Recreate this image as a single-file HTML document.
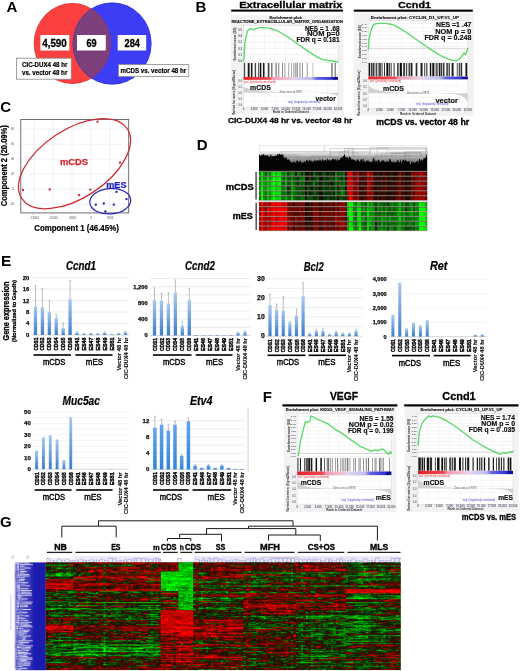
<!DOCTYPE html>
<html lang="en"><head><meta charset="utf-8"><title>Figure</title>
<style>html,body{margin:0;padding:0;background:#fff}svg{display:block}text{font-family:'Liberation Sans', sans-serif}</style></head>
<body>
<svg width="520" height="671" viewBox="0 0 520 671">
<rect width="520" height="671" fill="#fff"/>
<defs><linearGradient id="g11" x1="0" x2="1" y1="0" y2="0"><stop offset="0" stop-color="#e61e28"/><stop offset="0.27" stop-color="#f04a50"/><stop offset="0.31" stop-color="#f59ab4"/><stop offset="0.48" stop-color="#f3c0d6"/><stop offset="0.53" stop-color="#e4d6f0"/><stop offset="0.72" stop-color="#c0bcf0"/><stop offset="0.77" stop-color="#6868e6"/><stop offset="0.93" stop-color="#3232d6"/><stop offset="0.955" stop-color="#10109a"/><stop offset="1" stop-color="#10109a"/></linearGradient>
<linearGradient id="g12" x1="0" x2="1" y1="0" y2="0"><stop offset="0" stop-color="#e61e28"/><stop offset="0.27" stop-color="#f04a50"/><stop offset="0.31" stop-color="#f59ab4"/><stop offset="0.48" stop-color="#f3c0d6"/><stop offset="0.53" stop-color="#e4d6f0"/><stop offset="0.72" stop-color="#c0bcf0"/><stop offset="0.77" stop-color="#6868e6"/><stop offset="0.93" stop-color="#3232d6"/><stop offset="0.955" stop-color="#10109a"/><stop offset="1" stop-color="#10109a"/></linearGradient>
<linearGradient id="bar" x1="0" x2="0" y1="0" y2="1"><stop offset="0" stop-color="#a9c9ee"/><stop offset="1" stop-color="#3c7dcc"/></linearGradient>
<linearGradient id="bar2" x1="0" x2="0" y1="0" y2="1"><stop offset="0" stop-color="#62a5ea"/><stop offset="1" stop-color="#2f83dc"/></linearGradient>
<linearGradient id="dg" x1="0" x2="0" y1="0" y2="1"><stop offset="0" stop-color="#f4f4f4"/><stop offset="0.3" stop-color="#cfcfcf"/><stop offset="1" stop-color="#6a6a6a"/></linearGradient>
<linearGradient id="g21" x1="0" x2="1" y1="0" y2="0"><stop offset="0" stop-color="#e61e28"/><stop offset="0.27" stop-color="#f04a50"/><stop offset="0.31" stop-color="#f59ab4"/><stop offset="0.48" stop-color="#f3c0d6"/><stop offset="0.53" stop-color="#e4d6f0"/><stop offset="0.72" stop-color="#c0bcf0"/><stop offset="0.77" stop-color="#6868e6"/><stop offset="0.93" stop-color="#3232d6"/><stop offset="0.955" stop-color="#10109a"/><stop offset="1" stop-color="#10109a"/></linearGradient>
<linearGradient id="g22" x1="0" x2="1" y1="0" y2="0"><stop offset="0" stop-color="#e61e28"/><stop offset="0.27" stop-color="#f04a50"/><stop offset="0.31" stop-color="#f59ab4"/><stop offset="0.48" stop-color="#f3c0d6"/><stop offset="0.53" stop-color="#e4d6f0"/><stop offset="0.72" stop-color="#c0bcf0"/><stop offset="0.77" stop-color="#6868e6"/><stop offset="0.93" stop-color="#3232d6"/><stop offset="0.955" stop-color="#10109a"/><stop offset="1" stop-color="#10109a"/></linearGradient>
<linearGradient id="rb" x1="0" x2="1" y1="0" y2="0"><stop offset="0" stop-color="#2222b4" stop-opacity="0.55"/><stop offset="0.4" stop-color="#2020b2" stop-opacity="0.85"/><stop offset="0.62" stop-color="#1c1cb0"/><stop offset="1" stop-color="#1a1aae"/></linearGradient></defs>
<text x="6.5" y="12.3" font-size="15.01" font-weight="bold">A</text>
<ellipse cx="72.3" cy="43.5" rx="38.5" ry="40.4" fill="#fb4040"/>
<ellipse cx="112.1" cy="43.5" rx="39.4" ry="41.1" fill="#3d3df5"/>
<clipPath id="cA"><ellipse cx="72.3" cy="43.5" rx="38.5" ry="40.4"/></clipPath>
<ellipse cx="112.1" cy="43.5" rx="39.4" ry="41.1" fill="#7d407c" clip-path="url(#cA)"/>
<ellipse cx="72.3" cy="43.5" rx="38.2" ry="40.1" fill="none" stroke="#b03030" stroke-width="0.6" opacity="0.55"/>
<ellipse cx="112.1" cy="43.5" rx="39.1" ry="40.8" fill="none" stroke="#2a2ab0" stroke-width="0.6" opacity="0.55"/>
<rect x="40.4" y="35" width="28.9" height="15.5" fill="#fff"/>
<rect x="77" y="35" width="28.8" height="15.5" fill="#fff"/>
<rect x="117.7" y="35" width="28.5" height="15.5" fill="#fff"/>
<text x="54.5" y="46.9" font-size="10.35" font-weight="bold" text-anchor="middle" textLength="24.6" lengthAdjust="spacingAndGlyphs" stroke="#000" stroke-width="0.3">4,590</text>
<text x="91.5" y="46.9" font-size="10.35" font-weight="bold" text-anchor="middle" textLength="10.2" lengthAdjust="spacingAndGlyphs" stroke="#000" stroke-width="0.3">69</text>
<text x="132.3" y="46.9" font-size="10.35" font-weight="bold" text-anchor="middle" textLength="15.4" lengthAdjust="spacingAndGlyphs" stroke="#000" stroke-width="0.3">284</text>
<rect x="16.5" y="58.2" width="54.7" height="21" fill="#fff" stroke="#8a8a8a" stroke-width="0.8"/>
<text x="67.3" y="66.9" font-size="6.73" font-weight="bold" text-anchor="end" textLength="45.3" lengthAdjust="spacingAndGlyphs" stroke="#000" stroke-width="0.2">CIC-DUX4 48 hr</text>
<text x="67.3" y="75.4" font-size="6.73" font-weight="bold" text-anchor="end" textLength="45.3" lengthAdjust="spacingAndGlyphs" stroke="#000" stroke-width="0.2">vs. vector 48 hr</text>
<rect x="118.5" y="64.6" width="70.3" height="12" fill="#fff" stroke="#8a8a8a" stroke-width="0.8"/>
<text x="120.5" y="73" font-size="6.73" font-weight="bold" textLength="65.7" lengthAdjust="spacingAndGlyphs" stroke="#000" stroke-width="0.2">mCDS vs. vector 48 hr</text>
<text x="195.4" y="12.4" font-size="15.01" font-weight="bold">B</text>
<text x="239.2" y="8" font-size="9.94" font-weight="bold" textLength="103.2" lengthAdjust="spacingAndGlyphs" stroke="#000" stroke-width="0.3">Extracellular matrix</text>
<rect x="231.2" y="9.6" width="111.8" height="2" fill="#000"/>
<text x="398" y="8" font-size="9.94" font-weight="bold" textLength="33" lengthAdjust="spacingAndGlyphs" stroke="#000" stroke-width="0.3">Ccnd1</text>
<rect x="353.8" y="9.6" width="119" height="2.1" fill="#000"/>
<rect x="231" y="15.4" width="112.5" height="98.4" fill="#f2f2f2"/>
<rect x="243.5" y="25.4" width="94.5" height="37.1" fill="#fff" stroke="#cfcfcf" stroke-width="0.4"/>
<line x1="243.5" y1="30.04" x2="338" y2="30.04" stroke="#e6e6e6" stroke-width="0.4"/>
<text x="242.1" y="31.04" font-size="2.79" font-weight="bold" text-anchor="end" fill="#5a6070">0.5</text>
<line x1="243.5" y1="36.22" x2="338" y2="36.22" stroke="#e6e6e6" stroke-width="0.4"/>
<text x="242.1" y="37.22" font-size="2.79" font-weight="bold" text-anchor="end" fill="#5a6070">0.4</text>
<line x1="243.5" y1="42.4" x2="338" y2="42.4" stroke="#e6e6e6" stroke-width="0.4"/>
<text x="242.1" y="43.4" font-size="2.79" font-weight="bold" text-anchor="end" fill="#5a6070">0.3</text>
<line x1="243.5" y1="48.59" x2="338" y2="48.59" stroke="#e6e6e6" stroke-width="0.4"/>
<text x="242.1" y="49.59" font-size="2.79" font-weight="bold" text-anchor="end" fill="#5a6070">0.2</text>
<line x1="243.5" y1="54.77" x2="338" y2="54.77" stroke="#e6e6e6" stroke-width="0.4"/>
<text x="242.1" y="55.77" font-size="2.79" font-weight="bold" text-anchor="end" fill="#5a6070">0.1</text>
<line x1="243.5" y1="60.95" x2="338" y2="60.95" stroke="#e6e6e6" stroke-width="0.4"/>
<text x="242.1" y="61.95" font-size="2.79" font-weight="bold" text-anchor="end" fill="#5a6070">0.0</text>
<line x1="254" y1="25.4" x2="254" y2="62.5" stroke="#ececec" stroke-width="0.4"/>
<line x1="264.5" y1="25.4" x2="264.5" y2="62.5" stroke="#ececec" stroke-width="0.4"/>
<line x1="275" y1="25.4" x2="275" y2="62.5" stroke="#ececec" stroke-width="0.4"/>
<line x1="285.5" y1="25.4" x2="285.5" y2="62.5" stroke="#ececec" stroke-width="0.4"/>
<line x1="296" y1="25.4" x2="296" y2="62.5" stroke="#ececec" stroke-width="0.4"/>
<line x1="306.5" y1="25.4" x2="306.5" y2="62.5" stroke="#ececec" stroke-width="0.4"/>
<line x1="317" y1="25.4" x2="317" y2="62.5" stroke="#ececec" stroke-width="0.4"/>
<line x1="327.5" y1="25.4" x2="327.5" y2="62.5" stroke="#ececec" stroke-width="0.4"/>
<rect x="243.5" y="62.5" width="94.5" height="14.5" fill="#fff"/>
<path d="M243.8 63h1.41V77h-1.41zM254.67 63h1.44V77h-1.44zM267.72 63h1.72V77h-1.72z" stroke="none" stroke-width="0" fill="#484848"/>
<path d="M247.7 63h1.92V77h-1.92zM262.89 63h1.63V77h-1.63zM334.78 63h0.71V77h-0.71z" stroke="none" stroke-width="0" fill="#1a1a1a"/>
<path d="M250.88 63h1.62V77h-1.62zM331.54 63h0.85V77h-0.85z" stroke="none" stroke-width="0" fill="#1c1c1c"/>
<path d="M258.24 63h0.85V77h-0.85z" stroke="none" stroke-width="0" fill="#303030"/>
<path d="M259.79 63h1.54V77h-1.54z" stroke="none" stroke-width="0" fill="#101010"/>
<path d="M271.04 63h0.76V77h-0.76zM282.03 63h0.7V77h-0.7zM284.65 63h0.59V77h-0.59zM291.27 63h0.46V77h-0.46zM295.06 63h0.46V77h-0.46zM296.64 63h0.91V77h-0.91zM306.84 63h0.58V77h-0.58z" stroke="none" stroke-width="0" fill="#555"/>
<path d="M272.53 63h0.55V77h-0.55zM278.35 63h0.87V77h-0.87zM288.5 63h0.61V77h-0.61zM302.24 63h0.73V77h-0.73z" stroke="none" stroke-width="0" fill="#707070"/>
<path d="M275.65 63h0.84V77h-0.84z" stroke="none" stroke-width="0" fill="#3a3a3a"/>
<path d="M293.44 63h0.87V77h-0.87zM299.53 63h0.94V77h-0.94zM312.7 63h0.46V77h-0.46z" stroke="none" stroke-width="0" fill="#808080"/>
<rect x="243.5" y="77" width="94.5" height="3" fill="url(#g11)"/>
<rect x="243.5" y="80" width="94.5" height="27" fill="#fff" stroke="#cfcfcf" stroke-width="0.4"/>
<line x1="243.5" y1="85.4" x2="338" y2="85.4" stroke="#e9e9e9" stroke-width="0.4"/>
<line x1="243.5" y1="90.8" x2="338" y2="90.8" stroke="#e9e9e9" stroke-width="0.4"/>
<line x1="243.5" y1="96.2" x2="338" y2="96.2" stroke="#e9e9e9" stroke-width="0.4"/>
<line x1="243.5" y1="101.6" x2="338" y2="101.6" stroke="#e9e9e9" stroke-width="0.4"/>
<line x1="254" y1="80" x2="254" y2="107" stroke="#efefef" stroke-width="0.4"/>
<line x1="264.5" y1="80" x2="264.5" y2="107" stroke="#efefef" stroke-width="0.4"/>
<line x1="275" y1="80" x2="275" y2="107" stroke="#efefef" stroke-width="0.4"/>
<line x1="285.5" y1="80" x2="285.5" y2="107" stroke="#efefef" stroke-width="0.4"/>
<line x1="296" y1="80" x2="296" y2="107" stroke="#efefef" stroke-width="0.4"/>
<line x1="306.5" y1="80" x2="306.5" y2="107" stroke="#efefef" stroke-width="0.4"/>
<line x1="317" y1="80" x2="317" y2="107" stroke="#efefef" stroke-width="0.4"/>
<line x1="327.5" y1="80" x2="327.5" y2="107" stroke="#efefef" stroke-width="0.4"/>
<path d="M243.5 92.69 L243.5 86.84 L245.47 87.56 L247.44 88.19 L249.41 88.74 L251.38 89.22 L253.34 89.64 L255.31 90.01 L257.28 90.34 L259.25 90.62 L261.22 90.88 L263.19 91.1 L265.16 91.29 L267.12 91.46 L269.09 91.62 L271.06 91.75 L273.03 91.87 L275 91.98 L276.97 92.08 L278.94 92.16 L280.91 92.24 L282.88 92.31 L284.84 92.38 L286.81 92.44 L288.78 92.49 L290.75 92.54 L292.72 92.58 L294.69 92.62 L296.66 92.66 L298.62 92.7 L300.59 92.74 L302.56 92.77 L304.53 92.81 L306.5 92.84 L308.47 92.87 L310.44 92.9 L312.41 92.93 L314.38 92.97 L316.34 93 L318.31 93.04 L320.28 93.08 L322.25 93.13 L324.22 93.2 L326.19 93.29 L328.16 93.43 L330.12 93.62 L332.09 93.93 L334.06 94.39 L336.03 95.11 L338 96.23 L338 92.69Z" stroke="none" stroke-width="0" fill="#d2d2d2"/>
<text x="290.75" y="93.09" font-size="2.69" text-anchor="middle" fill="#555">Zero cross at 9876</text>
<text x="303.98" y="103.4" font-size="2.69" text-anchor="middle" fill="#4a4acc">'neg' (negatively correlated)</text>
<text x="259.56" y="82.6" font-size="2.69" text-anchor="middle" fill="#e03030">'pos' (positively correlated)</text>
<path d="M243.5 61.39 L243.97 58.79 L244.92 42.47 L247.28 31.34 L250.3 28.55 L252.95 29.48 L255.31 28.92 L259.56 27.63 L264.29 27.63 L269.01 28.18 L273.74 29.48 L279.03 31.71 L288.86 37.49 L298.31 44.51 L308.33 51.37 L318.15 57.68 L322.88 59.72 L325.72 59.9 L328.55 60.83 L331.38 60.64 L335.16 61.76 L338 61.94" stroke="#5ad868" stroke-width="1.35" fill="none" stroke-linejoin="round" stroke-linecap="round"/>
<text x="235.9" y="43.95" font-size="3.1" font-weight="bold" text-anchor="middle" fill="#2a2a2a" transform="rotate(-90 235.9 43.95)">Enrichment score (ES)</text>
<text x="235.3" y="92.5" font-size="2.85" font-weight="bold" text-anchor="middle" fill="#2a2a2a" transform="rotate(-90 235.3 92.5)">Ranked list metric (Signal2Noise)</text>
<text x="242.1" y="82.22" font-size="2.79" font-weight="bold" text-anchor="end" fill="#7a8090">0.4</text>
<text x="242.1" y="88.17" font-size="2.79" font-weight="bold" text-anchor="end" fill="#7a8090">0.2</text>
<text x="242.1" y="94.12" font-size="2.79" font-weight="bold" text-anchor="end" fill="#7a8090">0.0</text>
<text x="242.1" y="100.08" font-size="2.79" font-weight="bold" text-anchor="end" fill="#7a8090">0.2</text>
<text x="242.1" y="106.03" font-size="2.79" font-weight="bold" text-anchor="end" fill="#7a8090">0.4</text>
<text x="243.5" y="109.9" font-size="2.79" font-weight="bold" text-anchor="middle" fill="#5a6070">0</text>
<text x="254" y="109.9" font-size="2.79" font-weight="bold" text-anchor="middle" fill="#5a6070">2,500</text>
<text x="264.5" y="109.9" font-size="2.79" font-weight="bold" text-anchor="middle" fill="#5a6070">5,000</text>
<text x="275" y="109.9" font-size="2.79" font-weight="bold" text-anchor="middle" fill="#5a6070">7,500</text>
<text x="285.5" y="109.9" font-size="2.79" font-weight="bold" text-anchor="middle" fill="#5a6070">10,000</text>
<text x="296" y="109.9" font-size="2.79" font-weight="bold" text-anchor="middle" fill="#5a6070">12,500</text>
<text x="306.5" y="109.9" font-size="2.79" font-weight="bold" text-anchor="middle" fill="#5a6070">15,000</text>
<text x="317" y="109.9" font-size="2.79" font-weight="bold" text-anchor="middle" fill="#5a6070">17,500</text>
<text x="327.5" y="109.9" font-size="2.79" font-weight="bold" text-anchor="middle" fill="#5a6070">20,000</text>
<text x="338" y="109.9" font-size="2.79" font-weight="bold" text-anchor="middle" fill="#5a6070">22,500</text>
<text x="290.75" y="113" font-size="3.1" font-weight="bold" text-anchor="middle" fill="#333">Rank in Ordered Dataset</text>
<text x="286" y="19" font-size="3.83" font-weight="bold" text-anchor="middle" fill="#111" textLength="33" lengthAdjust="spacingAndGlyphs" stroke="#111" stroke-width="0.12">Enrichment plot:</text>
<text x="287.2" y="23.3" font-size="3.83" font-weight="bold" text-anchor="middle" fill="#111" textLength="111.5" lengthAdjust="spacingAndGlyphs" stroke="#111" stroke-width="0.12">REACTOME_EXTRACELLULAR_MATRIX_ORGANIZATION</text>
<text x="339.6" y="30.5" font-size="7.35" font-weight="bold" text-anchor="end" fill="#0a0a0a" textLength="34.7" lengthAdjust="spacingAndGlyphs" stroke="#0a0a0a" stroke-width="0.15">NES = 1 .68</text>
<text x="339.6" y="36" font-size="7.35" font-weight="bold" text-anchor="end" fill="#0a0a0a" textLength="32.7" lengthAdjust="spacingAndGlyphs" stroke="#0a0a0a" stroke-width="0.15">NOM p=0</text>
<text x="339.6" y="41.5" font-size="7.35" font-weight="bold" text-anchor="end" fill="#0a0a0a" textLength="43.1" lengthAdjust="spacingAndGlyphs" stroke="#0a0a0a" stroke-width="0.15">FDR q = 0.181</text>
<text x="250" y="90" font-size="7.24" font-weight="bold" fill="#0a0a0a" textLength="20.8" lengthAdjust="spacingAndGlyphs" stroke="#0a0a0a" stroke-width="0.15">mCDS</text>
<text x="315.4" y="100.8" font-size="7.24" font-weight="bold" fill="#0a0a0a" textLength="20.4" lengthAdjust="spacingAndGlyphs" stroke="#0a0a0a" stroke-width="0.15">vector</text>
<rect x="353.8" y="12.5" width="120" height="103" fill="#f2f2f2"/>
<rect x="368.3" y="20.8" width="99.6" height="41.7" fill="#fff" stroke="#cfcfcf" stroke-width="0.4"/>
<line x1="368.3" y1="23.64" x2="467.9" y2="23.64" stroke="#e6e6e6" stroke-width="0.4"/>
<text x="366.9" y="24.64" font-size="2.48" font-weight="bold" text-anchor="end" fill="#5a6070">0.40</text>
<line x1="368.3" y1="27.43" x2="467.9" y2="27.43" stroke="#e6e6e6" stroke-width="0.4"/>
<text x="366.9" y="28.43" font-size="2.48" font-weight="bold" text-anchor="end" fill="#5a6070">0.35</text>
<line x1="368.3" y1="31.23" x2="467.9" y2="31.23" stroke="#e6e6e6" stroke-width="0.4"/>
<text x="366.9" y="32.23" font-size="2.48" font-weight="bold" text-anchor="end" fill="#5a6070">0.30</text>
<line x1="368.3" y1="35.02" x2="467.9" y2="35.02" stroke="#e6e6e6" stroke-width="0.4"/>
<text x="366.9" y="36.02" font-size="2.48" font-weight="bold" text-anchor="end" fill="#5a6070">0.25</text>
<line x1="368.3" y1="38.81" x2="467.9" y2="38.81" stroke="#e6e6e6" stroke-width="0.4"/>
<text x="366.9" y="39.81" font-size="2.48" font-weight="bold" text-anchor="end" fill="#5a6070">0.20</text>
<line x1="368.3" y1="42.6" x2="467.9" y2="42.6" stroke="#e6e6e6" stroke-width="0.4"/>
<text x="366.9" y="43.6" font-size="2.48" font-weight="bold" text-anchor="end" fill="#5a6070">0.15</text>
<line x1="368.3" y1="46.39" x2="467.9" y2="46.39" stroke="#e6e6e6" stroke-width="0.4"/>
<text x="366.9" y="47.39" font-size="2.48" font-weight="bold" text-anchor="end" fill="#5a6070">0.10</text>
<line x1="368.3" y1="50.18" x2="467.9" y2="50.18" stroke="#e6e6e6" stroke-width="0.4"/>
<text x="366.9" y="51.18" font-size="2.48" font-weight="bold" text-anchor="end" fill="#5a6070">0.05</text>
<line x1="368.3" y1="53.97" x2="467.9" y2="53.97" stroke="#e6e6e6" stroke-width="0.4"/>
<text x="366.9" y="54.97" font-size="2.48" font-weight="bold" text-anchor="end" fill="#5a6070">0.00</text>
<line x1="368.3" y1="57.76" x2="467.9" y2="57.76" stroke="#e6e6e6" stroke-width="0.4"/>
<text x="366.9" y="58.76" font-size="2.48" font-weight="bold" text-anchor="end" fill="#5a6070">0.05</text>
<line x1="368.3" y1="61.55" x2="467.9" y2="61.55" stroke="#e6e6e6" stroke-width="0.4"/>
<text x="366.9" y="62.55" font-size="2.48" font-weight="bold" text-anchor="end" fill="#5a6070">0.10</text>
<line x1="379.37" y1="20.8" x2="379.37" y2="62.5" stroke="#ececec" stroke-width="0.4"/>
<line x1="390.43" y1="20.8" x2="390.43" y2="62.5" stroke="#ececec" stroke-width="0.4"/>
<line x1="401.5" y1="20.8" x2="401.5" y2="62.5" stroke="#ececec" stroke-width="0.4"/>
<line x1="412.57" y1="20.8" x2="412.57" y2="62.5" stroke="#ececec" stroke-width="0.4"/>
<line x1="423.63" y1="20.8" x2="423.63" y2="62.5" stroke="#ececec" stroke-width="0.4"/>
<line x1="434.7" y1="20.8" x2="434.7" y2="62.5" stroke="#ececec" stroke-width="0.4"/>
<line x1="445.77" y1="20.8" x2="445.77" y2="62.5" stroke="#ececec" stroke-width="0.4"/>
<line x1="456.83" y1="20.8" x2="456.83" y2="62.5" stroke="#ececec" stroke-width="0.4"/>
<line x1="368.3" y1="48.4" x2="467.9" y2="48.4" stroke="#b4b4b4" stroke-width="0.5"/>
<rect x="368.3" y="62.5" width="99.6" height="14.1" fill="#fff"/>
<path d="M368.6 63h1.61V76.6h-1.61zM384.08 63h0.84V76.6h-0.84zM388.95 63h0.82V76.6h-0.82zM443.17 63h1.22V76.6h-1.22zM458.78 63h0.99V76.6h-0.99z" stroke="none" stroke-width="0" fill="#101010"/>
<path d="M371.16 63h1.37V76.6h-1.37zM390.69 63h0.88V76.6h-0.88zM393.66 63h0.92V76.6h-0.92zM420.56 63h2.01V76.6h-2.01zM435.68 63h1.04V76.6h-1.04zM441.15 63h1.11V76.6h-1.11zM448.62 63h1.13V76.6h-1.13z" stroke="none" stroke-width="0" fill="#1a1a1a"/>
<path d="M373.09 63h1.42V76.6h-1.42zM415.66 63h1.7V76.6h-1.7zM446.34 63h1.48V76.6h-1.48zM460.58 63h1.62V76.6h-1.62z" stroke="none" stroke-width="0" fill="#303030"/>
<path d="M375.6 63h1.59V76.6h-1.59zM377.87 63h0.7V76.6h-0.7zM381.53 63h1.1V76.6h-1.1zM397 63h1.74V76.6h-1.74zM405.89 63h1.33V76.6h-1.33zM408.46 63h1.62V76.6h-1.62zM426.2 63h1.26V76.6h-1.26zM437.31 63h1.01V76.6h-1.01zM456.78 63h0.95V76.6h-0.95z" stroke="none" stroke-width="0" fill="#484848"/>
<path d="M379.21 63h1.55V76.6h-1.55zM410.66 63h1.8V76.6h-1.8zM424.33 63h0.87V76.6h-0.87zM438.98 63h1.53V76.6h-1.53zM451.59 63h1.99V76.6h-1.99zM465.4 63h1.91V76.6h-1.91z" stroke="none" stroke-width="0" fill="#1c1c1c"/>
<path d="M386.38 63h2.01V76.6h-2.01zM399.72 63h2.17V76.6h-2.17zM403.32 63h1.46V76.6h-1.46zM429.81 63h1.45V76.6h-1.45zM432.33 63h2V76.6h-2z" stroke="none" stroke-width="0" fill="#0c0c0c"/>
<rect x="368.3" y="76.6" width="99.6" height="3.1" fill="url(#g12)"/>
<rect x="368.3" y="79.7" width="99.6" height="28.8" fill="#fff" stroke="#cfcfcf" stroke-width="0.4"/>
<line x1="368.3" y1="85.46" x2="467.9" y2="85.46" stroke="#e9e9e9" stroke-width="0.4"/>
<line x1="368.3" y1="91.22" x2="467.9" y2="91.22" stroke="#e9e9e9" stroke-width="0.4"/>
<line x1="368.3" y1="96.98" x2="467.9" y2="96.98" stroke="#e9e9e9" stroke-width="0.4"/>
<line x1="368.3" y1="102.74" x2="467.9" y2="102.74" stroke="#e9e9e9" stroke-width="0.4"/>
<line x1="379.37" y1="79.7" x2="379.37" y2="108.5" stroke="#efefef" stroke-width="0.4"/>
<line x1="390.43" y1="79.7" x2="390.43" y2="108.5" stroke="#efefef" stroke-width="0.4"/>
<line x1="401.5" y1="79.7" x2="401.5" y2="108.5" stroke="#efefef" stroke-width="0.4"/>
<line x1="412.57" y1="79.7" x2="412.57" y2="108.5" stroke="#efefef" stroke-width="0.4"/>
<line x1="423.63" y1="79.7" x2="423.63" y2="108.5" stroke="#efefef" stroke-width="0.4"/>
<line x1="434.7" y1="79.7" x2="434.7" y2="108.5" stroke="#efefef" stroke-width="0.4"/>
<line x1="445.77" y1="79.7" x2="445.77" y2="108.5" stroke="#efefef" stroke-width="0.4"/>
<line x1="456.83" y1="79.7" x2="456.83" y2="108.5" stroke="#efefef" stroke-width="0.4"/>
<path d="M368.3 93.24 L368.3 85.45 L370.38 86.91 L372.45 88.07 L374.53 88.99 L376.6 89.73 L378.68 90.33 L380.75 90.81 L382.82 91.2 L384.9 91.52 L386.98 91.78 L389.05 91.99 L391.12 92.18 L393.2 92.33 L395.28 92.46 L397.35 92.57 L399.43 92.67 L401.5 92.75 L403.57 92.83 L405.65 92.89 L407.73 92.96 L409.8 93.01 L411.88 93.06 L413.95 93.11 L416.03 93.15 L418.1 93.2 L420.18 93.23 L422.25 93.28 L424.32 93.32 L426.4 93.35 L428.48 93.39 L430.55 93.43 L432.62 93.46 L434.7 93.5 L436.77 93.53 L438.85 93.57 L440.93 93.61 L443 93.65 L445.08 93.7 L447.15 93.76 L449.23 93.84 L451.3 93.94 L453.38 94.09 L455.45 94.31 L457.52 94.63 L459.6 95.13 L461.68 95.9 L463.75 97.1 L465.82 98.99 L467.9 101.95 L467.9 93.24Z" stroke="none" stroke-width="0" fill="#d2d2d2"/>
<text x="418.1" y="93.64" font-size="2.69" text-anchor="middle" fill="#555">Zero cross at 9876</text>
<text x="432.04" y="104.9" font-size="2.69" text-anchor="middle" fill="#4a4acc">'neg' (negatively correlated)</text>
<text x="385.23" y="82.3" font-size="2.69" text-anchor="middle" fill="#e03030">'pos' (positively correlated)</text>
<path d="M368.3 49.57 L368.7 43.73 L369.1 38.73 L370.89 30.81 L373.08 25.39 L375.27 23.93 L378.26 23.3 L385.53 23.39 L390.21 24.14 L394.79 25.39 L403.96 30.81 L414.81 38.48 L424.08 44.78 L430.25 49.16 L441.11 55.99 L447.98 58.96 L452.96 60.33 L456.35 60.62 L459.43 59.16 L461.92 55.99 L463.42 54.16 L464.21 52.99 L465.41 54.58 L466.41 52.49 L467.9 48.49" stroke="#5ad868" stroke-width="1.35" fill="none" stroke-linejoin="round" stroke-linecap="round"/>
<text x="360.7" y="41.65" font-size="3.1" font-weight="bold" text-anchor="middle" fill="#2a2a2a" transform="rotate(-90 360.7 41.65)">Enrichment score (ES)</text>
<text x="360.1" y="93.1" font-size="2.85" font-weight="bold" text-anchor="middle" fill="#2a2a2a" transform="rotate(-90 360.1 93.1)">Ranked list metric (Signal2Noise)</text>
<text x="366.9" y="82" font-size="2.79" font-weight="bold" text-anchor="end" fill="#7a8090">0.4</text>
<text x="366.9" y="88.35" font-size="2.79" font-weight="bold" text-anchor="end" fill="#7a8090">0.2</text>
<text x="366.9" y="94.7" font-size="2.79" font-weight="bold" text-anchor="end" fill="#7a8090">0.0</text>
<text x="366.9" y="101.05" font-size="2.79" font-weight="bold" text-anchor="end" fill="#7a8090">0.2</text>
<text x="366.9" y="107.4" font-size="2.79" font-weight="bold" text-anchor="end" fill="#7a8090">0.4</text>
<text x="368.3" y="111.4" font-size="2.79" font-weight="bold" text-anchor="middle" fill="#5a6070">0</text>
<text x="379.37" y="111.4" font-size="2.79" font-weight="bold" text-anchor="middle" fill="#5a6070">2,500</text>
<text x="390.43" y="111.4" font-size="2.79" font-weight="bold" text-anchor="middle" fill="#5a6070">5,000</text>
<text x="401.5" y="111.4" font-size="2.79" font-weight="bold" text-anchor="middle" fill="#5a6070">7,500</text>
<text x="412.57" y="111.4" font-size="2.79" font-weight="bold" text-anchor="middle" fill="#5a6070">10,000</text>
<text x="423.63" y="111.4" font-size="2.79" font-weight="bold" text-anchor="middle" fill="#5a6070">12,500</text>
<text x="434.7" y="111.4" font-size="2.79" font-weight="bold" text-anchor="middle" fill="#5a6070">15,000</text>
<text x="445.77" y="111.4" font-size="2.79" font-weight="bold" text-anchor="middle" fill="#5a6070">17,500</text>
<text x="456.83" y="111.4" font-size="2.79" font-weight="bold" text-anchor="middle" fill="#5a6070">20,000</text>
<text x="467.9" y="111.4" font-size="2.79" font-weight="bold" text-anchor="middle" fill="#5a6070">22,500</text>
<text x="418.1" y="114.5" font-size="3.1" font-weight="bold" text-anchor="middle" fill="#333">Rank in Ordered Dataset</text>
<text x="415" y="19.2" font-size="4.24" font-weight="bold" text-anchor="middle" fill="#111" textLength="88.4" lengthAdjust="spacingAndGlyphs" stroke="#111" stroke-width="0.12">Enrichment plot: CYCLIN_D1_UP.V1_UP</text>
<text x="471.4" y="26.9" font-size="7.35" font-weight="bold" text-anchor="end" fill="#0a0a0a" textLength="35.4" lengthAdjust="spacingAndGlyphs" stroke="#0a0a0a" stroke-width="0.15">NES =1 .47</text>
<text x="471.4" y="33.6" font-size="7.35" font-weight="bold" text-anchor="end" fill="#0a0a0a" textLength="36.1" lengthAdjust="spacingAndGlyphs" stroke="#0a0a0a" stroke-width="0.15">NOM p = 0</text>
<text x="471.4" y="40.3" font-size="7.35" font-weight="bold" text-anchor="end" fill="#0a0a0a" textLength="46.9" lengthAdjust="spacingAndGlyphs" stroke="#0a0a0a" stroke-width="0.15">FDR q = 0.248</text>
<text x="383" y="90.8" font-size="7.24" font-weight="bold" fill="#0a0a0a" textLength="20.8" lengthAdjust="spacingAndGlyphs" stroke="#0a0a0a" stroke-width="0.15">mCDS</text>
<text x="435.4" y="103" font-size="7.24" font-weight="bold" fill="#0a0a0a" textLength="22.6" lengthAdjust="spacingAndGlyphs" stroke="#0a0a0a" stroke-width="0.15">vector</text>
<text x="228" y="123" font-size="7.97" font-weight="bold" textLength="124.3" lengthAdjust="spacingAndGlyphs" stroke="#000" stroke-width="0.3">CIC-DUX4 48 hr vs. vector 48 hr</text>
<text x="376.2" y="125" font-size="8.18" font-weight="bold" textLength="93" lengthAdjust="spacingAndGlyphs" stroke="#000" stroke-width="0.3">mCDS vs. vector 48 hr</text>
<text x="0.3" y="112.2" font-size="15.01" font-weight="bold">C</text>
<rect x="20.8" y="119.5" width="107.9" height="93.4" fill="#fff" stroke="#606060" stroke-width="0.9"/>
<line x1="34.2" y1="120" x2="34.2" y2="212.5" stroke="#e4e4f0" stroke-width="0.5"/>
<line x1="33.2" y1="213" x2="33.2" y2="214.6" stroke="#888" stroke-width="0.4"/>
<line x1="53.1" y1="120" x2="53.1" y2="212.5" stroke="#e4e4f0" stroke-width="0.5"/>
<line x1="52.1" y1="213" x2="52.1" y2="214.6" stroke="#888" stroke-width="0.4"/>
<line x1="72" y1="120" x2="72" y2="212.5" stroke="#e4e4f0" stroke-width="0.5"/>
<line x1="71" y1="213" x2="71" y2="214.6" stroke="#888" stroke-width="0.4"/>
<line x1="90.9" y1="120" x2="90.9" y2="212.5" stroke="#e4e4f0" stroke-width="0.5"/>
<line x1="89.9" y1="213" x2="89.9" y2="214.6" stroke="#888" stroke-width="0.4"/>
<line x1="109.8" y1="120" x2="109.8" y2="212.5" stroke="#e4e4f0" stroke-width="0.5"/>
<line x1="108.8" y1="213" x2="108.8" y2="214.6" stroke="#888" stroke-width="0.4"/>
<line x1="21.3" y1="129.2" x2="128.2" y2="129.2" stroke="#e4e4f0" stroke-width="0.5"/>
<line x1="19.3" y1="129.2" x2="20.8" y2="129.2" stroke="#888" stroke-width="0.4"/>
<line x1="21.3" y1="144.2" x2="128.2" y2="144.2" stroke="#e4e4f0" stroke-width="0.5"/>
<line x1="19.3" y1="144.2" x2="20.8" y2="144.2" stroke="#888" stroke-width="0.4"/>
<line x1="21.3" y1="159.2" x2="128.2" y2="159.2" stroke="#e4e4f0" stroke-width="0.5"/>
<line x1="19.3" y1="159.2" x2="20.8" y2="159.2" stroke="#888" stroke-width="0.4"/>
<line x1="21.3" y1="174.2" x2="128.2" y2="174.2" stroke="#e4e4f0" stroke-width="0.5"/>
<line x1="19.3" y1="174.2" x2="20.8" y2="174.2" stroke="#888" stroke-width="0.4"/>
<line x1="21.3" y1="189.2" x2="128.2" y2="189.2" stroke="#e4e4f0" stroke-width="0.5"/>
<line x1="19.3" y1="189.2" x2="20.8" y2="189.2" stroke="#888" stroke-width="0.4"/>
<line x1="21.3" y1="204.2" x2="128.2" y2="204.2" stroke="#e4e4f0" stroke-width="0.5"/>
<line x1="19.3" y1="204.2" x2="20.8" y2="204.2" stroke="#888" stroke-width="0.4"/>
<ellipse cx="74.5" cy="163.7" rx="63.2" ry="34.1" fill="none" stroke="#cf2a32" stroke-width="1.25" transform="rotate(-33.55 74.5 163.7)"/>
<ellipse cx="110.25" cy="201.2" rx="20.5" ry="12.7" fill="none" stroke="#2626b8" stroke-width="1.2" transform="rotate(-4 110.25 201.2)"/>
<circle cx="97.5" cy="121.7" r="1.15" fill="#c8242c"/>
<circle cx="120" cy="162.7" r="1.15" fill="#c8242c"/>
<circle cx="23" cy="190" r="1.15" fill="#c8242c"/>
<circle cx="49.7" cy="189.5" r="1.15" fill="#c8242c"/>
<circle cx="79" cy="195.2" r="1.15" fill="#c8242c"/>
<circle cx="90.3" cy="189.6" r="1.15" fill="#c8242c"/>
<circle cx="116.5" cy="191.9" r="1.15" fill="#1c1c9c"/>
<circle cx="126.5" cy="199.2" r="1.15" fill="#1c1c9c"/>
<circle cx="95.8" cy="204.7" r="1.15" fill="#1c1c9c"/>
<circle cx="103.8" cy="203.5" r="1.15" fill="#1c1c9c"/>
<circle cx="113.8" cy="204.7" r="1.15" fill="#1c1c9c"/>
<circle cx="105.4" cy="211.5" r="1.15" fill="#1c1c9c"/>
<text x="60" y="164.9" font-size="9.73" font-weight="bold" fill="#cf2228" textLength="27.9" lengthAdjust="spacingAndGlyphs" stroke="#cf2228" stroke-width="0.25">mCDS</text>
<text x="106.2" y="187.5" font-size="9.73" font-weight="bold" fill="#2222c4" textLength="20.4" lengthAdjust="spacingAndGlyphs" stroke="#2222c4" stroke-width="0.25">mES</text>
<text x="34.2" y="231" font-size="8.49" font-weight="bold" textLength="84.6" lengthAdjust="spacingAndGlyphs" stroke="#000" stroke-width="0.2">Component 1 (46.45%)</text>
<text x="7.1" y="206.2" font-size="8.28" font-weight="bold" textLength="81" lengthAdjust="spacingAndGlyphs" transform="rotate(-90 7.1 206.2)" stroke="#000" stroke-width="0.2">Component 2 (20.09%)</text>
<text x="34.6" y="218.6" font-size="2.9" font-weight="bold" text-anchor="middle" fill="#889">-15000</text>
<text x="53.5" y="218.6" font-size="2.9" font-weight="bold" text-anchor="middle" fill="#889">-10000</text>
<text x="72.4" y="218.6" font-size="2.9" font-weight="bold" text-anchor="middle" fill="#889">-5000</text>
<text x="91.3" y="218.6" font-size="2.9" font-weight="bold" text-anchor="middle" fill="#889">0</text>
<text x="110.2" y="218.6" font-size="2.9" font-weight="bold" text-anchor="middle" fill="#889">5000</text>
<text x="14.2" y="130.2" font-size="2.9" font-weight="bold" text-anchor="end" fill="#889">80</text>
<text x="14.2" y="145.2" font-size="2.9" font-weight="bold" text-anchor="end" fill="#889">60</text>
<text x="14.2" y="160.2" font-size="2.9" font-weight="bold" text-anchor="end" fill="#889">40</text>
<text x="14.2" y="175.2" font-size="2.9" font-weight="bold" text-anchor="end" fill="#889">20</text>
<text x="14.2" y="190.2" font-size="2.9" font-weight="bold" text-anchor="end" fill="#889">0</text>
<text x="14.2" y="205.2" font-size="2.9" font-weight="bold" text-anchor="end" fill="#889">-20</text>
<text x="196.7" y="150" font-size="15.01" font-weight="bold">D</text>
<rect x="259.3" y="145.4" width="167.6" height="6" fill="#fff" stroke="#d4d4d4" stroke-width="0.5"/>
<rect x="259.5" y="151" width="167.2" height="12" fill="url(#dg)"/>
<path d="M351.31 164.08V156.37H411.24V163.07M395.69 161.16V153.44H405.72V159.69M392.51 157.71V153.48H408.44V159.19M344.06 155.17V150.77H352.98V158.35M372.48 160.08V156.39H391.65V162.47M277.78 161.04V156.99H285.9V161.07M404.59 159.42V151.62H426.2V157.31M359.45 163.99V157.54H381.79V165.37M391.45 156.22V152.39H420.37V156.12M268.65 157.74V154.72H297.75V161.11M309.08 161.96V156.56H338.77V161.14M330.32 156.36V148.48H387.64V151.6M370.12 154.6V147.66H426.2V152.49M344.74 152.19V148.29H353.37V156.06M288.12 165.16V157.45H349.03V162.17M311.58 159.75V156.21H356.31V162.95M377.15 155.82V148.09H426.2V151.54M309.5 162.06V157.36H360.26V164.98M339.79 155.81V151.92H369.66V155.31M281.06 161.78V157.97H337.3V161.22M405.23 157.04V152.85H426.2V158.82M381.46 156.29V153.01H421.35V160.59M263.85 160.38V156.72H306.4V163.38M399.76 159.84V156.31H426.2V161.48M281.12 156.94V151.68H348.25V159.67M385.3 158.77V153.32H426.2V159.97M329.99 156.56V152.83H358.37V157.72M405.48 160.43V154.93H426.2V159.63M272.21 163.6V156.26H299.27V161.07M375.49 161.84V155.52H426.2V162.32" stroke="#8a8a8a" stroke-width="0.35" fill="none"/>
<path d="M325 152V146.8H324V152" stroke="#c4c4c4" stroke-width="0.5" fill="none"/>
<path d="M348 153V149.3H426.2V152" stroke="#aaa" stroke-width="0.5" fill="none"/>
<path d="M259 171.2 L259 154.84 L259.8 154.55 L260.6 156.22 L261.4 154.6 L262.2 155.81 L263 153.64 L263.8 154.45 L264.6 155.17 L265.4 155.8 L266.2 154.78 L267 156.11 L267.8 154.79 L268.6 156.56 L269.4 156.92 L270.2 155.36 L271 154.16 L271.8 156.79 L272.6 155.95 L273.4 156.08 L274.2 156.25 L275 155.86 L275.8 155.72 L276.6 155.77 L277.4 153.69 L278.2 155.1 L279 154.34 L279.8 153.54 L280.6 155.2 L281.4 154.14 L282.2 155.57 L283 153.48 L283.8 157.14 L284.6 158.18 L285.4 157.44 L286.2 157.17 L287 158.65 L287.8 160.29 L288.6 158.97 L289.4 159.78 L290.2 161.75 L291 161.87 L291.8 162.67 L292.6 162.64 L293.4 161.12 L294.2 161.88 L295 163.09 L295.8 161.89 L296.6 160.64 L297.4 160.15 L298.2 161.86 L299 161.88 L299.8 161 L300.6 160.46 L301.4 162.97 L302.2 162.91 L303 161.63 L303.8 162.91 L304.6 160.96 L305.4 162.86 L306.2 160.45 L307 159.86 L307.8 160.91 L308.6 162.03 L309.4 159.38 L310.2 160.22 L311 161.91 L311.8 160.12 L312.6 162.53 L313.4 161.2 L314.2 161.28 L315 159.37 L315.8 161.59 L316.6 160.77 L317.4 159.93 L318.2 160.45 L319 161.36 L319.8 158.91 L320.6 160.3 L321.4 161.72 L322.2 158.71 L323 160.08 L323.8 160.99 L324.6 160.18 L325.4 159.81 L326.2 161.36 L327 159.43 L327.8 158.61 L328.6 160.71 L329.4 159.29 L330.2 161.38 L331 159.87 L331.8 159.91 L332.6 158.71 L333.4 158.72 L334.2 158.91 L335 160.79 L335.8 158.16 L336.6 161.38 L337.4 158.22 L338.2 160.8 L339 159.81 L339.8 159.72 L340.6 157.98 L341.4 157.18 L342.2 157.77 L343 155.96 L343.8 156.11 L344.6 153.48 L345.4 157.08 L346.2 157.96 L347 156.74 L347.8 157.62 L348.6 159.07 L349.4 156.37 L350.2 157 L351 158.52 L351.8 159.79 L352.6 159.11 L353.4 159.4 L354.2 160.53 L355 159.59 L355.8 161.31 L356.6 161.25 L357.4 159.14 L358.2 159.18 L359 160.92 L359.8 161.9 L360.6 160.05 L361.4 159.08 L362.2 159.19 L363 162.28 L363.8 157.63 L364.6 162.42 L365.4 161.93 L366.2 161.3 L367 160.02 L367.8 161.34 L368.6 160.6 L369.4 162.16 L370.2 162.11 L371 162.31 L371.8 161.47 L372.6 162.01 L373.4 157.67 L374.2 158.07 L375 162.65 L375.8 160.05 L376.6 161.31 L377.4 161.86 L378.2 159.18 L379 160.36 L379.8 161.15 L380.6 162.91 L381.4 160.83 L382.2 160.55 L383 160.84 L383.8 160.19 L384.6 161.38 L385.4 162.5 L386.2 161.8 L387 160.64 L387.8 161.26 L388.6 162.79 L389.4 158.82 L390.2 158.96 L391 161.77 L391.8 161.67 L392.6 162.05 L393.4 162.98 L394.2 161.07 L395 162.82 L395.8 162.76 L396.6 161.7 L397.4 160.81 L398.2 159.81 L399 162.5 L399.8 162.41 L400.6 158.78 L401.4 163.73 L402.2 161.66 L403 159.32 L403.8 159.85 L404.6 161.57 L405.4 159.54 L406.2 160.83 L407 161.31 L407.8 162.06 L408.6 160.98 L409.4 161.05 L410.2 163.8 L411 163.57 L411.8 160.71 L412.6 162.29 L413.4 161.9 L414.2 163.07 L415 161.63 L415.8 163.37 L416.6 160.93 L417.4 160.81 L418.2 163.27 L419 158.7 L419.8 159.06 L420.6 161.86 L421.4 159 L422.2 160.52 L423 160.38 L423.8 157.62 L424.6 158.51 L425.4 157.89 L426.2 156.41 L427 153.77 L427.2 149.5 L427.2 171.2Z" stroke="none" stroke-width="0" fill="#040404"/>
<rect x="259" y="171" width="168.2" height="59.8" fill="#160404"/>
<path d="M274 171.8v4.27M274 176.67v4.27M280 176.67v4.27M274 181.54v4.27M280 181.54v4.27M262 186.41v4.27M274 186.41v4.27M262 191.28v4.27M274 191.28v4.27M262 196.15v4.27M274 196.15v4.27M350 202.3v4.25M352 202.3v4.25M420 202.3v4.25M350 207.15v4.25M420 207.15v4.25M422 207.15v4.25M424 207.15v4.25M350 212v4.25M420 212v4.25M422 212v4.25M350 216.85v4.25M352 216.85v4.25M420 216.85v4.25M424 216.85v4.25M420 221.7v4.25M422 221.7v4.25M424 221.7v4.25M350 226.55v4.25M352 226.55v4.25M360 226.55v4.25M420 226.55v4.25M422 226.55v4.25" stroke="#00ff00" stroke-width="2.05" fill="none"/>
<path d="M262 171.8v4.27M278 171.8v4.27M280 171.8v4.27M262 176.67v4.27M268 176.67v4.27M278 176.67v4.27M262 181.54v4.27M272 181.54v4.27M278 181.54v4.27M268 186.41v4.27M272 186.41v4.27M278 186.41v4.27M280 186.41v4.27M278 191.28v4.27M280 191.28v4.27M280 196.15v4.27M348 202.3v4.25M422 202.3v4.25M424 202.3v4.25M352 207.15v4.25M358 207.15v4.25M360 207.15v4.25M348 212v4.25M352 212v4.25M358 212v4.25M360 212v4.25M368 212v4.25M424 212v4.25M426 212v4.25M358 216.85v4.25M360 216.85v4.25M400 216.85v4.25M422 216.85v4.25M350 221.7v4.25M360 221.7v4.25M368 221.7v4.25M368 226.55v4.25M424 226.55v4.25M426 226.55v4.25" stroke="#01e101" stroke-width="2.05" fill="none"/>
<path d="M272 171.8v4.27M272 176.67v4.27M276 176.67v4.27M268 181.54v4.27M276 181.54v4.27M286 181.54v4.27M276 186.41v4.27M268 191.28v4.27M272 191.28v4.27M276 191.28v4.27M268 196.15v4.27M272 196.15v4.27M276 196.15v4.27M278 196.15v4.27M292 196.15v4.27M358 202.3v4.25M360 202.3v4.25M368 202.3v4.25M400 202.3v4.25M348 207.15v4.25M368 207.15v4.25M400 207.15v4.25M426 207.15v4.25M368 216.85v4.25M426 216.85v4.25M352 221.7v4.25M358 221.7v4.25M426 221.7v4.25" stroke="#02c402" stroke-width="2.05" fill="none"/>
<path d="M268 171.8v4.27M276 171.8v4.27M286 171.8v4.27M286 176.67v4.27M264 181.54v4.27M270 181.54v4.27M292 181.54v4.27M270 186.41v4.27M286 186.41v4.27M292 186.41v4.27M292 191.28v4.27M286 196.15v4.27M354 202.3v4.25M372 202.3v4.25M426 202.3v4.25M364 207.15v4.25M370 207.15v4.25M372 207.15v4.25M412 207.15v4.25M354 212v4.25M398 212v4.25M400 212v4.25M404 212v4.25M412 212v4.25M364 216.85v4.25M370 216.85v4.25M372 216.85v4.25M382 216.85v4.25M390 216.85v4.25M404 216.85v4.25M348 221.7v4.25M370 221.7v4.25M382 221.7v4.25M400 221.7v4.25M416 221.7v4.25M348 226.55v4.25M358 226.55v4.25M372 226.55v4.25M398 226.55v4.25M400 226.55v4.25" stroke="#03a703" stroke-width="2.05" fill="none"/>
<path d="M260 171.8v4.27M264 171.8v4.27M282 171.8v4.27M292 171.8v4.27M336 171.8v4.27M260 176.67v4.27M264 176.67v4.27M266 176.67v4.27M270 176.67v4.27M282 176.67v4.27M292 176.67v4.27M304 176.67v4.27M336 176.67v4.27M260 181.54v4.27M266 181.54v4.27M314 181.54v4.27M260 186.41v4.27M264 186.41v4.27M266 186.41v4.27M294 186.41v4.27M260 191.28v4.27M264 191.28v4.27M270 191.28v4.27M286 191.28v4.27M336 191.28v4.27M342 191.28v4.27M264 196.15v4.27M270 196.15v4.27M364 202.3v4.25M370 202.3v4.25M378 202.3v4.25M392 202.3v4.25M398 202.3v4.25M404 202.3v4.25M410 202.3v4.25M412 202.3v4.25M416 202.3v4.25M418 202.3v4.25M356 207.15v4.25M374 207.15v4.25M378 207.15v4.25M382 207.15v4.25M386 207.15v4.25M392 207.15v4.25M398 207.15v4.25M404 207.15v4.25M416 207.15v4.25M364 212v4.25M370 212v4.25M372 212v4.25M374 212v4.25M382 212v4.25M386 212v4.25M410 212v4.25M416 212v4.25M348 216.85v4.25M362 216.85v4.25M374 216.85v4.25M378 216.85v4.25M384 216.85v4.25M386 216.85v4.25M398 216.85v4.25M412 216.85v4.25M416 216.85v4.25M418 216.85v4.25M354 221.7v4.25M372 221.7v4.25M374 221.7v4.25M386 221.7v4.25M398 221.7v4.25M404 221.7v4.25M410 221.7v4.25M418 221.7v4.25M354 226.55v4.25M362 226.55v4.25M374 226.55v4.25M380 226.55v4.25M382 226.55v4.25M386 226.55v4.25M390 226.55v4.25M392 226.55v4.25M416 226.55v4.25" stroke="#058a05" stroke-width="2.05" fill="none"/>
<path d="M270 171.8v4.27M284 171.8v4.27M290 171.8v4.27M294 171.8v4.27M298 171.8v4.27M300 171.8v4.27M304 171.8v4.27M314 171.8v4.27M344 171.8v4.27M300 176.67v4.27M302 176.67v4.27M318 176.67v4.27M344 176.67v4.27M282 181.54v4.27M294 181.54v4.27M300 181.54v4.27M304 181.54v4.27M336 181.54v4.27M340 181.54v4.27M344 181.54v4.27M282 186.41v4.27M284 186.41v4.27M336 186.41v4.27M342 186.41v4.27M266 191.28v4.27M282 191.28v4.27M284 191.28v4.27M294 191.28v4.27M296 191.28v4.27M300 191.28v4.27M344 191.28v4.27M260 196.15v4.27M266 196.15v4.27M282 196.15v4.27M284 196.15v4.27M288 196.15v4.27M294 196.15v4.27M302 196.15v4.27M304 196.15v4.27M356 202.3v4.25M362 202.3v4.25M374 202.3v4.25M380 202.3v4.25M382 202.3v4.25M386 202.3v4.25M390 202.3v4.25M394 202.3v4.25M396 202.3v4.25M402 202.3v4.25M354 207.15v4.25M362 207.15v4.25M366 207.15v4.25M380 207.15v4.25M388 207.15v4.25M396 207.15v4.25M402 207.15v4.25M408 207.15v4.25M410 207.15v4.25M418 207.15v4.25M362 212v4.25M366 212v4.25M378 212v4.25M384 212v4.25M390 212v4.25M394 212v4.25M396 212v4.25M402 212v4.25M406 212v4.25M408 212v4.25M414 212v4.25M418 212v4.25M354 216.85v4.25M356 216.85v4.25M380 216.85v4.25M388 216.85v4.25M392 216.85v4.25M394 216.85v4.25M396 216.85v4.25M402 216.85v4.25M408 216.85v4.25M410 216.85v4.25M414 216.85v4.25M356 221.7v4.25M362 221.7v4.25M364 221.7v4.25M378 221.7v4.25M390 221.7v4.25M392 221.7v4.25M394 221.7v4.25M396 221.7v4.25M402 221.7v4.25M408 221.7v4.25M412 221.7v4.25M356 226.55v4.25M364 226.55v4.25M370 226.55v4.25M378 226.55v4.25M384 226.55v4.25M402 226.55v4.25M404 226.55v4.25M412 226.55v4.25M418 226.55v4.25" stroke="#066d06" stroke-width="2.05" fill="none"/>
<path d="M266 171.8v4.27M324 171.8v4.27M340 171.8v4.27M342 171.8v4.27M284 176.67v4.27M288 176.67v4.27M290 176.67v4.27M294 176.67v4.27M296 176.67v4.27M310 176.67v4.27M316 176.67v4.27M324 176.67v4.27M330 176.67v4.27M332 176.67v4.27M338 176.67v4.27M340 176.67v4.27M284 181.54v4.27M288 181.54v4.27M290 181.54v4.27M296 181.54v4.27M302 181.54v4.27M318 181.54v4.27M324 181.54v4.27M342 181.54v4.27M296 186.41v4.27M298 186.41v4.27M300 186.41v4.27M302 186.41v4.27M304 186.41v4.27M308 186.41v4.27M314 186.41v4.27M324 186.41v4.27M330 186.41v4.27M340 186.41v4.27M344 186.41v4.27M290 191.28v4.27M298 191.28v4.27M302 191.28v4.27M304 191.28v4.27M308 191.28v4.27M314 191.28v4.27M316 191.28v4.27M324 191.28v4.27M332 191.28v4.27M340 191.28v4.27M290 196.15v4.27M296 196.15v4.27M298 196.15v4.27M300 196.15v4.27M308 196.15v4.27M310 196.15v4.27M312 196.15v4.27M318 196.15v4.27M328 196.15v4.27M336 196.15v4.27M340 196.15v4.27M342 196.15v4.27M366 202.3v4.25M384 202.3v4.25M406 202.3v4.25M408 202.3v4.25M414 202.3v4.25M384 207.15v4.25M390 207.15v4.25M394 207.15v4.25M414 207.15v4.25M356 212v4.25M376 212v4.25M380 212v4.25M388 212v4.25M392 212v4.25M366 216.85v4.25M376 216.85v4.25M406 216.85v4.25M366 221.7v4.25M380 221.7v4.25M384 221.7v4.25M388 221.7v4.25M406 221.7v4.25M414 221.7v4.25M366 226.55v4.25M394 226.55v4.25M396 226.55v4.25M408 226.55v4.25M410 226.55v4.25M414 226.55v4.25" stroke="#075007" stroke-width="2.05" fill="none"/>
<path d="M288 171.8v4.27M302 171.8v4.27M310 171.8v4.27M316 171.8v4.27M318 171.8v4.27M322 171.8v4.27M326 171.8v4.27M330 171.8v4.27M332 171.8v4.27M338 171.8v4.27M298 176.67v4.27M314 176.67v4.27M326 176.67v4.27M328 176.67v4.27M334 176.67v4.27M342 176.67v4.27M298 181.54v4.27M308 181.54v4.27M310 181.54v4.27M312 181.54v4.27M316 181.54v4.27M322 181.54v4.27M326 181.54v4.27M328 181.54v4.27M330 181.54v4.27M334 181.54v4.27M338 181.54v4.27M346 181.54v4.27M290 186.41v4.27M310 186.41v4.27M316 186.41v4.27M318 186.41v4.27M322 186.41v4.27M326 186.41v4.27M328 186.41v4.27M332 186.41v4.27M334 186.41v4.27M288 191.28v4.27M312 191.28v4.27M318 191.28v4.27M326 191.28v4.27M328 191.28v4.27M330 191.28v4.27M338 191.28v4.27M346 191.28v4.27M314 196.15v4.27M316 196.15v4.27M324 196.15v4.27M326 196.15v4.27M330 196.15v4.27M332 196.15v4.27M334 196.15v4.27M344 196.15v4.27M346 196.15v4.27M376 202.3v4.25M388 202.3v4.25M376 207.15v4.25M406 207.15v4.25M388 226.55v4.25M406 226.55v4.25" stroke="#083308" stroke-width="2.05" fill="none"/>
<path d="M296 171.8v4.27M306 171.8v4.27M308 171.8v4.27M312 171.8v4.27M320 171.8v4.27M328 171.8v4.27M334 171.8v4.27M346 171.8v4.27M376 171.8v4.27M380 171.8v4.27M382 171.8v4.27M388 171.8v4.27M394 171.8v4.27M396 171.8v4.27M406 171.8v4.27M408 171.8v4.27M306 176.67v4.27M308 176.67v4.27M312 176.67v4.27M320 176.67v4.27M322 176.67v4.27M346 176.67v4.27M376 176.67v4.27M384 176.67v4.27M388 176.67v4.27M394 176.67v4.27M406 176.67v4.27M410 176.67v4.27M306 181.54v4.27M320 181.54v4.27M332 181.54v4.27M360 181.54v4.27M366 181.54v4.27M376 181.54v4.27M380 181.54v4.27M384 181.54v4.27M388 181.54v4.27M390 181.54v4.27M402 181.54v4.27M406 181.54v4.27M410 181.54v4.27M288 186.41v4.27M306 186.41v4.27M312 186.41v4.27M320 186.41v4.27M338 186.41v4.27M346 186.41v4.27M360 186.41v4.27M376 186.41v4.27M380 186.41v4.27M388 186.41v4.27M406 186.41v4.27M306 191.28v4.27M310 191.28v4.27M320 191.28v4.27M322 191.28v4.27M334 191.28v4.27M376 191.28v4.27M388 191.28v4.27M390 191.28v4.27M406 191.28v4.27M306 196.15v4.27M320 196.15v4.27M322 196.15v4.27M338 196.15v4.27M376 196.15v4.27M380 196.15v4.27M388 196.15v4.27M394 196.15v4.27M406 196.15v4.27M408 196.15v4.27M306 202.3v4.25M308 202.3v4.25M306 207.15v4.25M306 212v4.25M306 216.85v4.25M310 216.85v4.25M306 221.7v4.25M376 221.7v4.25M294 226.55v4.25M312 226.55v4.25M376 226.55v4.25" stroke="#140c00" stroke-width="2.05" fill="none"/>
<path d="M360 171.8v4.27M374 171.8v4.27M386 171.8v4.27M390 171.8v4.27M392 171.8v4.27M398 171.8v4.27M402 171.8v4.27M410 171.8v4.27M360 176.67v4.27M362 176.67v4.27M364 176.67v4.27M378 176.67v4.27M380 176.67v4.27M390 176.67v4.27M392 176.67v4.27M396 176.67v4.27M398 176.67v4.27M402 176.67v4.27M404 176.67v4.27M408 176.67v4.27M378 181.54v4.27M392 181.54v4.27M394 181.54v4.27M396 181.54v4.27M408 181.54v4.27M362 186.41v4.27M364 186.41v4.27M374 186.41v4.27M384 186.41v4.27M390 186.41v4.27M392 186.41v4.27M394 186.41v4.27M396 186.41v4.27M408 186.41v4.27M410 186.41v4.27M360 191.28v4.27M362 191.28v4.27M364 191.28v4.27M366 191.28v4.27M378 191.28v4.27M380 191.28v4.27M382 191.28v4.27M384 191.28v4.27M386 191.28v4.27M392 191.28v4.27M394 191.28v4.27M396 191.28v4.27M402 191.28v4.27M404 191.28v4.27M408 191.28v4.27M410 191.28v4.27M414 191.28v4.27M360 196.15v4.27M362 196.15v4.27M374 196.15v4.27M384 196.15v4.27M386 196.15v4.27M390 196.15v4.27M392 196.15v4.27M402 196.15v4.27M410 196.15v4.27M294 202.3v4.25M312 202.3v4.25M320 202.3v4.25M322 202.3v4.25M334 202.3v4.25M308 207.15v4.25M312 207.15v4.25M320 207.15v4.25M322 207.15v4.25M334 207.15v4.25M338 207.15v4.25M308 212v4.25M312 212v4.25M320 212v4.25M308 216.85v4.25M312 216.85v4.25M294 221.7v4.25M308 221.7v4.25M310 221.7v4.25M312 221.7v4.25M320 221.7v4.25M334 221.7v4.25M306 226.55v4.25M308 226.55v4.25M320 226.55v4.25M322 226.55v4.25M334 226.55v4.25" stroke="#310a00" stroke-width="2.05" fill="none"/>
<path d="M354 171.8v4.27M362 171.8v4.27M364 171.8v4.27M366 171.8v4.27M378 171.8v4.27M384 171.8v4.27M404 171.8v4.27M426 171.8v4.27M354 176.67v4.27M366 176.67v4.27M374 176.67v4.27M382 176.67v4.27M414 176.67v4.27M362 181.54v4.27M364 181.54v4.27M374 181.54v4.27M382 181.54v4.27M386 181.54v4.27M398 181.54v4.27M404 181.54v4.27M414 181.54v4.27M366 186.41v4.27M378 186.41v4.27M382 186.41v4.27M398 186.41v4.27M402 186.41v4.27M404 186.41v4.27M356 191.28v4.27M374 191.28v4.27M398 191.28v4.27M364 196.15v4.27M366 196.15v4.27M378 196.15v4.27M382 196.15v4.27M396 196.15v4.27M310 202.3v4.25M318 202.3v4.25M326 202.3v4.25M328 202.3v4.25M338 202.3v4.25M302 207.15v4.25M310 207.15v4.25M316 207.15v4.25M326 207.15v4.25M330 207.15v4.25M294 212v4.25M296 212v4.25M298 212v4.25M310 212v4.25M334 212v4.25M338 212v4.25M346 212v4.25M292 216.85v4.25M294 216.85v4.25M300 216.85v4.25M320 216.85v4.25M322 216.85v4.25M328 216.85v4.25M332 216.85v4.25M334 216.85v4.25M346 216.85v4.25M298 221.7v4.25M300 221.7v4.25M302 221.7v4.25M322 221.7v4.25M328 221.7v4.25M332 221.7v4.25M288 226.55v4.25M300 226.55v4.25M310 226.55v4.25M328 226.55v4.25M338 226.55v4.25" stroke="#4e0900" stroke-width="2.05" fill="none"/>
<path d="M356 171.8v4.27M414 171.8v4.27M418 171.8v4.27M356 176.67v4.27M370 176.67v4.27M386 176.67v4.27M400 176.67v4.27M412 176.67v4.27M416 176.67v4.27M418 176.67v4.27M422 176.67v4.27M426 176.67v4.27M356 181.54v4.27M372 181.54v4.27M426 181.54v4.27M354 186.41v4.27M356 186.41v4.27M372 186.41v4.27M386 186.41v4.27M400 186.41v4.27M412 186.41v4.27M414 186.41v4.27M426 186.41v4.27M354 191.28v4.27M370 191.28v4.27M426 191.28v4.27M354 196.15v4.27M356 196.15v4.27M398 196.15v4.27M404 196.15v4.27M414 196.15v4.27M426 196.15v4.27M288 202.3v4.25M290 202.3v4.25M292 202.3v4.25M296 202.3v4.25M298 202.3v4.25M300 202.3v4.25M302 202.3v4.25M314 202.3v4.25M316 202.3v4.25M324 202.3v4.25M330 202.3v4.25M332 202.3v4.25M340 202.3v4.25M346 202.3v4.25M266 207.15v4.25M290 207.15v4.25M292 207.15v4.25M294 207.15v4.25M296 207.15v4.25M298 207.15v4.25M318 207.15v4.25M324 207.15v4.25M328 207.15v4.25M332 207.15v4.25M342 207.15v4.25M346 207.15v4.25M288 212v4.25M290 212v4.25M292 212v4.25M300 212v4.25M302 212v4.25M304 212v4.25M322 212v4.25M324 212v4.25M326 212v4.25M328 212v4.25M330 212v4.25M332 212v4.25M298 216.85v4.25M316 216.85v4.25M324 216.85v4.25M326 216.85v4.25M330 216.85v4.25M338 216.85v4.25M342 216.85v4.25M344 216.85v4.25M266 221.7v4.25M288 221.7v4.25M304 221.7v4.25M314 221.7v4.25M316 221.7v4.25M318 221.7v4.25M326 221.7v4.25M330 221.7v4.25M338 221.7v4.25M346 221.7v4.25M292 226.55v4.25M296 226.55v4.25M298 226.55v4.25M302 226.55v4.25M304 226.55v4.25M314 226.55v4.25M318 226.55v4.25M324 226.55v4.25M326 226.55v4.25M330 226.55v4.25M332 226.55v4.25M342 226.55v4.25M344 226.55v4.25M346 226.55v4.25" stroke="#6c0700" stroke-width="2.05" fill="none"/>
<path d="M370 171.8v4.27M372 171.8v4.27M400 171.8v4.27M412 171.8v4.27M416 171.8v4.27M424 171.8v4.27M424 176.67v4.27M354 181.54v4.27M358 181.54v4.27M400 181.54v4.27M412 181.54v4.27M416 181.54v4.27M422 181.54v4.27M424 181.54v4.27M370 186.41v4.27M416 186.41v4.27M418 186.41v4.27M422 186.41v4.27M424 186.41v4.27M400 191.28v4.27M412 191.28v4.27M418 191.28v4.27M422 191.28v4.27M348 196.15v4.27M368 196.15v4.27M370 196.15v4.27M372 196.15v4.27M400 196.15v4.27M412 196.15v4.27M418 196.15v4.27M264 202.3v4.25M270 202.3v4.25M304 202.3v4.25M342 202.3v4.25M344 202.3v4.25M260 207.15v4.25M288 207.15v4.25M300 207.15v4.25M304 207.15v4.25M314 207.15v4.25M336 207.15v4.25M344 207.15v4.25M260 212v4.25M266 212v4.25M314 212v4.25M316 212v4.25M318 212v4.25M340 212v4.25M342 212v4.25M344 212v4.25M266 216.85v4.25M270 216.85v4.25M288 216.85v4.25M290 216.85v4.25M302 216.85v4.25M304 216.85v4.25M314 216.85v4.25M318 216.85v4.25M340 216.85v4.25M270 221.7v4.25M290 221.7v4.25M292 221.7v4.25M296 221.7v4.25M324 221.7v4.25M340 221.7v4.25M260 226.55v4.25M266 226.55v4.25M290 226.55v4.25M316 226.55v4.25M336 226.55v4.25M340 226.55v4.25" stroke="#890600" stroke-width="2.05" fill="none"/>
<path d="M358 171.8v4.27M420 171.8v4.27M422 171.8v4.27M368 176.67v4.27M372 176.67v4.27M420 176.67v4.27M370 181.54v4.27M418 181.54v4.27M420 181.54v4.27M420 186.41v4.27M348 191.28v4.27M358 191.28v4.27M368 191.28v4.27M372 191.28v4.27M416 191.28v4.27M420 191.28v4.27M424 191.28v4.27M358 196.15v4.27M416 196.15v4.27M420 196.15v4.27M422 196.15v4.27M424 196.15v4.27M260 202.3v4.25M266 202.3v4.25M336 202.3v4.25M264 207.15v4.25M270 207.15v4.25M340 207.15v4.25M336 212v4.25M260 216.85v4.25M264 216.85v4.25M276 216.85v4.25M296 216.85v4.25M260 221.7v4.25M264 221.7v4.25M336 221.7v4.25M342 221.7v4.25M344 221.7v4.25M264 226.55v4.25M270 226.55v4.25" stroke="#a60400" stroke-width="2.05" fill="none"/>
<path d="M348 171.8v4.27M352 171.8v4.27M348 176.67v4.27M350 176.67v4.27M352 176.67v4.27M358 176.67v4.27M348 181.54v4.27M352 181.54v4.27M368 181.54v4.27M350 186.41v4.27M358 186.41v4.27M368 186.41v4.27M352 191.28v4.27M268 202.3v4.25M276 202.3v4.25M284 202.3v4.25M264 212v4.25M270 212v4.25M272 212v4.25M276 212v4.25M268 216.85v4.25M278 216.85v4.25M284 216.85v4.25M336 216.85v4.25M272 221.7v4.25M276 221.7v4.25M276 226.55v4.25M284 226.55v4.25" stroke="#c40300" stroke-width="2.05" fill="none"/>
<path d="M350 171.8v4.27M368 171.8v4.27M350 181.54v4.27M348 186.41v4.27M352 186.41v4.27M350 191.28v4.27M352 196.15v4.27M282 202.3v4.25M262 207.15v4.25M272 207.15v4.25M276 207.15v4.25M284 207.15v4.25M268 212v4.25M278 212v4.25M280 212v4.25M284 212v4.25M272 216.85v4.25M262 221.7v4.25M268 221.7v4.25M278 221.7v4.25M284 221.7v4.25M268 226.55v4.25M272 226.55v4.25M280 226.55v4.25M282 226.55v4.25" stroke="#e10100" stroke-width="2.05" fill="none"/>
<path d="M350 196.15v4.27M262 202.3v4.25M272 202.3v4.25M274 202.3v4.25M278 202.3v4.25M280 202.3v4.25M286 202.3v4.25M268 207.15v4.25M274 207.15v4.25M278 207.15v4.25M280 207.15v4.25M282 207.15v4.25M286 207.15v4.25M262 212v4.25M274 212v4.25M282 212v4.25M286 212v4.25M262 216.85v4.25M274 216.85v4.25M280 216.85v4.25M282 216.85v4.25M286 216.85v4.25M274 221.7v4.25M280 221.7v4.25M282 221.7v4.25M286 221.7v4.25M262 226.55v4.25M274 226.55v4.25M278 226.55v4.25M286 226.55v4.25" stroke="#ff0000" stroke-width="2.05" fill="none"/>
<line x1="259" y1="171.35" x2="427.2" y2="171.35" stroke="#e0d2cc" stroke-width="0.6"/>
<line x1="259" y1="176.22" x2="427.2" y2="176.22" stroke="#e0d2cc" stroke-width="0.6"/>
<line x1="259" y1="181.09" x2="427.2" y2="181.09" stroke="#e0d2cc" stroke-width="0.6"/>
<line x1="259" y1="185.96" x2="427.2" y2="185.96" stroke="#e0d2cc" stroke-width="0.6"/>
<line x1="259" y1="190.83" x2="427.2" y2="190.83" stroke="#e0d2cc" stroke-width="0.6"/>
<line x1="259" y1="195.7" x2="427.2" y2="195.7" stroke="#e0d2cc" stroke-width="0.6"/>
<line x1="259" y1="201.85" x2="427.2" y2="201.85" stroke="#e0d2cc" stroke-width="0.6"/>
<line x1="259" y1="206.7" x2="427.2" y2="206.7" stroke="#e0d2cc" stroke-width="0.6"/>
<line x1="259" y1="211.55" x2="427.2" y2="211.55" stroke="#e0d2cc" stroke-width="0.6"/>
<line x1="259" y1="216.4" x2="427.2" y2="216.4" stroke="#e0d2cc" stroke-width="0.6"/>
<line x1="259" y1="221.25" x2="427.2" y2="221.25" stroke="#e0d2cc" stroke-width="0.6"/>
<line x1="259" y1="226.1" x2="427.2" y2="226.1" stroke="#e0d2cc" stroke-width="0.6"/>
<rect x="259" y="200.4" width="168.2" height="1.4" fill="#fff"/>
<line x1="259" y1="230.9" x2="427.2" y2="230.9" stroke="#d8c8c0" stroke-width="0.6"/>
<rect x="255.5" y="172" width="1.1" height="27.6" fill="#111"/>
<rect x="255.6" y="202.7" width="1.1" height="27.3" fill="#111"/>
<text x="225.8" y="189.8" font-size="9.52" font-weight="bold" textLength="28" lengthAdjust="spacingAndGlyphs" stroke="#000" stroke-width="0.35">mCDS</text>
<text x="232.7" y="218.7" font-size="9.52" font-weight="bold" textLength="20" lengthAdjust="spacingAndGlyphs" stroke="#000" stroke-width="0.35">mES</text>
<text x="1" y="266" font-size="15.52" font-weight="bold">E</text>
<text x="8.7" y="311" font-size="8.18" font-weight="bold" text-anchor="middle" textLength="59" lengthAdjust="spacingAndGlyphs" transform="rotate(-90 8.7 311)" stroke="#000" stroke-width="0.3">Gene expression</text>
<text x="16.4" y="311" font-size="5.38" font-weight="bold" text-anchor="middle" textLength="62" lengthAdjust="spacingAndGlyphs" transform="rotate(-90 16.4 311)" stroke="#000" stroke-width="0.25">(Normalized to Gapdh)</text>
<text x="81" y="270.4" font-size="11.9" font-weight="bold" text-anchor="middle" textLength="30" lengthAdjust="spacingAndGlyphs" font-style="italic" stroke="#000" stroke-width="0.2">Ccnd1</text>
<line x1="32" y1="323.54" x2="129" y2="323.54" stroke="#d9d9d9" stroke-width="0.5"/>
<line x1="32" y1="312.08" x2="129" y2="312.08" stroke="#d9d9d9" stroke-width="0.5"/>
<line x1="32" y1="300.62" x2="129" y2="300.62" stroke="#d9d9d9" stroke-width="0.5"/>
<line x1="32" y1="289.16" x2="129" y2="289.16" stroke="#d9d9d9" stroke-width="0.5"/>
<line x1="32" y1="277.7" x2="129" y2="277.7" stroke="#d9d9d9" stroke-width="0.5"/>
<line x1="32" y1="335" x2="129" y2="335" stroke="#bdbdbd" stroke-width="0.6"/>
<text x="29.3" y="336.9" font-size="5.9" font-weight="bold" text-anchor="end" fill="#0a0a0a" stroke="#0a0a0a" stroke-width="0.25">0</text>
<text x="29.3" y="325.44" font-size="5.9" font-weight="bold" text-anchor="end" fill="#0a0a0a" stroke="#0a0a0a" stroke-width="0.25">4</text>
<text x="29.3" y="313.98" font-size="5.9" font-weight="bold" text-anchor="end" fill="#0a0a0a" stroke="#0a0a0a" stroke-width="0.25">8</text>
<text x="29.3" y="302.52" font-size="5.9" font-weight="bold" text-anchor="end" fill="#0a0a0a" stroke="#0a0a0a" stroke-width="0.25">12</text>
<text x="29.3" y="291.06" font-size="5.9" font-weight="bold" text-anchor="end" fill="#0a0a0a" stroke="#0a0a0a" stroke-width="0.25">16</text>
<text x="29.3" y="279.6" font-size="5.9" font-weight="bold" text-anchor="end" fill="#0a0a0a" stroke="#0a0a0a" stroke-width="0.25">20</text>
<line x1="35.5" y1="285.44" x2="35.5" y2="306.35" stroke="#8a8a8a" stroke-width="0.55"/>
<line x1="34.6" y1="285.44" x2="36.4" y2="285.44" stroke="#8a8a8a" stroke-width="0.5"/>
<rect x="33.85" y="306.35" width="3.3" height="28.65" fill="url(#bar)"/>
<line x1="42.42" y1="288.59" x2="42.42" y2="307.21" stroke="#8a8a8a" stroke-width="0.55"/>
<line x1="41.52" y1="288.59" x2="43.32" y2="288.59" stroke="#8a8a8a" stroke-width="0.5"/>
<rect x="40.77" y="307.21" width="3.3" height="27.79" fill="url(#bar)"/>
<line x1="49.34" y1="300.62" x2="49.34" y2="311.79" stroke="#8a8a8a" stroke-width="0.55"/>
<line x1="48.44" y1="300.62" x2="50.24" y2="300.62" stroke="#8a8a8a" stroke-width="0.5"/>
<rect x="47.69" y="311.79" width="3.3" height="23.21" fill="url(#bar)"/>
<line x1="56.26" y1="314.37" x2="56.26" y2="317.81" stroke="#8a8a8a" stroke-width="0.55"/>
<line x1="55.36" y1="314.37" x2="57.16" y2="314.37" stroke="#8a8a8a" stroke-width="0.5"/>
<rect x="54.61" y="317.81" width="3.3" height="17.19" fill="url(#bar)"/>
<line x1="63.18" y1="322.97" x2="63.18" y2="328.12" stroke="#8a8a8a" stroke-width="0.55"/>
<line x1="62.28" y1="322.97" x2="64.08" y2="322.97" stroke="#8a8a8a" stroke-width="0.5"/>
<rect x="61.53" y="328.12" width="3.3" height="6.88" fill="url(#bar)"/>
<line x1="70.1" y1="280.56" x2="70.1" y2="299.19" stroke="#8a8a8a" stroke-width="0.55"/>
<line x1="69.2" y1="280.56" x2="71" y2="280.56" stroke="#8a8a8a" stroke-width="0.5"/>
<rect x="68.45" y="299.19" width="3.3" height="35.81" fill="url(#bar)"/>
<line x1="77.02" y1="331.85" x2="77.02" y2="332.42" stroke="#8a8a8a" stroke-width="0.55"/>
<line x1="76.12" y1="331.85" x2="77.92" y2="331.85" stroke="#8a8a8a" stroke-width="0.5"/>
<rect x="75.37" y="332.42" width="3.3" height="2.58" fill="url(#bar)"/>
<line x1="83.94" y1="333.42" x2="83.94" y2="333.71" stroke="#8a8a8a" stroke-width="0.55"/>
<line x1="83.04" y1="333.42" x2="84.84" y2="333.42" stroke="#8a8a8a" stroke-width="0.5"/>
<rect x="82.29" y="333.71" width="3.3" height="1.29" fill="url(#bar)"/>
<line x1="90.86" y1="332.99" x2="90.86" y2="333.28" stroke="#8a8a8a" stroke-width="0.55"/>
<line x1="89.96" y1="332.99" x2="91.76" y2="332.99" stroke="#8a8a8a" stroke-width="0.5"/>
<rect x="89.21" y="333.28" width="3.3" height="1.72" fill="url(#bar)"/>
<line x1="97.78" y1="333.42" x2="97.78" y2="333.71" stroke="#8a8a8a" stroke-width="0.55"/>
<line x1="96.88" y1="333.42" x2="98.68" y2="333.42" stroke="#8a8a8a" stroke-width="0.5"/>
<rect x="96.13" y="333.71" width="3.3" height="1.29" fill="url(#bar)"/>
<line x1="104.7" y1="331.85" x2="104.7" y2="332.42" stroke="#8a8a8a" stroke-width="0.55"/>
<line x1="103.8" y1="331.85" x2="105.6" y2="331.85" stroke="#8a8a8a" stroke-width="0.5"/>
<rect x="103.05" y="332.42" width="3.3" height="2.58" fill="url(#bar)"/>
<rect x="109.97" y="334.14" width="3.3" height="0.86" fill="url(#bar)"/>
<line x1="118.54" y1="332.99" x2="118.54" y2="333.28" stroke="#8a8a8a" stroke-width="0.55"/>
<line x1="117.64" y1="332.99" x2="119.44" y2="332.99" stroke="#8a8a8a" stroke-width="0.5"/>
<rect x="116.89" y="333.28" width="3.3" height="1.72" fill="url(#bar)"/>
<line x1="125.46" y1="331.28" x2="125.46" y2="332.13" stroke="#8a8a8a" stroke-width="0.55"/>
<line x1="124.56" y1="331.28" x2="126.36" y2="331.28" stroke="#8a8a8a" stroke-width="0.5"/>
<rect x="123.81" y="332.13" width="3.3" height="2.87" fill="url(#bar)"/>
<text x="37.55" y="337.5" font-size="6.21" font-weight="bold" text-anchor="end" fill="#0a0a0a" textLength="12.9" lengthAdjust="spacingAndGlyphs" transform="rotate(-90 37.55 337.5)" stroke="#0a0a0a" stroke-width="0.45">CDS1</text>
<text x="44.47" y="337.5" font-size="6.21" font-weight="bold" text-anchor="end" fill="#0a0a0a" textLength="12.9" lengthAdjust="spacingAndGlyphs" transform="rotate(-90 44.47 337.5)" stroke="#0a0a0a" stroke-width="0.45">CDS2</text>
<text x="51.39" y="337.5" font-size="6.21" font-weight="bold" text-anchor="end" fill="#0a0a0a" textLength="12.9" lengthAdjust="spacingAndGlyphs" transform="rotate(-90 51.39 337.5)" stroke="#0a0a0a" stroke-width="0.45">CDS3</text>
<text x="58.31" y="337.5" font-size="6.21" font-weight="bold" text-anchor="end" fill="#0a0a0a" textLength="12.9" lengthAdjust="spacingAndGlyphs" transform="rotate(-90 58.31 337.5)" stroke="#0a0a0a" stroke-width="0.45">CDS4</text>
<text x="65.23" y="337.5" font-size="6.21" font-weight="bold" text-anchor="end" fill="#0a0a0a" textLength="12.9" lengthAdjust="spacingAndGlyphs" transform="rotate(-90 65.23 337.5)" stroke="#0a0a0a" stroke-width="0.45">CDS5</text>
<text x="72.15" y="337.5" font-size="6.21" font-weight="bold" text-anchor="end" fill="#0a0a0a" textLength="12.9" lengthAdjust="spacingAndGlyphs" transform="rotate(-90 72.15 337.5)" stroke="#0a0a0a" stroke-width="0.45">CDS6</text>
<text x="79.07" y="337.5" font-size="6.21" font-weight="bold" text-anchor="end" fill="#0a0a0a" textLength="12.9" lengthAdjust="spacingAndGlyphs" transform="rotate(-90 79.07 337.5)" stroke="#0a0a0a" stroke-width="0.45">ES41</text>
<text x="85.99" y="337.5" font-size="6.21" font-weight="bold" text-anchor="end" fill="#0a0a0a" textLength="12.9" lengthAdjust="spacingAndGlyphs" transform="rotate(-90 85.99 337.5)" stroke="#0a0a0a" stroke-width="0.45">ES46</text>
<text x="92.91" y="337.5" font-size="6.21" font-weight="bold" text-anchor="end" fill="#0a0a0a" textLength="12.9" lengthAdjust="spacingAndGlyphs" transform="rotate(-90 92.91 337.5)" stroke="#0a0a0a" stroke-width="0.45">ES47</text>
<text x="99.83" y="337.5" font-size="6.21" font-weight="bold" text-anchor="end" fill="#0a0a0a" textLength="12.9" lengthAdjust="spacingAndGlyphs" transform="rotate(-90 99.83 337.5)" stroke="#0a0a0a" stroke-width="0.45">ES48</text>
<text x="106.75" y="337.5" font-size="6.21" font-weight="bold" text-anchor="end" fill="#0a0a0a" textLength="12.9" lengthAdjust="spacingAndGlyphs" transform="rotate(-90 106.75 337.5)" stroke="#0a0a0a" stroke-width="0.45">ES49</text>
<text x="113.67" y="337.5" font-size="6.21" font-weight="bold" text-anchor="end" fill="#0a0a0a" textLength="12.9" lengthAdjust="spacingAndGlyphs" transform="rotate(-90 113.67 337.5)" stroke="#0a0a0a" stroke-width="0.45">ES51</text>
<text x="120.59" y="337.5" font-size="6.21" font-weight="bold" text-anchor="end" fill="#0a0a0a" textLength="33" lengthAdjust="spacingAndGlyphs" transform="rotate(-90 120.59 337.5)" stroke="#0a0a0a" stroke-width="0.12">Vector 48 hr</text>
<text x="127.51" y="337.5" font-size="6.21" font-weight="bold" text-anchor="end" fill="#0a0a0a" textLength="41.5" lengthAdjust="spacingAndGlyphs" transform="rotate(-90 127.51 337.5)" stroke="#0a0a0a" stroke-width="0.12">CIC-DUX4 48 hr</text>
<rect x="33.5" y="354.2" width="37.5" height="1.6" fill="#000"/>
<rect x="75.4" y="354.2" width="37.1" height="1.6" fill="#000"/>
<text x="54.2" y="364.7" font-size="8.59" text-anchor="middle" textLength="22.4" lengthAdjust="spacingAndGlyphs" stroke="#000" stroke-width="0.4">mCDS</text>
<text x="94.45" y="364.7" font-size="8.59" text-anchor="middle" textLength="17.2" lengthAdjust="spacingAndGlyphs" stroke="#000" stroke-width="0.4">mES</text>
<text x="200" y="270.4" font-size="11.9" font-weight="bold" text-anchor="middle" textLength="30" lengthAdjust="spacingAndGlyphs" font-style="italic" stroke="#000" stroke-width="0.2">Ccnd2</text>
<line x1="150" y1="327.36" x2="250" y2="327.36" stroke="#d9d9d9" stroke-width="0.5"/>
<line x1="150" y1="319.21" x2="250" y2="319.21" stroke="#d9d9d9" stroke-width="0.5"/>
<line x1="150" y1="311.07" x2="250" y2="311.07" stroke="#d9d9d9" stroke-width="0.5"/>
<line x1="150" y1="302.93" x2="250" y2="302.93" stroke="#d9d9d9" stroke-width="0.5"/>
<line x1="150" y1="294.79" x2="250" y2="294.79" stroke="#d9d9d9" stroke-width="0.5"/>
<line x1="150" y1="286.64" x2="250" y2="286.64" stroke="#d9d9d9" stroke-width="0.5"/>
<line x1="150" y1="278.5" x2="250" y2="278.5" stroke="#d9d9d9" stroke-width="0.5"/>
<line x1="150" y1="335.5" x2="250" y2="335.5" stroke="#bdbdbd" stroke-width="0.6"/>
<text x="147.6" y="337.4" font-size="5.69" font-weight="bold" text-anchor="end" fill="#0a0a0a" stroke="#0a0a0a" stroke-width="0.25">0</text>
<text x="147.6" y="321.11" font-size="5.69" font-weight="bold" text-anchor="end" fill="#0a0a0a" stroke="#0a0a0a" stroke-width="0.25">400</text>
<text x="147.6" y="304.83" font-size="5.69" font-weight="bold" text-anchor="end" fill="#0a0a0a" stroke="#0a0a0a" stroke-width="0.25">800</text>
<text x="147.6" y="288.54" font-size="5.69" font-weight="bold" text-anchor="end" fill="#0a0a0a" stroke="#0a0a0a" stroke-width="0.25">1,200</text>
<line x1="154.5" y1="287.86" x2="154.5" y2="300.08" stroke="#8a8a8a" stroke-width="0.55"/>
<line x1="153.6" y1="287.86" x2="155.4" y2="287.86" stroke="#8a8a8a" stroke-width="0.5"/>
<rect x="152.85" y="300.08" width="3.3" height="35.42" fill="url(#bar)"/>
<line x1="161.46" y1="293.56" x2="161.46" y2="300.49" stroke="#8a8a8a" stroke-width="0.55"/>
<line x1="160.56" y1="293.56" x2="162.36" y2="293.56" stroke="#8a8a8a" stroke-width="0.5"/>
<rect x="159.81" y="300.49" width="3.3" height="35.01" fill="url(#bar)"/>
<line x1="168.42" y1="292.75" x2="168.42" y2="303.74" stroke="#8a8a8a" stroke-width="0.55"/>
<line x1="167.52" y1="292.75" x2="169.32" y2="292.75" stroke="#8a8a8a" stroke-width="0.5"/>
<rect x="166.77" y="303.74" width="3.3" height="31.76" fill="url(#bar)"/>
<line x1="175.38" y1="279.93" x2="175.38" y2="292.55" stroke="#8a8a8a" stroke-width="0.55"/>
<line x1="174.48" y1="279.93" x2="176.28" y2="279.93" stroke="#8a8a8a" stroke-width="0.5"/>
<rect x="173.73" y="292.55" width="3.3" height="42.95" fill="url(#bar)"/>
<line x1="182.34" y1="321.25" x2="182.34" y2="325.73" stroke="#8a8a8a" stroke-width="0.55"/>
<line x1="181.44" y1="321.25" x2="183.24" y2="321.25" stroke="#8a8a8a" stroke-width="0.5"/>
<rect x="180.69" y="325.73" width="3.3" height="9.77" fill="url(#bar)"/>
<line x1="189.3" y1="288.27" x2="189.3" y2="300.08" stroke="#8a8a8a" stroke-width="0.55"/>
<line x1="188.4" y1="288.27" x2="190.2" y2="288.27" stroke="#8a8a8a" stroke-width="0.5"/>
<rect x="187.65" y="300.08" width="3.3" height="35.42" fill="url(#bar)"/>
<rect x="194.61" y="335.01" width="3.3" height="0.49" fill="url(#bar)"/>
<rect x="201.57" y="335.17" width="3.3" height="0.33" fill="url(#bar)"/>
<rect x="208.53" y="335.17" width="3.3" height="0.33" fill="url(#bar)"/>
<rect x="215.49" y="335.01" width="3.3" height="0.49" fill="url(#bar)"/>
<rect x="222.45" y="335.17" width="3.3" height="0.33" fill="url(#bar)"/>
<rect x="229.41" y="335.09" width="3.3" height="0.41" fill="url(#bar)"/>
<line x1="238.02" y1="332.04" x2="238.02" y2="332.65" stroke="#8a8a8a" stroke-width="0.55"/>
<line x1="237.12" y1="332.04" x2="238.92" y2="332.04" stroke="#8a8a8a" stroke-width="0.5"/>
<rect x="236.37" y="332.65" width="3.3" height="2.85" fill="url(#bar)"/>
<line x1="244.98" y1="330.82" x2="244.98" y2="331.63" stroke="#8a8a8a" stroke-width="0.55"/>
<line x1="244.08" y1="330.82" x2="245.88" y2="330.82" stroke="#8a8a8a" stroke-width="0.5"/>
<rect x="243.33" y="331.63" width="3.3" height="3.87" fill="url(#bar)"/>
<text x="156.55" y="338" font-size="6.21" font-weight="bold" text-anchor="end" fill="#0a0a0a" textLength="12.9" lengthAdjust="spacingAndGlyphs" transform="rotate(-90 156.55 338)" stroke="#0a0a0a" stroke-width="0.45">CDS1</text>
<text x="163.51" y="338" font-size="6.21" font-weight="bold" text-anchor="end" fill="#0a0a0a" textLength="12.9" lengthAdjust="spacingAndGlyphs" transform="rotate(-90 163.51 338)" stroke="#0a0a0a" stroke-width="0.45">CDS2</text>
<text x="170.47" y="338" font-size="6.21" font-weight="bold" text-anchor="end" fill="#0a0a0a" textLength="12.9" lengthAdjust="spacingAndGlyphs" transform="rotate(-90 170.47 338)" stroke="#0a0a0a" stroke-width="0.45">CDS3</text>
<text x="177.43" y="338" font-size="6.21" font-weight="bold" text-anchor="end" fill="#0a0a0a" textLength="12.9" lengthAdjust="spacingAndGlyphs" transform="rotate(-90 177.43 338)" stroke="#0a0a0a" stroke-width="0.45">CDS4</text>
<text x="184.39" y="338" font-size="6.21" font-weight="bold" text-anchor="end" fill="#0a0a0a" textLength="12.9" lengthAdjust="spacingAndGlyphs" transform="rotate(-90 184.39 338)" stroke="#0a0a0a" stroke-width="0.45">CDS5</text>
<text x="191.35" y="338" font-size="6.21" font-weight="bold" text-anchor="end" fill="#0a0a0a" textLength="12.9" lengthAdjust="spacingAndGlyphs" transform="rotate(-90 191.35 338)" stroke="#0a0a0a" stroke-width="0.45">CDS6</text>
<text x="198.31" y="338" font-size="6.21" font-weight="bold" text-anchor="end" fill="#0a0a0a" textLength="12.9" lengthAdjust="spacingAndGlyphs" transform="rotate(-90 198.31 338)" stroke="#0a0a0a" stroke-width="0.45">ES41</text>
<text x="205.27" y="338" font-size="6.21" font-weight="bold" text-anchor="end" fill="#0a0a0a" textLength="12.9" lengthAdjust="spacingAndGlyphs" transform="rotate(-90 205.27 338)" stroke="#0a0a0a" stroke-width="0.45">ES46</text>
<text x="212.23" y="338" font-size="6.21" font-weight="bold" text-anchor="end" fill="#0a0a0a" textLength="12.9" lengthAdjust="spacingAndGlyphs" transform="rotate(-90 212.23 338)" stroke="#0a0a0a" stroke-width="0.45">ES47</text>
<text x="219.19" y="338" font-size="6.21" font-weight="bold" text-anchor="end" fill="#0a0a0a" textLength="12.9" lengthAdjust="spacingAndGlyphs" transform="rotate(-90 219.19 338)" stroke="#0a0a0a" stroke-width="0.45">ES48</text>
<text x="226.15" y="338" font-size="6.21" font-weight="bold" text-anchor="end" fill="#0a0a0a" textLength="12.9" lengthAdjust="spacingAndGlyphs" transform="rotate(-90 226.15 338)" stroke="#0a0a0a" stroke-width="0.45">ES49</text>
<text x="233.11" y="338" font-size="6.21" font-weight="bold" text-anchor="end" fill="#0a0a0a" textLength="12.9" lengthAdjust="spacingAndGlyphs" transform="rotate(-90 233.11 338)" stroke="#0a0a0a" stroke-width="0.45">ES51</text>
<text x="240.07" y="338" font-size="6.21" font-weight="bold" text-anchor="end" fill="#0a0a0a" textLength="33" lengthAdjust="spacingAndGlyphs" transform="rotate(-90 240.07 338)" stroke="#0a0a0a" stroke-width="0.12">Vector 48 hr</text>
<text x="247.03" y="338" font-size="6.21" font-weight="bold" text-anchor="end" fill="#0a0a0a" textLength="41.5" lengthAdjust="spacingAndGlyphs" transform="rotate(-90 247.03 338)" stroke="#0a0a0a" stroke-width="0.12">CIC-DUX4 48 hr</text>
<rect x="153" y="354.2" width="38.5" height="1.6" fill="#000"/>
<rect x="195.7" y="354.2" width="36.8" height="1.6" fill="#000"/>
<text x="174.2" y="364.7" font-size="8.59" text-anchor="middle" textLength="22.4" lengthAdjust="spacingAndGlyphs" stroke="#000" stroke-width="0.4">mCDS</text>
<text x="214.6" y="364.7" font-size="8.59" text-anchor="middle" textLength="17.2" lengthAdjust="spacingAndGlyphs" stroke="#000" stroke-width="0.4">mES</text>
<text x="313.7" y="270.9" font-size="11.9" font-weight="bold" text-anchor="middle" textLength="20" lengthAdjust="spacingAndGlyphs" font-style="italic" stroke="#000" stroke-width="0.2">Bcl2</text>
<line x1="266" y1="326.63" x2="362.5" y2="326.63" stroke="#d9d9d9" stroke-width="0.5"/>
<line x1="266" y1="317.07" x2="362.5" y2="317.07" stroke="#d9d9d9" stroke-width="0.5"/>
<line x1="266" y1="307.5" x2="362.5" y2="307.5" stroke="#d9d9d9" stroke-width="0.5"/>
<line x1="266" y1="297.93" x2="362.5" y2="297.93" stroke="#d9d9d9" stroke-width="0.5"/>
<line x1="266" y1="288.37" x2="362.5" y2="288.37" stroke="#d9d9d9" stroke-width="0.5"/>
<line x1="266" y1="278.8" x2="362.5" y2="278.8" stroke="#d9d9d9" stroke-width="0.5"/>
<line x1="266" y1="336.2" x2="362.5" y2="336.2" stroke="#bdbdbd" stroke-width="0.6"/>
<text x="264.7" y="338.1" font-size="6.83" font-weight="bold" text-anchor="end" fill="#0a0a0a" stroke="#0a0a0a" stroke-width="0.25">0</text>
<text x="264.7" y="318.97" font-size="6.83" font-weight="bold" text-anchor="end" fill="#0a0a0a" stroke="#0a0a0a" stroke-width="0.25">10</text>
<text x="264.7" y="299.83" font-size="6.83" font-weight="bold" text-anchor="end" fill="#0a0a0a" stroke="#0a0a0a" stroke-width="0.25">20</text>
<text x="264.7" y="280.7" font-size="6.83" font-weight="bold" text-anchor="end" fill="#0a0a0a" stroke="#0a0a0a" stroke-width="0.25">30</text>
<line x1="270" y1="294.3" x2="270" y2="305.01" stroke="#8a8a8a" stroke-width="0.55"/>
<line x1="269.1" y1="294.3" x2="270.9" y2="294.3" stroke="#8a8a8a" stroke-width="0.5"/>
<rect x="268.4" y="305.01" width="3.2" height="31.19" fill="url(#bar)"/>
<line x1="276.62" y1="304.06" x2="276.62" y2="309.41" stroke="#8a8a8a" stroke-width="0.55"/>
<line x1="275.72" y1="304.06" x2="277.52" y2="304.06" stroke="#8a8a8a" stroke-width="0.5"/>
<rect x="275.02" y="309.41" width="3.2" height="26.79" fill="url(#bar)"/>
<line x1="283.24" y1="296.59" x2="283.24" y2="310.37" stroke="#8a8a8a" stroke-width="0.55"/>
<line x1="282.34" y1="296.59" x2="284.14" y2="296.59" stroke="#8a8a8a" stroke-width="0.5"/>
<rect x="281.64" y="310.37" width="3.2" height="25.83" fill="url(#bar)"/>
<line x1="289.86" y1="321.66" x2="289.86" y2="322.42" stroke="#8a8a8a" stroke-width="0.55"/>
<line x1="288.96" y1="321.66" x2="290.76" y2="321.66" stroke="#8a8a8a" stroke-width="0.5"/>
<rect x="288.26" y="322.42" width="3.2" height="13.78" fill="url(#bar)"/>
<line x1="296.48" y1="309.03" x2="296.48" y2="315.15" stroke="#8a8a8a" stroke-width="0.55"/>
<line x1="295.58" y1="309.03" x2="297.38" y2="309.03" stroke="#8a8a8a" stroke-width="0.5"/>
<rect x="294.88" y="315.15" width="3.2" height="21.05" fill="url(#bar)"/>
<line x1="303.1" y1="282.63" x2="303.1" y2="296.02" stroke="#8a8a8a" stroke-width="0.55"/>
<line x1="302.2" y1="282.63" x2="304" y2="282.63" stroke="#8a8a8a" stroke-width="0.5"/>
<rect x="301.5" y="296.02" width="3.2" height="40.18" fill="url(#bar)"/>
<line x1="309.72" y1="333.14" x2="309.72" y2="333.71" stroke="#8a8a8a" stroke-width="0.55"/>
<line x1="308.82" y1="333.14" x2="310.62" y2="333.14" stroke="#8a8a8a" stroke-width="0.5"/>
<rect x="308.12" y="333.71" width="3.2" height="2.49" fill="url(#bar)"/>
<line x1="316.34" y1="329.69" x2="316.34" y2="330.84" stroke="#8a8a8a" stroke-width="0.55"/>
<line x1="315.44" y1="329.69" x2="317.24" y2="329.69" stroke="#8a8a8a" stroke-width="0.5"/>
<rect x="314.74" y="330.84" width="3.2" height="5.36" fill="url(#bar)"/>
<line x1="322.96" y1="328.55" x2="322.96" y2="330.46" stroke="#8a8a8a" stroke-width="0.55"/>
<line x1="322.06" y1="328.55" x2="323.86" y2="328.55" stroke="#8a8a8a" stroke-width="0.5"/>
<rect x="321.36" y="330.46" width="3.2" height="5.74" fill="url(#bar)"/>
<line x1="329.58" y1="333.9" x2="329.58" y2="334.29" stroke="#8a8a8a" stroke-width="0.55"/>
<line x1="328.68" y1="333.9" x2="330.48" y2="333.9" stroke="#8a8a8a" stroke-width="0.5"/>
<rect x="327.98" y="334.29" width="3.2" height="1.91" fill="url(#bar)"/>
<line x1="336.2" y1="331.23" x2="336.2" y2="331.99" stroke="#8a8a8a" stroke-width="0.55"/>
<line x1="335.3" y1="331.23" x2="337.1" y2="331.23" stroke="#8a8a8a" stroke-width="0.5"/>
<rect x="334.6" y="331.99" width="3.2" height="4.21" fill="url(#bar)"/>
<line x1="342.82" y1="332.76" x2="342.82" y2="333.33" stroke="#8a8a8a" stroke-width="0.55"/>
<line x1="341.92" y1="332.76" x2="343.72" y2="332.76" stroke="#8a8a8a" stroke-width="0.5"/>
<rect x="341.22" y="333.33" width="3.2" height="2.87" fill="url(#bar)"/>
<line x1="349.44" y1="332.76" x2="349.44" y2="333.33" stroke="#8a8a8a" stroke-width="0.55"/>
<line x1="348.54" y1="332.76" x2="350.34" y2="332.76" stroke="#8a8a8a" stroke-width="0.5"/>
<rect x="347.84" y="333.33" width="3.2" height="2.87" fill="url(#bar)"/>
<line x1="356.06" y1="329.69" x2="356.06" y2="330.65" stroke="#8a8a8a" stroke-width="0.55"/>
<line x1="355.16" y1="329.69" x2="356.96" y2="329.69" stroke="#8a8a8a" stroke-width="0.5"/>
<rect x="354.46" y="330.65" width="3.2" height="5.55" fill="url(#bar)"/>
<text x="272.05" y="339.4" font-size="6.21" font-weight="bold" text-anchor="end" fill="#0a0a0a" textLength="12.9" lengthAdjust="spacingAndGlyphs" transform="rotate(-90 272.05 339.4)" stroke="#0a0a0a" stroke-width="0.45">CDS1</text>
<text x="278.67" y="339.4" font-size="6.21" font-weight="bold" text-anchor="end" fill="#0a0a0a" textLength="12.9" lengthAdjust="spacingAndGlyphs" transform="rotate(-90 278.67 339.4)" stroke="#0a0a0a" stroke-width="0.45">CDS2</text>
<text x="285.29" y="339.4" font-size="6.21" font-weight="bold" text-anchor="end" fill="#0a0a0a" textLength="12.9" lengthAdjust="spacingAndGlyphs" transform="rotate(-90 285.29 339.4)" stroke="#0a0a0a" stroke-width="0.45">CDS3</text>
<text x="291.91" y="339.4" font-size="6.21" font-weight="bold" text-anchor="end" fill="#0a0a0a" textLength="12.9" lengthAdjust="spacingAndGlyphs" transform="rotate(-90 291.91 339.4)" stroke="#0a0a0a" stroke-width="0.45">CDS4</text>
<text x="298.53" y="339.4" font-size="6.21" font-weight="bold" text-anchor="end" fill="#0a0a0a" textLength="12.9" lengthAdjust="spacingAndGlyphs" transform="rotate(-90 298.53 339.4)" stroke="#0a0a0a" stroke-width="0.45">CDS5</text>
<text x="305.15" y="339.4" font-size="6.21" font-weight="bold" text-anchor="end" fill="#0a0a0a" textLength="12.9" lengthAdjust="spacingAndGlyphs" transform="rotate(-90 305.15 339.4)" stroke="#0a0a0a" stroke-width="0.45">CDS6</text>
<text x="311.77" y="339.4" font-size="6.21" font-weight="bold" text-anchor="end" fill="#0a0a0a" textLength="12.9" lengthAdjust="spacingAndGlyphs" transform="rotate(-90 311.77 339.4)" stroke="#0a0a0a" stroke-width="0.45">ES41</text>
<text x="318.39" y="339.4" font-size="6.21" font-weight="bold" text-anchor="end" fill="#0a0a0a" textLength="12.9" lengthAdjust="spacingAndGlyphs" transform="rotate(-90 318.39 339.4)" stroke="#0a0a0a" stroke-width="0.45">ES46</text>
<text x="325.01" y="339.4" font-size="6.21" font-weight="bold" text-anchor="end" fill="#0a0a0a" textLength="12.9" lengthAdjust="spacingAndGlyphs" transform="rotate(-90 325.01 339.4)" stroke="#0a0a0a" stroke-width="0.45">ES47</text>
<text x="331.63" y="339.4" font-size="6.21" font-weight="bold" text-anchor="end" fill="#0a0a0a" textLength="12.9" lengthAdjust="spacingAndGlyphs" transform="rotate(-90 331.63 339.4)" stroke="#0a0a0a" stroke-width="0.45">ES48</text>
<text x="338.25" y="339.4" font-size="6.21" font-weight="bold" text-anchor="end" fill="#0a0a0a" textLength="12.9" lengthAdjust="spacingAndGlyphs" transform="rotate(-90 338.25 339.4)" stroke="#0a0a0a" stroke-width="0.45">ES49</text>
<text x="344.87" y="339.4" font-size="6.21" font-weight="bold" text-anchor="end" fill="#0a0a0a" textLength="12.9" lengthAdjust="spacingAndGlyphs" transform="rotate(-90 344.87 339.4)" stroke="#0a0a0a" stroke-width="0.45">ES51</text>
<text x="351.49" y="339.4" font-size="6.21" font-weight="bold" text-anchor="end" fill="#0a0a0a" textLength="33" lengthAdjust="spacingAndGlyphs" transform="rotate(-90 351.49 339.4)" stroke="#0a0a0a" stroke-width="0.12">Vector 48 hr</text>
<text x="358.11" y="339.4" font-size="6.21" font-weight="bold" text-anchor="end" fill="#0a0a0a" textLength="41.5" lengthAdjust="spacingAndGlyphs" transform="rotate(-90 358.11 339.4)" stroke="#0a0a0a" stroke-width="0.12">CIC-DUX4 48 hr</text>
<rect x="267.5" y="354.5" width="38" height="1.6" fill="#000"/>
<rect x="308.7" y="354.5" width="37.3" height="1.6" fill="#000"/>
<text x="288" y="365.3" font-size="8.59" text-anchor="middle" textLength="22.4" lengthAdjust="spacingAndGlyphs" stroke="#000" stroke-width="0.4">mCDS</text>
<text x="326.85" y="365.3" font-size="8.59" text-anchor="middle" textLength="17.2" lengthAdjust="spacingAndGlyphs" stroke="#000" stroke-width="0.4">mES</text>
<text x="438.7" y="270.4" font-size="11.9" font-weight="bold" text-anchor="middle" textLength="17.5" lengthAdjust="spacingAndGlyphs" font-style="italic" stroke="#000" stroke-width="0.2">Ret</text>
<line x1="389.2" y1="322.3" x2="487.5" y2="322.3" stroke="#ececec" stroke-width="0.5"/>
<line x1="389.2" y1="308" x2="487.5" y2="308" stroke="#ececec" stroke-width="0.5"/>
<line x1="389.2" y1="293.7" x2="487.5" y2="293.7" stroke="#ececec" stroke-width="0.5"/>
<line x1="389.2" y1="279.4" x2="487.5" y2="279.4" stroke="#ececec" stroke-width="0.5"/>
<line x1="389.2" y1="336.6" x2="487.5" y2="336.6" stroke="#bdbdbd" stroke-width="0.6"/>
<text x="386.7" y="338.5" font-size="5.59" font-weight="bold" text-anchor="end" fill="#0a0a0a" stroke="#0a0a0a" stroke-width="0.25">0</text>
<text x="386.7" y="324.2" font-size="5.59" font-weight="bold" text-anchor="end" fill="#0a0a0a" stroke="#0a0a0a" stroke-width="0.25">1,000</text>
<text x="386.7" y="309.9" font-size="5.59" font-weight="bold" text-anchor="end" fill="#0a0a0a" stroke="#0a0a0a" stroke-width="0.25">2,000</text>
<text x="386.7" y="295.6" font-size="5.59" font-weight="bold" text-anchor="end" fill="#0a0a0a" stroke="#0a0a0a" stroke-width="0.25">3,000</text>
<text x="386.7" y="281.3" font-size="5.59" font-weight="bold" text-anchor="end" fill="#0a0a0a" stroke="#0a0a0a" stroke-width="0.25">4,000</text>
<rect x="391.4" y="314.86" width="3" height="21.74" fill="url(#bar)"/>
<rect x="398.27" y="282.69" width="3" height="53.91" fill="url(#bar)"/>
<rect x="405.14" y="328.45" width="3" height="8.15" fill="url(#bar)"/>
<rect x="412.01" y="322.73" width="3" height="13.87" fill="url(#bar)"/>
<rect x="418.88" y="325.45" width="3" height="11.15" fill="url(#bar)"/>
<rect x="425.75" y="320.3" width="3" height="16.3" fill="url(#bar)"/>
<rect x="473.84" y="334.6" width="3" height="2" fill="url(#bar)"/>
<rect x="480.71" y="334.31" width="3" height="2.29" fill="url(#bar)"/>
<text x="394.95" y="339.2" font-size="6.21" font-weight="bold" text-anchor="end" fill="#0a0a0a" textLength="12.9" lengthAdjust="spacingAndGlyphs" transform="rotate(-90 394.95 339.2)" stroke="#0a0a0a" stroke-width="0.45">CDS1</text>
<text x="401.82" y="339.2" font-size="6.21" font-weight="bold" text-anchor="end" fill="#0a0a0a" textLength="12.9" lengthAdjust="spacingAndGlyphs" transform="rotate(-90 401.82 339.2)" stroke="#0a0a0a" stroke-width="0.45">CDS2</text>
<text x="408.69" y="339.2" font-size="6.21" font-weight="bold" text-anchor="end" fill="#0a0a0a" textLength="12.9" lengthAdjust="spacingAndGlyphs" transform="rotate(-90 408.69 339.2)" stroke="#0a0a0a" stroke-width="0.45">CDS3</text>
<text x="415.56" y="339.2" font-size="6.21" font-weight="bold" text-anchor="end" fill="#0a0a0a" textLength="12.9" lengthAdjust="spacingAndGlyphs" transform="rotate(-90 415.56 339.2)" stroke="#0a0a0a" stroke-width="0.45">CDS4</text>
<text x="422.43" y="339.2" font-size="6.21" font-weight="bold" text-anchor="end" fill="#0a0a0a" textLength="12.9" lengthAdjust="spacingAndGlyphs" transform="rotate(-90 422.43 339.2)" stroke="#0a0a0a" stroke-width="0.45">CDS5</text>
<text x="429.3" y="339.2" font-size="6.21" font-weight="bold" text-anchor="end" fill="#0a0a0a" textLength="12.9" lengthAdjust="spacingAndGlyphs" transform="rotate(-90 429.3 339.2)" stroke="#0a0a0a" stroke-width="0.45">CDS6</text>
<text x="436.17" y="339.2" font-size="6.21" font-weight="bold" text-anchor="end" fill="#0a0a0a" textLength="12.9" lengthAdjust="spacingAndGlyphs" transform="rotate(-90 436.17 339.2)" stroke="#0a0a0a" stroke-width="0.45">ES41</text>
<text x="443.04" y="339.2" font-size="6.21" font-weight="bold" text-anchor="end" fill="#0a0a0a" textLength="12.9" lengthAdjust="spacingAndGlyphs" transform="rotate(-90 443.04 339.2)" stroke="#0a0a0a" stroke-width="0.45">ES46</text>
<text x="449.91" y="339.2" font-size="6.21" font-weight="bold" text-anchor="end" fill="#0a0a0a" textLength="12.9" lengthAdjust="spacingAndGlyphs" transform="rotate(-90 449.91 339.2)" stroke="#0a0a0a" stroke-width="0.45">ES47</text>
<text x="456.78" y="339.2" font-size="6.21" font-weight="bold" text-anchor="end" fill="#0a0a0a" textLength="12.9" lengthAdjust="spacingAndGlyphs" transform="rotate(-90 456.78 339.2)" stroke="#0a0a0a" stroke-width="0.45">ES48</text>
<text x="463.65" y="339.2" font-size="6.21" font-weight="bold" text-anchor="end" fill="#0a0a0a" textLength="12.9" lengthAdjust="spacingAndGlyphs" transform="rotate(-90 463.65 339.2)" stroke="#0a0a0a" stroke-width="0.45">ES49</text>
<text x="470.52" y="339.2" font-size="6.21" font-weight="bold" text-anchor="end" fill="#0a0a0a" textLength="12.9" lengthAdjust="spacingAndGlyphs" transform="rotate(-90 470.52 339.2)" stroke="#0a0a0a" stroke-width="0.45">ES51</text>
<text x="477.39" y="339.2" font-size="6.21" font-weight="bold" text-anchor="end" fill="#0a0a0a" textLength="33" lengthAdjust="spacingAndGlyphs" transform="rotate(-90 477.39 339.2)" stroke="#0a0a0a" stroke-width="0.12">Vector 48 hr</text>
<text x="484.26" y="339.2" font-size="6.21" font-weight="bold" text-anchor="end" fill="#0a0a0a" textLength="41.5" lengthAdjust="spacingAndGlyphs" transform="rotate(-90 484.26 339.2)" stroke="#0a0a0a" stroke-width="0.12">CIC-DUX4 48 hr</text>
<rect x="392" y="354.8" width="38" height="1.6" fill="#000"/>
<rect x="433.7" y="354.8" width="36.8" height="1.6" fill="#000"/>
<text x="409.9" y="365.8" font-size="8.59" text-anchor="middle" textLength="22.4" lengthAdjust="spacingAndGlyphs" stroke="#000" stroke-width="0.4">mCDS</text>
<text x="451.6" y="365.8" font-size="8.59" text-anchor="middle" textLength="17.2" lengthAdjust="spacingAndGlyphs" stroke="#000" stroke-width="0.4">mES</text>
<text x="81.2" y="404.8" font-size="11.9" font-weight="bold" text-anchor="middle" textLength="37.5" lengthAdjust="spacingAndGlyphs" font-style="italic" stroke="#000" stroke-width="0.2">Muc5ac</text>
<line x1="32.3" y1="463.48" x2="129" y2="463.48" stroke="#ebebeb" stroke-width="0.5"/>
<line x1="32.3" y1="457.76" x2="129" y2="457.76" stroke="#ebebeb" stroke-width="0.5"/>
<line x1="32.3" y1="452.04" x2="129" y2="452.04" stroke="#ebebeb" stroke-width="0.5"/>
<line x1="32.3" y1="446.32" x2="129" y2="446.32" stroke="#ebebeb" stroke-width="0.5"/>
<line x1="32.3" y1="440.6" x2="129" y2="440.6" stroke="#ebebeb" stroke-width="0.5"/>
<line x1="32.3" y1="434.88" x2="129" y2="434.88" stroke="#ebebeb" stroke-width="0.5"/>
<line x1="32.3" y1="429.16" x2="129" y2="429.16" stroke="#ebebeb" stroke-width="0.5"/>
<line x1="32.3" y1="423.44" x2="129" y2="423.44" stroke="#ebebeb" stroke-width="0.5"/>
<line x1="32.3" y1="417.72" x2="129" y2="417.72" stroke="#ebebeb" stroke-width="0.5"/>
<line x1="32.3" y1="412" x2="129" y2="412" stroke="#ebebeb" stroke-width="0.5"/>
<line x1="32.3" y1="469.2" x2="129" y2="469.2" stroke="#bdbdbd" stroke-width="0.6"/>
<text x="30.8" y="471.1" font-size="6.11" font-weight="bold" text-anchor="end" fill="#0a0a0a" stroke="#0a0a0a" stroke-width="0.25">0</text>
<text x="30.8" y="459.66" font-size="6.11" font-weight="bold" text-anchor="end" fill="#0a0a0a" stroke="#0a0a0a" stroke-width="0.25">10</text>
<text x="30.8" y="448.22" font-size="6.11" font-weight="bold" text-anchor="end" fill="#0a0a0a" stroke="#0a0a0a" stroke-width="0.25">20</text>
<text x="30.8" y="436.78" font-size="6.11" font-weight="bold" text-anchor="end" fill="#0a0a0a" stroke="#0a0a0a" stroke-width="0.25">30</text>
<text x="30.8" y="425.34" font-size="6.11" font-weight="bold" text-anchor="end" fill="#0a0a0a" stroke="#0a0a0a" stroke-width="0.25">40</text>
<text x="30.8" y="413.9" font-size="6.11" font-weight="bold" text-anchor="end" fill="#0a0a0a" stroke="#0a0a0a" stroke-width="0.25">50</text>
<rect x="35.15" y="450.55" width="2.9" height="18.65" fill="url(#bar)"/>
<rect x="41.98" y="437.17" width="2.9" height="32.03" fill="url(#bar)"/>
<rect x="48.81" y="435.11" width="2.9" height="34.09" fill="url(#bar)"/>
<rect x="55.64" y="439.46" width="2.9" height="29.74" fill="url(#bar)"/>
<rect x="62.47" y="460.05" width="2.9" height="9.15" fill="url(#bar)"/>
<rect x="69.3" y="417.15" width="2.9" height="52.05" fill="url(#bar)"/>
<rect x="110.28" y="468.74" width="2.9" height="0.46" fill="url(#bar)"/>
<text x="38.65" y="472.4" font-size="6.21" font-weight="bold" text-anchor="end" fill="#0a0a0a" textLength="12.9" lengthAdjust="spacingAndGlyphs" transform="rotate(-90 38.65 472.4)" stroke="#0a0a0a" stroke-width="0.45">CDS1</text>
<text x="45.48" y="472.4" font-size="6.21" font-weight="bold" text-anchor="end" fill="#0a0a0a" textLength="12.9" lengthAdjust="spacingAndGlyphs" transform="rotate(-90 45.48 472.4)" stroke="#0a0a0a" stroke-width="0.45">CDS2</text>
<text x="52.31" y="472.4" font-size="6.21" font-weight="bold" text-anchor="end" fill="#0a0a0a" textLength="12.9" lengthAdjust="spacingAndGlyphs" transform="rotate(-90 52.31 472.4)" stroke="#0a0a0a" stroke-width="0.45">CDS3</text>
<text x="59.14" y="472.4" font-size="6.21" font-weight="bold" text-anchor="end" fill="#0a0a0a" textLength="12.9" lengthAdjust="spacingAndGlyphs" transform="rotate(-90 59.14 472.4)" stroke="#0a0a0a" stroke-width="0.45">CDS4</text>
<text x="65.97" y="472.4" font-size="6.21" font-weight="bold" text-anchor="end" fill="#0a0a0a" textLength="12.9" lengthAdjust="spacingAndGlyphs" transform="rotate(-90 65.97 472.4)" stroke="#0a0a0a" stroke-width="0.45">CDS5</text>
<text x="72.8" y="472.4" font-size="6.21" font-weight="bold" text-anchor="end" fill="#0a0a0a" textLength="12.9" lengthAdjust="spacingAndGlyphs" transform="rotate(-90 72.8 472.4)" stroke="#0a0a0a" stroke-width="0.45">CDS6</text>
<text x="79.63" y="472.4" font-size="6.21" font-weight="bold" text-anchor="end" fill="#0a0a0a" textLength="12.9" lengthAdjust="spacingAndGlyphs" transform="rotate(-90 79.63 472.4)" stroke="#0a0a0a" stroke-width="0.45">ES41</text>
<text x="86.46" y="472.4" font-size="6.21" font-weight="bold" text-anchor="end" fill="#0a0a0a" textLength="12.9" lengthAdjust="spacingAndGlyphs" transform="rotate(-90 86.46 472.4)" stroke="#0a0a0a" stroke-width="0.45">ES46</text>
<text x="93.29" y="472.4" font-size="6.21" font-weight="bold" text-anchor="end" fill="#0a0a0a" textLength="12.9" lengthAdjust="spacingAndGlyphs" transform="rotate(-90 93.29 472.4)" stroke="#0a0a0a" stroke-width="0.45">ES47</text>
<text x="100.12" y="472.4" font-size="6.21" font-weight="bold" text-anchor="end" fill="#0a0a0a" textLength="12.9" lengthAdjust="spacingAndGlyphs" transform="rotate(-90 100.12 472.4)" stroke="#0a0a0a" stroke-width="0.45">ES48</text>
<text x="106.95" y="472.4" font-size="6.21" font-weight="bold" text-anchor="end" fill="#0a0a0a" textLength="12.9" lengthAdjust="spacingAndGlyphs" transform="rotate(-90 106.95 472.4)" stroke="#0a0a0a" stroke-width="0.45">ES49</text>
<text x="113.78" y="472.4" font-size="6.21" font-weight="bold" text-anchor="end" fill="#0a0a0a" textLength="12.9" lengthAdjust="spacingAndGlyphs" transform="rotate(-90 113.78 472.4)" stroke="#0a0a0a" stroke-width="0.45">ES51</text>
<text x="121.51" y="472.4" font-size="6.21" font-weight="bold" text-anchor="end" fill="#0a0a0a" textLength="33" lengthAdjust="spacingAndGlyphs" transform="rotate(-90 121.51 472.4)" stroke="#0a0a0a" stroke-width="0.12">Vector 48 hr</text>
<text x="128.34" y="472.4" font-size="6.21" font-weight="bold" text-anchor="end" fill="#0a0a0a" textLength="41.5" lengthAdjust="spacingAndGlyphs" transform="rotate(-90 128.34 472.4)" stroke="#0a0a0a" stroke-width="0.12">CIC-DUX4 48 hr</text>
<rect x="34.6" y="489.2" width="36.9" height="1.6" fill="#000"/>
<rect x="76.2" y="489.2" width="36.3" height="1.6" fill="#000"/>
<text x="53.85" y="499.6" font-size="8.59" text-anchor="middle" textLength="22.4" lengthAdjust="spacingAndGlyphs" stroke="#000" stroke-width="0.4">mCDS</text>
<text x="92.95" y="499.6" font-size="8.59" text-anchor="middle" textLength="17.2" lengthAdjust="spacingAndGlyphs" stroke="#000" stroke-width="0.4">mES</text>
<text x="201.2" y="404.8" font-size="11.9" font-weight="bold" text-anchor="middle" textLength="22.5" lengthAdjust="spacingAndGlyphs" font-style="italic" stroke="#000" stroke-width="0.2">Etv4</text>
<line x1="151" y1="461.38" x2="245" y2="461.38" stroke="#d9d9d9" stroke-width="0.5"/>
<line x1="151" y1="453.27" x2="245" y2="453.27" stroke="#d9d9d9" stroke-width="0.5"/>
<line x1="151" y1="445.15" x2="245" y2="445.15" stroke="#d9d9d9" stroke-width="0.5"/>
<line x1="151" y1="437.03" x2="245" y2="437.03" stroke="#d9d9d9" stroke-width="0.5"/>
<line x1="151" y1="428.92" x2="245" y2="428.92" stroke="#d9d9d9" stroke-width="0.5"/>
<line x1="151" y1="420.8" x2="245" y2="420.8" stroke="#d9d9d9" stroke-width="0.5"/>
<line x1="151" y1="469.5" x2="245" y2="469.5" stroke="#bdbdbd" stroke-width="0.6"/>
<text x="149.3" y="471.4" font-size="6" font-weight="bold" text-anchor="end" fill="#0a0a0a" stroke="#0a0a0a" stroke-width="0.25">0</text>
<text x="149.3" y="455.17" font-size="6" font-weight="bold" text-anchor="end" fill="#0a0a0a" stroke="#0a0a0a" stroke-width="0.25">4</text>
<text x="149.3" y="438.93" font-size="6" font-weight="bold" text-anchor="end" fill="#0a0a0a" stroke="#0a0a0a" stroke-width="0.25">8</text>
<text x="149.3" y="422.7" font-size="6" font-weight="bold" text-anchor="end" fill="#0a0a0a" stroke="#0a0a0a" stroke-width="0.25">12</text>
<line x1="154.9" y1="416.34" x2="154.9" y2="427.7" stroke="#8a8a8a" stroke-width="0.55"/>
<line x1="154" y1="416.34" x2="155.8" y2="416.34" stroke="#8a8a8a" stroke-width="0.5"/>
<rect x="153.15" y="427.7" width="3.5" height="41.8" fill="url(#bar2)"/>
<line x1="161.6" y1="418.97" x2="161.6" y2="424.66" stroke="#8a8a8a" stroke-width="0.55"/>
<line x1="160.7" y1="418.97" x2="162.5" y2="418.97" stroke="#8a8a8a" stroke-width="0.5"/>
<rect x="159.85" y="424.66" width="3.5" height="44.84" fill="url(#bar2)"/>
<line x1="168.3" y1="424.05" x2="168.3" y2="430.54" stroke="#8a8a8a" stroke-width="0.55"/>
<line x1="167.4" y1="424.05" x2="169.2" y2="424.05" stroke="#8a8a8a" stroke-width="0.5"/>
<rect x="166.55" y="430.54" width="3.5" height="38.96" fill="url(#bar2)"/>
<line x1="175" y1="421" x2="175" y2="424.66" stroke="#8a8a8a" stroke-width="0.55"/>
<line x1="174.1" y1="421" x2="175.9" y2="421" stroke="#8a8a8a" stroke-width="0.5"/>
<rect x="173.25" y="424.66" width="3.5" height="44.84" fill="url(#bar2)"/>
<line x1="181.7" y1="454.89" x2="181.7" y2="455.7" stroke="#8a8a8a" stroke-width="0.55"/>
<line x1="180.8" y1="454.89" x2="182.6" y2="454.89" stroke="#8a8a8a" stroke-width="0.5"/>
<rect x="179.95" y="455.7" width="3.5" height="13.8" fill="url(#bar2)"/>
<line x1="188.4" y1="417.96" x2="188.4" y2="421.21" stroke="#8a8a8a" stroke-width="0.55"/>
<line x1="187.5" y1="417.96" x2="189.3" y2="417.96" stroke="#8a8a8a" stroke-width="0.5"/>
<rect x="186.65" y="421.21" width="3.5" height="48.29" fill="url(#bar2)"/>
<line x1="195.1" y1="464.63" x2="195.1" y2="465.44" stroke="#8a8a8a" stroke-width="0.55"/>
<line x1="194.2" y1="464.63" x2="196" y2="464.63" stroke="#8a8a8a" stroke-width="0.5"/>
<rect x="193.35" y="465.44" width="3.5" height="4.06" fill="url(#bar2)"/>
<rect x="200.05" y="467.88" width="3.5" height="1.62" fill="url(#bar2)"/>
<line x1="208.5" y1="464.63" x2="208.5" y2="465.44" stroke="#8a8a8a" stroke-width="0.55"/>
<line x1="207.6" y1="464.63" x2="209.4" y2="464.63" stroke="#8a8a8a" stroke-width="0.5"/>
<rect x="206.75" y="465.44" width="3.5" height="4.06" fill="url(#bar2)"/>
<rect x="213.45" y="467.88" width="3.5" height="1.62" fill="url(#bar2)"/>
<line x1="221.9" y1="464.63" x2="221.9" y2="465.44" stroke="#8a8a8a" stroke-width="0.55"/>
<line x1="221" y1="464.63" x2="222.8" y2="464.63" stroke="#8a8a8a" stroke-width="0.5"/>
<rect x="220.15" y="465.44" width="3.5" height="4.06" fill="url(#bar2)"/>
<rect x="226.85" y="467.88" width="3.5" height="1.62" fill="url(#bar2)"/>
<rect x="233.55" y="468.89" width="3.5" height="0.61" fill="url(#bar2)"/>
<rect x="240.25" y="468.89" width="3.5" height="0.61" fill="url(#bar2)"/>
<text x="156.95" y="472" font-size="6.21" font-weight="bold" text-anchor="end" fill="#0a0a0a" textLength="12.9" lengthAdjust="spacingAndGlyphs" transform="rotate(-90 156.95 472)" stroke="#0a0a0a" stroke-width="0.45">CDS1</text>
<text x="163.65" y="472" font-size="6.21" font-weight="bold" text-anchor="end" fill="#0a0a0a" textLength="12.9" lengthAdjust="spacingAndGlyphs" transform="rotate(-90 163.65 472)" stroke="#0a0a0a" stroke-width="0.45">CDS2</text>
<text x="170.35" y="472" font-size="6.21" font-weight="bold" text-anchor="end" fill="#0a0a0a" textLength="12.9" lengthAdjust="spacingAndGlyphs" transform="rotate(-90 170.35 472)" stroke="#0a0a0a" stroke-width="0.45">CDS3</text>
<text x="177.05" y="472" font-size="6.21" font-weight="bold" text-anchor="end" fill="#0a0a0a" textLength="12.9" lengthAdjust="spacingAndGlyphs" transform="rotate(-90 177.05 472)" stroke="#0a0a0a" stroke-width="0.45">CDS4</text>
<text x="183.75" y="472" font-size="6.21" font-weight="bold" text-anchor="end" fill="#0a0a0a" textLength="12.9" lengthAdjust="spacingAndGlyphs" transform="rotate(-90 183.75 472)" stroke="#0a0a0a" stroke-width="0.45">CDS5</text>
<text x="190.45" y="472" font-size="6.21" font-weight="bold" text-anchor="end" fill="#0a0a0a" textLength="12.9" lengthAdjust="spacingAndGlyphs" transform="rotate(-90 190.45 472)" stroke="#0a0a0a" stroke-width="0.45">CDS6</text>
<text x="197.15" y="472" font-size="6.21" font-weight="bold" text-anchor="end" fill="#0a0a0a" textLength="12.9" lengthAdjust="spacingAndGlyphs" transform="rotate(-90 197.15 472)" stroke="#0a0a0a" stroke-width="0.45">ES41</text>
<text x="203.85" y="472" font-size="6.21" font-weight="bold" text-anchor="end" fill="#0a0a0a" textLength="12.9" lengthAdjust="spacingAndGlyphs" transform="rotate(-90 203.85 472)" stroke="#0a0a0a" stroke-width="0.45">ES46</text>
<text x="210.55" y="472" font-size="6.21" font-weight="bold" text-anchor="end" fill="#0a0a0a" textLength="12.9" lengthAdjust="spacingAndGlyphs" transform="rotate(-90 210.55 472)" stroke="#0a0a0a" stroke-width="0.45">ES47</text>
<text x="217.25" y="472" font-size="6.21" font-weight="bold" text-anchor="end" fill="#0a0a0a" textLength="12.9" lengthAdjust="spacingAndGlyphs" transform="rotate(-90 217.25 472)" stroke="#0a0a0a" stroke-width="0.45">ES48</text>
<text x="223.95" y="472" font-size="6.21" font-weight="bold" text-anchor="end" fill="#0a0a0a" textLength="12.9" lengthAdjust="spacingAndGlyphs" transform="rotate(-90 223.95 472)" stroke="#0a0a0a" stroke-width="0.45">ES49</text>
<text x="230.65" y="472" font-size="6.21" font-weight="bold" text-anchor="end" fill="#0a0a0a" textLength="12.9" lengthAdjust="spacingAndGlyphs" transform="rotate(-90 230.65 472)" stroke="#0a0a0a" stroke-width="0.45">ES51</text>
<text x="237.35" y="472" font-size="6.21" font-weight="bold" text-anchor="end" fill="#0a0a0a" textLength="33" lengthAdjust="spacingAndGlyphs" transform="rotate(-90 237.35 472)" stroke="#0a0a0a" stroke-width="0.12">Vector 48 hr</text>
<text x="244.05" y="472" font-size="6.21" font-weight="bold" text-anchor="end" fill="#0a0a0a" textLength="41.5" lengthAdjust="spacingAndGlyphs" transform="rotate(-90 244.05 472)" stroke="#0a0a0a" stroke-width="0.12">CIC-DUX4 48 hr</text>
<rect x="153" y="489.2" width="35.7" height="1.6" fill="#000"/>
<rect x="192.5" y="489.2" width="38.7" height="1.6" fill="#000"/>
<text x="170.9" y="499.6" font-size="8.59" text-anchor="middle" textLength="22.4" lengthAdjust="spacingAndGlyphs" stroke="#000" stroke-width="0.4">mCDS</text>
<text x="216.15" y="499.6" font-size="8.59" text-anchor="middle" textLength="17.2" lengthAdjust="spacingAndGlyphs" stroke="#000" stroke-width="0.4">mES</text>
<rect x="247.4" y="407.7" width="1.4" height="64" fill="#dedede"/>
<text x="262.8" y="402.4" font-size="15.01" font-weight="bold">F</text>
<text x="329.9" y="400" font-size="10.56" font-weight="bold" textLength="28.1" lengthAdjust="spacingAndGlyphs" stroke="#000" stroke-width="0.3">VEGF</text>
<rect x="282.4" y="404.3" width="115" height="2.2" fill="#000"/>
<text x="442.3" y="400" font-size="10.56" font-weight="bold" textLength="33.4" lengthAdjust="spacingAndGlyphs" stroke="#000" stroke-width="0.3">Ccnd1</text>
<rect x="404.2" y="404.3" width="114.3" height="2.2" fill="#000"/>
<rect x="284" y="407" width="112.3" height="105.2" fill="#f2f2f2"/>
<rect x="297.2" y="413.5" width="94.2" height="43.9" fill="#fff" stroke="#cfcfcf" stroke-width="0.4"/>
<line x1="297.2" y1="416.24" x2="391.4" y2="416.24" stroke="#e6e6e6" stroke-width="0.4"/>
<text x="295.8" y="417.24" font-size="2.48" font-weight="bold" text-anchor="end" fill="#5a6070">0.45</text>
<line x1="297.2" y1="419.9" x2="391.4" y2="419.9" stroke="#e6e6e6" stroke-width="0.4"/>
<text x="295.8" y="420.9" font-size="2.48" font-weight="bold" text-anchor="end" fill="#5a6070">0.40</text>
<line x1="297.2" y1="423.56" x2="391.4" y2="423.56" stroke="#e6e6e6" stroke-width="0.4"/>
<text x="295.8" y="424.56" font-size="2.48" font-weight="bold" text-anchor="end" fill="#5a6070">0.35</text>
<line x1="297.2" y1="427.22" x2="391.4" y2="427.22" stroke="#e6e6e6" stroke-width="0.4"/>
<text x="295.8" y="428.22" font-size="2.48" font-weight="bold" text-anchor="end" fill="#5a6070">0.30</text>
<line x1="297.2" y1="430.88" x2="391.4" y2="430.88" stroke="#e6e6e6" stroke-width="0.4"/>
<text x="295.8" y="431.88" font-size="2.48" font-weight="bold" text-anchor="end" fill="#5a6070">0.25</text>
<line x1="297.2" y1="434.54" x2="391.4" y2="434.54" stroke="#e6e6e6" stroke-width="0.4"/>
<text x="295.8" y="435.54" font-size="2.48" font-weight="bold" text-anchor="end" fill="#5a6070">0.20</text>
<line x1="297.2" y1="438.19" x2="391.4" y2="438.19" stroke="#e6e6e6" stroke-width="0.4"/>
<text x="295.8" y="439.19" font-size="2.48" font-weight="bold" text-anchor="end" fill="#5a6070">0.15</text>
<line x1="297.2" y1="441.85" x2="391.4" y2="441.85" stroke="#e6e6e6" stroke-width="0.4"/>
<text x="295.8" y="442.85" font-size="2.48" font-weight="bold" text-anchor="end" fill="#5a6070">0.10</text>
<line x1="297.2" y1="445.51" x2="391.4" y2="445.51" stroke="#e6e6e6" stroke-width="0.4"/>
<text x="295.8" y="446.51" font-size="2.48" font-weight="bold" text-anchor="end" fill="#5a6070">0.05</text>
<line x1="297.2" y1="449.17" x2="391.4" y2="449.17" stroke="#e6e6e6" stroke-width="0.4"/>
<text x="295.8" y="450.17" font-size="2.48" font-weight="bold" text-anchor="end" fill="#5a6070">0.00</text>
<line x1="297.2" y1="452.83" x2="391.4" y2="452.83" stroke="#e6e6e6" stroke-width="0.4"/>
<text x="295.8" y="453.83" font-size="2.48" font-weight="bold" text-anchor="end" fill="#5a6070">0.05</text>
<line x1="297.2" y1="456.49" x2="391.4" y2="456.49" stroke="#e6e6e6" stroke-width="0.4"/>
<text x="295.8" y="457.49" font-size="2.48" font-weight="bold" text-anchor="end" fill="#5a6070">0.10</text>
<line x1="307.67" y1="413.5" x2="307.67" y2="457.4" stroke="#ececec" stroke-width="0.4"/>
<line x1="318.13" y1="413.5" x2="318.13" y2="457.4" stroke="#ececec" stroke-width="0.4"/>
<line x1="328.6" y1="413.5" x2="328.6" y2="457.4" stroke="#ececec" stroke-width="0.4"/>
<line x1="339.07" y1="413.5" x2="339.07" y2="457.4" stroke="#ececec" stroke-width="0.4"/>
<line x1="349.53" y1="413.5" x2="349.53" y2="457.4" stroke="#ececec" stroke-width="0.4"/>
<line x1="360" y1="413.5" x2="360" y2="457.4" stroke="#ececec" stroke-width="0.4"/>
<line x1="370.47" y1="413.5" x2="370.47" y2="457.4" stroke="#ececec" stroke-width="0.4"/>
<line x1="380.93" y1="413.5" x2="380.93" y2="457.4" stroke="#ececec" stroke-width="0.4"/>
<line x1="297.2" y1="453.5" x2="391.4" y2="453.5" stroke="#b4b4b4" stroke-width="0.5"/>
<rect x="297.2" y="457.4" width="94.2" height="14.1" fill="#fff"/>
<path d="M297.5 457.9h0.9V471.5h-0.9z" stroke="none" stroke-width="0" fill="#101010"/>
<path d="M299.9 457.9h1.04V471.5h-1.04zM310.71 457.9h1.65V471.5h-1.65z" stroke="none" stroke-width="0" fill="#1c1c1c"/>
<path d="M304.14 457.9h1.27V471.5h-1.27z" stroke="none" stroke-width="0" fill="#484848"/>
<path d="M306.31 457.9h1.33V471.5h-1.33z" stroke="none" stroke-width="0" fill="#0c0c0c"/>
<path d="M308.22 457.9h1.82V471.5h-1.82zM315.56 457.9h1.53V471.5h-1.53zM320.29 457.9h1.58V471.5h-1.58z" stroke="none" stroke-width="0" fill="#1a1a1a"/>
<path d="M324.11 457.9h0.74V471.5h-0.74z" stroke="none" stroke-width="0" fill="#303030"/>
<path d="M326.77 457.9h0.8V471.5h-0.8zM347.35 457.9h0.69V471.5h-0.69zM355.42 457.9h0.54V471.5h-0.54zM358.71 457.9h0.62V471.5h-0.62zM379.25 457.9h0.69V471.5h-0.69zM380.61 457.9h0.58V471.5h-0.58z" stroke="none" stroke-width="0" fill="#3a3a3a"/>
<path d="M328.19 457.9h0.82V471.5h-0.82zM335.38 457.9h0.54V471.5h-0.54zM337.29 457.9h0.86V471.5h-0.86zM340.57 457.9h0.55V471.5h-0.55zM353.58 457.9h0.61V471.5h-0.61zM363.2 457.9h0.64V471.5h-0.64zM367.92 457.9h0.94V471.5h-0.94z" stroke="none" stroke-width="0" fill="#555"/>
<path d="M329.77 457.9h0.91V471.5h-0.91zM331.85 457.9h0.81V471.5h-0.81zM341.88 457.9h0.69V471.5h-0.69zM343.44 457.9h0.91V471.5h-0.91zM345.36 457.9h0.93V471.5h-0.93zM348.67 457.9h0.5V471.5h-0.5zM372.04 457.9h0.7V471.5h-0.7zM376.38 457.9h0.48V471.5h-0.48zM381.83 457.9h0.57V471.5h-0.57zM389.23 457.9h0.82V471.5h-0.82z" stroke="none" stroke-width="0" fill="#808080"/>
<path d="M349.78 457.9h0.49V471.5h-0.49zM360.27 457.9h0.53V471.5h-0.53zM365.79 457.9h0.9V471.5h-0.9zM374.65 457.9h0.92V471.5h-0.92zM383.09 457.9h0.62V471.5h-0.62z" stroke="none" stroke-width="0" fill="#707070"/>
<rect x="297.2" y="471.5" width="94.2" height="3.7" fill="url(#g21)"/>
<rect x="297.2" y="475.2" width="94.2" height="29.4" fill="#fff" stroke="#cfcfcf" stroke-width="0.4"/>
<line x1="297.2" y1="481.08" x2="391.4" y2="481.08" stroke="#e9e9e9" stroke-width="0.4"/>
<line x1="297.2" y1="486.96" x2="391.4" y2="486.96" stroke="#e9e9e9" stroke-width="0.4"/>
<line x1="297.2" y1="492.84" x2="391.4" y2="492.84" stroke="#e9e9e9" stroke-width="0.4"/>
<line x1="297.2" y1="498.72" x2="391.4" y2="498.72" stroke="#e9e9e9" stroke-width="0.4"/>
<line x1="307.67" y1="475.2" x2="307.67" y2="504.6" stroke="#efefef" stroke-width="0.4"/>
<line x1="318.13" y1="475.2" x2="318.13" y2="504.6" stroke="#efefef" stroke-width="0.4"/>
<line x1="328.6" y1="475.2" x2="328.6" y2="504.6" stroke="#efefef" stroke-width="0.4"/>
<line x1="339.07" y1="475.2" x2="339.07" y2="504.6" stroke="#efefef" stroke-width="0.4"/>
<line x1="349.53" y1="475.2" x2="349.53" y2="504.6" stroke="#efefef" stroke-width="0.4"/>
<line x1="360" y1="475.2" x2="360" y2="504.6" stroke="#efefef" stroke-width="0.4"/>
<line x1="370.47" y1="475.2" x2="370.47" y2="504.6" stroke="#efefef" stroke-width="0.4"/>
<line x1="380.93" y1="475.2" x2="380.93" y2="504.6" stroke="#efefef" stroke-width="0.4"/>
<path d="M297.2 489.02 L297.2 479.07 L299.16 482.03 L301.12 483.96 L303.09 485.23 L305.05 486.09 L307.01 486.69 L308.97 487.1 L310.94 487.41 L312.9 487.64 L314.86 487.82 L316.82 487.97 L318.79 488.09 L320.75 488.2 L322.71 488.29 L324.68 488.38 L326.64 488.46 L328.6 488.53 L330.56 488.6 L332.52 488.66 L334.49 488.72 L336.45 488.78 L338.41 488.83 L340.38 488.89 L342.34 488.94 L344.3 488.98 L346.26 489.03 L348.22 489.08 L350.19 489.13 L352.15 489.17 L354.11 489.22 L356.07 489.26 L358.04 489.31 L360 489.35 L361.96 489.4 L363.93 489.44 L365.89 489.49 L367.85 489.53 L369.81 489.59 L371.77 489.65 L373.74 489.72 L375.7 489.82 L377.66 489.95 L379.62 490.13 L381.59 490.39 L383.55 490.79 L385.51 491.39 L387.48 492.33 L389.44 493.79 L391.4 496.08 L391.4 489.02Z" stroke="none" stroke-width="0" fill="#d2d2d2"/>
<text x="344.3" y="489.42" font-size="2.69" text-anchor="middle" fill="#555">Zero cross at 9876</text>
<text x="357.49" y="501" font-size="2.69" text-anchor="middle" fill="#4a4acc">'neg' (negatively correlated)</text>
<text x="313.21" y="477.8" font-size="2.69" text-anchor="middle" fill="#e03030">'pos' (positively correlated)</text>
<path d="M298.33 455.64 L299.08 451.25 L300.03 443.35 L302.85 431.06 L305.4 421.58 L306.62 422.28 L307.75 422.19 L309.63 421.58 L311.14 416 L313.69 417.23 L316.98 418.99 L321.69 421.18 L325.46 422.72 L329.23 424.69 L335.45 429.57 L340.91 432.64 L346.18 436.33 L349.95 439.4 L353.72 441.6 L358.43 444.93 L360.97 446.91 L363.14 447.3 L365.02 448.62 L368.51 449.94 L371.62 451.43 L374.73 449.94 L377.84 450.73 L380.94 449.41 L383.3 449.1 L385.75 451.69 L388.57 454.5 L390.55 451.43 L391.4 453.41" stroke="#5ad868" stroke-width="1.35" fill="none" stroke-linejoin="round" stroke-linecap="round"/>
<text x="289.6" y="435.45" font-size="3.1" font-weight="bold" text-anchor="middle" fill="#2a2a2a" transform="rotate(-90 289.6 435.45)">Enrichment score (ES)</text>
<text x="289" y="488.9" font-size="2.85" font-weight="bold" text-anchor="middle" fill="#2a2a2a" transform="rotate(-90 289 488.9)">Ranked list metric (Signal2Noise)</text>
<text x="295.8" y="477.52" font-size="2.79" font-weight="bold" text-anchor="end" fill="#7a8090">0.4</text>
<text x="295.8" y="484.01" font-size="2.79" font-weight="bold" text-anchor="end" fill="#7a8090">0.2</text>
<text x="295.8" y="490.49" font-size="2.79" font-weight="bold" text-anchor="end" fill="#7a8090">0.0</text>
<text x="295.8" y="496.97" font-size="2.79" font-weight="bold" text-anchor="end" fill="#7a8090">0.2</text>
<text x="295.8" y="503.45" font-size="2.79" font-weight="bold" text-anchor="end" fill="#7a8090">0.4</text>
<text x="297.2" y="507.5" font-size="2.79" font-weight="bold" text-anchor="middle" fill="#5a6070">0</text>
<text x="307.67" y="507.5" font-size="2.79" font-weight="bold" text-anchor="middle" fill="#5a6070">2,500</text>
<text x="318.13" y="507.5" font-size="2.79" font-weight="bold" text-anchor="middle" fill="#5a6070">5,000</text>
<text x="328.6" y="507.5" font-size="2.79" font-weight="bold" text-anchor="middle" fill="#5a6070">7,500</text>
<text x="339.07" y="507.5" font-size="2.79" font-weight="bold" text-anchor="middle" fill="#5a6070">10,000</text>
<text x="349.53" y="507.5" font-size="2.79" font-weight="bold" text-anchor="middle" fill="#5a6070">12,500</text>
<text x="360" y="507.5" font-size="2.79" font-weight="bold" text-anchor="middle" fill="#5a6070">15,000</text>
<text x="370.47" y="507.5" font-size="2.79" font-weight="bold" text-anchor="middle" fill="#5a6070">17,500</text>
<text x="380.93" y="507.5" font-size="2.79" font-weight="bold" text-anchor="middle" fill="#5a6070">20,000</text>
<text x="391.4" y="507.5" font-size="2.79" font-weight="bold" text-anchor="middle" fill="#5a6070">22,500</text>
<text x="344.3" y="510.6" font-size="3.1" font-weight="bold" text-anchor="middle" fill="#333">Rank in Ordered Dataset</text>
<text x="340" y="411.2" font-size="4.24" font-weight="bold" text-anchor="middle" fill="#111" textLength="108.4" lengthAdjust="spacingAndGlyphs" stroke="#111" stroke-width="0.12">Enrichment plot: KEGG_VEGF_SIGNALING_PATHWAY</text>
<text x="393.5" y="421.2" font-size="7.35" font-weight="bold" text-anchor="end" fill="#0a0a0a" textLength="33.9" lengthAdjust="spacingAndGlyphs" stroke="#0a0a0a" stroke-width="0.15">NES = 1.55</text>
<text x="393.5" y="427.25" font-size="7.35" font-weight="bold" text-anchor="end" fill="#0a0a0a" textLength="44.7" lengthAdjust="spacingAndGlyphs" stroke="#0a0a0a" stroke-width="0.15">NOM p = 0.02</text>
<text x="393.5" y="433.3" font-size="7.35" font-weight="bold" text-anchor="end" fill="#0a0a0a" textLength="45.5" lengthAdjust="spacingAndGlyphs" stroke="#0a0a0a" stroke-width="0.15">FDR q = 0. 199</text>
<text x="300.8" y="485" font-size="7.35" font-weight="bold" fill="#0a0a0a" textLength="20.4" lengthAdjust="spacingAndGlyphs" stroke="#0a0a0a" stroke-width="0.15">mCDS</text>
<text x="375.8" y="499.7" font-size="7.35" font-weight="bold" fill="#0a0a0a" textLength="15" lengthAdjust="spacingAndGlyphs" stroke="#0a0a0a" stroke-width="0.15">mES</text>
<rect x="404.8" y="407" width="113.7" height="104.8" fill="#f2f2f2"/>
<rect x="418" y="413.5" width="95" height="43.5" fill="#fff" stroke="#cfcfcf" stroke-width="0.4"/>
<line x1="418" y1="416.22" x2="513" y2="416.22" stroke="#e6e6e6" stroke-width="0.4"/>
<text x="416.6" y="417.22" font-size="2.48" font-weight="bold" text-anchor="end" fill="#5a6070">0.45</text>
<line x1="418" y1="419.84" x2="513" y2="419.84" stroke="#e6e6e6" stroke-width="0.4"/>
<text x="416.6" y="420.84" font-size="2.48" font-weight="bold" text-anchor="end" fill="#5a6070">0.40</text>
<line x1="418" y1="423.47" x2="513" y2="423.47" stroke="#e6e6e6" stroke-width="0.4"/>
<text x="416.6" y="424.47" font-size="2.48" font-weight="bold" text-anchor="end" fill="#5a6070">0.35</text>
<line x1="418" y1="427.09" x2="513" y2="427.09" stroke="#e6e6e6" stroke-width="0.4"/>
<text x="416.6" y="428.09" font-size="2.48" font-weight="bold" text-anchor="end" fill="#5a6070">0.30</text>
<line x1="418" y1="430.72" x2="513" y2="430.72" stroke="#e6e6e6" stroke-width="0.4"/>
<text x="416.6" y="431.72" font-size="2.48" font-weight="bold" text-anchor="end" fill="#5a6070">0.25</text>
<line x1="418" y1="434.34" x2="513" y2="434.34" stroke="#e6e6e6" stroke-width="0.4"/>
<text x="416.6" y="435.34" font-size="2.48" font-weight="bold" text-anchor="end" fill="#5a6070">0.20</text>
<line x1="418" y1="437.97" x2="513" y2="437.97" stroke="#e6e6e6" stroke-width="0.4"/>
<text x="416.6" y="438.97" font-size="2.48" font-weight="bold" text-anchor="end" fill="#5a6070">0.15</text>
<line x1="418" y1="441.59" x2="513" y2="441.59" stroke="#e6e6e6" stroke-width="0.4"/>
<text x="416.6" y="442.59" font-size="2.48" font-weight="bold" text-anchor="end" fill="#5a6070">0.10</text>
<line x1="418" y1="445.22" x2="513" y2="445.22" stroke="#e6e6e6" stroke-width="0.4"/>
<text x="416.6" y="446.22" font-size="2.48" font-weight="bold" text-anchor="end" fill="#5a6070">0.05</text>
<line x1="418" y1="448.84" x2="513" y2="448.84" stroke="#e6e6e6" stroke-width="0.4"/>
<text x="416.6" y="449.84" font-size="2.48" font-weight="bold" text-anchor="end" fill="#5a6070">0.00</text>
<line x1="418" y1="452.47" x2="513" y2="452.47" stroke="#e6e6e6" stroke-width="0.4"/>
<text x="416.6" y="453.47" font-size="2.48" font-weight="bold" text-anchor="end" fill="#5a6070">0.05</text>
<line x1="418" y1="456.09" x2="513" y2="456.09" stroke="#e6e6e6" stroke-width="0.4"/>
<text x="416.6" y="457.09" font-size="2.48" font-weight="bold" text-anchor="end" fill="#5a6070">0.10</text>
<line x1="428.56" y1="413.5" x2="428.56" y2="457" stroke="#ececec" stroke-width="0.4"/>
<line x1="439.11" y1="413.5" x2="439.11" y2="457" stroke="#ececec" stroke-width="0.4"/>
<line x1="449.67" y1="413.5" x2="449.67" y2="457" stroke="#ececec" stroke-width="0.4"/>
<line x1="460.22" y1="413.5" x2="460.22" y2="457" stroke="#ececec" stroke-width="0.4"/>
<line x1="470.78" y1="413.5" x2="470.78" y2="457" stroke="#ececec" stroke-width="0.4"/>
<line x1="481.33" y1="413.5" x2="481.33" y2="457" stroke="#ececec" stroke-width="0.4"/>
<line x1="491.89" y1="413.5" x2="491.89" y2="457" stroke="#ececec" stroke-width="0.4"/>
<line x1="502.44" y1="413.5" x2="502.44" y2="457" stroke="#ececec" stroke-width="0.4"/>
<line x1="418" y1="452" x2="513" y2="452" stroke="#b4b4b4" stroke-width="0.5"/>
<rect x="418" y="457" width="95" height="13.8" fill="#fff"/>
<path d="M418.3 457.5h2.49V470.8h-2.49zM444.18 457.5h1.28V470.8h-1.28zM476.76 457.5h1.3V470.8h-1.3zM496.2 457.5h0.79V470.8h-0.79z" stroke="none" stroke-width="0" fill="#1c1c1c"/>
<path d="M421.51 457.5h1.85V470.8h-1.85zM467.17 457.5h2.06V470.8h-2.06zM492.76 457.5h1.24V470.8h-1.24zM507.63 457.5h1.65V470.8h-1.65z" stroke="none" stroke-width="0" fill="#1a1a1a"/>
<path d="M424.02 457.5h0.93V470.8h-0.93zM437.1 457.5h2.43V470.8h-2.43zM458.97 457.5h2.01V470.8h-2.01zM483.82 457.5h1.35V470.8h-1.35zM509.87 457.5h1.51V470.8h-1.51z" stroke="none" stroke-width="0" fill="#101010"/>
<path d="M426.73 457.5h2.18V470.8h-2.18zM441.33 457.5h1.78V470.8h-1.78zM465.18 457.5h0.98V470.8h-0.98zM488.22 457.5h1.34V470.8h-1.34zM498.32 457.5h1.3V470.8h-1.3zM500.84 457.5h0.99V470.8h-0.99z" stroke="none" stroke-width="0" fill="#0c0c0c"/>
<path d="M429.62 457.5h2.5V470.8h-2.5zM451.7 457.5h1.19V470.8h-1.19zM453.76 457.5h2.14V470.8h-2.14zM462.32 457.5h1.12V470.8h-1.12zM503.24 457.5h1.23V470.8h-1.23z" stroke="none" stroke-width="0" fill="#303030"/>
<path d="M434.84 457.5h1.04V470.8h-1.04zM446.13 457.5h0.91V470.8h-0.91zM449.21 457.5h1.87V470.8h-1.87zM472.43 457.5h1.46V470.8h-1.46zM479.01 457.5h1.26V470.8h-1.26zM480.85 457.5h1.57V470.8h-1.57z" stroke="none" stroke-width="0" fill="#484848"/>
<rect x="418" y="470.8" width="95" height="3.5" fill="url(#g22)"/>
<rect x="418" y="474.3" width="95" height="30" fill="#fff" stroke="#cfcfcf" stroke-width="0.4"/>
<line x1="418" y1="480.3" x2="513" y2="480.3" stroke="#e9e9e9" stroke-width="0.4"/>
<line x1="418" y1="486.3" x2="513" y2="486.3" stroke="#e9e9e9" stroke-width="0.4"/>
<line x1="418" y1="492.3" x2="513" y2="492.3" stroke="#e9e9e9" stroke-width="0.4"/>
<line x1="418" y1="498.3" x2="513" y2="498.3" stroke="#e9e9e9" stroke-width="0.4"/>
<line x1="428.56" y1="474.3" x2="428.56" y2="504.3" stroke="#efefef" stroke-width="0.4"/>
<line x1="439.11" y1="474.3" x2="439.11" y2="504.3" stroke="#efefef" stroke-width="0.4"/>
<line x1="449.67" y1="474.3" x2="449.67" y2="504.3" stroke="#efefef" stroke-width="0.4"/>
<line x1="460.22" y1="474.3" x2="460.22" y2="504.3" stroke="#efefef" stroke-width="0.4"/>
<line x1="470.78" y1="474.3" x2="470.78" y2="504.3" stroke="#efefef" stroke-width="0.4"/>
<line x1="481.33" y1="474.3" x2="481.33" y2="504.3" stroke="#efefef" stroke-width="0.4"/>
<line x1="491.89" y1="474.3" x2="491.89" y2="504.3" stroke="#efefef" stroke-width="0.4"/>
<line x1="502.44" y1="474.3" x2="502.44" y2="504.3" stroke="#efefef" stroke-width="0.4"/>
<path d="M418 488.4 L418 479.69 L419.98 481 L421.96 482.09 L423.94 483.02 L425.92 483.8 L427.9 484.46 L429.88 485.02 L431.85 485.5 L433.83 485.9 L435.81 486.25 L437.79 486.55 L439.77 486.8 L441.75 487.02 L443.73 487.21 L445.71 487.38 L447.69 487.53 L449.67 487.65 L451.65 487.77 L453.62 487.87 L455.6 487.96 L457.58 488.04 L459.56 488.11 L461.54 488.18 L463.52 488.24 L465.5 488.3 L467.48 488.35 L469.46 488.4 L471.44 488.45 L473.42 488.5 L475.4 488.55 L477.38 488.59 L479.35 488.63 L481.33 488.67 L483.31 488.72 L485.29 488.76 L487.27 488.8 L489.25 488.84 L491.23 488.89 L493.21 488.95 L495.19 489.01 L497.17 489.1 L499.15 489.21 L501.12 489.37 L503.1 489.6 L505.08 489.95 L507.06 490.48 L509.04 491.3 L511.02 492.58 L513 494.58 L513 488.4Z" stroke="none" stroke-width="0" fill="#d2d2d2"/>
<text x="465.5" y="488.8" font-size="2.69" text-anchor="middle" fill="#555">Zero cross at 9876</text>
<text x="478.8" y="500.7" font-size="2.69" text-anchor="middle" fill="#4a4acc">'neg' (negatively correlated)</text>
<text x="434.15" y="476.9" font-size="2.69" text-anchor="middle" fill="#e03030">'pos' (positively correlated)</text>
<path d="M418.29 444.99 L418.76 438.73 L419.62 430.9 L422.37 422.63 L425.79 418.81 L428.83 415.81 L430.73 416.81 L432.73 415.81 L436.05 416.33 L439.56 417.28 L447.26 421.2 L456.48 427.29 L465.79 434.21 L473 439.99 L481.46 444.99 L486.02 447.69 L493.81 451.52 L499.99 454.22 L502.07 453.52 L503.78 452.61 L505.97 453.52 L509.2 452.22 L513 451.52" stroke="#5ad868" stroke-width="1.35" fill="none" stroke-linejoin="round" stroke-linecap="round"/>
<text x="410.4" y="435.25" font-size="3.1" font-weight="bold" text-anchor="middle" fill="#2a2a2a" transform="rotate(-90 410.4 435.25)">Enrichment score (ES)</text>
<text x="409.8" y="488.3" font-size="2.85" font-weight="bold" text-anchor="middle" fill="#2a2a2a" transform="rotate(-90 409.8 488.3)">Ranked list metric (Signal2Noise)</text>
<text x="416.6" y="476.65" font-size="2.79" font-weight="bold" text-anchor="end" fill="#7a8090">0.4</text>
<text x="416.6" y="483.26" font-size="2.79" font-weight="bold" text-anchor="end" fill="#7a8090">0.2</text>
<text x="416.6" y="489.88" font-size="2.79" font-weight="bold" text-anchor="end" fill="#7a8090">0.0</text>
<text x="416.6" y="496.5" font-size="2.79" font-weight="bold" text-anchor="end" fill="#7a8090">0.2</text>
<text x="416.6" y="503.11" font-size="2.79" font-weight="bold" text-anchor="end" fill="#7a8090">0.4</text>
<text x="418" y="507.2" font-size="2.79" font-weight="bold" text-anchor="middle" fill="#5a6070">0</text>
<text x="428.56" y="507.2" font-size="2.79" font-weight="bold" text-anchor="middle" fill="#5a6070">2,500</text>
<text x="439.11" y="507.2" font-size="2.79" font-weight="bold" text-anchor="middle" fill="#5a6070">5,000</text>
<text x="449.67" y="507.2" font-size="2.79" font-weight="bold" text-anchor="middle" fill="#5a6070">7,500</text>
<text x="460.22" y="507.2" font-size="2.79" font-weight="bold" text-anchor="middle" fill="#5a6070">10,000</text>
<text x="470.78" y="507.2" font-size="2.79" font-weight="bold" text-anchor="middle" fill="#5a6070">12,500</text>
<text x="481.33" y="507.2" font-size="2.79" font-weight="bold" text-anchor="middle" fill="#5a6070">15,000</text>
<text x="491.89" y="507.2" font-size="2.79" font-weight="bold" text-anchor="middle" fill="#5a6070">17,500</text>
<text x="502.44" y="507.2" font-size="2.79" font-weight="bold" text-anchor="middle" fill="#5a6070">20,000</text>
<text x="513" y="507.2" font-size="2.79" font-weight="bold" text-anchor="middle" fill="#5a6070">22,500</text>
<text x="465.5" y="510.3" font-size="3.1" font-weight="bold" text-anchor="middle" fill="#333">Rank in Ordered Dataset</text>
<text x="461.4" y="410.9" font-size="4.24" font-weight="bold" text-anchor="middle" fill="#111" textLength="82" lengthAdjust="spacingAndGlyphs" stroke="#111" stroke-width="0.12">Enrichment plot: CYCLIN_D1_UP.V1_UP</text>
<text x="515" y="419.6" font-size="7.35" font-weight="bold" text-anchor="end" fill="#0a0a0a" textLength="34.3" lengthAdjust="spacingAndGlyphs" stroke="#0a0a0a" stroke-width="0.15">NES = 1.74</text>
<text x="515" y="425.8" font-size="7.35" font-weight="bold" text-anchor="end" fill="#0a0a0a" textLength="33.8" lengthAdjust="spacingAndGlyphs" stroke="#0a0a0a" stroke-width="0.15">NOM p = 0</text>
<text x="515" y="432" font-size="7.35" font-weight="bold" text-anchor="end" fill="#0a0a0a" textLength="46.2" lengthAdjust="spacingAndGlyphs" stroke="#0a0a0a" stroke-width="0.15">FDR q = 0 .035</text>
<text x="423.5" y="484.6" font-size="7.35" font-weight="bold" fill="#0a0a0a" textLength="20.7" lengthAdjust="spacingAndGlyphs" stroke="#0a0a0a" stroke-width="0.15">mCDS</text>
<text x="498.2" y="500" font-size="7.35" font-weight="bold" fill="#0a0a0a" textLength="14.8" lengthAdjust="spacingAndGlyphs" stroke="#0a0a0a" stroke-width="0.15">mES</text>
<text x="461.8" y="519.7" font-size="8.49" font-weight="bold" textLength="54.4" lengthAdjust="spacingAndGlyphs" stroke="#000" stroke-width="0.3">mCDS vs. mES</text>
<text x="0.1" y="527" font-size="15.01" font-weight="bold">G</text>
<path d="M61.8 537.4V526.2H116.2V537.4M98.5 526.2V520.8H293V526.2M248.5 528.6V526.2H377.4V540.5M206.5 534.3V528.6H295.8V535M179.7 538.5V534.3H221.5V541.2M167.4 541.2V538.5H190.8V541.2M268.5 540.5V535H320.3V541" stroke="#1a1a1a" stroke-width="1" fill="none"/>
<text x="54.2" y="550" font-size="8.59" font-weight="bold" textLength="12.7" lengthAdjust="spacingAndGlyphs" stroke="#000" stroke-width="0.35">NB</text>
<text x="111.2" y="550" font-size="8.59" font-weight="bold" textLength="9.3" lengthAdjust="spacingAndGlyphs" stroke="#000" stroke-width="0.35">ES</text>
<text x="160.8" y="550" font-size="8.59" font-weight="bold" textLength="15.8" lengthAdjust="spacingAndGlyphs" stroke="#000" stroke-width="0.35">CDS</text>
<text x="185" y="550" font-size="8.59" font-weight="bold" textLength="16.2" lengthAdjust="spacingAndGlyphs" stroke="#000" stroke-width="0.35">CDS</text>
<text x="215.8" y="550" font-size="8.59" font-weight="bold" textLength="9.6" lengthAdjust="spacingAndGlyphs" stroke="#000" stroke-width="0.35">SS</text>
<text x="260" y="550" font-size="8.59" font-weight="bold" textLength="20" lengthAdjust="spacingAndGlyphs" stroke="#000" stroke-width="0.35">MFH</text>
<text x="307.7" y="550" font-size="8.59" font-weight="bold" textLength="27.3" lengthAdjust="spacingAndGlyphs" stroke="#000" stroke-width="0.35">CS+OS</text>
<text x="370" y="550" font-size="8.59" font-weight="bold" textLength="18.2" lengthAdjust="spacingAndGlyphs" stroke="#000" stroke-width="0.35">MLS</text>
<text x="153" y="550" font-size="7.04" font-weight="bold" textLength="6.7" lengthAdjust="spacingAndGlyphs" stroke="#000" stroke-width="0.3">m</text>
<text x="179.7" y="550" font-size="7.66" font-weight="bold" textLength="4.1" lengthAdjust="spacingAndGlyphs" stroke="#000" stroke-width="0.3">h</text>
<line x1="46.9" y1="552.4" x2="72.3" y2="552.4" stroke="#222" stroke-width="1.3"/>
<line x1="75.4" y1="552.4" x2="160.8" y2="552.4" stroke="#222" stroke-width="1.3"/>
<line x1="163" y1="552.4" x2="177.7" y2="552.4" stroke="#222" stroke-width="1.3"/>
<line x1="180.3" y1="552.4" x2="192.3" y2="552.4" stroke="#222" stroke-width="1.3"/>
<line x1="194.6" y1="552.4" x2="241.5" y2="552.4" stroke="#222" stroke-width="1.3"/>
<line x1="244.6" y1="552.4" x2="294.6" y2="552.4" stroke="#222" stroke-width="1.3"/>
<line x1="297.7" y1="552.4" x2="344.3" y2="552.4" stroke="#222" stroke-width="1.3"/>
<line x1="347.4" y1="552.4" x2="400.5" y2="552.4" stroke="#222" stroke-width="1.3"/>
<rect x="74.8" y="556.2" width="86" height="6.2" fill="#e9e9f8"/>
<rect x="194" y="556.2" width="206.6" height="6.2" fill="#e6e6f8"/>
<rect x="45.8" y="557.5" width="29" height="4.9" fill="#efeff8"/>
<path d="M46.8 562.4V558.52H49.12V562.4M50.02 562.4V559.97H53.43V562.4M54.33 562.4V560.3H56.97V562.4M57.87 562.4V559.15H60.82V562.4M61.72 562.4V560.22H64.71V562.4M65.61 562.4V559.3H69.08V562.4M69.98 562.4V560.53H73.68V562.4M74.58 562.4V560.15H77.97V562.4M78.87 562.4V559.28H82.31V562.4M83.21 562.4V560.12H85.52V562.4M86.42 562.4V560.37H89.73V562.4M90.63 562.4V559.21H92.68V562.4M93.58 562.4V560.1H95.36V562.4M96.26 562.4V560.08H99.09V562.4M99.99 562.4V559.46H103.14V562.4M104.04 562.4V560.4H107.49V562.4M108.39 562.4V558.05H111.62V562.4M112.52 562.4V558.67H115.99V562.4M116.89 562.4V560.35H119.5V562.4M120.4 562.4V560.39H123.72V562.4M124.62 562.4V559.2H126.46V562.4M127.36 562.4V559.44H130.67V562.4M131.57 562.4V559.16H133.43V562.4M134.33 562.4V558.16H136.06V562.4M136.96 562.4V558.41H140.7V562.4M141.6 562.4V558.65H145.28V562.4M146.18 562.4V559.22H148.26V562.4M149.16 562.4V559.37H152.39V562.4M153.29 562.4V558.6H155.73V562.4M156.63 562.4V558.14H158.31V562.4M159.21 562.4V559.31H160.9V562.4M177.66 562.4V558.41H181.27V562.4M195.38 562.4V559.36H198.92V562.4M199.82 562.4V560.25H202V562.4M202.9 562.4V558.59H204.69V562.4M205.59 562.4V560.17H207.24V562.4M208.14 562.4V558.11H210.26V562.4M211.16 562.4V559.3H213.59V562.4M214.49 562.4V558.05H217.66V562.4M218.56 562.4V559.04H221.23V562.4M222.13 562.4V559.9H225.58V562.4M226.48 562.4V560.33H229.45V562.4M230.35 562.4V559.83H232.55V562.4M233.45 562.4V559.42H235.47V562.4M236.37 562.4V559.06H238.13V562.4M239.03 562.4V560.55H240.94V562.4M241.84 562.4V560.37H245.37V562.4M246.27 562.4V559.27H249.36V562.4M250.26 562.4V558.57H252.23V562.4M253.13 562.4V558.13H255.57V562.4M256.47 562.4V559.4H259.15V562.4M260.05 562.4V558.79H263.34V562.4M264.24 562.4V560.1H267.66V562.4M268.56 562.4V559.49H270.71V562.4M271.61 562.4V558.35H275.13V562.4M276.03 562.4V558.37H278.34V562.4M279.24 562.4V558.22H282.55V562.4M283.45 562.4V558.08H286.71V562.4M287.61 562.4V558H290.26V562.4M291.16 562.4V558.65H294.48V562.4M295.38 562.4V559.24H298.09V562.4M298.99 562.4V559.56H302.5V562.4M303.4 562.4V559.62H306.64V562.4M307.54 562.4V559.14H310.7V562.4M311.6 562.4V559.8H313.37V562.4M314.27 562.4V558.84H316.19V562.4M317.09 562.4V559.67H320.41V562.4M321.31 562.4V560.47H324.91V562.4M325.81 562.4V559.07H328.65V562.4M329.55 562.4V558.84H331.27V562.4M332.17 562.4V560.54H335.36V562.4M336.26 562.4V559.08H339.27V562.4M340.17 562.4V558.46H342.36V562.4M343.26 562.4V560.18H346.99V562.4M347.89 562.4V560.44H350.63V562.4M351.53 562.4V558.98H355.23V562.4M356.13 562.4V560.37H359.27V562.4M360.17 562.4V560.4H362.77V562.4M363.67 562.4V558.99H367.14V562.4M368.04 562.4V560.48H371.29V562.4M372.19 562.4V560.21H374.68V562.4M375.58 562.4V558.05H379.05V562.4M379.95 562.4V560.4H381.56V562.4M382.46 562.4V560.52H385.78V562.4M386.68 562.4V560.5H390V562.4M390.9 562.4V558.5H394.3V562.4M395.2 562.4V558.16H398.19V562.4M399.09 562.4V558.46H400.6V562.4" stroke="#7070c8" stroke-width="0.45" fill="none"/>
<path d="M46.8 562.4V558.8M49.5 562.4V558.8M52.2 562.4V558.8M54.9 562.4V558.8M57.6 562.4V558.8M60.3 562.4V558.8M63 562.4V558.8M65.7 562.4V558.8M68.4 562.4V558.8M71.1 562.4V558.8M73.8 562.4V558.8M76.5 562.4V558.8M79.2 562.4V558.8M81.9 562.4V558.8M84.6 562.4V558.8M87.3 562.4V558.8M90 562.4V558.8M92.7 562.4V558.8M95.4 562.4V558.8M98.1 562.4V558.8M100.8 562.4V558.8M103.5 562.4V558.8M106.2 562.4V558.8M108.9 562.4V558.8M111.6 562.4V558.8M114.3 562.4V558.8M117 562.4V558.8M119.7 562.4V558.8M122.4 562.4V558.8M125.1 562.4V558.8M127.8 562.4V558.8M130.5 562.4V558.8M133.2 562.4V558.8M135.9 562.4V558.8M138.6 562.4V558.8M141.3 562.4V558.8M144 562.4V558.8M146.7 562.4V558.8M149.4 562.4V558.8M152.1 562.4V558.8M154.8 562.4V558.8M157.5 562.4V558.8M195.3 562.4V558.8M198 562.4V558.8M200.7 562.4V558.8M203.4 562.4V558.8M206.1 562.4V558.8M208.8 562.4V558.8M211.5 562.4V558.8M214.2 562.4V558.8M216.9 562.4V558.8M219.6 562.4V558.8M222.3 562.4V558.8M225 562.4V558.8M227.7 562.4V558.8M230.4 562.4V558.8M233.1 562.4V558.8M235.8 562.4V558.8M238.5 562.4V558.8M241.2 562.4V558.8M243.9 562.4V558.8M246.6 562.4V558.8M249.3 562.4V558.8M252 562.4V558.8M254.7 562.4V558.8M257.4 562.4V558.8M260.1 562.4V558.8M262.8 562.4V558.8M265.5 562.4V558.8M268.2 562.4V558.8M270.9 562.4V558.8M273.6 562.4V558.8M276.3 562.4V558.8M279 562.4V558.8M281.7 562.4V558.8M284.4 562.4V558.8M287.1 562.4V558.8M289.8 562.4V558.8M292.5 562.4V558.8M295.2 562.4V558.8M297.9 562.4V558.8M300.6 562.4V558.8M303.3 562.4V558.8M306 562.4V558.8M308.7 562.4V558.8M311.4 562.4V558.8M314.1 562.4V558.8M316.8 562.4V558.8M319.5 562.4V558.8M322.2 562.4V558.8M324.9 562.4V558.8M327.6 562.4V558.8M330.3 562.4V558.8M333 562.4V558.8M335.7 562.4V558.8M338.4 562.4V558.8M341.1 562.4V558.8M343.8 562.4V558.8M346.5 562.4V558.8M349.2 562.4V558.8M351.9 562.4V558.8M354.6 562.4V558.8M357.3 562.4V558.8M360 562.4V558.8M362.7 562.4V558.8M365.4 562.4V558.8M368.1 562.4V558.8M370.8 562.4V558.8M373.5 562.4V558.8M376.2 562.4V558.8M378.9 562.4V558.8M381.6 562.4V558.8M384.3 562.4V558.8M387 562.4V558.8M389.7 562.4V558.8M392.4 562.4V558.8M395.1 562.4V558.8M397.8 562.4V558.8M400.5 562.4V558.8" stroke="#fff" stroke-width="0.9" fill="none" opacity="0.75"/>
<line x1="262" y1="557.3" x2="300" y2="557.3" stroke="#d9a0a0" stroke-width="0.5"/>
<rect x="15.6" y="562.4" width="30.2" height="107.8" fill="url(#rb)"/>
<path d="M16.37 563H29.83M17.17 564.64H32.91M17.4 566.39H24.4M17.01 568.01H30.82M17.64 569.59H24.54M17.85 571.5H26.88M17.94 573.14H24.62M18.69 574.54H29.28M17.05 576H29.83M17.45 577.7H24.56M17.09 579.5H24.84M17.88 580.91H24.13M17.32 582.74H28.39M18.56 584.21H25.16M16.9 585.79H29.96M16.94 587.16H21.77M17.74 588.71H28.33M18.2 590.44H31.85M17.55 592.17H31.17M18.43 593.75H32.21M17.27 595.27H31.76M17.69 597.05H22.09M18.38 598.96H27.45M16.39 600.69H22.01M17.84 602.17H32.74M17.08 603.84H31.69M18.47 605.19H27.53M16.94 606.56H28.03M18.47 608.06H23.21M16.63 609.48H31.01M17.67 611.03H22.09M16.7 612.64H27.37M18.53 614.34H22.3M17.26 615.92H29.25M18.01 617.19H22.2M17.54 618.78H25.63M17.5 620.64H28.21M16.28 622.3H31.82M17.99 624.01H28.9M18.18 625.38H31.4M16.33 626.82H32.52M16.67 628.45H23.12M17.4 630.15H30.2M17.32 631.57H28.58M17.36 633.09H27.14M17.44 634.6H23.64M18.59 636.05H31.05M17.39 637.82H26.23M18.2 639.59H25.04M17.59 640.87H32.7M18.32 642.66H29.15M16.71 644.21H23.19M16.77 645.98H32.85M16.96 647.57H30.93M16.49 648.98H30.77M17.44 650.47H29.09M17.22 652.38H27.93M16.32 653.76H31.28M18.21 655.02H26.64M16.43 656.45H27.76M18.35 657.9H32.44M17.37 659.22H32.59M18.6 660.56H26.66M18.54 661.94H30.75M18.51 663.83H30.69M18.61 665.16H30.1M16.93 666.78H21.91M18.01 668.33H27.17M17.85 669.71H21.71" stroke="#fff" stroke-width="0.8" fill="none" opacity="0.9"/>
<path d="M24.59 563.4H19.59V568.78H24.59M24.53 567.13H19.53V574.1H24.53M20.68 571.81H15.68V579.37H20.68M23.11 576.85H18.11V583.77H23.11M25.32 581.5H20.32V586.21H25.32M26.02 584.82H21.02V587.73H26.02M25.51 587.07H20.51V594.75H25.51M21.81 592.18H16.81V600.61H21.81M25.93 597.74H20.93V603.9H25.93M24.59 601.93H19.59V607.74H24.59M24.51 605.92H19.51V608.65H24.51M23.58 608.05H18.58V610.24H23.58M22.35 609.86H17.35V612.06H22.35M22.15 611.68H17.15V614.45H22.15M24.59 613.84H19.59V616.74H24.59M25.14 616.08H20.14V621.77H25.14M24.76 619.99H19.76V627.67H24.76M23.63 625.1H18.63V631.32H23.63M23.09 629.33H18.09V636.73H23.09M22.88 634.27H17.88V638.93H22.88M21.75 637.57H16.75V639.74H21.75M22.86 639.37H17.86V645.73H22.86M21.07 643.69H16.07V648.67H21.07M25.75 647.18H20.75V650.25H25.75M22.65 649.52H17.65V657.12H22.65M23.93 654.58H18.93V662.99H23.93M21.42 660.13H16.42V667.37H21.42M23.22 664.97H18.22V669.2H23.22" stroke="#3636b8" stroke-width="0.5" fill="none"/>
<line x1="15.2" y1="563.4" x2="15.2" y2="669.2" stroke="#5a5ac8" stroke-width="0.6"/>
<line x1="10.8" y1="595" x2="10.8" y2="630" stroke="#a8a8e0" stroke-width="0.6"/>
<rect x="11.5" y="555.4" width="2.3" height="3.6" fill="#dcdcdc"/>
<rect x="26.3" y="555.4" width="2.6" height="3.6" fill="#dcdcdc"/>
<rect x="45.8" y="562.4" width="354.8" height="107.8" fill="#161200"/>
<g transform="translate(45.8 562.4) scale(1 0.99815)" fill="none">
<path d="M135 1.5H137.5M140 1.5H142.5M12.5 2.5H15M25 2.5H27.5M312.5 3.5H317.5M137.5 4.5H140M142.5 4.5H147.5M142.5 5.5H147.5M12.5 6.5H15M20 6.5H22.5M142.5 6.5H147.5M317.5 6.5H322.5M137.5 7.5H140M135 8.5H145M130 9.5H132.5M202.5 9.5H205M80 10.5H82.5M115 10.5H132.5M235 10.5H240M272.5 10.5H275M282.5 10.5H287.5M312.5 10.5H315M317.5 10.5H332.5M337.5 10.5H340M345 10.5H354.8M10 11.5H15M137.5 11.5H147.5M242.5 11.5H245M12.5 12.5H15M22.5 12.5H25M115 12.5H120M122.5 12.5H137.5M332.5 12.5H335M10 13.5H17.5M115 13.5H122.5M130 13.5H142.5M245 13.5H247.5M302.5 13.5H305M312.5 13.5H315M317.5 13.5H322.5M352.5 13.5H354.8M115 14.5H117.5M127.5 14.5H130M115 15.5H132.5M135 15.5H137.5M140 15.5H145M102.5 16.5H107.5M117.5 16.5H147.5M335 16.5H340M125 17.5H130M132.5 17.5H145M147.5 17.5H150M260 17.5H262.5M327.5 17.5H330M115 18.5H122.5M127.5 19.5H132.5M155 19.5H157.5M167.5 19.5H170M180 19.5H182.5M127.5 20.5H132.5M135 20.5H145M205 20.5H210M115 21.5H142.5M115 22.5H117.5M120 22.5H130M135 22.5H140M122.5 23.5H135M145 23.5H150M155 23.5H157.5M175 23.5H177.5M202.5 23.5H222.5M240 23.5H242.5M265 23.5H270M285 23.5H292.5M297.5 23.5H302.5M315 23.5H317.5M325 23.5H327.5M122.5 24.5H125M142.5 24.5H147.5M115 25.5H120M122.5 25.5H125M120 26.5H125M130 26.5H132.5M120 27.5H125M130 27.5H132.5M120 28.5H125M127.5 28.5H132.5M22.5 29.5H25M57.5 29.5H60M140 29.5H142.5M145 29.5H147.5M155 29.5H160M265 29.5H267.5M135 30.5H137.5M187.5 30.5H190M195 30.5H197.5M227.5 30.5H230M245 30.5H247.5M50 31.5H52.5M105 31.5H107.5M132.5 32.5H135M137.5 33.5H142.5M317.5 33.5H320M310 34.5H312.5M350 34.5H352.5M155 35.5H157.5M180 35.5H182.5M307.5 35.5H310M312.5 35.5H317.5M110 36.5H112.5M152.5 36.5H157.5M160 36.5H162.5M180 36.5H182.5M195 36.5H197.5M300 36.5H302.5M307.5 36.5H322.5M325 36.5H330M352.5 36.5H354.8M132.5 37.5H135M142.5 37.5H145M155 38.5H157.5M5 39.5H7.5M27.5 40.5H30M50 40.5H52.5M55 40.5H75M77.5 40.5H80M82.5 40.5H110M117.5 40.5H120M127.5 40.5H130M305 40.5H307.5M312.5 40.5H315M327.5 40.5H332.5M135 42.5H137.5M142.5 42.5H150M12.5 43.5H17.5M30 43.5H42.5M100 43.5H107.5M110 43.5H115M132.5 43.5H137.5M102.5 45.5H105M140 45.5H142.5M160 45.5H162.5M175 45.5H177.5M320 45.5H322.5M5 46.5H17.5M20 46.5H27.5M32.5 46.5H40M132.5 46.5H140M172.5 46.5H175M195 46.5H197.5M5 47.5H7.5M27.5 47.5H32.5M57.5 47.5H60M70 47.5H72.5M92.5 47.5H95M102.5 47.5H107.5M110 47.5H115M142.5 47.5H147.5M177.5 47.5H180M332.5 50.5H335M102.5 52.5H110M30 53.5H32.5M37.5 53.5H40M57.5 53.5H60M287.5 53.5H290M310 53.5H312.5M350 53.5H352.5M110 54.5H112.5M197.5 54.5H200M212.5 54.5H220M265 54.5H275M277.5 54.5H280M320 54.5H322.5M250 55.5H252.5M302.5 55.5H315M272.5 56.5H275M312.5 56.5H315M317.5 56.5H320M7.5 59.5H10M310 59.5H320M285 61.5H287.5M302.5 61.5H305M320 61.5H322.5M105 62.5H107.5M295 62.5H297.5M312.5 63.5H315M320 63.5H325M212.5 66.5H220M272.5 66.5H275M312.5 66.5H317.5M350 67.5H352.5M255 68.5H257.5M262.5 68.5H265M297.5 68.5H300M322.5 68.5H325M342.5 68.5H347.5M352.5 68.5H354.8M197.5 70.5H200M272.5 72.5H275M315 73.5H317.5M337.5 73.5H340M350 73.5H354.8M312.5 74.5H315M105 75.5H107.5M305 76.5H307.5M310 76.5H312.5M12.5 78.5H17.5M22.5 78.5H25M27.5 78.5H30M70 78.5H72.5M82.5 78.5H85M90 78.5H92.5M307.5 79.5H310M320 79.5H322.5M30 81.5H32.5M315 81.5H317.5M27.5 82.5H30M32.5 82.5H40M55 82.5H57.5M67.5 82.5H72.5M77.5 82.5H80M87.5 82.5H90M102.5 82.5H105M20 83.5H22.5M42.5 83.5H45M47.5 83.5H50M297.5 83.5H300M32.5 85.5H45M50 85.5H72.5M75 85.5H77.5M82.5 85.5H85M92.5 85.5H115M187.5 85.5H190M57.5 86.5H60M67.5 86.5H70M87.5 86.5H97.5M192.5 86.5H195M42.5 87.5H45M57.5 87.5H60M67.5 87.5H70M265 87.5H267.5M57.5 88.5H60M62.5 88.5H65M90 88.5H92.5M27.5 89.5H32.5M35 89.5H72.5M77.5 89.5H115M272.5 89.5H277.5M20 90.5H27.5M10 91.5H12.5M42.5 91.5H45M7.5 92.5H10M32.5 92.5H37.5M40 92.5H52.5M57.5 92.5H60M110 92.5H115M35 93.5H37.5M50 93.5H52.5M62.5 93.5H65M75 93.5H82.5M265 94.5H270M272.5 94.5H275M265 96.5H267.5M5 100.5H7.5M10 100.5H17.5M255 100.5H267.5M300 100.5H305M57.5 102.5H60M187.5 105.5H190" stroke="#00ff00" stroke-width="1.04"/>
<path d="M137.5 0.5H147.5M315 0.5H317.5M132.5 1.5H135M137.5 1.5H140M142.5 1.5H147.5M5 2.5H12.5M15 2.5H17.5M20 2.5H25M132.5 2.5H137.5M140 2.5H142.5M77.5 3.5H80M82.5 3.5H85M132.5 3.5H135M132.5 4.5H137.5M140 4.5H142.5M315 4.5H317.5M10 5.5H15M132.5 5.5H137.5M140 5.5H142.5M22.5 6.5H25M132.5 6.5H135M137.5 6.5H142.5M132.5 7.5H137.5M140 7.5H147.5M145 8.5H147.5M317.5 8.5H320M335 8.5H337.5M115 9.5H130M132.5 9.5H140M142.5 9.5H147.5M57.5 10.5H60M132.5 10.5H140M245 10.5H247.5M257.5 10.5H260M275 10.5H280M342.5 10.5H345M20 11.5H22.5M115 11.5H120M122.5 11.5H137.5M245 11.5H247.5M315 11.5H317.5M10 12.5H12.5M120 12.5H122.5M140 12.5H142.5M145 12.5H147.5M267.5 12.5H270M275 12.5H277.5M327.5 12.5H330M5 13.5H7.5M17.5 13.5H20M22.5 13.5H27.5M122.5 13.5H130M207.5 13.5H210M297.5 13.5H302.5M305 13.5H307.5M322.5 13.5H325M330 13.5H335M117.5 14.5H127.5M130 14.5H135M137.5 14.5H140M142.5 14.5H147.5M132.5 15.5H135M137.5 15.5H140M145 15.5H147.5M0 16.5H2.5M27.5 16.5H32.5M35 16.5H37.5M115 16.5H117.5M300 16.5H302.5M312.5 16.5H317.5M115 17.5H125M130 17.5H132.5M145 17.5H147.5M192.5 17.5H197.5M215 17.5H217.5M240 17.5H242.5M245 17.5H247.5M312.5 17.5H315M322.5 17.5H327.5M330 17.5H335M122.5 18.5H140M145 18.5H147.5M115 19.5H122.5M125 19.5H127.5M132.5 19.5H140M142.5 19.5H147.5M152.5 19.5H155M215 19.5H217.5M255 19.5H257.5M115 20.5H117.5M120 20.5H122.5M125 20.5H127.5M132.5 20.5H135M145 20.5H147.5M180 20.5H185M142.5 21.5H147.5M117.5 22.5H120M130 22.5H135M140 22.5H147.5M115 23.5H122.5M137.5 23.5H140M142.5 23.5H145M180 23.5H182.5M187.5 23.5H190M272.5 23.5H280M282.5 23.5H285M292.5 23.5H297.5M317.5 23.5H320M322.5 23.5H325M115 24.5H122.5M125 24.5H137.5M140 24.5H142.5M197.5 24.5H200M317.5 24.5H320M120 25.5H122.5M125 25.5H130M142.5 25.5H147.5M177.5 25.5H180M115 26.5H120M125 26.5H130M132.5 26.5H137.5M142.5 26.5H147.5M125 27.5H130M132.5 27.5H147.5M117.5 28.5H120M125 28.5H127.5M142.5 28.5H147.5M55 29.5H57.5M62.5 29.5H65M132.5 29.5H140M142.5 29.5H145M152.5 29.5H155M205 29.5H207.5M22.5 30.5H25M132.5 30.5H135M137.5 30.5H150M190 30.5H195M197.5 30.5H200M225 30.5H227.5M10 31.5H12.5M137.5 31.5H147.5M155 31.5H157.5M135 32.5H137.5M140 32.5H142.5M145 32.5H147.5M132.5 33.5H137.5M142.5 33.5H147.5M315 33.5H317.5M345 33.5H350M352.5 33.5H354.8M42.5 34.5H45M47.5 34.5H50M132.5 34.5H137.5M140 34.5H147.5M307.5 34.5H310M312.5 34.5H315M352.5 34.5H354.8M2.5 35.5H5M115 35.5H122.5M127.5 35.5H130M140 35.5H142.5M167.5 35.5H170M177.5 35.5H180M310 35.5H312.5M317.5 35.5H325M132.5 36.5H135M140 36.5H147.5M157.5 36.5H160M162.5 36.5H165M192.5 36.5H195M272.5 36.5H275M302.5 36.5H305M335 36.5H337.5M350 36.5H352.5M135 37.5H142.5M145 37.5H147.5M105 38.5H107.5M132.5 38.5H135M137.5 38.5H147.5M157.5 38.5H160M162.5 38.5H165M182.5 38.5H185M0 39.5H2.5M142.5 39.5H147.5M40 40.5H45M52.5 40.5H55M110 40.5H112.5M125 40.5H127.5M135 40.5H140M157.5 40.5H162.5M165 40.5H172.5M175 40.5H177.5M302.5 40.5H305M307.5 40.5H312.5M315 40.5H317.5M135 41.5H137.5M132.5 42.5H135M137.5 42.5H142.5M5 43.5H7.5M47.5 43.5H50M95 43.5H100M137.5 43.5H145M137.5 44.5H140M142.5 44.5H147.5M135 45.5H140M142.5 45.5H147.5M162.5 45.5H165M180 45.5H182.5M187.5 45.5H190M312.5 45.5H315M2.5 46.5H5M17.5 46.5H20M27.5 46.5H32.5M40 46.5H42.5M140 46.5H145M152.5 46.5H157.5M175 46.5H177.5M335 46.5H337.5M0 47.5H2.5M22.5 47.5H25M47.5 47.5H52.5M60 47.5H62.5M82.5 47.5H85M87.5 47.5H92.5M95 47.5H102.5M107.5 47.5H110M137.5 47.5H142.5M300 47.5H302.5M310 47.5H312.5M85 49.5H87.5M105 49.5H107.5M112.5 49.5H115M290 49.5H295M7.5 50.5H10M47.5 50.5H50M110 50.5H112.5M260 50.5H262.5M35 52.5H37.5M57.5 52.5H60M7.5 53.5H10M20 53.5H22.5M27.5 53.5H30M40 53.5H45M260 53.5H262.5M272.5 53.5H277.5M282.5 53.5H287.5M307.5 53.5H310M312.5 53.5H315M322.5 53.5H325M57.5 54.5H60M105 54.5H107.5M207.5 54.5H210M245 54.5H247.5M260 54.5H262.5M275 54.5H277.5M280 54.5H285M297.5 54.5H300M307.5 54.5H312.5M317.5 54.5H320M350 54.5H352.5M217.5 55.5H220M237.5 55.5H240M300 55.5H302.5M315 55.5H317.5M320 55.5H322.5M335 55.5H340M45 56.5H47.5M217.5 56.5H220M225 56.5H227.5M265 56.5H270M310 56.5H312.5M315 56.5H317.5M320 56.5H325M350 56.5H354.8M335 57.5H342.5M345 57.5H347.5M352.5 57.5H354.8M307.5 59.5H310M295 60.5H300M307.5 60.5H310M210 61.5H212.5M300 61.5H302.5M305 61.5H307.5M317.5 61.5H320M327.5 61.5H330M57.5 62.5H60M207.5 62.5H210M227.5 62.5H230M255 62.5H257.5M307.5 63.5H312.5M317.5 63.5H320M325 63.5H330M230 64.5H232.5M310 64.5H312.5M315 64.5H320M210 66.5H212.5M265 66.5H270M282.5 66.5H285M297.5 66.5H300M305 66.5H307.5M285 67.5H287.5M337.5 67.5H340M352.5 67.5H354.8M260 68.5H262.5M290 68.5H297.5M300 68.5H302.5M337.5 68.5H340M350 68.5H352.5M207.5 70.5H210M235 70.5H237.5M265 70.5H267.5M320 70.5H322.5M335 70.5H337.5M272.5 71.5H275M295 71.5H297.5M7.5 72.5H10M35 72.5H37.5M110 72.5H112.5M265 72.5H270M275 72.5H277.5M290 72.5H292.5M102.5 73.5H105M292.5 73.5H295M312.5 73.5H315M325 73.5H332.5M342.5 73.5H345M347.5 73.5H350M310 74.5H312.5M315 74.5H317.5M15 75.5H17.5M22.5 75.5H25M60 75.5H62.5M100 75.5H105M307.5 76.5H310M312.5 76.5H315M272.5 77.5H275M295 77.5H297.5M7.5 78.5H12.5M30 78.5H32.5M75 78.5H77.5M100 78.5H105M95 79.5H97.5M252.5 79.5H255M315 79.5H320M332.5 79.5H335M152.5 80.5H155M27.5 81.5H30M55 81.5H60M300 81.5H302.5M17.5 82.5H20M30 82.5H32.5M65 82.5H67.5M72.5 82.5H75M82.5 82.5H87.5M100 82.5H102.5M110 82.5H115M12.5 83.5H15M17.5 83.5H20M45 83.5H47.5M57.5 83.5H60M70 83.5H72.5M87.5 83.5H90M92.5 83.5H95M107.5 83.5H110M255 83.5H257.5M295 83.5H297.5M37.5 84.5H40M57.5 84.5H60M102.5 84.5H105M27.5 85.5H32.5M45 85.5H50M72.5 85.5H75M77.5 85.5H80M87.5 85.5H92.5M175 85.5H177.5M180 85.5H182.5M205 85.5H207.5M27.5 86.5H30M62.5 86.5H65M70 86.5H72.5M80 86.5H87.5M150 86.5H152.5M160 86.5H162.5M250 86.5H252.5M312.5 86.5H315M27.5 87.5H30M87.5 87.5H90M100 87.5H102.5M105 87.5H107.5M60 88.5H62.5M72.5 88.5H75M92.5 88.5H95M7.5 89.5H10M32.5 89.5H35M212.5 89.5H215M265 89.5H272.5M12.5 90.5H20M27.5 90.5H32.5M0 91.5H2.5M7.5 91.5H10M40 91.5H42.5M90 91.5H95M110 91.5H112.5M217.5 91.5H220M255 91.5H257.5M5 92.5H7.5M10 92.5H12.5M22.5 92.5H32.5M52.5 92.5H57.5M82.5 92.5H85M87.5 92.5H90M295 92.5H300M10 93.5H15M37.5 93.5H40M57.5 93.5H60M72.5 93.5H75M82.5 93.5H85M95 93.5H97.5M100 93.5H102.5M270 93.5H275M277.5 93.5H280M197.5 94.5H200M255 94.5H257.5M275 94.5H282.5M297.5 94.5H300M105 96.5H107.5M207.5 96.5H210M252.5 96.5H257.5M272.5 96.5H277.5M280 96.5H282.5M82.5 98.5H85M7.5 99.5H10M207.5 99.5H210M255 99.5H257.5M57.5 100.5H60M95 100.5H97.5M252.5 100.5H255M195 103.5H200M265 103.5H267.5M335 103.5H337.5M302.5 104.5H305M320 104.5H322.5M327.5 104.5H332.5M245 105.5H247.5M155 107.5H157.5M162.5 107.5H165M190 107.5H192.5M277.5 107.5H280" stroke="#01d801" stroke-width="1.04"/>
<path d="M132.5 0.5H137.5M312.5 0.5H315M350 0.5H352.5M307.5 1.5H310M312.5 1.5H315M2.5 2.5H5M62.5 2.5H67.5M82.5 2.5H85M137.5 2.5H140M142.5 2.5H147.5M40 3.5H42.5M75 3.5H77.5M135 3.5H147.5M187.5 3.5H190M310 3.5H312.5M320 3.5H322.5M330 3.5H335M345 3.5H354.8M47.5 4.5H50M137.5 5.5H140M57.5 6.5H60M135 6.5H137.5M327.5 6.5H330M10 8.5H12.5M132.5 8.5H135M302.5 8.5H305M315 8.5H317.5M337.5 8.5H340M347.5 8.5H350M140 9.5H142.5M230 9.5H232.5M237.5 9.5H240M245 9.5H247.5M12.5 10.5H17.5M20 10.5H25M35 10.5H37.5M77.5 10.5H80M140 10.5H147.5M152.5 10.5H160M225 10.5H230M240 10.5H242.5M262.5 10.5H265M267.5 10.5H272.5M280 10.5H282.5M287.5 10.5H292.5M315 10.5H317.5M332.5 10.5H335M7.5 11.5H10M15 11.5H17.5M22.5 11.5H25M120 11.5H122.5M152.5 11.5H157.5M197.5 11.5H200M235 11.5H237.5M257.5 11.5H260M317.5 11.5H322.5M335 11.5H337.5M0 12.5H2.5M20 12.5H22.5M137.5 12.5H140M142.5 12.5H145M272.5 12.5H275M280 12.5H282.5M317.5 12.5H320M330 12.5H332.5M335 12.5H337.5M0 13.5H5M7.5 13.5H10M142.5 13.5H147.5M217.5 13.5H220M225 13.5H227.5M252.5 13.5H257.5M307.5 13.5H312.5M315 13.5H317.5M325 13.5H330M335 13.5H340M350 13.5H352.5M135 14.5H137.5M140 14.5H142.5M205 14.5H210M232.5 14.5H237.5M250 14.5H252.5M275 14.5H280M300 14.5H302.5M327.5 15.5H330M12.5 16.5H15M85 16.5H90M320 16.5H322.5M152.5 17.5H157.5M167.5 17.5H172.5M180 17.5H182.5M210 17.5H215M217.5 17.5H222.5M237.5 17.5H240M242.5 17.5H245M255 17.5H257.5M265 17.5H270M317.5 17.5H322.5M335 17.5H337.5M140 18.5H145M245 18.5H247.5M305 18.5H310M312.5 18.5H317.5M320 18.5H322.5M100 19.5H102.5M122.5 19.5H125M140 19.5H142.5M147.5 19.5H152.5M157.5 19.5H167.5M182.5 19.5H185M217.5 19.5H225M297.5 19.5H300M322.5 19.5H325M117.5 20.5H120M122.5 20.5H125M152.5 20.5H155M187.5 20.5H190M312.5 20.5H315M135 23.5H137.5M140 23.5H142.5M172.5 23.5H175M182.5 23.5H185M195 23.5H202.5M222.5 23.5H225M237.5 23.5H240M242.5 23.5H247.5M250 23.5H252.5M255 23.5H260M270 23.5H272.5M302.5 23.5H307.5M312.5 23.5H315M320 23.5H322.5M327.5 23.5H330M137.5 24.5H140M230 24.5H235M245 24.5H247.5M270 24.5H272.5M312.5 24.5H315M320 24.5H322.5M327.5 24.5H330M130 25.5H137.5M140 25.5H142.5M155 25.5H160M332.5 25.5H335M190 26.5H195M115 27.5H120M115 28.5H117.5M132.5 28.5H142.5M25 29.5H30M35 29.5H37.5M60 29.5H62.5M65 29.5H70M82.5 29.5H85M87.5 29.5H90M147.5 29.5H150M175 29.5H182.5M207.5 29.5H210M25 30.5H27.5M35 30.5H37.5M50 30.5H52.5M72.5 30.5H75M87.5 30.5H90M92.5 30.5H95M117.5 30.5H120M122.5 30.5H125M127.5 30.5H130M170 30.5H172.5M180 30.5H182.5M185 30.5H187.5M202.5 30.5H207.5M222.5 30.5H225M242.5 30.5H245M247.5 30.5H255M267.5 30.5H270M12.5 31.5H15M45 31.5H50M132.5 31.5H137.5M315 31.5H320M327.5 31.5H330M337.5 31.5H340M137.5 32.5H140M142.5 32.5H145M307.5 32.5H310M310 33.5H312.5M320 33.5H322.5M340 33.5H345M50 34.5H52.5M110 34.5H112.5M137.5 34.5H140M0 35.5H2.5M12.5 35.5H15M22.5 35.5H25M122.5 35.5H125M132.5 35.5H135M137.5 35.5H140M142.5 35.5H147.5M152.5 35.5H155M157.5 35.5H160M175 35.5H177.5M302.5 35.5H307.5M325 35.5H327.5M352.5 35.5H354.8M35 36.5H37.5M112.5 36.5H115M137.5 36.5H140M147.5 36.5H150M175 36.5H180M187.5 36.5H192.5M285 36.5H287.5M305 36.5H307.5M322.5 36.5H325M330 36.5H332.5M337.5 36.5H340M342.5 36.5H350M20 37.5H22.5M127.5 37.5H130M147.5 37.5H150M182.5 37.5H185M107.5 38.5H112.5M135 38.5H137.5M152.5 38.5H155M180 38.5H182.5M2.5 39.5H5M7.5 39.5H12.5M40 39.5H42.5M132.5 39.5H142.5M262.5 39.5H267.5M22.5 40.5H25M30 40.5H37.5M45 40.5H47.5M75 40.5H77.5M80 40.5H82.5M112.5 40.5H117.5M120 40.5H122.5M132.5 40.5H135M142.5 40.5H147.5M182.5 40.5H185M255 40.5H257.5M282.5 40.5H287.5M300 40.5H302.5M317.5 40.5H327.5M335 40.5H337.5M342.5 40.5H345M132.5 41.5H135M137.5 41.5H142.5M145 41.5H147.5M25 43.5H27.5M42.5 43.5H45M50 43.5H52.5M57.5 43.5H60M67.5 43.5H72.5M92.5 43.5H95M107.5 43.5H110M145 43.5H147.5M307.5 43.5H312.5M315 43.5H317.5M132.5 44.5H135M140 44.5H142.5M57.5 45.5H60M105 45.5H107.5M132.5 45.5H135M152.5 45.5H155M182.5 45.5H185M317.5 45.5H320M322.5 45.5H325M335 45.5H337.5M0 46.5H2.5M42.5 46.5H45M65 46.5H72.5M80 46.5H87.5M145 46.5H147.5M160 46.5H162.5M165 46.5H167.5M170 46.5H172.5M190 46.5H195M320 46.5H325M2.5 47.5H5M7.5 47.5H10M25 47.5H27.5M32.5 47.5H35M45 47.5H47.5M55 47.5H57.5M67.5 47.5H70M77.5 47.5H80M132.5 47.5H137.5M147.5 47.5H150M172.5 47.5H177.5M307.5 47.5H310M325 47.5H330M352.5 47.5H354.8M195 48.5H197.5M315 48.5H317.5M322.5 48.5H325M40 49.5H42.5M70 49.5H72.5M82.5 49.5H85M180 49.5H182.5M267.5 49.5H270M287.5 49.5H290M295 49.5H300M12.5 50.5H15M42.5 50.5H47.5M57.5 50.5H60M327.5 50.5H330M167.5 51.5H170M342.5 51.5H345M2.5 52.5H5M7.5 52.5H10M30 52.5H32.5M50 52.5H57.5M67.5 52.5H70M100 52.5H102.5M110 52.5H112.5M285 52.5H287.5M10 53.5H15M17.5 53.5H20M22.5 53.5H27.5M32.5 53.5H37.5M62.5 53.5H65M72.5 53.5H75M105 53.5H107.5M147.5 53.5H150M277.5 53.5H282.5M290 53.5H302.5M315 53.5H317.5M352.5 53.5H354.8M30 54.5H32.5M62.5 54.5H65M102.5 54.5H105M107.5 54.5H110M190 54.5H192.5M205 54.5H207.5M210 54.5H212.5M222.5 54.5H225M242.5 54.5H245M255 54.5H257.5M262.5 54.5H265M305 54.5H307.5M327.5 54.5H330M332.5 54.5H335M215 55.5H217.5M255 55.5H257.5M260 55.5H262.5M265 55.5H267.5M275 55.5H277.5M280 55.5H282.5M290 55.5H292.5M317.5 55.5H320M322.5 55.5H325M332.5 55.5H335M340 55.5H342.5M347.5 55.5H350M27.5 56.5H32.5M42.5 56.5H45M47.5 56.5H52.5M55 56.5H57.5M70 56.5H72.5M80 56.5H87.5M112.5 56.5H115M227.5 56.5H230M260 56.5H262.5M270 56.5H272.5M327.5 56.5H330M335 56.5H337.5M347.5 56.5H350M80 57.5H82.5M95 57.5H97.5M342.5 57.5H345M350 57.5H352.5M225 58.5H230M272.5 58.5H275M35 59.5H37.5M60 59.5H65M82.5 59.5H85M105 59.5H110M320 59.5H322.5M325 59.5H327.5M207.5 60.5H210M257.5 60.5H262.5M267.5 60.5H272.5M285 60.5H287.5M292.5 60.5H295M310 60.5H312.5M7.5 61.5H10M160 61.5H162.5M232.5 61.5H235M260 61.5H262.5M282.5 61.5H285M312.5 61.5H315M332.5 61.5H335M95 62.5H105M107.5 62.5H112.5M202.5 62.5H207.5M252.5 62.5H255M292.5 62.5H295M255 63.5H257.5M272.5 63.5H275M277.5 63.5H280M300 63.5H302.5M305 63.5H307.5M315 63.5H317.5M330 63.5H332.5M307.5 64.5H310M312.5 64.5H315M320 64.5H325M212.5 65.5H215M320 65.5H322.5M207.5 66.5H210M220 66.5H227.5M237.5 66.5H242.5M245 66.5H247.5M250 66.5H252.5M280 66.5H282.5M285 66.5H290M302.5 66.5H305M307.5 66.5H312.5M317.5 66.5H320M335 66.5H340M287.5 67.5H290M305 67.5H312.5M317.5 67.5H322.5M252.5 68.5H255M265 68.5H267.5M272.5 68.5H275M287.5 68.5H290M310 68.5H312.5M320 68.5H322.5M335 68.5H337.5M340 68.5H342.5M300 69.5H305M57.5 70.5H60M205 70.5H207.5M210 70.5H212.5M237.5 70.5H240M250 70.5H252.5M287.5 70.5H290M352.5 70.5H354.8M67.5 71.5H70M270 71.5H272.5M275 71.5H277.5M287.5 71.5H290M292.5 71.5H295M297.5 71.5H300M310 71.5H312.5M32.5 72.5H35M270 72.5H272.5M292.5 72.5H295M230 73.5H232.5M265 73.5H267.5M285 73.5H290M300 73.5H302.5M307.5 73.5H310M317.5 73.5H322.5M345 73.5H347.5M265 74.5H267.5M317.5 74.5H322.5M337.5 74.5H340M12.5 75.5H15M17.5 75.5H22.5M57.5 75.5H60M107.5 75.5H110M320 75.5H322.5M330 75.5H332.5M342.5 75.5H345M102.5 76.5H105M170 76.5H172.5M302.5 76.5H305M315 76.5H320M12.5 77.5H15M290 77.5H295M335 77.5H337.5M20 78.5H22.5M35 78.5H37.5M57.5 78.5H60M67.5 78.5H70M72.5 78.5H75M77.5 78.5H80M92.5 78.5H95M245 78.5H247.5M317.5 78.5H320M327.5 78.5H330M2.5 79.5H5M57.5 79.5H60M170 79.5H177.5M255 79.5H257.5M280 79.5H282.5M300 79.5H302.5M305 79.5H307.5M322.5 79.5H325M335 79.5H337.5M42.5 80.5H45M155 80.5H157.5M190 80.5H192.5M197.5 80.5H200M2.5 81.5H5M52.5 81.5H55M155 81.5H157.5M280 81.5H285M297.5 81.5H300M302.5 81.5H305M312.5 81.5H315M317.5 81.5H320M327.5 81.5H330M332.5 81.5H335M337.5 81.5H340M350 81.5H352.5M0 82.5H2.5M15 82.5H17.5M22.5 82.5H25M40 82.5H42.5M80 82.5H82.5M90 82.5H95M105 82.5H110M127.5 82.5H130M302.5 82.5H305M7.5 83.5H10M15 83.5H17.5M22.5 83.5H25M27.5 83.5H30M50 83.5H52.5M55 83.5H57.5M62.5 83.5H65M72.5 83.5H75M90 83.5H92.5M95 83.5H100M105 83.5H107.5M292.5 83.5H295M7.5 84.5H10M15 84.5H17.5M47.5 84.5H52.5M105 84.5H107.5M255 84.5H257.5M85 85.5H87.5M160 85.5H162.5M172.5 85.5H175M207.5 85.5H212.5M10 86.5H12.5M55 86.5H57.5M65 86.5H67.5M77.5 86.5H80M147.5 86.5H150M152.5 86.5H160M162.5 86.5H165M255 86.5H257.5M2.5 87.5H7.5M25 87.5H27.5M62.5 87.5H67.5M82.5 87.5H85M255 87.5H257.5M267.5 87.5H270M302.5 87.5H307.5M310 87.5H315M332.5 87.5H335M342.5 87.5H345M42.5 88.5H50M70 88.5H72.5M75 88.5H80M87.5 88.5H90M95 88.5H97.5M100 88.5H102.5M110 88.5H115M300 88.5H305M330 88.5H337.5M350 88.5H352.5M22.5 89.5H25M75 89.5H77.5M197.5 89.5H200M202.5 89.5H212.5M215 89.5H217.5M245 89.5H247.5M252.5 89.5H255M285 89.5H287.5M307.5 89.5H310M337.5 89.5H340M45 90.5H47.5M105 90.5H107.5M110 90.5H112.5M187.5 90.5H190M12.5 91.5H15M35 91.5H37.5M47.5 91.5H50M57.5 91.5H60M87.5 91.5H90M95 91.5H97.5M107.5 91.5H110M290 91.5H292.5M2.5 92.5H5M12.5 92.5H15M20 92.5H22.5M37.5 92.5H40M60 92.5H62.5M85 92.5H87.5M90 92.5H92.5M105 92.5H110M207.5 92.5H210M255 92.5H257.5M265 92.5H267.5M292.5 92.5H295M20 93.5H22.5M30 93.5H35M47.5 93.5H50M67.5 93.5H72.5M102.5 93.5H105M107.5 93.5H110M257.5 93.5H260M280 93.5H287.5M295 93.5H297.5M35 94.5H37.5M52.5 94.5H55M105 94.5H107.5M260 94.5H265M270 94.5H272.5M292.5 94.5H295M42.5 96.5H50M87.5 96.5H90M102.5 96.5H105M250 96.5H252.5M260 96.5H262.5M277.5 96.5H280M282.5 96.5H290M350 96.5H352.5M0 97.5H2.5M10 97.5H12.5M37.5 97.5H40M70 97.5H72.5M105 98.5H107.5M175 98.5H177.5M265 98.5H267.5M197.5 99.5H200M222.5 99.5H225M282.5 99.5H285M302.5 99.5H307.5M352.5 99.5H354.8M0 100.5H5M7.5 100.5H10M22.5 100.5H25M35 100.5H37.5M245 100.5H247.5M267.5 100.5H272.5M280 100.5H285M305 100.5H307.5M310 100.5H312.5M320 100.5H322.5M327.5 100.5H330M332.5 100.5H337.5M342.5 100.5H347.5M350 100.5H352.5M212.5 101.5H215M217.5 101.5H220M287.5 101.5H290M92.5 103.5H97.5M152.5 103.5H155M205 103.5H207.5M267.5 103.5H270M272.5 103.5H275M285 103.5H287.5M297.5 103.5H300M185 105.5H187.5M242.5 105.5H245M300 106.5H302.5M152.5 107.5H155" stroke="#03b103" stroke-width="1.04"/>
<path d="M12.5 0.5H15M37.5 1.5H40M77.5 1.5H80M102.5 1.5H107.5M295 1.5H297.5M305 1.5H307.5M0 2.5H2.5M17.5 2.5H20M57.5 2.5H60M205 2.5H207.5M332.5 2.5H335M0 3.5H2.5M7.5 3.5H10M12.5 3.5H20M37.5 3.5H40M57.5 3.5H60M70 3.5H72.5M80 3.5H82.5M85 3.5H90M185 3.5H187.5M190 3.5H192.5M240 3.5H242.5M245 3.5H247.5M300 3.5H302.5M307.5 3.5H310M317.5 3.5H320M327.5 3.5H330M335 3.5H342.5M50 4.5H52.5M100 4.5H102.5M225 4.5H227.5M317.5 4.5H320M5 5.5H7.5M15 5.5H17.5M255 5.5H257.5M287.5 5.5H290M300 5.5H302.5M10 6.5H12.5M25 6.5H27.5M147.5 6.5H150M312.5 6.5H317.5M322.5 6.5H325M350 6.5H352.5M2.5 8.5H5M7.5 8.5H10M30 8.5H32.5M307.5 8.5H310M312.5 8.5H315M340 8.5H347.5M352.5 8.5H354.8M197.5 9.5H202.5M205 9.5H207.5M210 9.5H212.5M27.5 10.5H30M37.5 10.5H45M67.5 10.5H70M75 10.5H77.5M90 10.5H92.5M100 10.5H107.5M110 10.5H115M222.5 10.5H225M232.5 10.5H235M255 10.5H257.5M260 10.5H262.5M265 10.5H267.5M292.5 10.5H295M302.5 10.5H305M310 10.5H312.5M335 10.5H337.5M5 11.5H7.5M17.5 11.5H20M25 11.5H30M157.5 11.5H160M205 11.5H210M215 11.5H217.5M222.5 11.5H225M230 11.5H235M240 11.5H242.5M247.5 11.5H250M255 11.5H257.5M312.5 11.5H315M322.5 11.5H325M337.5 11.5H340M5 12.5H10M15 12.5H20M25 12.5H27.5M32.5 12.5H37.5M57.5 12.5H60M87.5 12.5H90M265 12.5H267.5M270 12.5H272.5M277.5 12.5H280M312.5 12.5H317.5M342.5 12.5H345M352.5 12.5H354.8M20 13.5H22.5M32.5 13.5H35M197.5 13.5H200M205 13.5H207.5M220 13.5H222.5M227.5 13.5H230M242.5 13.5H245M247.5 13.5H252.5M272.5 13.5H275M287.5 13.5H290M340 13.5H345M12.5 14.5H15M212.5 14.5H215M230 14.5H232.5M252.5 14.5H255M295 14.5H300M197.5 15.5H200M205 15.5H207.5M210 15.5H212.5M342.5 15.5H345M37.5 16.5H40M57.5 16.5H60M90 16.5H92.5M100 16.5H102.5M107.5 16.5H110M240 16.5H242.5M245 16.5H250M310 16.5H312.5M317.5 16.5H320M322.5 16.5H325M327.5 16.5H330M340 16.5H345M350 16.5H352.5M150 17.5H152.5M185 17.5H187.5M190 17.5H192.5M197.5 17.5H200M207.5 17.5H210M230 17.5H232.5M257.5 17.5H260M262.5 17.5H265M275 17.5H277.5M307.5 17.5H312.5M337.5 17.5H340M342.5 17.5H345M105 18.5H115M207.5 18.5H210M255 18.5H257.5M277.5 18.5H280M300 18.5H302.5M322.5 18.5H325M350 18.5H352.5M102.5 19.5H107.5M170 19.5H172.5M185 19.5H190M207.5 19.5H210M225 19.5H227.5M230 19.5H232.5M252.5 19.5H255M257.5 19.5H260M265 19.5H270M277.5 19.5H282.5M290 19.5H292.5M315 19.5H317.5M77.5 20.5H80M147.5 20.5H150M155 20.5H157.5M160 20.5H165M197.5 20.5H200M245 20.5H247.5M315 20.5H317.5M105 21.5H107.5M187.5 21.5H190M285 21.5H290M315 21.5H317.5M152.5 23.5H155M157.5 23.5H160M167.5 23.5H170M177.5 23.5H180M185 23.5H187.5M190 23.5H195M225 23.5H227.5M232.5 23.5H237.5M262.5 23.5H265M280 23.5H282.5M307.5 23.5H312.5M332.5 23.5H335M337.5 23.5H340M180 24.5H182.5M202.5 24.5H205M207.5 24.5H212.5M215 24.5H220M267.5 24.5H270M272.5 24.5H275M315 24.5H317.5M330 24.5H332.5M335 24.5H337.5M57.5 25.5H60M137.5 25.5H140M160 25.5H165M167.5 25.5H170M175 25.5H177.5M335 25.5H340M137.5 26.5H142.5M185 26.5H187.5M225 26.5H227.5M252.5 26.5H260M267.5 26.5H270M322.5 26.5H325M25 28.5H27.5M162.5 28.5H165M187.5 28.5H190M10 29.5H12.5M15 29.5H17.5M20 29.5H22.5M40 29.5H42.5M52.5 29.5H55M70 29.5H72.5M85 29.5H87.5M90 29.5H95M105 29.5H107.5M110 29.5H112.5M160 29.5H165M167.5 29.5H175M195 29.5H200M202.5 29.5H205M212.5 29.5H215M2.5 30.5H7.5M27.5 30.5H30M40 30.5H47.5M67.5 30.5H72.5M90 30.5H92.5M115 30.5H117.5M120 30.5H122.5M155 30.5H157.5M160 30.5H162.5M172.5 30.5H175M207.5 30.5H210M215 30.5H217.5M230 30.5H232.5M255 30.5H257.5M260 30.5H262.5M265 30.5H267.5M280 30.5H290M22.5 31.5H25M42.5 31.5H45M147.5 31.5H150M167.5 31.5H170M180 31.5H182.5M310 31.5H312.5M322.5 31.5H325M330 31.5H335M350 31.5H352.5M0 32.5H2.5M7.5 32.5H10M320 32.5H325M7.5 33.5H10M15 33.5H20M27.5 33.5H30M85 33.5H87.5M117.5 33.5H120M307.5 33.5H310M312.5 33.5H315M335 33.5H340M350 33.5H352.5M27.5 34.5H30M315 34.5H317.5M320 34.5H325M345 34.5H347.5M135 35.5H137.5M147.5 35.5H152.5M170 35.5H172.5M190 35.5H200M212.5 35.5H215M217.5 35.5H220M245 35.5H247.5M260 35.5H262.5M272.5 35.5H277.5M300 35.5H302.5M337.5 35.5H342.5M347.5 35.5H352.5M12.5 36.5H15M37.5 36.5H42.5M105 36.5H110M117.5 36.5H120M127.5 36.5H130M135 36.5H137.5M172.5 36.5H175M182.5 36.5H185M265 36.5H267.5M287.5 36.5H290M332.5 36.5H335M22.5 37.5H25M42.5 37.5H45M125 37.5H127.5M150 37.5H157.5M177.5 37.5H180M160 38.5H162.5M167.5 38.5H170M185 38.5H187.5M12.5 39.5H20M22.5 39.5H25M245 39.5H247.5M0 40.5H5M12.5 40.5H15M25 40.5H27.5M37.5 40.5H40M47.5 40.5H50M122.5 40.5H125M130 40.5H132.5M140 40.5H142.5M155 40.5H157.5M172.5 40.5H175M177.5 40.5H182.5M190 40.5H192.5M250 40.5H252.5M257.5 40.5H260M265 40.5H267.5M332.5 40.5H335M337.5 40.5H340M352.5 40.5H354.8M22.5 41.5H25M142.5 41.5H145M152.5 41.5H155M237.5 41.5H240M22.5 42.5H25M42.5 42.5H45M130 42.5H132.5M312.5 42.5H317.5M320 42.5H322.5M330 42.5H332.5M342.5 42.5H345M7.5 43.5H12.5M22.5 43.5H25M27.5 43.5H30M45 43.5H47.5M65 43.5H67.5M75 43.5H77.5M82.5 43.5H85M87.5 43.5H90M177.5 43.5H180M302.5 43.5H305M312.5 43.5H315M127.5 44.5H130M135 44.5H137.5M167.5 44.5H170M12.5 45.5H15M27.5 45.5H32.5M62.5 45.5H65M87.5 45.5H90M100 45.5H102.5M107.5 45.5H112.5M155 45.5H157.5M165 45.5H167.5M177.5 45.5H180M190 45.5H195M345 45.5H350M77.5 46.5H80M87.5 46.5H92.5M102.5 46.5H105M110 46.5H112.5M117.5 46.5H120M147.5 46.5H150M157.5 46.5H160M162.5 46.5H165M167.5 46.5H170M177.5 46.5H180M315 46.5H320M332.5 46.5H335M337.5 46.5H340M342.5 46.5H350M42.5 47.5H45M52.5 47.5H55M62.5 47.5H67.5M72.5 47.5H77.5M85 47.5H87.5M170 47.5H172.5M312.5 47.5H317.5M337.5 47.5H340M62.5 48.5H65M147.5 48.5H150M152.5 48.5H155M192.5 48.5H195M197.5 48.5H200M255 48.5H257.5M285 48.5H287.5M15 49.5H17.5M72.5 49.5H75M80 49.5H82.5M87.5 49.5H90M107.5 49.5H110M170 49.5H172.5M185 49.5H187.5M207.5 49.5H210M217.5 49.5H220M265 49.5H267.5M280 49.5H282.5M285 49.5H287.5M300 49.5H302.5M352.5 49.5H354.8M5 50.5H7.5M15 50.5H17.5M65 50.5H67.5M70 50.5H72.5M92.5 50.5H95M152.5 50.5H155M205 50.5H207.5M315 50.5H317.5M320 50.5H322.5M335 50.5H337.5M12.5 51.5H15M170 51.5H172.5M332.5 51.5H335M5 52.5H7.5M27.5 52.5H30M32.5 52.5H35M37.5 52.5H40M47.5 52.5H50M65 52.5H67.5M70 52.5H72.5M77.5 52.5H80M5 53.5H7.5M15 53.5H17.5M50 53.5H52.5M60 53.5H62.5M65 53.5H70M82.5 53.5H85M107.5 53.5H110M205 53.5H210M265 53.5H270M302.5 53.5H305M317.5 53.5H322.5M7.5 54.5H12.5M15 54.5H17.5M35 54.5H37.5M67.5 54.5H70M82.5 54.5H87.5M92.5 54.5H95M112.5 54.5H115M175 54.5H177.5M185 54.5H190M192.5 54.5H195M225 54.5H227.5M235 54.5H237.5M247.5 54.5H250M252.5 54.5H255M285 54.5H287.5M295 54.5H297.5M300 54.5H305M315 54.5H317.5M322.5 54.5H327.5M330 54.5H332.5M342.5 54.5H345M82.5 55.5H85M110 55.5H112.5M252.5 55.5H255M262.5 55.5H265M267.5 55.5H275M277.5 55.5H280M282.5 55.5H285M292.5 55.5H295M297.5 55.5H300M32.5 56.5H35M57.5 56.5H60M77.5 56.5H80M95 56.5H97.5M102.5 56.5H107.5M155 56.5H157.5M187.5 56.5H190M205 56.5H207.5M230 56.5H232.5M257.5 56.5H260M262.5 56.5H265M275 56.5H277.5M300 56.5H305M307.5 56.5H310M325 56.5H327.5M330 56.5H332.5M342.5 56.5H345M5 57.5H7.5M12.5 57.5H15M35 57.5H37.5M72.5 57.5H75M82.5 57.5H85M87.5 57.5H90M92.5 57.5H95M97.5 57.5H102.5M105 57.5H107.5M237.5 57.5H240M285 57.5H287.5M312.5 57.5H315M332.5 57.5H335M240 58.5H242.5M270 58.5H272.5M275 58.5H280M295 58.5H300M22.5 59.5H25M37.5 59.5H45M57.5 59.5H60M80 59.5H82.5M245 59.5H247.5M302.5 59.5H307.5M322.5 59.5H325M352.5 59.5H354.8M50 60.5H52.5M87.5 60.5H90M205 60.5H207.5M212.5 60.5H215M255 60.5H257.5M262.5 60.5H267.5M272.5 60.5H275M282.5 60.5H285M287.5 60.5H292.5M300 60.5H302.5M312.5 60.5H317.5M350 60.5H352.5M2.5 61.5H5M27.5 61.5H30M105 61.5H107.5M202.5 61.5H205M217.5 61.5H220M255 61.5H257.5M277.5 61.5H280M290 61.5H292.5M297.5 61.5H300M315 61.5H317.5M322.5 61.5H325M352.5 61.5H354.8M20 62.5H25M60 62.5H62.5M90 62.5H95M112.5 62.5H115M215 62.5H217.5M237.5 62.5H240M277.5 62.5H280M297.5 62.5H300M305 62.5H307.5M317.5 62.5H320M147.5 63.5H150M217.5 63.5H220M225 63.5H227.5M252.5 63.5H255M302.5 63.5H305M197.5 64.5H200M207.5 64.5H215M220 64.5H225M227.5 64.5H230M240 64.5H242.5M245 64.5H247.5M252.5 64.5H260M262.5 64.5H265M277.5 64.5H282.5M297.5 64.5H300M325 64.5H330M210 65.5H212.5M310 65.5H315M317.5 65.5H320M202.5 66.5H207.5M242.5 66.5H245M252.5 66.5H257.5M260 66.5H262.5M275 66.5H280M300 66.5H302.5M332.5 66.5H335M342.5 66.5H345M352.5 66.5H354.8M255 67.5H257.5M282.5 67.5H285M292.5 67.5H300M312.5 67.5H317.5M322.5 67.5H327.5M330 67.5H337.5M57.5 68.5H60M202.5 68.5H205M210 68.5H212.5M230 68.5H235M242.5 68.5H245M257.5 68.5H260M267.5 68.5H270M277.5 68.5H280M305 68.5H307.5M312.5 68.5H315M105 69.5H107.5M245 69.5H247.5M287.5 69.5H290M297.5 69.5H300M307.5 69.5H310M312.5 69.5H315M335 69.5H342.5M27.5 70.5H32.5M87.5 70.5H95M105 70.5H107.5M202.5 70.5H205M230 70.5H235M245 70.5H247.5M270 70.5H272.5M295 70.5H310M332.5 70.5H335M350 70.5H352.5M15 71.5H20M22.5 71.5H25M57.5 71.5H60M70 71.5H72.5M77.5 71.5H82.5M222.5 71.5H225M312.5 71.5H315M30 72.5H32.5M187.5 72.5H190M197.5 72.5H200M255 72.5H257.5M277.5 72.5H280M282.5 72.5H285M287.5 72.5H290M295 72.5H300M92.5 73.5H95M105 73.5H107.5M207.5 73.5H210M217.5 73.5H220M255 73.5H257.5M260 73.5H265M267.5 73.5H270M295 73.5H297.5M310 73.5H312.5M322.5 73.5H325M332.5 73.5H335M340 73.5H342.5M225 74.5H227.5M257.5 74.5H265M272.5 74.5H277.5M302.5 74.5H305M10 75.5H12.5M25 75.5H30M97.5 75.5H100M110 75.5H112.5M272.5 75.5H275M297.5 75.5H300M302.5 75.5H307.5M312.5 75.5H315M327.5 75.5H330M57.5 76.5H60M167.5 76.5H170M252.5 76.5H255M265 76.5H267.5M272.5 76.5H275M292.5 76.5H295M297.5 76.5H302.5M320 76.5H322.5M2.5 77.5H10M110 77.5H112.5M255 77.5H260M275 77.5H277.5M282.5 77.5H285M287.5 77.5H290M297.5 77.5H300M302.5 77.5H305M327.5 77.5H330M5 78.5H7.5M17.5 78.5H20M40 78.5H45M80 78.5H82.5M87.5 78.5H90M105 78.5H107.5M152.5 78.5H157.5M225 78.5H227.5M237.5 78.5H242.5M285 78.5H287.5M300 78.5H305M310 78.5H312.5M315 78.5H317.5M320 78.5H325M335 78.5H342.5M5 79.5H7.5M65 79.5H70M72.5 79.5H75M102.5 79.5H107.5M177.5 79.5H180M250 79.5H252.5M285 79.5H287.5M297.5 79.5H300M302.5 79.5H305M310 79.5H315M327.5 79.5H332.5M40 80.5H42.5M95 80.5H100M102.5 80.5H105M112.5 80.5H115M147.5 80.5H150M192.5 80.5H195M237.5 80.5H240M287.5 80.5H290M295 80.5H300M337.5 80.5H340M5 81.5H7.5M15 81.5H25M35 81.5H37.5M40 81.5H45M135 81.5H137.5M152.5 81.5H155M157.5 81.5H162.5M175 81.5H177.5M272.5 81.5H275M277.5 81.5H280M307.5 81.5H312.5M320 81.5H322.5M325 81.5H327.5M330 81.5H332.5M342.5 81.5H347.5M352.5 81.5H354.8M2.5 82.5H7.5M12.5 82.5H15M20 82.5H22.5M25 82.5H27.5M42.5 82.5H45M50 82.5H52.5M57.5 82.5H60M62.5 82.5H65M95 82.5H100M135 82.5H137.5M205 82.5H207.5M0 83.5H2.5M25 83.5H27.5M40 83.5H42.5M52.5 83.5H55M60 83.5H62.5M65 83.5H70M75 83.5H80M82.5 83.5H87.5M110 83.5H112.5M232.5 83.5H235M257.5 83.5H260M265 83.5H267.5M285 83.5H287.5M17.5 84.5H20M22.5 84.5H25M32.5 84.5H37.5M40 84.5H47.5M60 84.5H62.5M100 84.5H102.5M0 85.5H2.5M5 85.5H10M80 85.5H82.5M147.5 85.5H150M152.5 85.5H155M177.5 85.5H180M182.5 85.5H187.5M195 85.5H200M202.5 85.5H205M212.5 85.5H215M217.5 85.5H220M245 85.5H247.5M285 85.5H287.5M352.5 85.5H354.8M7.5 86.5H10M12.5 86.5H17.5M30 86.5H37.5M52.5 86.5H55M75 86.5H77.5M97.5 86.5H105M107.5 86.5H112.5M247.5 86.5H250M257.5 86.5H262.5M0 87.5H2.5M7.5 87.5H10M12.5 87.5H15M17.5 87.5H22.5M50 87.5H52.5M70 87.5H80M85 87.5H87.5M90 87.5H92.5M260 87.5H265M275 87.5H280M285 87.5H287.5M295 87.5H297.5M315 87.5H322.5M40 88.5H42.5M50 88.5H52.5M55 88.5H57.5M67.5 88.5H70M102.5 88.5H105M197.5 88.5H200M285 88.5H287.5M305 88.5H307.5M317.5 88.5H320M337.5 88.5H342.5M25 89.5H27.5M72.5 89.5H75M160 89.5H162.5M200 89.5H202.5M255 89.5H257.5M262.5 89.5H265M287.5 89.5H290M295 89.5H297.5M305 89.5H307.5M335 89.5H337.5M0 90.5H5M32.5 90.5H35M37.5 90.5H42.5M97.5 90.5H100M102.5 90.5H105M182.5 90.5H187.5M320 90.5H322.5M37.5 91.5H40M50 91.5H52.5M55 91.5H57.5M230 91.5H232.5M252.5 91.5H255M270 91.5H272.5M285 91.5H290M0 92.5H2.5M72.5 92.5H75M92.5 92.5H102.5M205 92.5H207.5M210 92.5H212.5M257.5 92.5H262.5M275 92.5H277.5M280 92.5H285M302.5 92.5H305M7.5 93.5H10M15 93.5H20M22.5 93.5H25M40 93.5H42.5M45 93.5H47.5M52.5 93.5H55M65 93.5H67.5M87.5 93.5H95M97.5 93.5H100M245 93.5H247.5M250 93.5H252.5M260 93.5H262.5M265 93.5H270M275 93.5H277.5M297.5 93.5H300M77.5 94.5H80M82.5 94.5H85M102.5 94.5H105M225 94.5H227.5M245 94.5H247.5M252.5 94.5H255M257.5 94.5H260M295 94.5H297.5M312.5 94.5H315M317.5 94.5H320M5 95.5H7.5M57.5 96.5H60M82.5 96.5H85M107.5 96.5H112.5M177.5 96.5H180M197.5 96.5H200M202.5 96.5H207.5M210 96.5H212.5M237.5 96.5H240M242.5 96.5H245M257.5 96.5H260M267.5 96.5H270M297.5 96.5H300M310 96.5H312.5M12.5 97.5H15M35 97.5H37.5M72.5 97.5H75M207.5 97.5H210M235 97.5H240M265 97.5H267.5M42.5 98.5H45M85 98.5H90M147.5 98.5H150M157.5 98.5H160M170 98.5H172.5M257.5 98.5H265M42.5 99.5H45M90 99.5H92.5M110 99.5H112.5M175 99.5H177.5M202.5 99.5H205M212.5 99.5H215M237.5 99.5H242.5M275 99.5H280M310 99.5H312.5M17.5 100.5H20M37.5 100.5H40M47.5 100.5H50M62.5 100.5H65M67.5 100.5H72.5M207.5 100.5H210M217.5 100.5H220M225 100.5H227.5M272.5 100.5H275M297.5 100.5H300M307.5 100.5H310M312.5 100.5H315M322.5 100.5H325M330 100.5H332.5M340 100.5H342.5M165 101.5H167.5M197.5 101.5H200M207.5 101.5H210M215 101.5H217.5M265 101.5H267.5M45 102.5H47.5M60 102.5H62.5M210 102.5H212.5M317.5 102.5H320M350 102.5H352.5M90 103.5H92.5M97.5 103.5H102.5M142.5 103.5H145M147.5 103.5H150M207.5 103.5H210M250 103.5H252.5M270 103.5H272.5M275 103.5H282.5M292.5 103.5H295M317.5 103.5H320M330 103.5H332.5M12.5 104.5H15M225 104.5H227.5M235 104.5H237.5M245 104.5H247.5M297.5 104.5H302.5M305 104.5H307.5M315 104.5H320M332.5 104.5H340M127.5 105.5H130M177.5 105.5H180M190 105.5H192.5M215 105.5H217.5M240 105.5H242.5M285 105.5H287.5M312.5 105.5H315M342.5 105.5H345M272.5 106.5H275M337.5 106.5H340M157.5 107.5H160M165 107.5H170M180 107.5H182.5M267.5 107.5H270M275 107.5H277.5M282.5 107.5H285M312.5 107.5H315" stroke="#058a05" stroke-width="1.04"/>
<path d="M300 0.5H302.5M307.5 0.5H312.5M342.5 0.5H345M347.5 0.5H350M35 1.5H37.5M62.5 1.5H65M187.5 1.5H190M297.5 1.5H300M310 1.5H312.5M327.5 1.5H330M37.5 2.5H45M77.5 2.5H82.5M110 2.5H112.5M202.5 2.5H205M207.5 2.5H210M300 2.5H302.5M330 2.5H332.5M335 2.5H340M2.5 3.5H7.5M10 3.5H12.5M42.5 3.5H45M62.5 3.5H70M72.5 3.5H75M152.5 3.5H157.5M192.5 3.5H195M197.5 3.5H200M237.5 3.5H240M242.5 3.5H245M305 3.5H307.5M322.5 3.5H327.5M342.5 3.5H345M12.5 4.5H15M22.5 4.5H25M27.5 4.5H30M52.5 4.5H55M57.5 4.5H60M67.5 4.5H70M95 4.5H97.5M102.5 4.5H105M110 4.5H112.5M167.5 4.5H170M307.5 4.5H310M320 4.5H322.5M7.5 5.5H10M20 5.5H25M192.5 5.5H195M270 5.5H272.5M285 5.5H287.5M302.5 5.5H305M312.5 5.5H315M325 5.5H330M335 5.5H337.5M15 6.5H17.5M27.5 6.5H32.5M75 6.5H82.5M152.5 6.5H155M215 6.5H217.5M230 6.5H232.5M237.5 6.5H240M245 6.5H247.5M302.5 6.5H305M307.5 6.5H312.5M332.5 6.5H340M345 6.5H350M352.5 6.5H354.8M5 7.5H7.5M237.5 7.5H240M245 7.5H247.5M312.5 7.5H315M327.5 7.5H330M335 7.5H337.5M5 8.5H7.5M22.5 8.5H27.5M305 8.5H307.5M310 8.5H312.5M332.5 8.5H335M20 9.5H25M207.5 9.5H210M212.5 9.5H217.5M220 9.5H225M240 9.5H242.5M255 9.5H257.5M287.5 9.5H290M0 10.5H2.5M17.5 10.5H20M65 10.5H67.5M70 10.5H75M82.5 10.5H85M92.5 10.5H97.5M192.5 10.5H195M197.5 10.5H200M212.5 10.5H217.5M220 10.5H222.5M230 10.5H232.5M242.5 10.5H245M247.5 10.5H252.5M295 10.5H302.5M307.5 10.5H310M0 11.5H2.5M147.5 11.5H152.5M200 11.5H202.5M210 11.5H212.5M217.5 11.5H220M225 11.5H227.5M252.5 11.5H255M342.5 11.5H345M2.5 12.5H5M40 12.5H42.5M55 12.5H57.5M60 12.5H62.5M155 12.5H157.5M300 12.5H302.5M320 12.5H327.5M337.5 12.5H340M100 13.5H102.5M105 13.5H107.5M110 13.5H112.5M155 13.5H157.5M170 13.5H172.5M192.5 13.5H197.5M202.5 13.5H205M222.5 13.5H225M237.5 13.5H240M260 13.5H262.5M265 13.5H267.5M277.5 13.5H280M295 13.5H297.5M345 13.5H350M15 14.5H17.5M20 14.5H25M210 14.5H212.5M215 14.5H217.5M222.5 14.5H225M237.5 14.5H242.5M245 14.5H247.5M255 14.5H257.5M270 14.5H275M280 14.5H285M2.5 15.5H5M207.5 15.5H210M212.5 15.5H215M225 15.5H230M305 15.5H310M325 15.5H327.5M345 15.5H347.5M350 15.5H352.5M2.5 16.5H5M7.5 16.5H10M17.5 16.5H25M32.5 16.5H35M40 16.5H42.5M55 16.5H57.5M65 16.5H67.5M92.5 16.5H95M112.5 16.5H115M147.5 16.5H150M170 16.5H172.5M177.5 16.5H180M237.5 16.5H240M250 16.5H257.5M325 16.5H327.5M330 16.5H335M347.5 16.5H350M352.5 16.5H354.8M82.5 17.5H85M157.5 17.5H160M182.5 17.5H185M187.5 17.5H190M227.5 17.5H230M232.5 17.5H237.5M270 17.5H275M277.5 17.5H280M315 17.5H317.5M340 17.5H342.5M347.5 17.5H352.5M27.5 18.5H30M37.5 18.5H40M67.5 18.5H70M102.5 18.5H105M165 18.5H167.5M202.5 18.5H205M217.5 18.5H220M240 18.5H242.5M275 18.5H277.5M297.5 18.5H300M302.5 18.5H305M310 18.5H312.5M317.5 18.5H320M340 18.5H350M352.5 18.5H354.8M50 19.5H52.5M57.5 19.5H60M175 19.5H180M190 19.5H195M200 19.5H207.5M210 19.5H215M232.5 19.5H237.5M260 19.5H262.5M275 19.5H277.5M295 19.5H297.5M300 19.5H302.5M310 19.5H315M330 19.5H332.5M337.5 19.5H340M57.5 20.5H60M70 20.5H72.5M80 20.5H82.5M150 20.5H152.5M175 20.5H177.5M190 20.5H192.5M202.5 20.5H205M210 20.5H215M217.5 20.5H220M307.5 20.5H312.5M67.5 21.5H70M192.5 21.5H195M210 21.5H212.5M215 21.5H217.5M255 21.5H257.5M265 21.5H267.5M295 21.5H297.5M312.5 21.5H315M317.5 21.5H320M332.5 21.5H337.5M160 22.5H165M180 22.5H185M207.5 22.5H210M20 23.5H25M162.5 23.5H167.5M227.5 23.5H232.5M247.5 23.5H250M330 23.5H332.5M340 23.5H342.5M160 24.5H162.5M195 24.5H197.5M205 24.5H207.5M220 24.5H230M237.5 24.5H242.5M250 24.5H252.5M255 24.5H260M275 24.5H277.5M280 24.5H282.5M302.5 24.5H305M342.5 24.5H345M352.5 24.5H354.8M147.5 25.5H150M152.5 25.5H155M165 25.5H167.5M185 25.5H187.5M230 25.5H232.5M327.5 25.5H330M57.5 26.5H60M105 26.5H107.5M162.5 26.5H172.5M177.5 26.5H180M187.5 26.5H190M227.5 26.5H232.5M265 26.5H267.5M277.5 26.5H280M297.5 26.5H300M302.5 26.5H305M310 26.5H312.5M320 26.5H322.5M170 28.5H172.5M267.5 28.5H270M277.5 28.5H280M12.5 29.5H15M17.5 29.5H20M30 29.5H32.5M37.5 29.5H40M42.5 29.5H45M100 29.5H105M112.5 29.5H115M165 29.5H167.5M192.5 29.5H195M210 29.5H212.5M242.5 29.5H247.5M267.5 29.5H270M297.5 29.5H300M0 30.5H2.5M30 30.5H32.5M37.5 30.5H40M82.5 30.5H87.5M102.5 30.5H107.5M110 30.5H112.5M125 30.5H127.5M130 30.5H132.5M150 30.5H152.5M157.5 30.5H160M167.5 30.5H170M177.5 30.5H180M200 30.5H202.5M217.5 30.5H220M7.5 31.5H10M17.5 31.5H20M67.5 31.5H72.5M80 31.5H85M102.5 31.5H105M107.5 31.5H112.5M150 31.5H155M162.5 31.5H165M175 31.5H177.5M195 31.5H197.5M255 31.5H257.5M285 31.5H287.5M300 31.5H302.5M305 31.5H310M312.5 31.5H315M320 31.5H322.5M335 31.5H337.5M345 31.5H347.5M2.5 32.5H5M10 32.5H12.5M47.5 32.5H50M95 32.5H97.5M310 32.5H315M325 32.5H327.5M10 33.5H12.5M20 33.5H22.5M40 33.5H45M87.5 33.5H90M105 33.5H107.5M255 33.5H257.5M322.5 33.5H325M327.5 33.5H335M15 34.5H17.5M20 34.5H22.5M25 34.5H27.5M40 34.5H42.5M72.5 34.5H75M80 34.5H82.5M87.5 34.5H92.5M212.5 34.5H215M302.5 34.5H307.5M325 34.5H327.5M332.5 34.5H337.5M347.5 34.5H350M5 35.5H7.5M15 35.5H22.5M25 35.5H27.5M165 35.5H167.5M172.5 35.5H175M182.5 35.5H185M200 35.5H202.5M205 35.5H212.5M240 35.5H242.5M252.5 35.5H255M257.5 35.5H260M327.5 35.5H330M342.5 35.5H345M2.5 36.5H5M32.5 36.5H35M50 36.5H60M102.5 36.5H105M115 36.5H117.5M130 36.5H132.5M150 36.5H152.5M165 36.5H167.5M230 36.5H232.5M270 36.5H272.5M282.5 36.5H285M290 36.5H297.5M340 36.5H342.5M0 37.5H5M25 37.5H30M70 37.5H72.5M122.5 37.5H125M130 37.5H132.5M170 37.5H172.5M175 37.5H177.5M180 37.5H182.5M187.5 37.5H190M27.5 38.5H32.5M67.5 38.5H72.5M75 38.5H77.5M147.5 38.5H152.5M165 38.5H167.5M175 38.5H180M192.5 38.5H195M20 39.5H22.5M30 39.5H32.5M37.5 39.5H40M42.5 39.5H45M217.5 39.5H220M260 39.5H262.5M267.5 39.5H270M277.5 39.5H282.5M327.5 39.5H330M5 40.5H7.5M15 40.5H17.5M147.5 40.5H152.5M162.5 40.5H165M185 40.5H187.5M192.5 40.5H195M252.5 40.5H255M267.5 40.5H270M340 40.5H342.5M350 40.5H352.5M0 41.5H5M7.5 41.5H10M17.5 41.5H20M57.5 41.5H60M70 41.5H72.5M155 41.5H157.5M170 41.5H172.5M177.5 41.5H182.5M187.5 41.5H190M235 41.5H237.5M310 41.5H312.5M315 41.5H320M327.5 41.5H330M335 41.5H337.5M2.5 42.5H10M12.5 42.5H15M17.5 42.5H22.5M35 42.5H37.5M57.5 42.5H60M125 42.5H127.5M170 42.5H177.5M277.5 42.5H280M310 42.5H312.5M317.5 42.5H320M332.5 42.5H335M337.5 42.5H342.5M345 42.5H347.5M2.5 43.5H5M17.5 43.5H20M52.5 43.5H57.5M60 43.5H62.5M72.5 43.5H75M77.5 43.5H80M122.5 43.5H130M175 43.5H177.5M255 43.5H257.5M305 43.5H307.5M317.5 43.5H320M332.5 43.5H335M110 44.5H112.5M117.5 44.5H120M187.5 44.5H190M265 44.5H270M335 44.5H337.5M0 45.5H2.5M5 45.5H10M60 45.5H62.5M70 45.5H77.5M82.5 45.5H85M90 45.5H92.5M95 45.5H100M172.5 45.5H175M272.5 45.5H277.5M340 45.5H345M350 45.5H352.5M45 46.5H47.5M52.5 46.5H55M57.5 46.5H62.5M72.5 46.5H77.5M92.5 46.5H95M97.5 46.5H100M112.5 46.5H117.5M130 46.5H132.5M180 46.5H182.5M215 46.5H217.5M307.5 46.5H310M312.5 46.5H315M325 46.5H330M17.5 47.5H20M35 47.5H37.5M80 47.5H82.5M117.5 47.5H120M162.5 47.5H165M167.5 47.5H170M180 47.5H182.5M302.5 47.5H307.5M317.5 47.5H320M322.5 47.5H325M340 47.5H342.5M345 47.5H347.5M350 47.5H352.5M22.5 48.5H25M27.5 48.5H32.5M42.5 48.5H45M55 48.5H57.5M72.5 48.5H75M87.5 48.5H90M97.5 48.5H100M187.5 48.5H192.5M252.5 48.5H255M282.5 48.5H285M320 48.5H322.5M327.5 48.5H330M12.5 49.5H15M37.5 49.5H40M42.5 49.5H45M77.5 49.5H80M90 49.5H92.5M177.5 49.5H180M187.5 49.5H190M192.5 49.5H195M205 49.5H207.5M210 49.5H217.5M252.5 49.5H255M275 49.5H277.5M282.5 49.5H285M2.5 50.5H5M10 50.5H12.5M20 50.5H22.5M35 50.5H40M67.5 50.5H70M72.5 50.5H75M112.5 50.5H115M150 50.5H152.5M265 50.5H267.5M285 50.5H287.5M312.5 50.5H315M330 50.5H332.5M10 51.5H12.5M15 51.5H20M22.5 51.5H25M27.5 51.5H32.5M70 51.5H72.5M90 51.5H95M102.5 51.5H110M160 51.5H165M192.5 51.5H195M250 51.5H252.5M330 51.5H332.5M335 51.5H340M10 52.5H12.5M60 52.5H62.5M72.5 52.5H77.5M80 52.5H82.5M87.5 52.5H92.5M97.5 52.5H100M165 52.5H175M177.5 52.5H180M185 52.5H187.5M245 52.5H247.5M265 52.5H270M282.5 52.5H285M292.5 52.5H295M310 52.5H312.5M0 53.5H2.5M70 53.5H72.5M75 53.5H77.5M100 53.5H102.5M110 53.5H112.5M150 53.5H152.5M160 53.5H165M167.5 53.5H170M225 53.5H227.5M237.5 53.5H240M250 53.5H260M262.5 53.5H265M270 53.5H272.5M305 53.5H307.5M325 53.5H327.5M347.5 53.5H350M5 54.5H7.5M12.5 54.5H15M27.5 54.5H30M32.5 54.5H35M40 54.5H42.5M47.5 54.5H52.5M60 54.5H62.5M65 54.5H67.5M70 54.5H75M87.5 54.5H90M95 54.5H97.5M100 54.5H102.5M155 54.5H160M172.5 54.5H175M180 54.5H182.5M195 54.5H197.5M200 54.5H205M220 54.5H222.5M227.5 54.5H230M232.5 54.5H235M240 54.5H242.5M292.5 54.5H295M312.5 54.5H315M335 54.5H337.5M340 54.5H342.5M345 54.5H347.5M352.5 54.5H354.8M100 55.5H102.5M107.5 55.5H110M220 55.5H222.5M240 55.5H242.5M247.5 55.5H250M285 55.5H290M327.5 55.5H330M342.5 55.5H347.5M350 55.5H354.8M35 56.5H37.5M52.5 56.5H55M60 56.5H62.5M67.5 56.5H70M75 56.5H77.5M87.5 56.5H95M107.5 56.5H112.5M197.5 56.5H200M212.5 56.5H217.5M220 56.5H225M242.5 56.5H245M255 56.5H257.5M282.5 56.5H285M287.5 56.5H292.5M305 56.5H307.5M345 56.5H347.5M7.5 57.5H10M37.5 57.5H40M42.5 57.5H45M77.5 57.5H80M85 57.5H87.5M102.5 57.5H105M107.5 57.5H110M205 57.5H207.5M217.5 57.5H220M230 57.5H232.5M235 57.5H237.5M240 57.5H242.5M277.5 57.5H280M282.5 57.5H285M290 57.5H302.5M315 57.5H317.5M222.5 58.5H225M230 58.5H237.5M292.5 58.5H295M312.5 58.5H317.5M322.5 58.5H325M2.5 59.5H7.5M10 59.5H15M20 59.5H22.5M27.5 59.5H30M47.5 59.5H52.5M100 59.5H105M110 59.5H112.5M282.5 59.5H285M327.5 59.5H330M342.5 59.5H347.5M47.5 60.5H50M57.5 60.5H60M70 60.5H72.5M77.5 60.5H80M85 60.5H87.5M110 60.5H112.5M217.5 60.5H220M252.5 60.5H255M275 60.5H282.5M305 60.5H307.5M317.5 60.5H322.5M10 61.5H20M22.5 61.5H25M30 61.5H32.5M162.5 61.5H172.5M197.5 61.5H200M215 61.5H217.5M230 61.5H232.5M235 61.5H237.5M262.5 61.5H267.5M280 61.5H282.5M292.5 61.5H297.5M325 61.5H327.5M330 61.5H332.5M335 61.5H337.5M347.5 61.5H352.5M27.5 62.5H30M40 62.5H42.5M55 62.5H57.5M80 62.5H82.5M175 62.5H177.5M197.5 62.5H200M220 62.5H227.5M235 62.5H237.5M245 62.5H250M257.5 62.5H260M265 62.5H270M272.5 62.5H277.5M280 62.5H282.5M300 62.5H302.5M307.5 62.5H312.5M315 62.5H317.5M327.5 62.5H330M347.5 62.5H350M30 63.5H32.5M202.5 63.5H205M212.5 63.5H215M222.5 63.5H225M232.5 63.5H237.5M245 63.5H247.5M332.5 63.5H335M200 64.5H207.5M215 64.5H217.5M225 64.5H227.5M265 64.5H270M287.5 64.5H292.5M295 64.5H297.5M302.5 64.5H307.5M332.5 64.5H342.5M345 64.5H347.5M207.5 65.5H210M267.5 65.5H270M287.5 65.5H290M297.5 65.5H300M315 65.5H317.5M322.5 65.5H325M227.5 66.5H232.5M235 66.5H237.5M270 66.5H272.5M320 66.5H325M340 66.5H342.5M350 66.5H352.5M40 67.5H42.5M250 67.5H255M262.5 67.5H270M280 67.5H282.5M300 67.5H305M347.5 67.5H350M60 68.5H62.5M67.5 68.5H75M197.5 68.5H200M205 68.5H210M275 68.5H277.5M285 68.5H287.5M302.5 68.5H305M307.5 68.5H310M315 68.5H320M330 68.5H335M347.5 68.5H350M30 69.5H32.5M67.5 69.5H70M77.5 69.5H80M85 69.5H87.5M275 69.5H277.5M285 69.5H287.5M305 69.5H307.5M310 69.5H312.5M317.5 69.5H320M47.5 70.5H50M85 70.5H87.5M107.5 70.5H112.5M200 70.5H202.5M225 70.5H227.5M252.5 70.5H255M262.5 70.5H265M267.5 70.5H270M272.5 70.5H275M277.5 70.5H280M285 70.5H287.5M292.5 70.5H295M310 70.5H312.5M322.5 70.5H325M330 70.5H332.5M337.5 70.5H340M342.5 70.5H345M12.5 71.5H15M20 71.5H22.5M207.5 71.5H210M215 71.5H217.5M265 71.5H270M5 72.5H7.5M12.5 72.5H15M27.5 72.5H30M112.5 72.5H115M210 72.5H212.5M260 72.5H262.5M280 72.5H282.5M322.5 72.5H325M327.5 72.5H330M30 73.5H32.5M57.5 73.5H60M95 73.5H97.5M110 73.5H112.5M192.5 73.5H195M205 73.5H207.5M232.5 73.5H235M270 73.5H272.5M282.5 73.5H285M290 73.5H292.5M297.5 73.5H300M335 73.5H337.5M12.5 74.5H15M20 74.5H25M227.5 74.5H230M252.5 74.5H257.5M267.5 74.5H272.5M295 74.5H300M305 74.5H310M332.5 74.5H337.5M342.5 74.5H345M352.5 74.5H354.8M30 75.5H32.5M55 75.5H57.5M67.5 75.5H75M95 75.5H97.5M170 75.5H172.5M205 75.5H207.5M300 75.5H302.5M317.5 75.5H320M335 75.5H340M12.5 76.5H15M22.5 76.5H25M62.5 76.5H65M90 76.5H92.5M97.5 76.5H100M105 76.5H110M192.5 76.5H195M250 76.5H252.5M270 76.5H272.5M275 76.5H277.5M285 76.5H287.5M337.5 76.5H340M350 76.5H352.5M35 77.5H37.5M40 77.5H45M57.5 77.5H60M105 77.5H107.5M162.5 77.5H165M210 77.5H212.5M260 77.5H262.5M270 77.5H272.5M285 77.5H287.5M317.5 77.5H320M322.5 77.5H325M330 77.5H332.5M25 78.5H27.5M37.5 78.5H40M45 78.5H47.5M50 78.5H52.5M55 78.5H57.5M60 78.5H65M85 78.5H87.5M150 78.5H152.5M160 78.5H162.5M247.5 78.5H250M280 78.5H282.5M290 78.5H300M305 78.5H310M312.5 78.5H315M325 78.5H327.5M330 78.5H332.5M342.5 78.5H345M352.5 78.5H354.8M12.5 79.5H15M27.5 79.5H30M50 79.5H52.5M55 79.5H57.5M60 79.5H65M70 79.5H72.5M92.5 79.5H95M100 79.5H102.5M107.5 79.5H110M127.5 79.5H130M147.5 79.5H157.5M180 79.5H182.5M267.5 79.5H270M277.5 79.5H280M282.5 79.5H285M287.5 79.5H290M295 79.5H297.5M325 79.5H327.5M57.5 80.5H60M70 80.5H72.5M87.5 80.5H90M100 80.5H102.5M107.5 80.5H112.5M180 80.5H182.5M187.5 80.5H190M207.5 80.5H210M245 80.5H247.5M265 80.5H270M277.5 80.5H280M335 80.5H337.5M340 80.5H342.5M0 81.5H2.5M12.5 81.5H15M25 81.5H27.5M32.5 81.5H35M47.5 81.5H52.5M62.5 81.5H65M75 81.5H77.5M102.5 81.5H107.5M110 81.5H112.5M180 81.5H182.5M192.5 81.5H197.5M270 81.5H272.5M285 81.5H290M305 81.5H307.5M322.5 81.5H325M335 81.5H337.5M340 81.5H342.5M10 82.5H12.5M52.5 82.5H55M60 82.5H62.5M75 82.5H77.5M235 82.5H237.5M245 82.5H247.5M297.5 82.5H302.5M305 82.5H307.5M10 83.5H12.5M30 83.5H35M80 83.5H82.5M100 83.5H105M112.5 83.5H115M252.5 83.5H255M280 83.5H282.5M287.5 83.5H292.5M300 83.5H302.5M10 84.5H12.5M20 84.5H22.5M27.5 84.5H32.5M52.5 84.5H55M95 84.5H100M260 84.5H262.5M290 84.5H295M2.5 85.5H5M145 85.5H147.5M150 85.5H152.5M155 85.5H160M162.5 85.5H165M167.5 85.5H172.5M190 85.5H195M215 85.5H217.5M220 85.5H222.5M225 85.5H227.5M230 85.5H235M252.5 85.5H257.5M265 85.5H267.5M287.5 85.5H290M327.5 85.5H330M0 86.5H2.5M17.5 86.5H20M37.5 86.5H45M47.5 86.5H52.5M60 86.5H62.5M72.5 86.5H75M105 86.5H107.5M112.5 86.5H115M165 86.5H167.5M187.5 86.5H190M195 86.5H197.5M245 86.5H247.5M277.5 86.5H280M310 86.5H312.5M325 86.5H327.5M15 87.5H17.5M22.5 87.5H25M30 87.5H32.5M40 87.5H42.5M45 87.5H50M60 87.5H62.5M92.5 87.5H95M102.5 87.5H105M110 87.5H115M225 87.5H227.5M270 87.5H275M297.5 87.5H302.5M307.5 87.5H310M322.5 87.5H325M345 87.5H347.5M350 87.5H354.8M5 88.5H7.5M10 88.5H15M37.5 88.5H40M52.5 88.5H55M65 88.5H67.5M80 88.5H82.5M107.5 88.5H110M152.5 88.5H157.5M160 88.5H162.5M245 88.5H247.5M267.5 88.5H272.5M280 88.5H285M290 88.5H292.5M307.5 88.5H310M315 88.5H317.5M0 89.5H7.5M12.5 89.5H15M190 89.5H192.5M250 89.5H252.5M260 89.5H262.5M277.5 89.5H285M290 89.5H295M297.5 89.5H300M302.5 89.5H305M310 89.5H315M340 89.5H342.5M5 90.5H7.5M10 90.5H12.5M35 90.5H37.5M42.5 90.5H45M47.5 90.5H50M62.5 90.5H70M100 90.5H102.5M107.5 90.5H110M117.5 90.5H120M122.5 90.5H130M212.5 90.5H215M277.5 90.5H280M5 91.5H7.5M17.5 91.5H25M27.5 91.5H35M45 91.5H47.5M52.5 91.5H55M82.5 91.5H85M97.5 91.5H100M105 91.5H107.5M207.5 91.5H210M215 91.5H217.5M232.5 91.5H235M267.5 91.5H270M282.5 91.5H285M17.5 92.5H20M67.5 92.5H72.5M77.5 92.5H82.5M155 92.5H157.5M197.5 92.5H200M225 92.5H227.5M277.5 92.5H280M307.5 92.5H310M327.5 92.5H330M352.5 92.5H354.8M2.5 93.5H7.5M27.5 93.5H30M42.5 93.5H45M55 93.5H57.5M60 93.5H62.5M105 93.5H107.5M110 93.5H115M255 93.5H257.5M262.5 93.5H265M287.5 93.5H290M302.5 93.5H305M40 94.5H45M55 94.5H57.5M80 94.5H82.5M90 94.5H92.5M110 94.5H112.5M192.5 94.5H197.5M235 94.5H237.5M250 94.5H252.5M282.5 94.5H285M287.5 94.5H292.5M300 94.5H302.5M305 94.5H310M315 94.5H317.5M327.5 94.5H330M7.5 95.5H10M255 95.5H257.5M267.5 95.5H270M15 96.5H17.5M40 96.5H42.5M50 96.5H52.5M85 96.5H87.5M100 96.5H102.5M122.5 96.5H127.5M180 96.5H182.5M212.5 96.5H215M230 96.5H237.5M240 96.5H242.5M245 96.5H247.5M270 96.5H272.5M290 96.5H297.5M302.5 96.5H305M317.5 96.5H322.5M335 96.5H340M342.5 96.5H347.5M352.5 96.5H354.8M2.5 97.5H5M17.5 97.5H25M32.5 97.5H35M67.5 97.5H70M77.5 97.5H80M157.5 97.5H160M202.5 97.5H207.5M222.5 97.5H225M245 97.5H247.5M327.5 97.5H330M10 98.5H15M45 98.5H47.5M80 98.5H82.5M90 98.5H102.5M152.5 98.5H157.5M160 98.5H165M167.5 98.5H170M177.5 98.5H182.5M255 98.5H257.5M282.5 98.5H285M295 98.5H297.5M312.5 98.5H315M320 98.5H325M327.5 98.5H330M10 99.5H15M17.5 99.5H20M35 99.5H37.5M40 99.5H42.5M92.5 99.5H95M155 99.5H157.5M180 99.5H187.5M195 99.5H197.5M205 99.5H207.5M210 99.5H212.5M250 99.5H255M257.5 99.5H260M280 99.5H282.5M285 99.5H287.5M297.5 99.5H302.5M307.5 99.5H310M312.5 99.5H315M317.5 99.5H322.5M42.5 100.5H45M65 100.5H67.5M77.5 100.5H82.5M87.5 100.5H95M117.5 100.5H120M175 100.5H177.5M197.5 100.5H200M220 100.5H225M250 100.5H252.5M277.5 100.5H280M295 100.5H297.5M325 100.5H327.5M337.5 100.5H340M347.5 100.5H350M352.5 100.5H354.8M42.5 101.5H45M67.5 101.5H70M130 101.5H132.5M205 101.5H207.5M210 101.5H212.5M257.5 101.5H260M285 101.5H287.5M290 101.5H295M315 101.5H320M322.5 101.5H325M42.5 102.5H45M62.5 102.5H70M202.5 102.5H210M215 102.5H220M237.5 102.5H240M245 102.5H247.5M250 102.5H252.5M292.5 102.5H295M322.5 102.5H325M345 102.5H347.5M75 103.5H77.5M102.5 103.5H110M165 103.5H167.5M175 103.5H177.5M192.5 103.5H195M200 103.5H205M262.5 103.5H265M282.5 103.5H285M287.5 103.5H292.5M300 103.5H305M320 103.5H327.5M337.5 103.5H340M352.5 103.5H354.8M0 104.5H2.5M82.5 104.5H85M127.5 104.5H130M230 104.5H232.5M237.5 104.5H242.5M247.5 104.5H250M265 104.5H267.5M277.5 104.5H282.5M295 104.5H297.5M307.5 104.5H315M322.5 104.5H327.5M5 105.5H7.5M17.5 105.5H20M82.5 105.5H85M180 105.5H182.5M202.5 105.5H205M217.5 105.5H225M227.5 105.5H230M235 105.5H240M247.5 105.5H250M310 105.5H312.5M315 105.5H320M340 105.5H342.5M345 105.5H347.5M350 105.5H352.5M197.5 106.5H200M260 106.5H262.5M265 106.5H267.5M277.5 106.5H282.5M302.5 106.5H305M312.5 106.5H317.5M320 106.5H325M335 106.5H337.5M57.5 107.5H60M87.5 107.5H90M137.5 107.5H142.5M160 107.5H162.5M170 107.5H172.5M177.5 107.5H180M192.5 107.5H195M197.5 107.5H200M240 107.5H242.5M260 107.5H262.5M265 107.5H267.5M270 107.5H275M285 107.5H287.5M290 107.5H292.5M310 107.5H312.5M317.5 107.5H320" stroke="#066306" stroke-width="1.04"/>
<path d="M10 0.5H12.5M15 0.5H17.5M20 0.5H22.5M197.5 0.5H200M207.5 0.5H210M212.5 0.5H217.5M225 0.5H227.5M237.5 0.5H240M302.5 0.5H305M322.5 0.5H325M340 0.5H342.5M345 0.5H347.5M0 1.5H2.5M5 1.5H10M12.5 1.5H15M42.5 1.5H45M80 1.5H82.5M207.5 1.5H210M237.5 1.5H240M245 1.5H247.5M302.5 1.5H305M322.5 1.5H327.5M332.5 1.5H335M345 1.5H347.5M352.5 1.5H354.8M50 2.5H55M60 2.5H62.5M92.5 2.5H95M107.5 2.5H110M117.5 2.5H120M155 2.5H157.5M172.5 2.5H175M195 2.5H197.5M210 2.5H212.5M245 2.5H247.5M272.5 2.5H275M280 2.5H282.5M292.5 2.5H295M305 2.5H315M322.5 2.5H325M20 3.5H22.5M35 3.5H37.5M45 3.5H47.5M110 3.5H112.5M117.5 3.5H120M170 3.5H172.5M195 3.5H197.5M227.5 3.5H230M247.5 3.5H250M0 4.5H2.5M15 4.5H17.5M25 4.5H27.5M32.5 4.5H35M45 4.5H47.5M55 4.5H57.5M62.5 4.5H67.5M75 4.5H77.5M105 4.5H110M117.5 4.5H120M147.5 4.5H150M162.5 4.5H165M215 4.5H217.5M230 4.5H232.5M310 4.5H315M337.5 4.5H340M25 5.5H27.5M105 5.5H107.5M152.5 5.5H157.5M202.5 5.5H205M230 5.5H232.5M277.5 5.5H280M282.5 5.5H285M292.5 5.5H297.5M305 5.5H307.5M315 5.5H317.5M320 5.5H322.5M330 5.5H335M5 6.5H10M17.5 6.5H20M32.5 6.5H37.5M45 6.5H47.5M50 6.5H52.5M85 6.5H87.5M92.5 6.5H95M100 6.5H107.5M155 6.5H157.5M210 6.5H215M225 6.5H227.5M235 6.5H237.5M242.5 6.5H245M265 6.5H267.5M330 6.5H332.5M17.5 7.5H22.5M42.5 7.5H45M232.5 7.5H235M302.5 7.5H305M310 7.5H312.5M315 7.5H317.5M332.5 7.5H335M337.5 7.5H340M0 8.5H2.5M12.5 8.5H20M32.5 8.5H35M105 8.5H107.5M117.5 8.5H120M127.5 8.5H130M207.5 8.5H210M212.5 8.5H215M327.5 8.5H330M350 8.5H352.5M0 9.5H7.5M147.5 9.5H150M162.5 9.5H165M170 9.5H172.5M187.5 9.5H190M217.5 9.5H220M225 9.5H230M242.5 9.5H245M290 9.5H292.5M297.5 9.5H300M2.5 10.5H5M7.5 10.5H10M25 10.5H27.5M55 10.5H57.5M60 10.5H62.5M85 10.5H90M97.5 10.5H100M107.5 10.5H110M147.5 10.5H150M160 10.5H162.5M182.5 10.5H185M190 10.5H192.5M195 10.5H197.5M210 10.5H212.5M217.5 10.5H220M252.5 10.5H255M305 10.5H307.5M2.5 11.5H5M30 11.5H32.5M40 11.5H45M47.5 11.5H50M177.5 11.5H180M195 11.5H197.5M212.5 11.5H215M220 11.5H222.5M227.5 11.5H230M237.5 11.5H240M250 11.5H252.5M260 11.5H267.5M287.5 11.5H290M310 11.5H312.5M340 11.5H342.5M42.5 12.5H45M62.5 12.5H65M67.5 12.5H70M75 12.5H77.5M97.5 12.5H100M110 12.5H112.5M152.5 12.5H155M160 12.5H162.5M240 12.5H242.5M250 12.5H252.5M255 12.5H257.5M260 12.5H262.5M282.5 12.5H287.5M292.5 12.5H295M302.5 12.5H307.5M310 12.5H312.5M340 12.5H342.5M345 12.5H347.5M350 12.5H352.5M27.5 13.5H32.5M42.5 13.5H45M82.5 13.5H87.5M102.5 13.5H105M107.5 13.5H110M157.5 13.5H160M162.5 13.5H170M172.5 13.5H177.5M180 13.5H182.5M210 13.5H212.5M215 13.5H217.5M240 13.5H242.5M257.5 13.5H260M267.5 13.5H270M280 13.5H287.5M292.5 13.5H295M7.5 14.5H12.5M17.5 14.5H20M202.5 14.5H205M227.5 14.5H230M260 14.5H262.5M267.5 14.5H270M302.5 14.5H305M322.5 14.5H325M342.5 14.5H345M350 14.5H354.8M17.5 15.5H22.5M180 15.5H182.5M202.5 15.5H205M215 15.5H220M222.5 15.5H225M230 15.5H232.5M237.5 15.5H242.5M245 15.5H250M300 15.5H305M332.5 15.5H340M347.5 15.5H350M5 16.5H7.5M10 16.5H12.5M15 16.5H17.5M42.5 16.5H45M67.5 16.5H70M77.5 16.5H82.5M110 16.5H112.5M175 16.5H177.5M180 16.5H182.5M242.5 16.5H245M302.5 16.5H305M307.5 16.5H310M345 16.5H347.5M160 17.5H162.5M172.5 17.5H177.5M222.5 17.5H227.5M247.5 17.5H255M287.5 17.5H290M302.5 17.5H305M352.5 17.5H354.8M42.5 18.5H45M52.5 18.5H55M57.5 18.5H60M62.5 18.5H67.5M80 18.5H85M155 18.5H157.5M167.5 18.5H172.5M187.5 18.5H190M197.5 18.5H200M210 18.5H212.5M225 18.5H227.5M242.5 18.5H245M265 18.5H267.5M270 18.5H272.5M280 18.5H285M295 18.5H297.5M325 18.5H327.5M55 19.5H57.5M107.5 19.5H110M172.5 19.5H175M197.5 19.5H200M227.5 19.5H230M237.5 19.5H242.5M245 19.5H247.5M250 19.5H252.5M262.5 19.5H265M270 19.5H275M287.5 19.5H290M292.5 19.5H295M302.5 19.5H305M317.5 19.5H320M327.5 19.5H330M332.5 19.5H337.5M340 19.5H347.5M350 19.5H352.5M15 20.5H17.5M35 20.5H37.5M42.5 20.5H45M82.5 20.5H85M157.5 20.5H160M165 20.5H167.5M185 20.5H187.5M215 20.5H217.5M242.5 20.5H245M247.5 20.5H250M302.5 20.5H305M337.5 20.5H340M75 21.5H77.5M102.5 21.5H105M155 21.5H157.5M167.5 21.5H172.5M185 21.5H187.5M190 21.5H192.5M197.5 21.5H200M205 21.5H210M212.5 21.5H215M217.5 21.5H220M227.5 21.5H232.5M252.5 21.5H255M290 21.5H292.5M297.5 21.5H300M310 21.5H312.5M320 21.5H322.5M330 21.5H332.5M352.5 21.5H354.8M170 22.5H172.5M210 22.5H212.5M267.5 22.5H270M285 22.5H287.5M292.5 22.5H295M0 23.5H2.5M12.5 23.5H15M57.5 23.5H60M95 23.5H97.5M150 23.5H152.5M160 23.5H162.5M170 23.5H172.5M252.5 23.5H255M260 23.5H262.5M335 23.5H337.5M45 24.5H47.5M50 24.5H52.5M67.5 24.5H70M105 24.5H107.5M155 24.5H160M170 24.5H172.5M200 24.5H202.5M212.5 24.5H215M235 24.5H237.5M247.5 24.5H250M265 24.5H267.5M277.5 24.5H280M282.5 24.5H285M297.5 24.5H302.5M307.5 24.5H312.5M322.5 24.5H327.5M332.5 24.5H335M337.5 24.5H340M345 24.5H347.5M55 25.5H57.5M170 25.5H175M180 25.5H185M187.5 25.5H190M192.5 25.5H197.5M205 25.5H210M215 25.5H220M275 25.5H280M312.5 25.5H315M42.5 26.5H47.5M92.5 26.5H95M102.5 26.5H105M172.5 26.5H175M182.5 26.5H185M195 26.5H197.5M245 26.5H247.5M260 26.5H265M275 26.5H277.5M300 26.5H302.5M305 26.5H310M312.5 26.5H315M317.5 26.5H320M327.5 26.5H330M335 26.5H337.5M147.5 27.5H152.5M217.5 27.5H220M280 27.5H282.5M292.5 27.5H295M17.5 28.5H20M22.5 28.5H25M27.5 28.5H30M160 28.5H162.5M167.5 28.5H170M190 28.5H192.5M207.5 28.5H210M222.5 28.5H227.5M265 28.5H267.5M80 29.5H82.5M95 29.5H100M107.5 29.5H110M125 29.5H130M150 29.5H152.5M200 29.5H202.5M215 29.5H217.5M230 29.5H232.5M262.5 29.5H265M295 29.5H297.5M7.5 30.5H10M12.5 30.5H15M17.5 30.5H22.5M32.5 30.5H35M47.5 30.5H50M52.5 30.5H55M57.5 30.5H62.5M65 30.5H67.5M75 30.5H77.5M95 30.5H97.5M100 30.5H102.5M107.5 30.5H110M112.5 30.5H115M152.5 30.5H155M162.5 30.5H167.5M175 30.5H177.5M182.5 30.5H185M210 30.5H212.5M232.5 30.5H242.5M257.5 30.5H260M270 30.5H272.5M277.5 30.5H280M290 30.5H292.5M0 31.5H2.5M15 31.5H17.5M20 31.5H22.5M25 31.5H30M52.5 31.5H62.5M65 31.5H67.5M77.5 31.5H80M92.5 31.5H95M100 31.5H102.5M112.5 31.5H115M157.5 31.5H162.5M165 31.5H167.5M172.5 31.5H175M182.5 31.5H185M192.5 31.5H195M272.5 31.5H280M295 31.5H297.5M302.5 31.5H305M342.5 31.5H345M347.5 31.5H350M5 32.5H7.5M62.5 32.5H65M105 32.5H107.5M192.5 32.5H195M222.5 32.5H225M245 32.5H247.5M265 32.5H267.5M305 32.5H307.5M315 32.5H320M337.5 32.5H340M12.5 33.5H15M25 33.5H27.5M60 33.5H62.5M67.5 33.5H70M90 33.5H92.5M97.5 33.5H102.5M112.5 33.5H117.5M302.5 33.5H305M325 33.5H327.5M22.5 34.5H25M30 34.5H37.5M45 34.5H47.5M55 34.5H57.5M67.5 34.5H70M82.5 34.5H87.5M92.5 34.5H97.5M102.5 34.5H105M115 34.5H117.5M147.5 34.5H150M155 34.5H157.5M215 34.5H217.5M272.5 34.5H275M317.5 34.5H320M327.5 34.5H330M337.5 34.5H340M342.5 34.5H345M7.5 35.5H12.5M77.5 35.5H80M130 35.5H132.5M187.5 35.5H190M202.5 35.5H205M215 35.5H217.5M222.5 35.5H227.5M242.5 35.5H245M262.5 35.5H265M277.5 35.5H280M295 35.5H297.5M332.5 35.5H337.5M0 36.5H2.5M15 36.5H17.5M20 36.5H22.5M42.5 36.5H45M62.5 36.5H65M67.5 36.5H72.5M122.5 36.5H125M170 36.5H172.5M185 36.5H187.5M252.5 36.5H260M262.5 36.5H265M267.5 36.5H270M5 37.5H12.5M30 37.5H32.5M40 37.5H42.5M72.5 37.5H75M162.5 37.5H165M172.5 37.5H175M185 37.5H187.5M195 37.5H197.5M212.5 37.5H215M245 37.5H250M287.5 37.5H290M337.5 37.5H340M2.5 38.5H5M25 38.5H27.5M40 38.5H42.5M47.5 38.5H50M72.5 38.5H75M100 38.5H102.5M112.5 38.5H115M187.5 38.5H190M350 38.5H352.5M27.5 39.5H30M105 39.5H107.5M110 39.5H112.5M177.5 39.5H182.5M187.5 39.5H190M240 39.5H242.5M247.5 39.5H250M252.5 39.5H260M272.5 39.5H277.5M287.5 39.5H290M302.5 39.5H305M20 40.5H22.5M152.5 40.5H155M187.5 40.5H190M272.5 40.5H275M277.5 40.5H280M297.5 40.5H300M345 40.5H350M5 41.5H7.5M10 41.5H17.5M25 41.5H27.5M95 41.5H97.5M102.5 41.5H107.5M147.5 41.5H152.5M175 41.5H177.5M190 41.5H192.5M230 41.5H232.5M240 41.5H245M302.5 41.5H305M312.5 41.5H315M325 41.5H327.5M330 41.5H332.5M337.5 41.5H340M352.5 41.5H354.8M0 42.5H2.5M10 42.5H12.5M15 42.5H17.5M25 42.5H27.5M40 42.5H42.5M47.5 42.5H50M67.5 42.5H70M95 42.5H100M122.5 42.5H125M150 42.5H152.5M162.5 42.5H165M167.5 42.5H170M190 42.5H192.5M195 42.5H197.5M322.5 42.5H325M327.5 42.5H330M0 43.5H2.5M62.5 43.5H65M80 43.5H82.5M90 43.5H92.5M120 43.5H122.5M130 43.5H132.5M155 43.5H157.5M172.5 43.5H175M180 43.5H182.5M192.5 43.5H195M300 43.5H302.5M320 43.5H322.5M330 43.5H332.5M350 43.5H352.5M15 44.5H22.5M82.5 44.5H85M92.5 44.5H100M155 44.5H157.5M172.5 44.5H177.5M185 44.5H187.5M192.5 44.5H195M312.5 44.5H315M2.5 45.5H5M10 45.5H12.5M20 45.5H25M35 45.5H37.5M67.5 45.5H70M92.5 45.5H95M112.5 45.5H115M147.5 45.5H150M157.5 45.5H160M170 45.5H172.5M185 45.5H187.5M195 45.5H197.5M287.5 45.5H290M310 45.5H312.5M315 45.5H317.5M325 45.5H327.5M332.5 45.5H335M337.5 45.5H340M47.5 46.5H50M55 46.5H57.5M62.5 46.5H65M100 46.5H102.5M105 46.5H107.5M122.5 46.5H125M127.5 46.5H130M185 46.5H190M235 46.5H237.5M310 46.5H312.5M340 46.5H342.5M350 46.5H354.8M12.5 47.5H15M20 47.5H22.5M40 47.5H42.5M152.5 47.5H155M160 47.5H162.5M185 47.5H190M320 47.5H322.5M330 47.5H335M342.5 47.5H345M347.5 47.5H350M15 48.5H17.5M25 48.5H27.5M35 48.5H37.5M40 48.5H42.5M57.5 48.5H60M65 48.5H67.5M70 48.5H72.5M110 48.5H112.5M167.5 48.5H170M207.5 48.5H210M257.5 48.5H260M267.5 48.5H270M272.5 48.5H275M287.5 48.5H290M295 48.5H297.5M300 48.5H302.5M305 48.5H310M312.5 48.5H315M317.5 48.5H320M332.5 48.5H337.5M2.5 49.5H5M17.5 49.5H20M22.5 49.5H25M35 49.5H37.5M47.5 49.5H55M57.5 49.5H60M67.5 49.5H70M92.5 49.5H97.5M110 49.5H112.5M167.5 49.5H170M195 49.5H197.5M250 49.5H252.5M255 49.5H257.5M270 49.5H275M317.5 49.5H325M330 49.5H332.5M342.5 49.5H345M17.5 50.5H20M22.5 50.5H25M55 50.5H57.5M60 50.5H65M85 50.5H92.5M105 50.5H110M147.5 50.5H150M155 50.5H157.5M165 50.5H167.5M207.5 50.5H212.5M262.5 50.5H265M275 50.5H277.5M287.5 50.5H290M305 50.5H312.5M317.5 50.5H320M322.5 50.5H327.5M2.5 51.5H5M7.5 51.5H10M57.5 51.5H60M67.5 51.5H70M75 51.5H80M82.5 51.5H85M112.5 51.5H115M172.5 51.5H180M182.5 51.5H185M187.5 51.5H190M292.5 51.5H297.5M300 51.5H302.5M310 51.5H312.5M315 51.5H317.5M320 51.5H330M340 51.5H342.5M345 51.5H347.5M352.5 51.5H354.8M0 52.5H2.5M12.5 52.5H15M40 52.5H42.5M45 52.5H47.5M82.5 52.5H87.5M95 52.5H97.5M160 52.5H165M175 52.5H177.5M187.5 52.5H190M192.5 52.5H197.5M215 52.5H217.5M225 52.5H227.5M242.5 52.5H245M247.5 52.5H255M275 52.5H282.5M287.5 52.5H292.5M295 52.5H297.5M302.5 52.5H305M307.5 52.5H310M317.5 52.5H322.5M2.5 53.5H5M52.5 53.5H55M77.5 53.5H80M85 53.5H87.5M102.5 53.5H105M155 53.5H157.5M165 53.5H167.5M185 53.5H187.5M210 53.5H215M232.5 53.5H235M242.5 53.5H245M327.5 53.5H330M345 53.5H347.5M37.5 54.5H40M42.5 54.5H47.5M52.5 54.5H55M77.5 54.5H82.5M152.5 54.5H155M162.5 54.5H165M170 54.5H172.5M182.5 54.5H185M230 54.5H232.5M237.5 54.5H240M257.5 54.5H260M347.5 54.5H350M12.5 55.5H15M42.5 55.5H45M87.5 55.5H95M105 55.5H107.5M162.5 55.5H165M175 55.5H177.5M207.5 55.5H210M230 55.5H237.5M242.5 55.5H247.5M257.5 55.5H260M295 55.5H297.5M325 55.5H327.5M330 55.5H332.5M40 56.5H42.5M72.5 56.5H75M152.5 56.5H155M172.5 56.5H175M200 56.5H202.5M235 56.5H240M277.5 56.5H280M292.5 56.5H295M332.5 56.5H335M337.5 56.5H340M40 57.5H42.5M50 57.5H52.5M67.5 57.5H72.5M75 57.5H77.5M90 57.5H92.5M110 57.5H112.5M197.5 57.5H200M202.5 57.5H205M215 57.5H217.5M220 57.5H230M265 57.5H267.5M275 57.5H277.5M287.5 57.5H290M310 57.5H312.5M325 57.5H327.5M347.5 57.5H350M12.5 58.5H15M207.5 58.5H210M265 58.5H267.5M302.5 58.5H305M317.5 58.5H322.5M332.5 58.5H335M352.5 58.5H354.8M0 59.5H2.5M17.5 59.5H20M30 59.5H32.5M45 59.5H47.5M77.5 59.5H80M85 59.5H87.5M90 59.5H97.5M202.5 59.5H205M215 59.5H217.5M220 59.5H222.5M225 59.5H227.5M232.5 59.5H235M265 59.5H267.5M295 59.5H297.5M347.5 59.5H352.5M35 60.5H40M42.5 60.5H47.5M60 60.5H70M75 60.5H77.5M82.5 60.5H85M197.5 60.5H200M202.5 60.5H205M210 60.5H212.5M302.5 60.5H305M322.5 60.5H325M345 60.5H347.5M5 61.5H7.5M20 61.5H22.5M35 61.5H40M42.5 61.5H45M47.5 61.5H50M70 61.5H75M92.5 61.5H95M102.5 61.5H105M152.5 61.5H160M172.5 61.5H175M207.5 61.5H210M212.5 61.5H215M220 61.5H222.5M227.5 61.5H230M240 61.5H242.5M257.5 61.5H260M275 61.5H277.5M287.5 61.5H290M307.5 61.5H312.5M342.5 61.5H347.5M37.5 62.5H40M52.5 62.5H55M77.5 62.5H80M82.5 62.5H85M212.5 62.5H215M217.5 62.5H220M240 62.5H242.5M285 62.5H292.5M320 62.5H322.5M325 62.5H327.5M337.5 62.5H340M27.5 63.5H30M207.5 63.5H212.5M227.5 63.5H232.5M237.5 63.5H245M250 63.5H252.5M257.5 63.5H260M267.5 63.5H272.5M280 63.5H285M287.5 63.5H290M295 63.5H300M335 63.5H337.5M342.5 63.5H345M105 64.5H107.5M217.5 64.5H220M232.5 64.5H240M242.5 64.5H245M250 64.5H252.5M260 64.5H262.5M272.5 64.5H277.5M282.5 64.5H287.5M300 64.5H302.5M342.5 64.5H345M42.5 65.5H45M47.5 65.5H50M205 65.5H207.5M215 65.5H217.5M260 65.5H262.5M265 65.5H267.5M272.5 65.5H275M280 65.5H282.5M285 65.5H287.5M290 65.5H292.5M302.5 65.5H305M307.5 65.5H310M57.5 66.5H60M100 66.5H105M110 66.5H112.5M200 66.5H202.5M247.5 66.5H250M257.5 66.5H260M262.5 66.5H265M295 66.5H297.5M327.5 66.5H332.5M345 66.5H347.5M52.5 67.5H55M62.5 67.5H67.5M152.5 67.5H157.5M270 67.5H272.5M275 67.5H280M290 67.5H292.5M327.5 67.5H330M340 67.5H345M27.5 68.5H32.5M62.5 68.5H67.5M107.5 68.5H110M200 68.5H202.5M227.5 68.5H230M235 68.5H242.5M245 68.5H247.5M250 68.5H252.5M325 68.5H330M75 69.5H77.5M82.5 69.5H85M87.5 69.5H90M92.5 69.5H95M97.5 69.5H100M102.5 69.5H105M107.5 69.5H110M225 69.5H227.5M230 69.5H232.5M252.5 69.5H257.5M260 69.5H262.5M265 69.5H267.5M282.5 69.5H285M295 69.5H297.5M315 69.5H317.5M332.5 69.5H335M342.5 69.5H345M15 70.5H20M35 70.5H40M55 70.5H57.5M60 70.5H62.5M100 70.5H102.5M172.5 70.5H175M215 70.5H217.5M240 70.5H242.5M247.5 70.5H250M255 70.5H257.5M275 70.5H277.5M312.5 70.5H315M317.5 70.5H320M327.5 70.5H330M345 70.5H350M7.5 71.5H10M35 71.5H42.5M47.5 71.5H52.5M62.5 71.5H67.5M72.5 71.5H75M105 71.5H110M220 71.5H222.5M225 71.5H227.5M237.5 71.5H240M250 71.5H257.5M260 71.5H262.5M277.5 71.5H280M285 71.5H287.5M337.5 71.5H340M10 72.5H12.5M15 72.5H17.5M37.5 72.5H40M42.5 72.5H45M50 72.5H55M102.5 72.5H110M200 72.5H202.5M207.5 72.5H210M212.5 72.5H215M235 72.5H237.5M257.5 72.5H260M285 72.5H287.5M325 72.5H327.5M335 72.5H337.5M2.5 73.5H5M7.5 73.5H15M27.5 73.5H30M32.5 73.5H37.5M42.5 73.5H45M55 73.5H57.5M75 73.5H77.5M97.5 73.5H100M107.5 73.5H110M112.5 73.5H115M117.5 73.5H120M200 73.5H202.5M215 73.5H217.5M220 73.5H222.5M225 73.5H227.5M235 73.5H240M250 73.5H255M257.5 73.5H260M272.5 73.5H280M305 73.5H307.5M15 74.5H20M80 74.5H82.5M117.5 74.5H120M250 74.5H252.5M277.5 74.5H280M285 74.5H287.5M300 74.5H302.5M340 74.5H342.5M347.5 74.5H350M5 75.5H7.5M62.5 75.5H65M82.5 75.5H85M112.5 75.5H115M165 75.5H170M202.5 75.5H205M207.5 75.5H210M265 75.5H267.5M275 75.5H277.5M292.5 75.5H295M307.5 75.5H312.5M322.5 75.5H325M332.5 75.5H335M2.5 76.5H5M50 76.5H52.5M60 76.5H62.5M92.5 76.5H95M100 76.5H102.5M162.5 76.5H165M185 76.5H187.5M190 76.5H192.5M225 76.5H227.5M267.5 76.5H270M282.5 76.5H285M287.5 76.5H290M322.5 76.5H327.5M330 76.5H335M342.5 76.5H345M352.5 76.5H354.8M17.5 77.5H27.5M30 77.5H32.5M37.5 77.5H40M102.5 77.5H105M112.5 77.5H115M215 77.5H217.5M222.5 77.5H225M235 77.5H240M242.5 77.5H247.5M252.5 77.5H255M262.5 77.5H267.5M277.5 77.5H280M300 77.5H302.5M307.5 77.5H310M312.5 77.5H315M325 77.5H327.5M332.5 77.5H335M337.5 77.5H345M347.5 77.5H350M0 78.5H5M32.5 78.5H35M47.5 78.5H50M52.5 78.5H55M107.5 78.5H110M147.5 78.5H150M157.5 78.5H160M162.5 78.5H165M185 78.5H190M217.5 78.5H220M227.5 78.5H230M255 78.5H257.5M265 78.5H267.5M275 78.5H280M282.5 78.5H285M350 78.5H352.5M0 79.5H2.5M7.5 79.5H10M15 79.5H17.5M47.5 79.5H50M80 79.5H82.5M85 79.5H92.5M117.5 79.5H120M122.5 79.5H127.5M162.5 79.5H170M182.5 79.5H185M202.5 79.5H210M225 79.5H227.5M257.5 79.5H260M265 79.5H267.5M270 79.5H272.5M337.5 79.5H340M352.5 79.5H354.8M30 80.5H35M45 80.5H47.5M60 80.5H62.5M67.5 80.5H70M75 80.5H82.5M90 80.5H92.5M105 80.5H107.5M150 80.5H152.5M157.5 80.5H160M175 80.5H177.5M182.5 80.5H187.5M195 80.5H197.5M205 80.5H207.5M210 80.5H212.5M235 80.5H237.5M240 80.5H242.5M255 80.5H260M270 80.5H272.5M282.5 80.5H287.5M312.5 80.5H315M342.5 80.5H345M7.5 81.5H10M37.5 81.5H40M65 81.5H67.5M87.5 81.5H90M95 81.5H97.5M107.5 81.5H110M140 81.5H142.5M145 81.5H150M170 81.5H172.5M187.5 81.5H190M265 81.5H270M290 81.5H292.5M295 81.5H297.5M347.5 81.5H350M7.5 82.5H10M45 82.5H47.5M117.5 82.5H120M140 82.5H142.5M145 82.5H147.5M197.5 82.5H200M202.5 82.5H205M207.5 82.5H210M230 82.5H232.5M237.5 82.5H240M247.5 82.5H250M255 82.5H260M292.5 82.5H297.5M320 82.5H322.5M2.5 83.5H5M230 83.5H232.5M267.5 83.5H270M277.5 83.5H280M282.5 83.5H285M305 83.5H307.5M12.5 84.5H15M62.5 84.5H65M75 84.5H80M92.5 84.5H95M107.5 84.5H110M185 84.5H187.5M265 84.5H267.5M12.5 85.5H15M20 85.5H27.5M127.5 85.5H130M200 85.5H202.5M222.5 85.5H225M227.5 85.5H230M235 85.5H237.5M240 85.5H242.5M272.5 85.5H275M277.5 85.5H285M297.5 85.5H300M315 85.5H317.5M322.5 85.5H327.5M335 85.5H340M342.5 85.5H347.5M350 85.5H352.5M2.5 86.5H7.5M45 86.5H47.5M185 86.5H187.5M190 86.5H192.5M202.5 86.5H207.5M212.5 86.5H215M217.5 86.5H220M252.5 86.5H255M270 86.5H272.5M300 86.5H310M315 86.5H317.5M332.5 86.5H335M32.5 87.5H37.5M52.5 87.5H55M80 87.5H82.5M107.5 87.5H110M117.5 87.5H120M162.5 87.5H165M282.5 87.5H285M287.5 87.5H290M292.5 87.5H295M325 87.5H327.5M15 88.5H17.5M20 88.5H22.5M30 88.5H32.5M82.5 88.5H87.5M97.5 88.5H100M105 88.5H107.5M127.5 88.5H130M147.5 88.5H150M180 88.5H182.5M200 88.5H202.5M237.5 88.5H240M242.5 88.5H245M252.5 88.5H255M265 88.5H267.5M272.5 88.5H275M287.5 88.5H290M297.5 88.5H300M322.5 88.5H325M345 88.5H350M352.5 88.5H354.8M10 89.5H12.5M147.5 89.5H150M180 89.5H185M187.5 89.5H190M192.5 89.5H197.5M222.5 89.5H225M247.5 89.5H250M257.5 89.5H260M300 89.5H302.5M332.5 89.5H335M345 89.5H347.5M7.5 90.5H10M50 90.5H55M60 90.5H62.5M95 90.5H97.5M112.5 90.5H115M120 90.5H122.5M130 90.5H132.5M192.5 90.5H195M215 90.5H220M267.5 90.5H270M272.5 90.5H277.5M280 90.5H282.5M285 90.5H290M295 90.5H297.5M310 90.5H312.5M317.5 90.5H320M330 90.5H335M2.5 91.5H5M15 91.5H17.5M25 91.5H27.5M67.5 91.5H72.5M75 91.5H82.5M85 91.5H87.5M102.5 91.5H105M112.5 91.5H115M162.5 91.5H165M187.5 91.5H190M192.5 91.5H195M197.5 91.5H200M202.5 91.5H207.5M212.5 91.5H215M227.5 91.5H230M272.5 91.5H275M292.5 91.5H297.5M312.5 91.5H315M335 91.5H337.5M15 92.5H17.5M62.5 92.5H65M102.5 92.5H105M152.5 92.5H155M160 92.5H162.5M177.5 92.5H180M222.5 92.5H225M252.5 92.5H255M262.5 92.5H265M267.5 92.5H275M285 92.5H287.5M290 92.5H292.5M300 92.5H302.5M305 92.5H307.5M310 92.5H317.5M350 92.5H352.5M25 93.5H27.5M85 93.5H87.5M217.5 93.5H220M242.5 93.5H245M247.5 93.5H250M300 93.5H302.5M305 93.5H307.5M337.5 93.5H340M27.5 94.5H32.5M37.5 94.5H40M45 94.5H47.5M50 94.5H52.5M57.5 94.5H60M92.5 94.5H102.5M107.5 94.5H110M112.5 94.5H115M142.5 94.5H147.5M200 94.5H202.5M227.5 94.5H232.5M237.5 94.5H240M242.5 94.5H245M310 94.5H312.5M320 94.5H325M80 95.5H82.5M212.5 95.5H215M225 95.5H227.5M302.5 95.5H305M322.5 95.5H325M2.5 96.5H5M7.5 96.5H10M22.5 96.5H25M27.5 96.5H30M62.5 96.5H70M72.5 96.5H75M77.5 96.5H80M90 96.5H95M112.5 96.5H115M127.5 96.5H130M152.5 96.5H155M175 96.5H177.5M182.5 96.5H185M190 96.5H195M200 96.5H202.5M247.5 96.5H250M312.5 96.5H317.5M327.5 96.5H330M340 96.5H342.5M347.5 96.5H350M7.5 97.5H10M15 97.5H17.5M40 97.5H45M47.5 97.5H52.5M57.5 97.5H60M65 97.5H67.5M80 97.5H82.5M100 97.5H102.5M210 97.5H215M227.5 97.5H230M242.5 97.5H245M255 97.5H260M272.5 97.5H275M295 97.5H297.5M320 97.5H322.5M337.5 97.5H340M0 98.5H10M15 98.5H17.5M35 98.5H37.5M60 98.5H62.5M102.5 98.5H105M117.5 98.5H120M150 98.5H152.5M172.5 98.5H175M187.5 98.5H190M225 98.5H227.5M230 98.5H232.5M240 98.5H245M267.5 98.5H270M272.5 98.5H275M277.5 98.5H280M285 98.5H287.5M297.5 98.5H300M310 98.5H312.5M315 98.5H320M0 99.5H2.5M15 99.5H17.5M20 99.5H25M37.5 99.5H40M47.5 99.5H50M70 99.5H72.5M87.5 99.5H90M162.5 99.5H167.5M172.5 99.5H175M177.5 99.5H180M192.5 99.5H195M200 99.5H202.5M225 99.5H227.5M247.5 99.5H250M272.5 99.5H275M287.5 99.5H290M292.5 99.5H295M315 99.5H317.5M30 100.5H35M45 100.5H47.5M60 100.5H62.5M72.5 100.5H75M102.5 100.5H105M177.5 100.5H180M205 100.5H207.5M227.5 100.5H230M237.5 100.5H240M275 100.5H277.5M285 100.5H290M317.5 100.5H320M27.5 101.5H32.5M40 101.5H42.5M50 101.5H52.5M62.5 101.5H67.5M220 101.5H227.5M230 101.5H232.5M255 101.5H257.5M260 101.5H262.5M267.5 101.5H270M272.5 101.5H275M277.5 101.5H280M295 101.5H300M310 101.5H315M320 101.5H322.5M325 101.5H327.5M27.5 102.5H32.5M40 102.5H42.5M47.5 102.5H50M70 102.5H75M95 102.5H97.5M107.5 102.5H110M197.5 102.5H200M212.5 102.5H215M240 102.5H242.5M280 102.5H285M290 102.5H292.5M295 102.5H297.5M310 102.5H312.5M325 102.5H327.5M342.5 102.5H345M352.5 102.5H354.8M42.5 103.5H47.5M62.5 103.5H65M135 103.5H142.5M150 103.5H152.5M180 103.5H182.5M215 103.5H220M245 103.5H250M252.5 103.5H262.5M295 103.5H297.5M305 103.5H317.5M327.5 103.5H330M332.5 103.5H335M350 103.5H352.5M7.5 104.5H12.5M17.5 104.5H25M47.5 104.5H50M60 104.5H65M70 104.5H72.5M85 104.5H90M110 104.5H112.5M135 104.5H137.5M222.5 104.5H225M232.5 104.5H235M242.5 104.5H245M255 104.5H257.5M7.5 105.5H15M20 105.5H22.5M35 105.5H37.5M120 105.5H122.5M147.5 105.5H150M175 105.5H177.5M192.5 105.5H195M205 105.5H207.5M210 105.5H215M225 105.5H227.5M230 105.5H235M252.5 105.5H257.5M260 105.5H262.5M270 105.5H275M282.5 105.5H285M287.5 105.5H290M295 105.5H297.5M325 105.5H327.5M335 105.5H337.5M40 106.5H42.5M87.5 106.5H92.5M262.5 106.5H265M275 106.5H277.5M282.5 106.5H287.5M305 106.5H307.5M310 106.5H312.5M327.5 106.5H330M5 107.5H7.5M60 107.5H62.5M90 107.5H92.5M122.5 107.5H125M172.5 107.5H177.5M195 107.5H197.5M202.5 107.5H207.5M217.5 107.5H220M255 107.5H260M280 107.5H282.5M295 107.5H297.5M315 107.5H317.5M352.5 107.5H354.8" stroke="#083c08" stroke-width="1.04"/>
<path d="M7.5 0.5H10M25 0.5H27.5M42.5 0.5H50M175 0.5H177.5M180 0.5H182.5M202.5 0.5H207.5M210 0.5H212.5M217.5 0.5H222.5M230 0.5H235M240 0.5H242.5M250 0.5H255M260 0.5H267.5M272.5 0.5H275M325 0.5H330M337.5 0.5H340M10 1.5H12.5M27.5 1.5H30M60 1.5H62.5M65 1.5H70M72.5 1.5H77.5M202.5 1.5H207.5M217.5 1.5H220M240 1.5H242.5M257.5 1.5H265M292.5 1.5H295M300 1.5H302.5M330 1.5H332.5M337.5 1.5H342.5M347.5 1.5H350M45 2.5H50M67.5 2.5H70M87.5 2.5H92.5M95 2.5H102.5M152.5 2.5H155M160 2.5H162.5M165 2.5H167.5M175 2.5H180M187.5 2.5H190M197.5 2.5H200M212.5 2.5H215M220 2.5H222.5M225 2.5H230M252.5 2.5H257.5M267.5 2.5H270M277.5 2.5H280M282.5 2.5H287.5M317.5 2.5H322.5M340 2.5H342.5M350 2.5H352.5M27.5 3.5H30M92.5 3.5H97.5M112.5 3.5H115M122.5 3.5H125M147.5 3.5H150M157.5 3.5H160M172.5 3.5H177.5M205 3.5H207.5M210 3.5H212.5M270 3.5H272.5M20 4.5H22.5M37.5 4.5H40M70 4.5H72.5M77.5 4.5H87.5M127.5 4.5H130M150 4.5H155M160 4.5H162.5M165 4.5H167.5M170 4.5H172.5M180 4.5H182.5M210 4.5H215M222.5 4.5H225M237.5 4.5H240M252.5 4.5H255M292.5 4.5H295M300 4.5H302.5M325 4.5H332.5M0 5.5H2.5M27.5 5.5H30M32.5 5.5H35M62.5 5.5H65M95 5.5H97.5M100 5.5H102.5M122.5 5.5H125M185 5.5H190M195 5.5H197.5M200 5.5H202.5M227.5 5.5H230M232.5 5.5H242.5M245 5.5H252.5M257.5 5.5H260M280 5.5H282.5M340 5.5H342.5M345 5.5H347.5M0 6.5H5M52.5 6.5H57.5M62.5 6.5H65M97.5 6.5H100M122.5 6.5H125M127.5 6.5H130M157.5 6.5H160M187.5 6.5H195M207.5 6.5H210M217.5 6.5H220M227.5 6.5H230M252.5 6.5H255M287.5 6.5H290M300 6.5H302.5M0 7.5H2.5M12.5 7.5H15M22.5 7.5H27.5M35 7.5H37.5M67.5 7.5H72.5M87.5 7.5H90M100 7.5H102.5M107.5 7.5H110M122.5 7.5H125M147.5 7.5H152.5M210 7.5H212.5M227.5 7.5H230M240 7.5H242.5M282.5 7.5H285M307.5 7.5H310M330 7.5H332.5M340 7.5H342.5M35 8.5H42.5M125 8.5H127.5M152.5 8.5H155M160 8.5H162.5M170 8.5H175M182.5 8.5H185M195 8.5H197.5M210 8.5H212.5M215 8.5H225M230 8.5H232.5M245 8.5H252.5M285 8.5H287.5M330 8.5H332.5M7.5 9.5H12.5M17.5 9.5H20M30 9.5H37.5M50 9.5H52.5M85 9.5H87.5M155 9.5H160M165 9.5H167.5M192.5 9.5H195M235 9.5H237.5M247.5 9.5H250M257.5 9.5H265M272.5 9.5H275M282.5 9.5H285M295 9.5H297.5M302.5 9.5H305M310 9.5H315M332.5 9.5H335M337.5 9.5H342.5M5 10.5H7.5M150 10.5H152.5M185 10.5H190M205 10.5H207.5M65 11.5H70M72.5 11.5H75M77.5 11.5H80M162.5 11.5H165M175 11.5H177.5M180 11.5H182.5M192.5 11.5H195M267.5 11.5H272.5M277.5 11.5H280M295 11.5H297.5M300 11.5H302.5M345 11.5H347.5M350 11.5H352.5M30 12.5H32.5M45 12.5H55M77.5 12.5H80M92.5 12.5H95M162.5 12.5H165M180 12.5H182.5M235 12.5H240M242.5 12.5H247.5M252.5 12.5H255M35 13.5H37.5M70 13.5H72.5M182.5 13.5H185M187.5 13.5H190M235 13.5H237.5M270 13.5H272.5M25 14.5H27.5M62.5 14.5H65M102.5 14.5H105M170 14.5H172.5M220 14.5H222.5M292.5 14.5H295M305 14.5H307.5M310 14.5H315M330 14.5H337.5M345 14.5H347.5M7.5 15.5H15M22.5 15.5H25M57.5 15.5H60M147.5 15.5H150M152.5 15.5H155M175 15.5H177.5M187.5 15.5H190M200 15.5H202.5M232.5 15.5H235M270 15.5H272.5M317.5 15.5H320M45 16.5H47.5M50 16.5H52.5M62.5 16.5H65M75 16.5H77.5M82.5 16.5H85M97.5 16.5H100M150 16.5H152.5M165 16.5H167.5M182.5 16.5H185M192.5 16.5H195M197.5 16.5H200M207.5 16.5H210M225 16.5H227.5M272.5 16.5H275M50 17.5H52.5M57.5 17.5H60M85 17.5H87.5M95 17.5H97.5M200 17.5H202.5M205 17.5H207.5M292.5 17.5H295M345 17.5H347.5M12.5 18.5H17.5M32.5 18.5H35M40 18.5H42.5M47.5 18.5H52.5M55 18.5H57.5M60 18.5H62.5M70 18.5H77.5M175 18.5H177.5M182.5 18.5H185M192.5 18.5H197.5M205 18.5H207.5M212.5 18.5H215M220 18.5H222.5M227.5 18.5H230M232.5 18.5H235M252.5 18.5H255M260 18.5H262.5M267.5 18.5H270M287.5 18.5H290M292.5 18.5H295M327.5 18.5H330M332.5 18.5H337.5M7.5 19.5H10M45 19.5H47.5M62.5 19.5H67.5M80 19.5H82.5M110 19.5H112.5M305 19.5H307.5M320 19.5H322.5M347.5 19.5H350M12.5 20.5H15M17.5 20.5H20M40 20.5H42.5M45 20.5H47.5M60 20.5H62.5M65 20.5H67.5M75 20.5H77.5M95 20.5H97.5M110 20.5H112.5M167.5 20.5H175M267.5 20.5H272.5M282.5 20.5H292.5M317.5 20.5H322.5M327.5 20.5H335M340 20.5H345M30 21.5H32.5M35 21.5H37.5M70 21.5H75M82.5 21.5H87.5M100 21.5H102.5M157.5 21.5H162.5M222.5 21.5H225M232.5 21.5H235M240 21.5H242.5M250 21.5H252.5M262.5 21.5H265M267.5 21.5H270M272.5 21.5H275M280 21.5H282.5M302.5 21.5H305M337.5 21.5H340M345 21.5H347.5M95 22.5H97.5M152.5 22.5H155M172.5 22.5H175M177.5 22.5H180M185 22.5H190M192.5 22.5H195M212.5 22.5H217.5M225 22.5H227.5M240 22.5H242.5M260 22.5H262.5M265 22.5H267.5M272.5 22.5H275M282.5 22.5H285M295 22.5H300M302.5 22.5H305M312.5 22.5H315M2.5 23.5H5M7.5 23.5H10M15 23.5H17.5M25 23.5H27.5M30 23.5H32.5M55 23.5H57.5M62.5 23.5H65M70 23.5H72.5M75 23.5H77.5M87.5 23.5H90M92.5 23.5H95M97.5 23.5H102.5M110 23.5H112.5M347.5 23.5H350M37.5 24.5H42.5M55 24.5H60M65 24.5H67.5M77.5 24.5H80M85 24.5H90M92.5 24.5H95M102.5 24.5H105M110 24.5H112.5M165 24.5H167.5M177.5 24.5H180M185 24.5H190M285 24.5H290M295 24.5H297.5M340 24.5H342.5M347.5 24.5H352.5M30 25.5H32.5M87.5 25.5H90M110 25.5H112.5M210 25.5H212.5M220 25.5H222.5M232.5 25.5H235M237.5 25.5H245M280 25.5H282.5M287.5 25.5H290M302.5 25.5H305M317.5 25.5H320M322.5 25.5H325M340 25.5H347.5M350 25.5H354.8M27.5 26.5H30M40 26.5H42.5M47.5 26.5H50M87.5 26.5H90M107.5 26.5H110M147.5 26.5H152.5M155 26.5H157.5M175 26.5H177.5M180 26.5H182.5M200 26.5H205M212.5 26.5H215M222.5 26.5H225M232.5 26.5H235M237.5 26.5H240M242.5 26.5H245M247.5 26.5H250M270 26.5H272.5M282.5 26.5H285M292.5 26.5H297.5M325 26.5H327.5M330 26.5H332.5M342.5 26.5H345M7.5 27.5H10M40 27.5H42.5M155 27.5H157.5M170 27.5H172.5M187.5 27.5H190M225 27.5H227.5M0 28.5H5M35 28.5H37.5M92.5 28.5H95M147.5 28.5H150M152.5 28.5H155M175 28.5H180M185 28.5H187.5M215 28.5H222.5M235 28.5H237.5M240 28.5H242.5M250 28.5H257.5M260 28.5H262.5M272.5 28.5H275M290 28.5H292.5M7.5 29.5H10M47.5 29.5H50M182.5 29.5H185M187.5 29.5H192.5M255 29.5H257.5M280 29.5H282.5M62.5 30.5H65M220 30.5H222.5M272.5 30.5H277.5M32.5 31.5H42.5M75 31.5H77.5M87.5 31.5H90M252.5 31.5H255M260 31.5H262.5M265 31.5H270M290 31.5H292.5M22.5 32.5H25M27.5 32.5H30M42.5 32.5H47.5M50 32.5H52.5M57.5 32.5H60M65 32.5H67.5M75 32.5H77.5M82.5 32.5H85M92.5 32.5H95M112.5 32.5H115M150 32.5H152.5M160 32.5H165M177.5 32.5H180M217.5 32.5H220M237.5 32.5H240M260 32.5H262.5M267.5 32.5H270M300 32.5H302.5M330 32.5H332.5M335 32.5H337.5M342.5 32.5H345M347.5 32.5H350M352.5 32.5H354.8M0 33.5H5M37.5 33.5H40M50 33.5H55M70 33.5H75M95 33.5H97.5M120 33.5H125M130 33.5H132.5M160 33.5H162.5M197.5 33.5H200M215 33.5H217.5M7.5 34.5H10M57.5 34.5H60M65 34.5H67.5M117.5 34.5H120M125 34.5H132.5M150 34.5H155M167.5 34.5H172.5M177.5 34.5H180M182.5 34.5H185M190 34.5H195M205 34.5H210M230 34.5H235M292.5 34.5H295M300 34.5H302.5M67.5 35.5H72.5M85 35.5H90M102.5 35.5H105M250 35.5H252.5M282.5 35.5H285M287.5 35.5H290M292.5 35.5H295M297.5 35.5H300M25 36.5H27.5M72.5 36.5H75M77.5 36.5H82.5M90 36.5H95M120 36.5H122.5M207.5 36.5H210M212.5 36.5H215M220 36.5H225M227.5 36.5H230M277.5 36.5H280M297.5 36.5H300M35 37.5H37.5M45 37.5H47.5M85 37.5H90M190 37.5H192.5M197.5 37.5H200M207.5 37.5H210M215 37.5H217.5M235 37.5H237.5M255 37.5H257.5M272.5 37.5H275M290 37.5H295M310 37.5H312.5M320 37.5H327.5M332.5 37.5H335M0 38.5H2.5M35 38.5H40M45 38.5H47.5M55 38.5H60M82.5 38.5H87.5M90 38.5H92.5M95 38.5H100M172.5 38.5H175M237.5 38.5H240M285 38.5H287.5M302.5 38.5H305M312.5 38.5H315M317.5 38.5H325M32.5 39.5H35M45 39.5H50M55 39.5H57.5M62.5 39.5H65M72.5 39.5H75M80 39.5H85M90 39.5H92.5M147.5 39.5H150M175 39.5H177.5M185 39.5H187.5M190 39.5H197.5M205 39.5H207.5M220 39.5H225M237.5 39.5H240M270 39.5H272.5M285 39.5H287.5M290 39.5H292.5M312.5 39.5H315M322.5 39.5H325M342.5 39.5H345M10 40.5H12.5M202.5 40.5H205M212.5 40.5H215M242.5 40.5H247.5M262.5 40.5H265M270 40.5H272.5M290 40.5H297.5M30 41.5H32.5M42.5 41.5H47.5M60 41.5H62.5M65 41.5H70M72.5 41.5H77.5M82.5 41.5H85M92.5 41.5H95M107.5 41.5H110M115 41.5H117.5M160 41.5H162.5M165 41.5H170M172.5 41.5H175M192.5 41.5H195M210 41.5H212.5M247.5 41.5H250M340 41.5H342.5M50 42.5H55M60 42.5H62.5M80 42.5H82.5M92.5 42.5H95M102.5 42.5H105M107.5 42.5H110M120 42.5H122.5M152.5 42.5H157.5M177.5 42.5H180M187.5 42.5H190M192.5 42.5H195M270 42.5H272.5M325 42.5H327.5M335 42.5H337.5M350 42.5H352.5M115 43.5H117.5M152.5 43.5H155M157.5 43.5H160M195 43.5H197.5M277.5 43.5H280M322.5 43.5H325M327.5 43.5H330M335 43.5H337.5M345 43.5H350M0 44.5H5M27.5 44.5H30M55 44.5H57.5M80 44.5H82.5M85 44.5H90M100 44.5H102.5M105 44.5H107.5M112.5 44.5H115M147.5 44.5H150M152.5 44.5H155M180 44.5H182.5M190 44.5H192.5M255 44.5H257.5M272.5 44.5H275M307.5 44.5H310M315 44.5H322.5M15 45.5H20M32.5 45.5H35M45 45.5H50M65 45.5H67.5M207.5 45.5H210M262.5 45.5H265M277.5 45.5H285M290 45.5H292.5M295 45.5H297.5M302.5 45.5H305M307.5 45.5H310M330 45.5H332.5M50 46.5H52.5M207.5 46.5H215M237.5 46.5H240M245 46.5H247.5M255 46.5H257.5M272.5 46.5H275M302.5 46.5H307.5M37.5 47.5H40M120 47.5H122.5M157.5 47.5H160M210 47.5H212.5M222.5 47.5H225M230 47.5H232.5M242.5 47.5H245M247.5 47.5H250M257.5 47.5H260M267.5 47.5H270M280 47.5H282.5M5 48.5H7.5M47.5 48.5H50M77.5 48.5H80M82.5 48.5H87.5M92.5 48.5H95M105 48.5H110M162.5 48.5H165M170 48.5H172.5M205 48.5H207.5M210 48.5H212.5M250 48.5H252.5M262.5 48.5H265M310 48.5H312.5M340 48.5H342.5M350 48.5H352.5M0 49.5H2.5M7.5 49.5H10M20 49.5H22.5M60 49.5H62.5M100 49.5H102.5M147.5 49.5H150M155 49.5H162.5M172.5 49.5H175M200 49.5H202.5M222.5 49.5H225M262.5 49.5H265M305 49.5H307.5M335 49.5H337.5M340 49.5H342.5M345 49.5H350M25 50.5H27.5M32.5 50.5H35M52.5 50.5H55M75 50.5H77.5M80 50.5H85M97.5 50.5H102.5M160 50.5H162.5M167.5 50.5H175M177.5 50.5H182.5M185 50.5H190M195 50.5H197.5M202.5 50.5H205M225 50.5H227.5M237.5 50.5H240M255 50.5H257.5M267.5 50.5H272.5M280 50.5H285M290 50.5H292.5M300 50.5H302.5M0 51.5H2.5M35 51.5H37.5M40 51.5H42.5M47.5 51.5H50M55 51.5H57.5M62.5 51.5H65M85 51.5H87.5M95 51.5H97.5M152.5 51.5H155M185 51.5H187.5M190 51.5H192.5M195 51.5H197.5M210 51.5H215M267.5 51.5H270M280 51.5H290M297.5 51.5H300M302.5 51.5H310M347.5 51.5H352.5M15 52.5H17.5M25 52.5H27.5M92.5 52.5H95M190 52.5H192.5M217.5 52.5H220M222.5 52.5H225M227.5 52.5H230M235 52.5H240M255 52.5H257.5M260 52.5H262.5M270 52.5H275M315 52.5H317.5M322.5 52.5H325M342.5 52.5H345M347.5 52.5H350M45 53.5H47.5M97.5 53.5H100M175 53.5H177.5M180 53.5H185M195 53.5H197.5M200 53.5H202.5M227.5 53.5H232.5M245 53.5H247.5M332.5 53.5H342.5M2.5 54.5H5M17.5 54.5H20M25 54.5H27.5M167.5 54.5H170M0 55.5H2.5M10 55.5H12.5M40 55.5H42.5M50 55.5H57.5M102.5 55.5H105M147.5 55.5H152.5M187.5 55.5H190M205 55.5H207.5M227.5 55.5H230M97.5 56.5H102.5M147.5 56.5H150M162.5 56.5H165M180 56.5H182.5M185 56.5H187.5M190 56.5H195M10 57.5H12.5M30 57.5H35M45 57.5H50M175 57.5H177.5M200 57.5H202.5M212.5 57.5H215M242.5 57.5H245M255 57.5H257.5M260 57.5H262.5M302.5 57.5H305M317.5 57.5H322.5M327.5 57.5H330M0 58.5H2.5M7.5 58.5H10M30 58.5H32.5M42.5 58.5H47.5M50 58.5H55M102.5 58.5H105M152.5 58.5H157.5M262.5 58.5H265M280 58.5H282.5M287.5 58.5H290M300 58.5H302.5M307.5 58.5H310M327.5 58.5H330M337.5 58.5H342.5M65 59.5H67.5M70 59.5H72.5M75 59.5H77.5M87.5 59.5H90M97.5 59.5H100M112.5 59.5H115M147.5 59.5H150M152.5 59.5H155M162.5 59.5H165M167.5 59.5H170M177.5 59.5H182.5M187.5 59.5H190M195 59.5H202.5M222.5 59.5H225M237.5 59.5H240M255 59.5H257.5M260 59.5H262.5M267.5 59.5H270M275 59.5H280M297.5 59.5H300M330 59.5H332.5M337.5 59.5H342.5M7.5 60.5H10M30 60.5H32.5M52.5 60.5H57.5M80 60.5H82.5M92.5 60.5H95M107.5 60.5H110M112.5 60.5H115M225 60.5H227.5M232.5 60.5H235M352.5 60.5H354.8M65 61.5H70M75 61.5H85M87.5 61.5H90M95 61.5H97.5M175 61.5H177.5M242.5 61.5H245M267.5 61.5H275M337.5 61.5H340M0 62.5H2.5M30 62.5H35M42.5 62.5H45M47.5 62.5H50M62.5 62.5H67.5M75 62.5H77.5M155 62.5H157.5M160 62.5H162.5M232.5 62.5H235M260 62.5H262.5M270 62.5H272.5M352.5 62.5H354.8M12.5 63.5H15M50 63.5H52.5M57.5 63.5H60M62.5 63.5H65M72.5 63.5H77.5M87.5 63.5H90M152.5 63.5H155M167.5 63.5H170M197.5 63.5H202.5M220 63.5H222.5M260 63.5H262.5M285 63.5H287.5M290 63.5H292.5M337.5 63.5H342.5M352.5 63.5H354.8M40 64.5H42.5M50 64.5H52.5M62.5 64.5H65M92.5 64.5H95M102.5 64.5H105M177.5 64.5H182.5M292.5 64.5H295M350 64.5H354.8M5 65.5H7.5M45 65.5H47.5M50 65.5H52.5M55 65.5H57.5M220 65.5H225M257.5 65.5H260M270 65.5H272.5M300 65.5H302.5M330 65.5H340M352.5 65.5H354.8M32.5 66.5H35M37.5 66.5H47.5M55 66.5H57.5M60 66.5H62.5M70 66.5H72.5M75 66.5H77.5M80 66.5H82.5M197.5 66.5H200M232.5 66.5H235M290 66.5H292.5M325 66.5H327.5M17.5 67.5H22.5M32.5 67.5H35M70 67.5H72.5M87.5 67.5H92.5M150 67.5H152.5M187.5 67.5H190M192.5 67.5H195M197.5 67.5H200M235 67.5H237.5M242.5 67.5H247.5M272.5 67.5H275M345 67.5H347.5M7.5 68.5H10M35 68.5H37.5M112.5 68.5H115M157.5 68.5H160M167.5 68.5H170M212.5 68.5H217.5M247.5 68.5H250M32.5 69.5H35M37.5 69.5H40M42.5 69.5H45M47.5 69.5H50M55 69.5H60M95 69.5H97.5M147.5 69.5H152.5M177.5 69.5H190M200 69.5H210M232.5 69.5H235M262.5 69.5H265M267.5 69.5H275M290 69.5H292.5M330 69.5H332.5M352.5 69.5H354.8M0 70.5H2.5M10 70.5H12.5M22.5 70.5H25M52.5 70.5H55M62.5 70.5H65M70 70.5H72.5M170 70.5H172.5M175 70.5H177.5M180 70.5H182.5M212.5 70.5H215M227.5 70.5H230M280 70.5H282.5M75 71.5H77.5M110 71.5H115M217.5 71.5H220M240 71.5H245M247.5 71.5H250M262.5 71.5H265M317.5 71.5H320M325 71.5H332.5M347.5 71.5H354.8M0 72.5H2.5M25 72.5H27.5M47.5 72.5H50M57.5 72.5H62.5M70 72.5H75M90 72.5H95M97.5 72.5H102.5M182.5 72.5H187.5M195 72.5H197.5M215 72.5H220M225 72.5H227.5M232.5 72.5H235M237.5 72.5H242.5M245 72.5H247.5M262.5 72.5H265M302.5 72.5H305M317.5 72.5H320M330 72.5H332.5M340 72.5H342.5M345 72.5H347.5M350 72.5H352.5M15 73.5H22.5M37.5 73.5H40M45 73.5H47.5M50 73.5H52.5M60 73.5H62.5M70 73.5H72.5M77.5 73.5H80M82.5 73.5H85M122.5 73.5H125M147.5 73.5H150M155 73.5H157.5M182.5 73.5H185M210 73.5H212.5M242.5 73.5H247.5M30 74.5H35M60 74.5H65M87.5 74.5H90M120 74.5H122.5M130 74.5H132.5M205 74.5H207.5M220 74.5H222.5M235 74.5H240M245 74.5H247.5M280 74.5H285M287.5 74.5H290M2.5 75.5H5M32.5 75.5H35M65 75.5H67.5M85 75.5H92.5M132.5 75.5H135M145 75.5H150M152.5 75.5H157.5M162.5 75.5H165M190 75.5H195M197.5 75.5H200M212.5 75.5H215M225 75.5H227.5M250 75.5H252.5M267.5 75.5H272.5M280 75.5H287.5M290 75.5H292.5M350 75.5H354.8M7.5 76.5H10M15 76.5H20M27.5 76.5H30M42.5 76.5H45M47.5 76.5H50M70 76.5H72.5M77.5 76.5H80M82.5 76.5H87.5M110 76.5H112.5M145 76.5H147.5M152.5 76.5H155M165 76.5H167.5M172.5 76.5H175M187.5 76.5H190M200 76.5H205M217.5 76.5H220M222.5 76.5H225M227.5 76.5H230M235 76.5H237.5M245 76.5H247.5M262.5 76.5H265M277.5 76.5H280M295 76.5H297.5M335 76.5H337.5M345 76.5H350M32.5 77.5H35M45 77.5H47.5M60 77.5H65M115 77.5H117.5M147.5 77.5H150M152.5 77.5H155M170 77.5H177.5M192.5 77.5H195M205 77.5H207.5M220 77.5H222.5M230 77.5H235M345 77.5H347.5M125 78.5H127.5M132.5 78.5H135M137.5 78.5H140M175 78.5H182.5M210 78.5H215M232.5 78.5H235M332.5 78.5H335M345 78.5H350M20 79.5H25M30 79.5H37.5M40 79.5H45M77.5 79.5H80M120 79.5H122.5M130 79.5H132.5M157.5 79.5H162.5M185 79.5H187.5M195 79.5H197.5M217.5 79.5H220M235 79.5H237.5M247.5 79.5H250M260 79.5H265M290 79.5H295M340 79.5H342.5M347.5 79.5H352.5M15 80.5H17.5M27.5 80.5H30M37.5 80.5H40M50 80.5H52.5M72.5 80.5H75M162.5 80.5H167.5M172.5 80.5H175M200 80.5H205M215 80.5H220M222.5 80.5H235M247.5 80.5H250M252.5 80.5H255M272.5 80.5H277.5M292.5 80.5H295M310 80.5H312.5M325 80.5H330M350 80.5H352.5M67.5 81.5H75M85 81.5H87.5M92.5 81.5H95M112.5 81.5H115M127.5 81.5H130M137.5 81.5H140M142.5 81.5H145M205 81.5H207.5M260 81.5H262.5M115 82.5H117.5M120 82.5H122.5M130 82.5H132.5M142.5 82.5H145M212.5 82.5H215M222.5 82.5H227.5M232.5 82.5H235M240 82.5H245M250 82.5H252.5M267.5 82.5H275M277.5 82.5H280M282.5 82.5H285M307.5 82.5H310M312.5 82.5H315M322.5 82.5H325M335 82.5H337.5M342.5 82.5H345M35 83.5H37.5M207.5 83.5H210M215 83.5H217.5M225 83.5H230M235 83.5H237.5M272.5 83.5H277.5M302.5 83.5H305M310 83.5H312.5M327.5 83.5H330M0 84.5H2.5M67.5 84.5H75M87.5 84.5H92.5M150 84.5H152.5M162.5 84.5H175M182.5 84.5H185M187.5 84.5H190M207.5 84.5H210M215 84.5H220M245 84.5H247.5M250 84.5H255M297.5 84.5H300M327.5 84.5H335M337.5 84.5H342.5M345 84.5H352.5M10 85.5H12.5M120 85.5H122.5M125 85.5H127.5M165 85.5H167.5M237.5 85.5H240M262.5 85.5H265M290 85.5H292.5M340 85.5H342.5M170 86.5H175M197.5 86.5H200M235 86.5H240M262.5 86.5H265M267.5 86.5H270M275 86.5H277.5M280 86.5H282.5M287.5 86.5H290M295 86.5H300M320 86.5H325M335 86.5H337.5M347.5 86.5H350M115 87.5H117.5M127.5 87.5H132.5M157.5 87.5H162.5M165 87.5H167.5M190 87.5H192.5M195 87.5H197.5M202.5 87.5H205M217.5 87.5H220M222.5 87.5H225M242.5 87.5H247.5M252.5 87.5H255M257.5 87.5H260M327.5 87.5H330M347.5 87.5H350M0 88.5H2.5M157.5 88.5H160M162.5 88.5H165M192.5 88.5H195M202.5 88.5H212.5M215 88.5H220M227.5 88.5H235M247.5 88.5H250M257.5 88.5H262.5M277.5 88.5H280M292.5 88.5H295M310 88.5H315M135 89.5H140M142.5 89.5H145M150 89.5H160M175 89.5H177.5M232.5 89.5H235M237.5 89.5H240M317.5 89.5H320M325 89.5H327.5M330 89.5H332.5M55 90.5H57.5M80 90.5H85M87.5 90.5H90M92.5 90.5H95M137.5 90.5H140M157.5 90.5H160M162.5 90.5H167.5M170 90.5H172.5M175 90.5H177.5M190 90.5H192.5M195 90.5H200M210 90.5H212.5M250 90.5H252.5M297.5 90.5H300M312.5 90.5H315M322.5 90.5H325M335 90.5H337.5M340 90.5H345M350 90.5H352.5M60 91.5H62.5M152.5 91.5H155M167.5 91.5H170M172.5 91.5H175M177.5 91.5H180M222.5 91.5H227.5M245 91.5H250M280 91.5H282.5M310 91.5H312.5M315 91.5H320M75 92.5H77.5M175 92.5H177.5M187.5 92.5H190M192.5 92.5H197.5M200 92.5H202.5M217.5 92.5H220M227.5 92.5H230M232.5 92.5H235M237.5 92.5H240M245 92.5H247.5M320 92.5H322.5M337.5 92.5H340M342.5 92.5H350M0 93.5H2.5M115 93.5H117.5M127.5 93.5H130M135 93.5H137.5M172.5 93.5H175M177.5 93.5H182.5M200 93.5H202.5M205 93.5H207.5M212.5 93.5H215M220 93.5H222.5M290 93.5H292.5M2.5 94.5H5M72.5 94.5H75M87.5 94.5H90M127.5 94.5H130M147.5 94.5H150M222.5 94.5H225M232.5 94.5H235M337.5 94.5H340M347.5 94.5H350M352.5 94.5H354.8M0 95.5H2.5M52.5 95.5H55M57.5 95.5H62.5M82.5 95.5H85M110 95.5H112.5M197.5 95.5H200M210 95.5H212.5M215 95.5H220M227.5 95.5H230M235 95.5H240M250 95.5H255M260 95.5H262.5M307.5 95.5H310M315 95.5H317.5M320 95.5H322.5M5 96.5H7.5M20 96.5H22.5M52.5 96.5H55M60 96.5H62.5M80 96.5H82.5M95 96.5H97.5M115 96.5H120M150 96.5H152.5M167.5 96.5H175M195 96.5H197.5M220 96.5H222.5M325 96.5H327.5M330 96.5H335M25 97.5H27.5M52.5 97.5H55M60 97.5H65M82.5 97.5H85M97.5 97.5H100M105 97.5H107.5M135 97.5H137.5M160 97.5H165M175 97.5H180M225 97.5H227.5M232.5 97.5H235M240 97.5H242.5M247.5 97.5H250M270 97.5H272.5M317.5 97.5H320M330 97.5H332.5M345 97.5H347.5M25 98.5H27.5M30 98.5H32.5M37.5 98.5H40M50 98.5H52.5M110 98.5H115M137.5 98.5H140M185 98.5H187.5M207.5 98.5H210M232.5 98.5H235M245 98.5H247.5M250 98.5H255M270 98.5H272.5M290 98.5H295M302.5 98.5H305M307.5 98.5H310M325 98.5H327.5M340 98.5H342.5M27.5 99.5H30M50 99.5H52.5M55 99.5H57.5M60 99.5H62.5M67.5 99.5H70M75 99.5H80M82.5 99.5H87.5M105 99.5H107.5M112.5 99.5H115M160 99.5H162.5M170 99.5H172.5M187.5 99.5H190M215 99.5H222.5M227.5 99.5H230M245 99.5H247.5M290 99.5H292.5M322.5 99.5H325M340 99.5H342.5M350 99.5H352.5M25 100.5H27.5M52.5 100.5H55M75 100.5H77.5M97.5 100.5H100M105 100.5H107.5M110 100.5H112.5M122.5 100.5H125M160 100.5H162.5M187.5 100.5H190M195 100.5H197.5M210 100.5H212.5M240 100.5H242.5M290 100.5H292.5M2.5 101.5H5M10 101.5H12.5M25 101.5H27.5M37.5 101.5H40M70 101.5H72.5M77.5 101.5H85M92.5 101.5H95M102.5 101.5H105M110 101.5H112.5M117.5 101.5H125M140 101.5H142.5M147.5 101.5H150M152.5 101.5H155M167.5 101.5H170M187.5 101.5H192.5M262.5 101.5H265M275 101.5H277.5M280 101.5H282.5M302.5 101.5H305M327.5 101.5H332.5M337.5 101.5H340M342.5 101.5H345M352.5 101.5H354.8M12.5 102.5H15M20 102.5H22.5M32.5 102.5H35M37.5 102.5H40M52.5 102.5H55M77.5 102.5H82.5M92.5 102.5H95M102.5 102.5H107.5M110 102.5H112.5M162.5 102.5H165M172.5 102.5H180M242.5 102.5H245M267.5 102.5H270M305 102.5H307.5M315 102.5H317.5M332.5 102.5H337.5M340 102.5H342.5M7.5 103.5H10M32.5 103.5H35M47.5 103.5H50M67.5 103.5H70M72.5 103.5H75M77.5 103.5H82.5M157.5 103.5H160M162.5 103.5H165M170 103.5H172.5M182.5 103.5H185M212.5 103.5H215M222.5 103.5H225M235 103.5H237.5M25 104.5H27.5M40 104.5H45M50 104.5H52.5M55 104.5H60M65 104.5H67.5M72.5 104.5H75M80 104.5H82.5M100 104.5H102.5M105 104.5H110M122.5 104.5H125M205 104.5H210M220 104.5H222.5M227.5 104.5H230M260 104.5H262.5M282.5 104.5H285M342.5 104.5H345M2.5 105.5H5M22.5 105.5H25M30 105.5H35M42.5 105.5H45M62.5 105.5H65M77.5 105.5H80M85 105.5H87.5M110 105.5H115M117.5 105.5H120M142.5 105.5H145M152.5 105.5H155M157.5 105.5H160M172.5 105.5H175M200 105.5H202.5M257.5 105.5H260M265 105.5H270M280 105.5H282.5M292.5 105.5H295M307.5 105.5H310M327.5 105.5H330M0 106.5H2.5M42.5 106.5H45M85 106.5H87.5M92.5 106.5H95M100 106.5H102.5M105 106.5H107.5M175 106.5H180M205 106.5H207.5M210 106.5H217.5M247.5 106.5H252.5M255 106.5H257.5M325 106.5H327.5M342.5 106.5H345M350 106.5H352.5M30 107.5H35M37.5 107.5H40M50 107.5H52.5M95 107.5H97.5M117.5 107.5H120M127.5 107.5H135M142.5 107.5H145M150 107.5H152.5M220 107.5H225M230 107.5H235M237.5 107.5H240M247.5 107.5H252.5M262.5 107.5H265M302.5 107.5H305M307.5 107.5H310M320 107.5H322.5M325 107.5H327.5M330 107.5H335" stroke="#3b0a00" stroke-width="1.04"/>
<path d="M2.5 0.5H5M117.5 0.5H120M147.5 0.5H150M152.5 0.5H155M165 0.5H167.5M170 0.5H172.5M182.5 0.5H190M200 0.5H202.5M242.5 0.5H245M257.5 0.5H260M270 0.5H272.5M275 0.5H280M282.5 0.5H287.5M290 0.5H295M297.5 0.5H300M332.5 0.5H335M15 1.5H17.5M32.5 1.5H35M50 1.5H55M97.5 1.5H100M117.5 1.5H120M130 1.5H132.5M147.5 1.5H150M165 1.5H167.5M180 1.5H182.5M197.5 1.5H202.5M210 1.5H212.5M215 1.5H217.5M220 1.5H222.5M225 1.5H227.5M252.5 1.5H255M272.5 1.5H277.5M287.5 1.5H290M342.5 1.5H345M32.5 2.5H37.5M55 2.5H57.5M102.5 2.5H105M120 2.5H125M127.5 2.5H130M147.5 2.5H152.5M157.5 2.5H160M180 2.5H182.5M190 2.5H192.5M215 2.5H217.5M235 2.5H240M242.5 2.5H245M265 2.5H267.5M315 2.5H317.5M325 2.5H327.5M345 2.5H347.5M352.5 2.5H354.8M52.5 3.5H55M97.5 3.5H100M105 3.5H107.5M120 3.5H122.5M125 3.5H130M150 3.5H152.5M162.5 3.5H170M207.5 3.5H210M217.5 3.5H222.5M232.5 3.5H237.5M252.5 3.5H255M267.5 3.5H270M272.5 3.5H277.5M10 4.5H12.5M17.5 4.5H20M60 4.5H62.5M72.5 4.5H75M115 4.5H117.5M125 4.5H127.5M130 4.5H132.5M175 4.5H180M187.5 4.5H190M217.5 4.5H222.5M240 4.5H242.5M247.5 4.5H250M277.5 4.5H285M290 4.5H292.5M335 4.5H337.5M350 4.5H352.5M30 5.5H32.5M35 5.5H37.5M57.5 5.5H60M65 5.5H70M110 5.5H112.5M125 5.5H127.5M150 5.5H152.5M157.5 5.5H160M167.5 5.5H170M182.5 5.5H185M190 5.5H192.5M197.5 5.5H200M207.5 5.5H212.5M217.5 5.5H220M222.5 5.5H225M242.5 5.5H245M260 5.5H262.5M265 5.5H267.5M350 5.5H352.5M37.5 6.5H40M87.5 6.5H90M110 6.5H117.5M120 6.5H122.5M130 6.5H132.5M172.5 6.5H175M177.5 6.5H185M197.5 6.5H200M202.5 6.5H205M240 6.5H242.5M247.5 6.5H250M267.5 6.5H270M272.5 6.5H275M285 6.5H287.5M7.5 7.5H12.5M30 7.5H32.5M45 7.5H52.5M82.5 7.5H87.5M90 7.5H92.5M95 7.5H97.5M152.5 7.5H157.5M160 7.5H165M205 7.5H207.5M212.5 7.5H227.5M247.5 7.5H250M275 7.5H277.5M285 7.5H287.5M305 7.5H307.5M325 7.5H327.5M57.5 8.5H60M62.5 8.5H65M70 8.5H72.5M75 8.5H77.5M92.5 8.5H95M107.5 8.5H110M120 8.5H122.5M147.5 8.5H152.5M157.5 8.5H160M162.5 8.5H165M167.5 8.5H170M175 8.5H180M187.5 8.5H190M197.5 8.5H202.5M205 8.5H207.5M225 8.5H230M232.5 8.5H235M252.5 8.5H257.5M277.5 8.5H282.5M290 8.5H295M322.5 8.5H325M15 9.5H17.5M25 9.5H27.5M40 9.5H42.5M47.5 9.5H50M72.5 9.5H85M95 9.5H97.5M177.5 9.5H180M182.5 9.5H185M195 9.5H197.5M267.5 9.5H272.5M275 9.5H277.5M300 9.5H302.5M335 9.5H337.5M350 9.5H354.8M52.5 10.5H55M165 10.5H167.5M170 10.5H172.5M175 10.5H180M37.5 11.5H40M52.5 11.5H55M57.5 11.5H65M75 11.5H77.5M82.5 11.5H90M110 11.5H112.5M165 11.5H167.5M190 11.5H192.5M275 11.5H277.5M280 11.5H282.5M352.5 11.5H354.8M37.5 12.5H40M85 12.5H87.5M90 12.5H92.5M102.5 12.5H110M112.5 12.5H115M147.5 12.5H152.5M210 12.5H215M247.5 12.5H250M257.5 12.5H260M290 12.5H292.5M295 12.5H297.5M45 13.5H47.5M50 13.5H55M62.5 13.5H65M67.5 13.5H70M72.5 13.5H75M87.5 13.5H90M95 13.5H100M190 13.5H192.5M212.5 13.5H215M232.5 13.5H235M27.5 14.5H30M35 14.5H37.5M70 14.5H75M87.5 14.5H90M110 14.5H112.5M152.5 14.5H155M165 14.5H170M290 14.5H292.5M55 15.5H57.5M77.5 15.5H82.5M155 15.5H157.5M182.5 15.5H185M190 15.5H195M235 15.5H237.5M250 15.5H252.5M267.5 15.5H270M272.5 15.5H275M282.5 15.5H292.5M310 15.5H312.5M352.5 15.5H354.8M60 16.5H62.5M72.5 16.5H75M155 16.5H157.5M167.5 16.5H170M190 16.5H192.5M202.5 16.5H207.5M215 16.5H220M222.5 16.5H225M227.5 16.5H230M232.5 16.5H235M265 16.5H267.5M270 16.5H272.5M277.5 16.5H280M282.5 16.5H285M297.5 16.5H300M30 17.5H32.5M55 17.5H57.5M60 17.5H65M80 17.5H82.5M90 17.5H95M0 18.5H2.5M5 18.5H7.5M10 18.5H12.5M20 18.5H22.5M85 18.5H87.5M152.5 18.5H155M180 18.5H182.5M230 18.5H232.5M257.5 18.5H260M337.5 18.5H340M5 19.5H7.5M12.5 19.5H15M32.5 19.5H35M40 19.5H45M75 19.5H77.5M90 19.5H97.5M352.5 19.5H354.8M0 20.5H2.5M22.5 20.5H30M37.5 20.5H40M47.5 20.5H50M52.5 20.5H55M92.5 20.5H95M97.5 20.5H107.5M112.5 20.5H115M200 20.5H202.5M222.5 20.5H225M240 20.5H242.5M260 20.5H265M275 20.5H277.5M280 20.5H282.5M292.5 20.5H295M335 20.5H337.5M345 20.5H347.5M352.5 20.5H354.8M32.5 21.5H35M37.5 21.5H40M80 21.5H82.5M90 21.5H92.5M112.5 21.5H115M162.5 21.5H167.5M175 21.5H177.5M182.5 21.5H185M195 21.5H197.5M200 21.5H202.5M245 21.5H247.5M260 21.5H262.5M277.5 21.5H280M305 21.5H310M30 22.5H32.5M50 22.5H52.5M67.5 22.5H70M92.5 22.5H95M157.5 22.5H160M175 22.5H177.5M190 22.5H192.5M195 22.5H197.5M205 22.5H207.5M232.5 22.5H237.5M242.5 22.5H255M270 22.5H272.5M275 22.5H277.5M287.5 22.5H290M300 22.5H302.5M305 22.5H307.5M310 22.5H312.5M317.5 22.5H320M322.5 22.5H325M342.5 22.5H345M347.5 22.5H350M5 23.5H7.5M27.5 23.5H30M32.5 23.5H35M40 23.5H42.5M45 23.5H47.5M50 23.5H52.5M60 23.5H62.5M65 23.5H67.5M80 23.5H85M102.5 23.5H105M32.5 24.5H35M42.5 24.5H45M70 24.5H72.5M95 24.5H102.5M112.5 24.5H115M147.5 24.5H150M152.5 24.5H155M172.5 24.5H175M262.5 24.5H265M12.5 25.5H15M32.5 25.5H35M42.5 25.5H47.5M52.5 25.5H55M67.5 25.5H70M75 25.5H77.5M92.5 25.5H95M100 25.5H102.5M222.5 25.5H225M227.5 25.5H230M245 25.5H247.5M290 25.5H302.5M310 25.5H312.5M320 25.5H322.5M347.5 25.5H350M35 26.5H37.5M50 26.5H55M65 26.5H67.5M75 26.5H80M82.5 26.5H87.5M97.5 26.5H102.5M152.5 26.5H155M157.5 26.5H160M205 26.5H207.5M217.5 26.5H220M240 26.5H242.5M340 26.5H342.5M345 26.5H347.5M350 26.5H354.8M0 27.5H2.5M5 27.5H7.5M10 27.5H17.5M57.5 27.5H60M82.5 27.5H90M162.5 27.5H165M175 27.5H177.5M180 27.5H185M190 27.5H192.5M207.5 27.5H210M237.5 27.5H240M252.5 27.5H255M265 27.5H280M290 27.5H292.5M295 27.5H297.5M5 28.5H7.5M155 28.5H160M200 28.5H202.5M212.5 28.5H215M232.5 28.5H235M245 28.5H250M262.5 28.5H265M282.5 28.5H285M295 28.5H300M2.5 29.5H7.5M32.5 29.5H35M45 29.5H47.5M120 29.5H125M130 29.5H132.5M185 29.5H187.5M220 29.5H222.5M225 29.5H227.5M232.5 29.5H235M237.5 29.5H240M252.5 29.5H255M257.5 29.5H262.5M270 29.5H272.5M275 29.5H277.5M292.5 29.5H295M30 31.5H32.5M187.5 31.5H190M212.5 31.5H215M222.5 31.5H227.5M230 31.5H232.5M250 31.5H252.5M262.5 31.5H265M12.5 32.5H15M20 32.5H22.5M35 32.5H37.5M40 32.5H42.5M60 32.5H62.5M70 32.5H72.5M87.5 32.5H90M100 32.5H102.5M107.5 32.5H112.5M117.5 32.5H120M122.5 32.5H127.5M130 32.5H132.5M155 32.5H157.5M175 32.5H177.5M187.5 32.5H192.5M197.5 32.5H200M207.5 32.5H217.5M240 32.5H242.5M247.5 32.5H250M282.5 32.5H287.5M297.5 32.5H300M345 32.5H347.5M47.5 33.5H50M77.5 33.5H82.5M110 33.5H112.5M125 33.5H130M167.5 33.5H170M212.5 33.5H215M217.5 33.5H220M232.5 33.5H235M5 34.5H7.5M12.5 34.5H15M60 34.5H65M97.5 34.5H102.5M122.5 34.5H125M157.5 34.5H162.5M245 34.5H252.5M265 34.5H267.5M275 34.5H277.5M290 34.5H292.5M295 34.5H297.5M27.5 35.5H30M42.5 35.5H45M65 35.5H67.5M75 35.5H77.5M95 35.5H102.5M110 35.5H115M237.5 35.5H240M270 35.5H272.5M65 36.5H67.5M75 36.5H77.5M87.5 36.5H90M200 36.5H202.5M217.5 36.5H220M225 36.5H227.5M15 37.5H17.5M47.5 37.5H52.5M57.5 37.5H60M65 37.5H70M90 37.5H92.5M120 37.5H122.5M200 37.5H205M220 37.5H222.5M225 37.5H227.5M232.5 37.5H235M237.5 37.5H240M242.5 37.5H245M252.5 37.5H255M275 37.5H282.5M302.5 37.5H305M307.5 37.5H310M317.5 37.5H320M340 37.5H342.5M352.5 37.5H354.8M5 38.5H7.5M15 38.5H17.5M60 38.5H62.5M77.5 38.5H82.5M92.5 38.5H95M115 38.5H117.5M170 38.5H172.5M205 38.5H210M242.5 38.5H247.5M282.5 38.5H285M300 38.5H302.5M310 38.5H312.5M325 38.5H330M335 38.5H337.5M352.5 38.5H354.8M52.5 39.5H55M60 39.5H62.5M65 39.5H67.5M85 39.5H87.5M97.5 39.5H102.5M115 39.5H117.5M130 39.5H132.5M167.5 39.5H170M197.5 39.5H202.5M207.5 39.5H210M225 39.5H230M232.5 39.5H237.5M297.5 39.5H300M315 39.5H317.5M320 39.5H322.5M345 39.5H347.5M350 39.5H352.5M217.5 40.5H227.5M237.5 40.5H242.5M247.5 40.5H250M20 41.5H22.5M47.5 41.5H50M80 41.5H82.5M85 41.5H87.5M157.5 41.5H160M195 41.5H197.5M207.5 41.5H210M215 41.5H217.5M272.5 41.5H275M280 41.5H285M297.5 41.5H300M305 41.5H307.5M350 41.5H352.5M27.5 42.5H30M37.5 42.5H40M70 42.5H72.5M82.5 42.5H90M105 42.5H107.5M112.5 42.5H115M157.5 42.5H162.5M165 42.5H167.5M182.5 42.5H187.5M230 42.5H232.5M252.5 42.5H255M260 42.5H262.5M285 42.5H287.5M292.5 42.5H295M302.5 42.5H305M147.5 43.5H150M160 43.5H162.5M165 43.5H172.5M252.5 43.5H255M257.5 43.5H260M337.5 43.5H340M352.5 43.5H354.8M22.5 44.5H25M77.5 44.5H80M107.5 44.5H110M150 44.5H152.5M160 44.5H162.5M195 44.5H197.5M257.5 44.5H260M292.5 44.5H295M342.5 44.5H347.5M352.5 44.5H354.8M52.5 45.5H57.5M202.5 45.5H205M210 45.5H212.5M237.5 45.5H240M250 45.5H255M300 45.5H302.5M305 45.5H307.5M352.5 45.5H354.8M182.5 46.5H185M200 46.5H202.5M205 46.5H207.5M220 46.5H222.5M230 46.5H232.5M252.5 46.5H255M275 46.5H277.5M127.5 47.5H130M150 47.5H152.5M182.5 47.5H185M190 47.5H195M202.5 47.5H210M212.5 47.5H215M237.5 47.5H242.5M250 47.5H252.5M255 47.5H257.5M260 47.5H262.5M265 47.5H267.5M272.5 47.5H275M287.5 47.5H290M292.5 47.5H300M0 48.5H2.5M7.5 48.5H10M17.5 48.5H20M37.5 48.5H40M45 48.5H47.5M50 48.5H52.5M80 48.5H82.5M112.5 48.5H115M160 48.5H162.5M175 48.5H182.5M200 48.5H202.5M220 48.5H222.5M342.5 48.5H345M347.5 48.5H350M352.5 48.5H354.8M30 49.5H32.5M97.5 49.5H100M152.5 49.5H155M165 49.5H167.5M227.5 49.5H230M232.5 49.5H240M247.5 49.5H250M257.5 49.5H260M310 49.5H312.5M157.5 50.5H160M175 50.5H177.5M212.5 50.5H215M222.5 50.5H225M230 50.5H232.5M240 50.5H242.5M247.5 50.5H255M297.5 50.5H300M350 50.5H354.8M32.5 51.5H35M37.5 51.5H40M80 51.5H82.5M100 51.5H102.5M147.5 51.5H152.5M247.5 51.5H250M262.5 51.5H267.5M270 51.5H272.5M17.5 52.5H20M22.5 52.5H25M220 52.5H222.5M335 52.5H342.5M352.5 52.5H354.8M90 53.5H92.5M177.5 53.5H180M192.5 53.5H195M217.5 53.5H220M247.5 53.5H250M75 54.5H77.5M97.5 54.5H100M7.5 55.5H10M15 55.5H20M22.5 55.5H25M27.5 55.5H30M37.5 55.5H40M45 55.5H47.5M75 55.5H77.5M155 55.5H160M167.5 55.5H170M177.5 55.5H180M185 55.5H187.5M192.5 55.5H197.5M225 55.5H227.5M15 56.5H17.5M160 56.5H162.5M165 56.5H167.5M240 56.5H242.5M0 57.5H2.5M27.5 57.5H30M55 57.5H57.5M65 57.5H67.5M112.5 57.5H115M147.5 57.5H150M152.5 57.5H157.5M162.5 57.5H165M167.5 57.5H170M172.5 57.5H175M187.5 57.5H195M210 57.5H212.5M250 57.5H252.5M267.5 57.5H270M305 57.5H307.5M330 57.5H332.5M2.5 58.5H7.5M15 58.5H17.5M27.5 58.5H30M32.5 58.5H35M40 58.5H42.5M57.5 58.5H60M72.5 58.5H75M77.5 58.5H80M85 58.5H90M100 58.5H102.5M110 58.5H112.5M147.5 58.5H150M200 58.5H202.5M210 58.5H212.5M215 58.5H217.5M242.5 58.5H245M252.5 58.5H255M290 58.5H292.5M330 58.5H332.5M350 58.5H352.5M52.5 59.5H57.5M72.5 59.5H75M165 59.5H167.5M170 59.5H172.5M192.5 59.5H195M217.5 59.5H220M235 59.5H237.5M240 59.5H242.5M250 59.5H252.5M262.5 59.5H265M280 59.5H282.5M2.5 60.5H7.5M15 60.5H17.5M25 60.5H30M90 60.5H92.5M220 60.5H222.5M227.5 60.5H230M235 60.5H237.5M330 60.5H342.5M50 61.5H55M62.5 61.5H65M97.5 61.5H100M107.5 61.5H110M147.5 61.5H150M190 61.5H197.5M15 62.5H20M35 62.5H37.5M150 62.5H155M162.5 62.5H165M262.5 62.5H265M332.5 62.5H335M40 63.5H42.5M47.5 63.5H50M52.5 63.5H57.5M60 63.5H62.5M77.5 63.5H85M90 63.5H92.5M95 63.5H97.5M100 63.5H105M107.5 63.5H110M195 63.5H197.5M345 63.5H350M27.5 64.5H30M32.5 64.5H35M52.5 64.5H55M67.5 64.5H70M77.5 64.5H87.5M90 64.5H92.5M100 64.5H102.5M107.5 64.5H110M112.5 64.5H115M147.5 64.5H150M160 64.5H162.5M187.5 64.5H190M347.5 64.5H350M37.5 65.5H40M60 65.5H62.5M65 65.5H67.5M72.5 65.5H75M92.5 65.5H95M170 65.5H172.5M200 65.5H202.5M230 65.5H232.5M245 65.5H247.5M250 65.5H252.5M275 65.5H280M327.5 65.5H330M340 65.5H345M50 66.5H52.5M77.5 66.5H80M87.5 66.5H90M92.5 66.5H95M107.5 66.5H110M157.5 66.5H160M0 67.5H2.5M15 67.5H17.5M35 67.5H40M42.5 67.5H45M47.5 67.5H50M57.5 67.5H60M102.5 67.5H105M107.5 67.5H110M112.5 67.5H115M185 67.5H187.5M190 67.5H192.5M205 67.5H210M240 67.5H242.5M247.5 67.5H250M0 68.5H2.5M12.5 68.5H15M17.5 68.5H27.5M42.5 68.5H45M47.5 68.5H52.5M75 68.5H77.5M150 68.5H157.5M170 68.5H172.5M192.5 68.5H197.5M220 68.5H222.5M45 69.5H47.5M50 69.5H55M62.5 69.5H65M100 69.5H102.5M110 69.5H115M155 69.5H157.5M162.5 69.5H165M190 69.5H192.5M197.5 69.5H200M217.5 69.5H220M235 69.5H237.5M350 69.5H352.5M25 70.5H27.5M45 70.5H47.5M67.5 70.5H70M72.5 70.5H75M80 70.5H82.5M152.5 70.5H155M192.5 70.5H197.5M282.5 70.5H285M290 70.5H292.5M27.5 71.5H30M52.5 71.5H55M82.5 71.5H85M87.5 71.5H90M117.5 71.5H120M127.5 71.5H132.5M205 71.5H207.5M227.5 71.5H230M232.5 71.5H235M245 71.5H247.5M280 71.5H282.5M305 71.5H307.5M322.5 71.5H325M340 71.5H345M17.5 72.5H20M45 72.5H47.5M62.5 72.5H70M77.5 72.5H82.5M95 72.5H97.5M162.5 72.5H165M177.5 72.5H180M205 72.5H207.5M222.5 72.5H225M242.5 72.5H245M307.5 72.5H310M312.5 72.5H317.5M342.5 72.5H345M347.5 72.5H350M352.5 72.5H354.8M5 73.5H7.5M40 73.5H42.5M67.5 73.5H70M85 73.5H87.5M115 73.5H117.5M120 73.5H122.5M172.5 73.5H175M180 73.5H182.5M190 73.5H192.5M195 73.5H197.5M202.5 73.5H205M10 74.5H12.5M27.5 74.5H30M35 74.5H40M85 74.5H87.5M105 74.5H110M115 74.5H117.5M127.5 74.5H130M147.5 74.5H150M202.5 74.5H205M222.5 74.5H225M232.5 74.5H235M240 74.5H242.5M35 75.5H37.5M40 75.5H42.5M80 75.5H82.5M120 75.5H122.5M135 75.5H140M172.5 75.5H175M177.5 75.5H182.5M187.5 75.5H190M210 75.5H212.5M215 75.5H220M222.5 75.5H225M232.5 75.5H235M240 75.5H242.5M287.5 75.5H290M347.5 75.5H350M10 76.5H12.5M67.5 76.5H70M72.5 76.5H75M80 76.5H82.5M132.5 76.5H137.5M147.5 76.5H150M155 76.5H157.5M175 76.5H177.5M182.5 76.5H185M205 76.5H210M237.5 76.5H240M242.5 76.5H245M247.5 76.5H250M257.5 76.5H262.5M280 76.5H282.5M47.5 77.5H50M52.5 77.5H55M70 77.5H72.5M80 77.5H85M87.5 77.5H90M95 77.5H97.5M100 77.5H102.5M117.5 77.5H120M157.5 77.5H162.5M225 77.5H230M247.5 77.5H250M350 77.5H352.5M112.5 78.5H115M122.5 78.5H125M130 78.5H132.5M135 78.5H137.5M190 78.5H197.5M202.5 78.5H205M215 78.5H217.5M252.5 78.5H255M257.5 78.5H260M270 78.5H272.5M25 79.5H27.5M97.5 79.5H100M197.5 79.5H200M215 79.5H217.5M220 79.5H222.5M232.5 79.5H235M245 79.5H247.5M345 79.5H347.5M25 80.5H27.5M52.5 80.5H57.5M65 80.5H67.5M170 80.5H172.5M220 80.5H222.5M262.5 80.5H265M307.5 80.5H310M317.5 80.5H325M352.5 80.5H354.8M10 81.5H12.5M132.5 81.5H135M172.5 81.5H175M207.5 81.5H212.5M250 81.5H255M257.5 81.5H260M122.5 82.5H125M147.5 82.5H150M177.5 82.5H180M192.5 82.5H197.5M200 82.5H202.5M210 82.5H212.5M215 82.5H217.5M220 82.5H222.5M227.5 82.5H230M262.5 82.5H265M275 82.5H277.5M280 82.5H282.5M310 82.5H312.5M315 82.5H320M325 82.5H330M340 82.5H342.5M345 82.5H350M115 83.5H117.5M125 83.5H127.5M162.5 83.5H167.5M170 83.5H172.5M182.5 83.5H185M197.5 83.5H200M210 83.5H212.5M217.5 83.5H220M237.5 83.5H247.5M312.5 83.5H315M320 83.5H325M330 83.5H335M350 83.5H352.5M85 84.5H87.5M147.5 84.5H150M157.5 84.5H160M175 84.5H180M195 84.5H200M225 84.5H232.5M242.5 84.5H245M257.5 84.5H260M262.5 84.5H265M275 84.5H277.5M295 84.5H297.5M300 84.5H305M320 84.5H322.5M325 84.5H327.5M352.5 84.5H354.8M115 85.5H117.5M130 85.5H132.5M137.5 85.5H140M302.5 85.5H305M307.5 85.5H310M320 85.5H322.5M127.5 86.5H130M180 86.5H185M220 86.5H222.5M230 86.5H232.5M242.5 86.5H245M265 86.5H267.5M282.5 86.5H287.5M290 86.5H292.5M330 86.5H332.5M342.5 86.5H345M350 86.5H354.8M155 87.5H157.5M175 87.5H177.5M182.5 87.5H187.5M192.5 87.5H195M200 87.5H202.5M232.5 87.5H235M290 87.5H292.5M337.5 87.5H342.5M25 88.5H27.5M115 88.5H120M150 88.5H152.5M165 88.5H167.5M175 88.5H177.5M182.5 88.5H185M187.5 88.5H192.5M212.5 88.5H215M220 88.5H222.5M225 88.5H227.5M240 88.5H242.5M262.5 88.5H265M325 88.5H327.5M120 89.5H130M132.5 89.5H135M145 89.5H147.5M170 89.5H175M220 89.5H222.5M227.5 89.5H232.5M235 89.5H237.5M242.5 89.5H245M315 89.5H317.5M327.5 89.5H330M347.5 89.5H354.8M132.5 90.5H135M140 90.5H142.5M150 90.5H155M257.5 90.5H265M305 90.5H307.5M315 90.5H317.5M325 90.5H327.5M345 90.5H347.5M62.5 91.5H65M122.5 91.5H125M127.5 91.5H130M150 91.5H152.5M155 91.5H160M165 91.5H167.5M185 91.5H187.5M235 91.5H237.5M242.5 91.5H245M325 91.5H332.5M350 91.5H354.8M147.5 92.5H150M162.5 92.5H167.5M170 92.5H172.5M185 92.5H187.5M220 92.5H222.5M235 92.5H237.5M242.5 92.5H245M317.5 92.5H320M332.5 92.5H335M122.5 93.5H125M130 93.5H132.5M147.5 93.5H150M175 93.5H177.5M185 93.5H190M195 93.5H197.5M202.5 93.5H205M227.5 93.5H232.5M5 94.5H7.5M15 94.5H17.5M25 94.5H27.5M60 94.5H62.5M65 94.5H67.5M70 94.5H72.5M122.5 94.5H125M140 94.5H142.5M152.5 94.5H155M180 94.5H185M210 94.5H212.5M217.5 94.5H222.5M247.5 94.5H250M340 94.5H347.5M10 95.5H12.5M17.5 95.5H20M22.5 95.5H25M50 95.5H52.5M62.5 95.5H65M70 95.5H72.5M85 95.5H87.5M90 95.5H92.5M100 95.5H107.5M200 95.5H202.5M240 95.5H242.5M280 95.5H282.5M292.5 95.5H300M310 95.5H312.5M120 96.5H122.5M142.5 96.5H147.5M157.5 96.5H162.5M165 96.5H167.5M95 97.5H97.5M110 97.5H112.5M165 97.5H172.5M197.5 97.5H200M215 97.5H217.5M252.5 97.5H255M267.5 97.5H270M307.5 97.5H310M332.5 97.5H337.5M340 97.5H345M347.5 97.5H352.5M22.5 98.5H25M52.5 98.5H55M195 98.5H197.5M205 98.5H207.5M212.5 98.5H215M222.5 98.5H225M287.5 98.5H290M300 98.5H302.5M330 98.5H332.5M342.5 98.5H345M25 99.5H27.5M30 99.5H32.5M52.5 99.5H55M62.5 99.5H65M95 99.5H100M147.5 99.5H152.5M265 99.5H267.5M327.5 99.5H330M337.5 99.5H340M342.5 99.5H345M82.5 100.5H87.5M107.5 100.5H110M137.5 100.5H142.5M147.5 100.5H150M157.5 100.5H160M165 100.5H167.5M172.5 100.5H175M182.5 100.5H185M232.5 100.5H235M292.5 100.5H295M0 101.5H2.5M5 101.5H7.5M12.5 101.5H17.5M22.5 101.5H25M72.5 101.5H77.5M85 101.5H87.5M90 101.5H92.5M95 101.5H97.5M107.5 101.5H110M115 101.5H117.5M125 101.5H127.5M132.5 101.5H137.5M150 101.5H152.5M155 101.5H157.5M170 101.5H172.5M180 101.5H187.5M195 101.5H197.5M202.5 101.5H205M240 101.5H245M250 101.5H252.5M307.5 101.5H310M17.5 102.5H20M25 102.5H27.5M82.5 102.5H90M112.5 102.5H115M125 102.5H127.5M130 102.5H135M160 102.5H162.5M170 102.5H172.5M182.5 102.5H185M187.5 102.5H190M200 102.5H202.5M220 102.5H222.5M225 102.5H227.5M260 102.5H262.5M270 102.5H275M300 102.5H302.5M312.5 102.5H315M327.5 102.5H330M337.5 102.5H340M5 103.5H7.5M10 103.5H12.5M17.5 103.5H20M22.5 103.5H25M35 103.5H37.5M40 103.5H42.5M50 103.5H52.5M55 103.5H57.5M60 103.5H62.5M132.5 103.5H135M220 103.5H222.5M225 103.5H230M27.5 104.5H30M45 104.5H47.5M75 104.5H80M90 104.5H92.5M102.5 104.5H105M125 104.5H127.5M130 104.5H132.5M137.5 104.5H142.5M155 104.5H157.5M160 104.5H162.5M167.5 104.5H172.5M202.5 104.5H205M210 104.5H212.5M215 104.5H217.5M252.5 104.5H255M257.5 104.5H260M350 104.5H352.5M0 105.5H2.5M27.5 105.5H30M47.5 105.5H50M55 105.5H57.5M67.5 105.5H72.5M80 105.5H82.5M92.5 105.5H95M107.5 105.5H110M132.5 105.5H137.5M150 105.5H152.5M155 105.5H157.5M167.5 105.5H170M195 105.5H197.5M290 105.5H292.5M297.5 105.5H300M330 105.5H332.5M10 106.5H15M27.5 106.5H30M50 106.5H52.5M57.5 106.5H60M70 106.5H72.5M75 106.5H80M97.5 106.5H100M107.5 106.5H110M127.5 106.5H130M132.5 106.5H135M145 106.5H147.5M157.5 106.5H162.5M167.5 106.5H170M190 106.5H195M225 106.5H227.5M235 106.5H237.5M240 106.5H245M252.5 106.5H255M292.5 106.5H297.5M340 106.5H342.5M0 107.5H2.5M7.5 107.5H12.5M22.5 107.5H27.5M40 107.5H50M52.5 107.5H57.5M62.5 107.5H67.5M72.5 107.5H75M77.5 107.5H80M105 107.5H107.5M135 107.5H137.5M145 107.5H147.5M207.5 107.5H210M215 107.5H217.5M225 107.5H227.5M235 107.5H237.5M252.5 107.5H255M297.5 107.5H302.5M322.5 107.5H325M335 107.5H340M342.5 107.5H352.5" stroke="#620800" stroke-width="1.04"/>
<path d="M5 0.5H7.5M40 0.5H42.5M50 0.5H52.5M65 0.5H70M102.5 0.5H105M115 0.5H117.5M120 0.5H122.5M157.5 0.5H160M177.5 0.5H180M195 0.5H197.5M267.5 0.5H270M280 0.5H282.5M287.5 0.5H290M20 1.5H25M45 1.5H50M55 1.5H57.5M112.5 1.5H117.5M150 1.5H152.5M157.5 1.5H165M192.5 1.5H197.5M230 1.5H232.5M250 1.5H252.5M282.5 1.5H285M290 1.5H292.5M115 2.5H117.5M125 2.5H127.5M130 2.5H132.5M217.5 2.5H220M22.5 3.5H27.5M160 3.5H162.5M200 3.5H205M212.5 3.5H217.5M222.5 3.5H225M250 3.5H252.5M255 3.5H257.5M265 3.5H267.5M277.5 3.5H287.5M297.5 3.5H300M7.5 4.5H10M120 4.5H122.5M155 4.5H160M172.5 4.5H175M182.5 4.5H187.5M197.5 4.5H200M205 4.5H207.5M232.5 4.5H237.5M242.5 4.5H245M250 4.5H252.5M257.5 4.5H260M265 4.5H270M275 4.5H277.5M285 4.5H290M37.5 5.5H40M50 5.5H57.5M60 5.5H62.5M70 5.5H72.5M97.5 5.5H100M102.5 5.5H105M115 5.5H117.5M120 5.5H122.5M127.5 5.5H130M175 5.5H177.5M215 5.5H217.5M262.5 5.5H265M347.5 5.5H350M107.5 6.5H110M125 6.5H127.5M170 6.5H172.5M200 6.5H202.5M205 6.5H207.5M257.5 6.5H265M275 6.5H277.5M282.5 6.5H285M292.5 6.5H295M297.5 6.5H300M65 7.5H67.5M72.5 7.5H75M92.5 7.5H95M97.5 7.5H100M110 7.5H112.5M117.5 7.5H120M130 7.5H132.5M157.5 7.5H160M167.5 7.5H170M177.5 7.5H180M195 7.5H200M250 7.5H252.5M300 7.5H302.5M342.5 7.5H345M47.5 8.5H50M72.5 8.5H75M77.5 8.5H80M95 8.5H97.5M102.5 8.5H105M112.5 8.5H117.5M185 8.5H187.5M192.5 8.5H195M240 8.5H242.5M262.5 8.5H267.5M270 8.5H272.5M282.5 8.5H285M295 8.5H300M37.5 9.5H40M52.5 9.5H55M62.5 9.5H65M92.5 9.5H95M110 9.5H115M152.5 9.5H155M175 9.5H177.5M252.5 9.5H255M307.5 9.5H310M315 9.5H317.5M80 11.5H82.5M90 11.5H95M105 11.5H107.5M182.5 11.5H187.5M297.5 11.5H300M325 11.5H332.5M347.5 11.5H350M72.5 12.5H75M80 12.5H85M165 12.5H170M177.5 12.5H180M207.5 12.5H210M215 12.5H220M297.5 12.5H300M57.5 13.5H60M65 13.5H67.5M75 13.5H80M90 13.5H92.5M185 13.5H187.5M2.5 14.5H5M30 14.5H32.5M37.5 14.5H40M50 14.5H52.5M65 14.5H67.5M77.5 14.5H80M107.5 14.5H110M112.5 14.5H115M147.5 14.5H152.5M162.5 14.5H165M172.5 14.5H175M200 14.5H202.5M315 14.5H320M325 14.5H327.5M42.5 15.5H52.5M87.5 15.5H92.5M102.5 15.5H107.5M110 15.5H112.5M150 15.5H152.5M162.5 15.5H165M195 15.5H197.5M255 15.5H257.5M265 15.5H267.5M275 15.5H277.5M292.5 15.5H295M315 15.5H317.5M152.5 16.5H155M185 16.5H187.5M195 16.5H197.5M200 16.5H202.5M260 16.5H265M280 16.5H282.5M285 16.5H290M292.5 16.5H295M0 17.5H2.5M12.5 17.5H15M17.5 17.5H20M27.5 17.5H30M32.5 17.5H37.5M67.5 17.5H70M97.5 17.5H100M165 17.5H167.5M202.5 17.5H205M282.5 17.5H285M7.5 18.5H10M17.5 18.5H20M87.5 18.5H90M92.5 18.5H95M97.5 18.5H100M185 18.5H187.5M290 18.5H292.5M2.5 19.5H5M10 19.5H12.5M27.5 19.5H30M35 19.5H37.5M70 19.5H75M82.5 19.5H90M112.5 19.5H115M2.5 20.5H5M7.5 20.5H12.5M30 20.5H35M107.5 20.5H110M225 20.5H232.5M250 20.5H252.5M277.5 20.5H280M325 20.5H327.5M350 20.5H352.5M97.5 21.5H100M147.5 21.5H150M152.5 21.5H155M172.5 21.5H175M180 21.5H182.5M235 21.5H237.5M257.5 21.5H260M270 21.5H272.5M322.5 21.5H325M340 21.5H345M27.5 22.5H30M57.5 22.5H60M62.5 22.5H67.5M87.5 22.5H92.5M102.5 22.5H105M147.5 22.5H152.5M202.5 22.5H205M217.5 22.5H222.5M262.5 22.5H265M277.5 22.5H282.5M307.5 22.5H310M315 22.5H317.5M320 22.5H322.5M332.5 22.5H337.5M340 22.5H342.5M350 22.5H352.5M10 23.5H12.5M17.5 23.5H20M105 23.5H110M112.5 23.5H115M30 24.5H32.5M72.5 24.5H75M80 24.5H82.5M107.5 24.5H110M182.5 24.5H185M190 24.5H192.5M290 24.5H295M5 25.5H7.5M22.5 25.5H25M35 25.5H40M82.5 25.5H85M105 25.5H107.5M112.5 25.5H115M200 25.5H202.5M225 25.5H227.5M235 25.5H237.5M250 25.5H252.5M260 25.5H265M267.5 25.5H272.5M305 25.5H307.5M5 26.5H7.5M30 26.5H35M37.5 26.5H40M67.5 26.5H70M80 26.5H82.5M112.5 26.5H115M220 26.5H222.5M235 26.5H237.5M17.5 27.5H25M37.5 27.5H40M45 27.5H47.5M62.5 27.5H65M157.5 27.5H162.5M165 27.5H170M177.5 27.5H180M197.5 27.5H200M232.5 27.5H235M242.5 27.5H245M250 27.5H252.5M257.5 27.5H260M262.5 27.5H265M7.5 28.5H10M30 28.5H35M37.5 28.5H45M47.5 28.5H52.5M80 28.5H82.5M95 28.5H97.5M100 28.5H102.5M110 28.5H112.5M182.5 28.5H185M237.5 28.5H240M75 29.5H77.5M115 29.5H120M222.5 29.5H225M250 29.5H252.5M272.5 29.5H275M277.5 29.5H280M287.5 29.5H292.5M297.5 30.5H300M185 31.5H187.5M190 31.5H192.5M202.5 31.5H205M232.5 31.5H235M15 32.5H20M30 32.5H35M90 32.5H92.5M115 32.5H117.5M147.5 32.5H150M152.5 32.5H155M157.5 32.5H160M167.5 32.5H175M205 32.5H207.5M227.5 32.5H232.5M235 32.5H237.5M257.5 32.5H260M277.5 32.5H280M287.5 32.5H297.5M332.5 32.5H335M75 33.5H77.5M150 33.5H152.5M165 33.5H167.5M170 33.5H172.5M195 33.5H197.5M222.5 33.5H227.5M230 33.5H232.5M235 33.5H237.5M242.5 33.5H247.5M252.5 33.5H255M260 33.5H262.5M290 33.5H292.5M180 34.5H182.5M225 34.5H230M240 34.5H245M252.5 34.5H255M30 35.5H32.5M35 35.5H37.5M40 35.5H42.5M50 35.5H55M90 35.5H92.5M105 35.5H107.5M227.5 35.5H230M232.5 35.5H235M280 35.5H282.5M290 35.5H292.5M85 36.5H87.5M95 36.5H100M202.5 36.5H207.5M215 36.5H217.5M232.5 36.5H235M240 36.5H242.5M245 36.5H247.5M52.5 37.5H57.5M60 37.5H65M75 37.5H77.5M80 37.5H85M102.5 37.5H110M157.5 37.5H160M240 37.5H242.5M250 37.5H252.5M257.5 37.5H260M265 37.5H272.5M300 37.5H302.5M10 38.5H15M127.5 38.5H130M202.5 38.5H205M212.5 38.5H215M227.5 38.5H230M232.5 38.5H237.5M240 38.5H242.5M247.5 38.5H250M272.5 38.5H277.5M280 38.5H282.5M292.5 38.5H300M305 38.5H310M330 38.5H335M337.5 38.5H340M95 39.5H97.5M117.5 39.5H120M122.5 39.5H125M150 39.5H152.5M160 39.5H162.5M212.5 39.5H215M337.5 39.5H340M230 40.5H232.5M35 41.5H37.5M50 41.5H52.5M205 41.5H207.5M225 41.5H227.5M250 41.5H252.5M265 41.5H270M292.5 41.5H295M342.5 41.5H350M72.5 42.5H80M197.5 42.5H202.5M205 42.5H217.5M232.5 42.5H235M242.5 42.5H245M255 42.5H260M272.5 42.5H275M287.5 42.5H290M295 42.5H297.5M300 42.5H302.5M150 43.5H152.5M182.5 43.5H185M187.5 43.5H190M197.5 43.5H202.5M205 43.5H207.5M210 43.5H212.5M217.5 43.5H220M245 43.5H247.5M270 43.5H272.5M275 43.5H277.5M280 43.5H282.5M285 43.5H287.5M297.5 43.5H300M342.5 43.5H345M35 44.5H37.5M42.5 44.5H47.5M60 44.5H62.5M65 44.5H72.5M197.5 44.5H200M245 44.5H247.5M250 44.5H252.5M280 44.5H282.5M295 44.5H297.5M300 44.5H302.5M340 44.5H342.5M347.5 44.5H350M115 45.5H120M197.5 45.5H200M212.5 45.5H220M235 45.5H237.5M242.5 45.5H245M297.5 45.5H300M202.5 46.5H205M257.5 46.5H260M270 46.5H272.5M282.5 46.5H290M122.5 47.5H127.5M195 47.5H197.5M200 47.5H202.5M217.5 47.5H222.5M225 47.5H227.5M232.5 47.5H237.5M262.5 47.5H265M270 47.5H272.5M282.5 47.5H285M2.5 48.5H5M172.5 48.5H175M345 48.5H347.5M32.5 49.5H35M150 49.5H152.5M230 49.5H232.5M245 49.5H247.5M312.5 49.5H315M197.5 50.5H202.5M227.5 50.5H230M232.5 50.5H235M342.5 50.5H350M50 51.5H55M60 51.5H62.5M97.5 51.5H100M215 51.5H220M225 51.5H227.5M272.5 51.5H275M197.5 52.5H200M257.5 52.5H260M327.5 52.5H330M332.5 52.5H335M345 52.5H347.5M350 52.5H352.5M0 54.5H2.5M130 54.5H132.5M30 55.5H32.5M60 55.5H62.5M132.5 55.5H135M165 55.5H167.5M190 55.5H192.5M0 56.5H2.5M7.5 56.5H12.5M20 56.5H22.5M25 56.5H27.5M182.5 56.5H185M250 56.5H252.5M297.5 56.5H300M17.5 57.5H22.5M25 57.5H27.5M60 57.5H65M150 57.5H152.5M160 57.5H162.5M170 57.5H172.5M177.5 57.5H182.5M195 57.5H197.5M257.5 57.5H260M270 57.5H272.5M17.5 58.5H22.5M25 58.5H27.5M37.5 58.5H40M55 58.5H57.5M60 58.5H62.5M70 58.5H72.5M80 58.5H85M92.5 58.5H95M112.5 58.5H115M187.5 58.5H190M285 58.5H287.5M345 58.5H347.5M67.5 59.5H70M150 59.5H152.5M157.5 59.5H162.5M172.5 59.5H177.5M270 59.5H275M287.5 59.5H290M292.5 59.5H295M0 60.5H2.5M10 60.5H15M95 60.5H102.5M147.5 60.5H150M152.5 60.5H157.5M170 60.5H172.5M180 60.5H185M187.5 60.5H195M200 60.5H202.5M230 60.5H232.5M55 61.5H57.5M85 61.5H87.5M100 61.5H102.5M112.5 61.5H115M150 61.5H152.5M177.5 61.5H182.5M245 61.5H252.5M5 62.5H10M147.5 62.5H150M157.5 62.5H160M172.5 62.5H175M180 62.5H182.5M15 63.5H17.5M22.5 63.5H25M37.5 63.5H40M42.5 63.5H45M67.5 63.5H70M85 63.5H87.5M92.5 63.5H95M110 63.5H115M155 63.5H157.5M177.5 63.5H190M192.5 63.5H195M262.5 63.5H265M35 64.5H40M72.5 64.5H75M87.5 64.5H90M155 64.5H157.5M162.5 64.5H165M185 64.5H187.5M192.5 64.5H195M30 65.5H32.5M35 65.5H37.5M52.5 65.5H55M70 65.5H72.5M90 65.5H92.5M95 65.5H97.5M162.5 65.5H165M167.5 65.5H170M172.5 65.5H175M225 65.5H227.5M240 65.5H245M345 65.5H347.5M12.5 66.5H15M47.5 66.5H50M52.5 66.5H55M62.5 66.5H65M67.5 66.5H70M82.5 66.5H87.5M90 66.5H92.5M97.5 66.5H100M155 66.5H157.5M180 66.5H182.5M7.5 67.5H10M27.5 67.5H32.5M50 67.5H52.5M55 67.5H57.5M110 67.5H112.5M170 67.5H172.5M175 67.5H180M195 67.5H197.5M200 67.5H205M232.5 67.5H235M2.5 68.5H7.5M10 68.5H12.5M15 68.5H17.5M37.5 68.5H42.5M45 68.5H47.5M80 68.5H82.5M90 68.5H92.5M100 68.5H102.5M147.5 68.5H150M187.5 68.5H192.5M217.5 68.5H220M2.5 69.5H5M157.5 69.5H162.5M165 69.5H172.5M175 69.5H177.5M212.5 69.5H215M220 69.5H225M247.5 69.5H250M257.5 69.5H260M7.5 70.5H10M127.5 70.5H132.5M147.5 70.5H150M165 70.5H170M25 71.5H27.5M32.5 71.5H35M90 71.5H92.5M95 71.5H97.5M115 71.5H117.5M120 71.5H122.5M125 71.5H127.5M155 71.5H157.5M197.5 71.5H200M332.5 71.5H335M345 71.5H347.5M2.5 72.5H5M20 72.5H25M87.5 72.5H90M160 72.5H162.5M165 72.5H170M172.5 72.5H175M220 72.5H222.5M310 72.5H312.5M22.5 73.5H27.5M125 73.5H130M150 73.5H155M175 73.5H180M185 73.5H187.5M222.5 73.5H225M42.5 74.5H45M47.5 74.5H55M65 74.5H67.5M70 74.5H72.5M75 74.5H77.5M82.5 74.5H85M102.5 74.5H105M110 74.5H112.5M125 74.5H127.5M150 74.5H152.5M155 74.5H157.5M197.5 74.5H200M210 74.5H212.5M242.5 74.5H245M290 74.5H292.5M325 74.5H327.5M37.5 75.5H40M50 75.5H52.5M75 75.5H77.5M122.5 75.5H125M130 75.5H132.5M140 75.5H142.5M157.5 75.5H162.5M182.5 75.5H187.5M220 75.5H222.5M227.5 75.5H230M262.5 75.5H265M35 76.5H42.5M45 76.5H47.5M75 76.5H77.5M117.5 76.5H120M137.5 76.5H145M150 76.5H152.5M157.5 76.5H160M177.5 76.5H180M212.5 76.5H217.5M220 76.5H222.5M67.5 77.5H70M85 77.5H87.5M90 77.5H92.5M97.5 77.5H100M120 77.5H122.5M127.5 77.5H130M135 77.5H137.5M140 77.5H142.5M145 77.5H147.5M150 77.5H152.5M155 77.5H157.5M190 77.5H192.5M195 77.5H197.5M200 77.5H202.5M250 77.5H252.5M352.5 77.5H354.8M115 78.5H117.5M165 78.5H167.5M172.5 78.5H175M235 78.5H237.5M187.5 79.5H190M200 79.5H202.5M222.5 79.5H225M227.5 79.5H232.5M242.5 79.5H245M342.5 79.5H345M17.5 80.5H25M115 80.5H120M122.5 80.5H125M305 80.5H307.5M330 80.5H332.5M97.5 81.5H100M117.5 81.5H120M122.5 81.5H125M197.5 81.5H200M202.5 81.5H205M217.5 81.5H220M230 81.5H232.5M235 81.5H240M247.5 81.5H250M167.5 82.5H170M180 82.5H182.5M337.5 82.5H340M122.5 83.5H125M157.5 83.5H162.5M180 83.5H182.5M187.5 83.5H190M195 83.5H197.5M205 83.5H207.5M315 83.5H320M325 83.5H327.5M335 83.5H340M352.5 83.5H354.8M2.5 84.5H5M152.5 84.5H157.5M192.5 84.5H195M200 84.5H202.5M205 84.5H207.5M222.5 84.5H225M232.5 84.5H242.5M247.5 84.5H250M267.5 84.5H270M322.5 84.5H325M335 84.5H337.5M342.5 84.5H345M132.5 85.5H135M142.5 85.5H145M270 85.5H272.5M305 85.5H307.5M145 86.5H147.5M232.5 86.5H235M240 86.5H242.5M340 86.5H342.5M172.5 87.5H175M180 87.5H182.5M205 87.5H207.5M212.5 87.5H215M220 87.5H222.5M237.5 87.5H242.5M130 88.5H132.5M137.5 88.5H140M167.5 88.5H170M177.5 88.5H180M185 88.5H187.5M222.5 88.5H225M165 89.5H170M72.5 90.5H75M77.5 90.5H80M147.5 90.5H150M205 90.5H210M220 90.5H222.5M230 90.5H232.5M242.5 90.5H245M302.5 90.5H305M347.5 90.5H350M117.5 91.5H122.5M130 91.5H132.5M147.5 91.5H150M240 91.5H242.5M300 91.5H305M345 91.5H350M190 92.5H192.5M247.5 92.5H250M325 92.5H327.5M335 92.5H337.5M125 93.5H127.5M152.5 93.5H155M190 93.5H195M215 93.5H217.5M237.5 93.5H242.5M315 93.5H322.5M332.5 93.5H335M340 93.5H345M0 94.5H2.5M17.5 94.5H22.5M67.5 94.5H70M117.5 94.5H120M135 94.5H140M155 94.5H157.5M172.5 94.5H180M187.5 94.5H192.5M15 95.5H17.5M20 95.5H22.5M25 95.5H27.5M30 95.5H32.5M47.5 95.5H50M55 95.5H57.5M67.5 95.5H70M72.5 95.5H77.5M97.5 95.5H100M107.5 95.5H110M112.5 95.5H115M220 95.5H222.5M242.5 95.5H245M262.5 95.5H265M312.5 95.5H315M327.5 95.5H330M332.5 95.5H337.5M350 95.5H354.8M32.5 96.5H35M55 96.5H57.5M132.5 96.5H135M137.5 96.5H140M92.5 97.5H95M107.5 97.5H110M137.5 97.5H140M152.5 97.5H157.5M200 97.5H202.5M217.5 97.5H220M250 97.5H252.5M282.5 97.5H287.5M290 97.5H292.5M297.5 97.5H300M302.5 97.5H307.5M315 97.5H317.5M55 98.5H57.5M65 98.5H70M72.5 98.5H75M125 98.5H130M145 98.5H147.5M165 98.5H167.5M210 98.5H212.5M247.5 98.5H250M332.5 98.5H335M345 98.5H347.5M80 99.5H82.5M100 99.5H102.5M120 99.5H122.5M262.5 99.5H265M335 99.5H337.5M130 100.5H132.5M135 100.5H137.5M145 100.5H147.5M150 100.5H152.5M155 100.5H157.5M167.5 100.5H172.5M185 100.5H187.5M190 100.5H195M230 100.5H232.5M52.5 101.5H55M87.5 101.5H90M97.5 101.5H102.5M105 101.5H107.5M157.5 101.5H160M245 101.5H247.5M300 101.5H302.5M340 101.5H342.5M345 101.5H347.5M350 101.5H352.5M0 102.5H2.5M5 102.5H10M97.5 102.5H100M135 102.5H137.5M145 102.5H147.5M165 102.5H170M185 102.5H187.5M192.5 102.5H195M222.5 102.5H225M330 102.5H332.5M15 103.5H17.5M20 103.5H22.5M25 103.5H27.5M30 103.5H32.5M115 103.5H122.5M127.5 103.5H130M230 103.5H235M237.5 103.5H240M340 103.5H345M37.5 104.5H40M92.5 104.5H95M112.5 104.5H115M172.5 104.5H177.5M192.5 104.5H195M267.5 104.5H272.5M287.5 104.5H290M345 104.5H347.5M352.5 104.5H354.8M50 105.5H52.5M60 105.5H62.5M65 105.5H67.5M72.5 105.5H75M87.5 105.5H90M105 105.5H107.5M115 105.5H117.5M140 105.5H142.5M300 105.5H307.5M2.5 106.5H5M30 106.5H32.5M37.5 106.5H40M45 106.5H47.5M52.5 106.5H55M62.5 106.5H65M72.5 106.5H75M80 106.5H85M95 106.5H97.5M130 106.5H132.5M137.5 106.5H140M142.5 106.5H145M150 106.5H152.5M165 106.5H167.5M170 106.5H172.5M182.5 106.5H185M187.5 106.5H190M195 106.5H197.5M200 106.5H202.5M222.5 106.5H225M232.5 106.5H235M345 106.5H350M352.5 106.5H354.8M12.5 107.5H15M20 107.5H22.5M67.5 107.5H70M75 107.5H77.5M80 107.5H82.5M97.5 107.5H100M107.5 107.5H110M112.5 107.5H117.5M227.5 107.5H230M305 107.5H307.5M327.5 107.5H330" stroke="#890600" stroke-width="1.04"/>
<path d="M0 0.5H2.5M27.5 0.5H32.5M37.5 0.5H40M57.5 0.5H60M62.5 0.5H65M70 0.5H72.5M87.5 0.5H90M100 0.5H102.5M125 0.5H132.5M160 0.5H162.5M172.5 0.5H175M190 0.5H195M92.5 1.5H97.5M120 1.5H125M127.5 1.5H130M175 1.5H180M222.5 1.5H225M235 1.5H237.5M277.5 1.5H280M182.5 2.5H185M232.5 2.5H235M247.5 2.5H250M257.5 2.5H265M347.5 2.5H350M287.5 3.5H297.5M192.5 4.5H197.5M202.5 4.5H205M272.5 4.5H275M40 5.5H42.5M75 5.5H77.5M112.5 5.5H115M130 5.5H132.5M165 5.5H167.5M170 5.5H172.5M212.5 5.5H215M220 5.5H222.5M165 6.5H167.5M175 6.5H177.5M250 6.5H252.5M290 6.5H292.5M32.5 7.5H35M60 7.5H62.5M80 7.5H82.5M102.5 7.5H105M115 7.5H117.5M127.5 7.5H130M180 7.5H185M192.5 7.5H195M255 7.5H257.5M265 7.5H267.5M287.5 7.5H292.5M347.5 7.5H354.8M42.5 8.5H45M50 8.5H52.5M55 8.5H57.5M60 8.5H62.5M65 8.5H67.5M80 8.5H82.5M90 8.5H92.5M100 8.5H102.5M110 8.5H112.5M130 8.5H132.5M165 8.5H167.5M190 8.5H192.5M235 8.5H240M257.5 8.5H262.5M267.5 8.5H270M272.5 8.5H275M65 9.5H67.5M102.5 9.5H107.5M150 9.5H152.5M320 9.5H325M327.5 9.5H332.5M345 9.5H350M172.5 10.5H175M97.5 11.5H105M112.5 11.5H115M172.5 11.5H175M70 12.5H72.5M170 12.5H172.5M175 12.5H177.5M182.5 12.5H185M187.5 12.5H190M205 12.5H207.5M220 12.5H222.5M227.5 12.5H235M47.5 13.5H50M55 13.5H57.5M92.5 13.5H95M147.5 13.5H152.5M40 14.5H42.5M47.5 14.5H50M75 14.5H77.5M80 14.5H82.5M100 14.5H102.5M105 14.5H107.5M160 14.5H162.5M175 14.5H177.5M185 14.5H187.5M40 15.5H42.5M60 15.5H62.5M82.5 15.5H87.5M92.5 15.5H95M107.5 15.5H110M167.5 15.5H170M172.5 15.5H175M252.5 15.5H255M280 15.5H282.5M295 15.5H297.5M157.5 16.5H165M267.5 16.5H270M275 16.5H277.5M290 16.5H292.5M2.5 17.5H5M20 17.5H22.5M37.5 17.5H40M52.5 17.5H55M65 17.5H67.5M70 17.5H72.5M77.5 17.5H80M100 17.5H102.5M2.5 18.5H5M90 18.5H92.5M147.5 18.5H152.5M157.5 18.5H160M177.5 18.5H180M15 19.5H17.5M30 19.5H32.5M67.5 19.5H70M5 20.5H7.5M232.5 20.5H237.5M252.5 20.5H257.5M347.5 20.5H350M40 21.5H42.5M45 21.5H50M52.5 21.5H55M62.5 21.5H67.5M95 21.5H97.5M150 21.5H152.5M177.5 21.5H180M325 21.5H327.5M35 22.5H37.5M42.5 22.5H45M47.5 22.5H50M70 22.5H75M77.5 22.5H80M82.5 22.5H85M100 22.5H102.5M325 22.5H330M337.5 22.5H340M345 22.5H347.5M352.5 22.5H354.8M35 23.5H37.5M47.5 23.5H50M52.5 23.5H55M85 23.5H87.5M15 24.5H20M27.5 24.5H30M75 24.5H77.5M2.5 25.5H5M20 25.5H22.5M25 25.5H27.5M70 25.5H72.5M77.5 25.5H80M85 25.5H87.5M95 25.5H97.5M107.5 25.5H110M202.5 25.5H205M247.5 25.5H250M252.5 25.5H257.5M307.5 25.5H310M72.5 26.5H75M215 26.5H217.5M347.5 26.5H350M25 27.5H27.5M32.5 27.5H35M50 27.5H52.5M72.5 27.5H80M90 27.5H92.5M185 27.5H187.5M192.5 27.5H195M205 27.5H207.5M240 27.5H242.5M247.5 27.5H250M260 27.5H262.5M297.5 27.5H300M330 27.5H332.5M45 28.5H47.5M52.5 28.5H55M57.5 28.5H60M82.5 28.5H85M90 28.5H92.5M210 28.5H212.5M242.5 28.5H245M257.5 28.5H260M285 28.5H290M317.5 28.5H320M282.5 29.5H287.5M197.5 31.5H200M210 31.5H212.5M227.5 31.5H230M235 31.5H240M245 31.5H247.5M270 31.5H272.5M37.5 32.5H40M77.5 32.5H82.5M182.5 32.5H187.5M200 32.5H202.5M250 32.5H252.5M262.5 32.5H265M275 32.5H277.5M280 32.5H282.5M180 33.5H185M187.5 33.5H190M192.5 33.5H195M200 33.5H202.5M205 33.5H207.5M227.5 33.5H230M257.5 33.5H260M265 33.5H267.5M292.5 33.5H300M2.5 34.5H5M120 34.5H122.5M162.5 34.5H165M187.5 34.5H190M222.5 34.5H225M235 34.5H240M255 34.5H265M270 34.5H272.5M277.5 34.5H287.5M32.5 35.5H35M47.5 35.5H50M60 35.5H65M230 35.5H232.5M100 36.5H102.5M237.5 36.5H240M242.5 36.5H245M247.5 36.5H250M77.5 37.5H80M92.5 37.5H95M110 37.5H115M222.5 37.5H225M227.5 37.5H230M262.5 37.5H265M282.5 37.5H287.5M305 37.5H307.5M342.5 37.5H345M350 37.5H352.5M7.5 38.5H10M87.5 38.5H90M117.5 38.5H120M125 38.5H127.5M130 38.5H132.5M197.5 38.5H200M210 38.5H212.5M230 38.5H232.5M267.5 38.5H272.5M277.5 38.5H280M287.5 38.5H290M345 38.5H347.5M67.5 39.5H70M120 39.5H122.5M125 39.5H127.5M152.5 39.5H155M162.5 39.5H167.5M172.5 39.5H175M340 39.5H342.5M347.5 39.5H350M227.5 40.5H230M40 41.5H42.5M52.5 41.5H55M117.5 41.5H120M122.5 41.5H127.5M200 41.5H205M217.5 41.5H225M255 41.5H257.5M270 41.5H272.5M275 41.5H277.5M287.5 41.5H292.5M295 41.5H297.5M202.5 42.5H205M217.5 42.5H220M245 42.5H247.5M250 42.5H252.5M267.5 42.5H270M297.5 42.5H300M185 43.5H187.5M207.5 43.5H210M212.5 43.5H215M237.5 43.5H240M242.5 43.5H245M262.5 43.5H265M272.5 43.5H275M282.5 43.5H285M292.5 43.5H295M340 43.5H342.5M25 44.5H27.5M30 44.5H35M37.5 44.5H40M62.5 44.5H65M205 44.5H207.5M225 44.5H227.5M230 44.5H235M242.5 44.5H245M247.5 44.5H250M260 44.5H265M282.5 44.5H287.5M302.5 44.5H307.5M327.5 44.5H332.5M350 44.5H352.5M205 45.5H207.5M220 45.5H222.5M240 45.5H242.5M257.5 45.5H260M240 46.5H245M250 46.5H252.5M260 46.5H265M267.5 46.5H270M277.5 46.5H282.5M290 46.5H295M215 47.5H217.5M252.5 47.5H255M275 47.5H280M127.5 48.5H130M140 48.5H142.5M215 48.5H220M222.5 48.5H225M227.5 48.5H232.5M235 48.5H237.5M115 49.5H117.5M127.5 49.5H130M215 50.5H222.5M235 50.5H237.5M242.5 50.5H245M340 50.5H342.5M65 51.5H67.5M122.5 51.5H130M197.5 51.5H200M205 51.5H210M220 51.5H222.5M230 51.5H232.5M245 51.5H247.5M275 51.5H280M120 52.5H125M135 52.5H137.5M142.5 52.5H145M200 52.5H202.5M232.5 52.5H235M92.5 53.5H95M125 54.5H130M20 55.5H22.5M130 55.5H132.5M135 55.5H137.5M182.5 55.5H185M200 55.5H202.5M12.5 56.5H15M22.5 56.5H25M115 56.5H117.5M127.5 56.5H132.5M22.5 57.5H25M132.5 57.5H135M142.5 57.5H145M157.5 57.5H160M165 57.5H167.5M185 57.5H187.5M65 58.5H70M75 58.5H77.5M90 58.5H92.5M95 58.5H100M185 58.5H187.5M190 58.5H195M290 59.5H292.5M22.5 60.5H25M150 60.5H152.5M157.5 60.5H160M167.5 60.5H170M177.5 60.5H180M185 60.5H187.5M195 60.5H197.5M222.5 60.5H225M237.5 60.5H240M242.5 60.5H247.5M60 61.5H62.5M127.5 61.5H130M185 61.5H187.5M2.5 62.5H5M12.5 62.5H15M117.5 62.5H120M127.5 62.5H132.5M165 62.5H167.5M0 63.5H2.5M10 63.5H12.5M20 63.5H22.5M45 63.5H47.5M65 63.5H67.5M117.5 63.5H120M130 63.5H135M137.5 63.5H147.5M157.5 63.5H160M162.5 63.5H165M172.5 63.5H175M190 63.5H192.5M12.5 64.5H15M42.5 64.5H45M57.5 64.5H60M75 64.5H77.5M95 64.5H100M115 64.5H117.5M150 64.5H155M157.5 64.5H160M165 64.5H170M182.5 64.5H185M190 64.5H192.5M195 64.5H197.5M20 65.5H22.5M62.5 65.5H65M67.5 65.5H70M75 65.5H77.5M100 65.5H102.5M105 65.5H107.5M122.5 65.5H125M165 65.5H167.5M175 65.5H180M227.5 65.5H230M235 65.5H240M247.5 65.5H250M347.5 65.5H350M10 66.5H12.5M27.5 66.5H32.5M120 66.5H122.5M125 66.5H130M135 66.5H137.5M162.5 66.5H165M170 66.5H172.5M177.5 66.5H180M22.5 67.5H25M45 67.5H47.5M72.5 67.5H75M77.5 67.5H80M85 67.5H87.5M97.5 67.5H100M115 67.5H120M157.5 67.5H162.5M180 67.5H185M217.5 67.5H227.5M82.5 68.5H90M92.5 68.5H97.5M120 68.5H122.5M160 68.5H162.5M165 68.5H167.5M7.5 69.5H10M60 69.5H62.5M210 69.5H212.5M215 69.5H217.5M2.5 70.5H7.5M65 70.5H67.5M132.5 70.5H135M150 70.5H152.5M185 70.5H187.5M190 70.5H192.5M85 71.5H87.5M92.5 71.5H95M97.5 71.5H102.5M147.5 71.5H150M160 71.5H162.5M177.5 71.5H180M200 71.5H202.5M320 71.5H322.5M82.5 72.5H87.5M127.5 72.5H130M152.5 72.5H155M305 72.5H307.5M80 73.5H82.5M140 73.5H142.5M145 73.5H147.5M157.5 73.5H165M0 74.5H2.5M5 74.5H10M40 74.5H42.5M55 74.5H57.5M67.5 74.5H70M72.5 74.5H75M95 74.5H97.5M100 74.5H102.5M140 74.5H142.5M157.5 74.5H160M162.5 74.5H165M172.5 74.5H177.5M192.5 74.5H195M200 74.5H202.5M215 74.5H217.5M117.5 75.5H120M125 75.5H127.5M195 75.5H197.5M242.5 75.5H245M257.5 75.5H262.5M115 76.5H117.5M180 76.5H182.5M210 76.5H212.5M230 76.5H232.5M240 76.5H242.5M55 77.5H57.5M65 77.5H67.5M75 77.5H80M92.5 77.5H95M122.5 77.5H125M132.5 77.5H135M137.5 77.5H140M142.5 77.5H145M177.5 77.5H180M187.5 77.5H190M202.5 77.5H205M117.5 78.5H122.5M142.5 78.5H145M167.5 78.5H172.5M220 78.5H222.5M135 79.5H137.5M140 79.5H145M190 79.5H195M237.5 79.5H240M0 80.5H5M120 80.5H122.5M127.5 80.5H130M145 80.5H147.5M212.5 81.5H217.5M227.5 81.5H230M232.5 81.5H235M240 81.5H247.5M262.5 81.5H265M160 82.5H162.5M175 82.5H177.5M185 82.5H192.5M217.5 82.5H220M330 82.5H335M130 83.5H132.5M135 83.5H137.5M140 83.5H142.5M152.5 83.5H157.5M177.5 83.5H180M190 83.5H192.5M247.5 83.5H250M347.5 83.5H350M110 84.5H112.5M190 84.5H192.5M202.5 84.5H205M305 84.5H307.5M312.5 84.5H320M125 86.5H127.5M130 86.5H132.5M227.5 86.5H230M337.5 86.5H340M142.5 87.5H147.5M152.5 87.5H155M210 87.5H212.5M247.5 87.5H250M125 88.5H127.5M135 88.5H137.5M140 88.5H142.5M115 89.5H120M142.5 90.5H145M172.5 90.5H175M200 90.5H205M232.5 90.5H235M245 90.5H247.5M300 90.5H302.5M125 91.5H127.5M137.5 91.5H142.5M262.5 91.5H265M305 91.5H307.5M340 91.5H342.5M115 92.5H117.5M140 92.5H142.5M167.5 92.5H170M182.5 92.5H185M240 92.5H242.5M322.5 92.5H325M340 92.5H342.5M132.5 93.5H135M137.5 93.5H140M142.5 93.5H145M155 93.5H157.5M170 93.5H172.5M232.5 93.5H237.5M322.5 93.5H325M7.5 94.5H12.5M115 94.5H117.5M125 94.5H127.5M130 94.5H135M150 94.5H152.5M157.5 94.5H160M185 94.5H187.5M27.5 95.5H30M40 95.5H45M65 95.5H67.5M115 95.5H117.5M120 95.5H122.5M127.5 95.5H130M155 95.5H157.5M180 95.5H182.5M282.5 95.5H287.5M330 95.5H332.5M337.5 95.5H345M37.5 96.5H40M140 96.5H142.5M162.5 96.5H165M85 97.5H87.5M127.5 97.5H130M145 97.5H152.5M180 97.5H182.5M275 97.5H280M287.5 97.5H290M130 98.5H132.5M135 98.5H137.5M142.5 98.5H145M200 98.5H205M215 98.5H217.5M305 98.5H307.5M350 98.5H354.8M65 99.5H67.5M122.5 99.5H125M267.5 99.5H272.5M332.5 99.5H335M345 99.5H347.5M125 100.5H127.5M132.5 100.5H135M142.5 100.5H145M152.5 100.5H155M17.5 101.5H20M137.5 101.5H140M145 101.5H147.5M160 101.5H162.5M177.5 101.5H180M247.5 101.5H250M2.5 102.5H5M15 102.5H17.5M100 102.5H102.5M117.5 102.5H120M137.5 102.5H142.5M195 102.5H197.5M27.5 103.5H30M130 103.5H132.5M172.5 103.5H175M30 104.5H32.5M35 104.5H37.5M52.5 104.5H55M115 104.5H120M142.5 104.5H145M147.5 104.5H150M152.5 104.5H155M187.5 104.5H190M200 104.5H202.5M262.5 104.5H265M25 105.5H27.5M90 105.5H92.5M95 105.5H97.5M102.5 105.5H105M5 106.5H10M15 106.5H17.5M22.5 106.5H25M35 106.5H37.5M55 106.5H57.5M60 106.5H62.5M65 106.5H70M120 106.5H122.5M125 106.5H127.5M135 106.5H137.5M140 106.5H142.5M180 106.5H182.5M217.5 106.5H220M227.5 106.5H232.5M15 107.5H17.5M82.5 107.5H85M100 107.5H102.5" stroke="#b00400" stroke-width="1.04"/>
<path d="M35 0.5H37.5M55 0.5H57.5M72.5 0.5H75M82.5 0.5H85M90 0.5H95M105 0.5H107.5M112.5 0.5H115M150 0.5H152.5M25 1.5H27.5M85 1.5H87.5M125 1.5H127.5M167.5 1.5H172.5M227.5 1.5H230M232.5 1.5H235M247.5 1.5H250M270 1.5H272.5M185 2.5H187.5M240 2.5H242.5M100 3.5H105M130 3.5H132.5M262.5 3.5H265M190 4.5H192.5M262.5 4.5H265M42.5 5.5H45M47.5 5.5H50M72.5 5.5H75M90 5.5H95M177.5 5.5H180M270 6.5H272.5M277.5 6.5H282.5M52.5 7.5H57.5M62.5 7.5H65M77.5 7.5H80M112.5 7.5H115M120 7.5H122.5M165 7.5H167.5M170 7.5H172.5M175 7.5H177.5M185 7.5H187.5M190 7.5H192.5M202.5 7.5H205M252.5 7.5H255M257.5 7.5H260M272.5 7.5H275M82.5 8.5H85M87.5 8.5H90M97.5 8.5H100M242.5 8.5H245M275 8.5H277.5M42.5 9.5H45M55 9.5H57.5M67.5 9.5H72.5M97.5 9.5H100M107.5 9.5H110M250 9.5H252.5M317.5 9.5H320M325 9.5H327.5M55 11.5H57.5M95 11.5H97.5M172.5 12.5H175M185 12.5H187.5M197.5 12.5H200M222.5 12.5H227.5M32.5 14.5H35M57.5 14.5H62.5M82.5 14.5H85M90 14.5H92.5M155 14.5H157.5M182.5 14.5H185M187.5 14.5H190M192.5 14.5H195M27.5 15.5H32.5M52.5 15.5H55M70 15.5H75M112.5 15.5H115M157.5 15.5H160M165 15.5H167.5M170 15.5H172.5M260 15.5H265M277.5 15.5H280M297.5 15.5H300M5 17.5H10M15 17.5H17.5M22.5 17.5H27.5M42.5 17.5H45M47.5 17.5H50M105 17.5H107.5M110 17.5H112.5M25 18.5H27.5M95 18.5H97.5M0 19.5H2.5M22.5 19.5H25M55 20.5H57.5M0 21.5H5M10 21.5H12.5M22.5 21.5H27.5M42.5 21.5H45M57.5 21.5H60M92.5 21.5H95M247.5 21.5H250M2.5 22.5H10M15 22.5H17.5M32.5 22.5H35M45 22.5H47.5M52.5 22.5H55M60 22.5H62.5M75 22.5H77.5M80 22.5H82.5M85 22.5H87.5M97.5 22.5H100M105 22.5H107.5M200 22.5H202.5M222.5 22.5H225M330 22.5H332.5M37.5 23.5H40M0 24.5H2.5M10 24.5H15M150 24.5H152.5M7.5 25.5H10M15 25.5H17.5M72.5 25.5H75M257.5 25.5H260M0 26.5H2.5M7.5 26.5H10M25 26.5H27.5M70 26.5H72.5M27.5 27.5H30M42.5 27.5H45M52.5 27.5H57.5M65 27.5H67.5M70 27.5H72.5M92.5 27.5H100M107.5 27.5H110M112.5 27.5H115M195 27.5H197.5M230 27.5H232.5M235 27.5H237.5M327.5 27.5H330M332.5 27.5H335M337.5 27.5H340M347.5 27.5H352.5M55 28.5H57.5M62.5 28.5H70M72.5 28.5H75M77.5 28.5H80M97.5 28.5H100M102.5 28.5H107.5M305 28.5H317.5M320 28.5H325M300 29.5H302.5M317.5 29.5H320M322.5 29.5H332.5M310 30.5H315M325 30.5H327.5M332.5 30.5H335M337.5 30.5H345M215 31.5H222.5M240 31.5H245M247.5 31.5H250M52.5 32.5H57.5M85 32.5H87.5M120 32.5H122.5M165 32.5H167.5M232.5 32.5H235M252.5 32.5H255M272.5 32.5H275M155 33.5H160M172.5 33.5H177.5M185 33.5H187.5M207.5 33.5H212.5M237.5 33.5H240M247.5 33.5H250M262.5 33.5H265M280 33.5H282.5M285 33.5H290M165 34.5H167.5M185 34.5H187.5M195 34.5H200M202.5 34.5H205M297.5 34.5H300M45 35.5H47.5M235 36.5H237.5M260 37.5H262.5M295 37.5H297.5M345 37.5H347.5M122.5 38.5H125M215 38.5H220M222.5 38.5H227.5M252.5 38.5H257.5M265 38.5H267.5M342.5 38.5H345M70 39.5H72.5M155 39.5H160M197.5 40.5H200M235 40.5H237.5M37.5 41.5H40M120 41.5H122.5M127.5 41.5H132.5M197.5 41.5H200M212.5 41.5H215M257.5 41.5H260M262.5 41.5H265M222.5 42.5H230M237.5 42.5H242.5M202.5 43.5H205M215 43.5H217.5M230 43.5H232.5M235 43.5H237.5M250 43.5H252.5M260 43.5H262.5M265 43.5H267.5M287.5 43.5H290M295 43.5H297.5M40 44.5H42.5M210 44.5H212.5M217.5 44.5H225M252.5 44.5H255M275 44.5H277.5M290 44.5H292.5M322.5 44.5H327.5M127.5 45.5H130M225 45.5H235M245 45.5H247.5M247.5 46.5H250M265 46.5H267.5M295 46.5H300M130 47.5H132.5M197.5 47.5H200M227.5 47.5H230M285 47.5H287.5M290 47.5H292.5M122.5 48.5H127.5M130 48.5H135M137.5 48.5H140M142.5 48.5H147.5M212.5 48.5H215M232.5 48.5H235M237.5 48.5H240M245 48.5H250M117.5 49.5H127.5M130 49.5H135M137.5 49.5H145M240 49.5H242.5M117.5 50.5H122.5M140 50.5H147.5M115 51.5H117.5M120 51.5H122.5M130 51.5H135M137.5 51.5H140M200 51.5H202.5M222.5 51.5H225M117.5 52.5H120M125 52.5H127.5M132.5 52.5H135M137.5 52.5H142.5M145 52.5H147.5M330 52.5H332.5M125 53.5H132.5M137.5 53.5H147.5M117.5 54.5H125M132.5 54.5H140M142.5 54.5H147.5M117.5 55.5H120M127.5 55.5H130M137.5 55.5H142.5M2.5 56.5H7.5M17.5 56.5H20M117.5 56.5H120M122.5 56.5H125M132.5 56.5H135M140 56.5H142.5M122.5 57.5H127.5M130 57.5H132.5M135 57.5H142.5M145 57.5H147.5M182.5 57.5H185M122.5 58.5H127.5M135 58.5H147.5M150 58.5H152.5M157.5 58.5H162.5M195 58.5H197.5M117.5 59.5H130M182.5 59.5H187.5M190 59.5H192.5M125 60.5H127.5M135 60.5H137.5M140 60.5H142.5M162.5 60.5H167.5M175 60.5H177.5M240 60.5H242.5M247.5 60.5H250M120 61.5H127.5M130 61.5H132.5M182.5 61.5H185M187.5 61.5H190M10 62.5H12.5M115 62.5H117.5M120 62.5H127.5M132.5 62.5H145M167.5 62.5H170M187.5 62.5H190M192.5 62.5H195M2.5 63.5H5M7.5 63.5H10M115 63.5H117.5M120 63.5H125M135 63.5H137.5M160 63.5H162.5M165 63.5H167.5M175 63.5H177.5M47.5 64.5H50M55 64.5H57.5M65 64.5H67.5M117.5 64.5H127.5M142.5 64.5H147.5M15 65.5H17.5M22.5 65.5H25M82.5 65.5H90M97.5 65.5H100M120 65.5H122.5M125 65.5H127.5M155 65.5H157.5M160 65.5H162.5M115 66.5H120M122.5 66.5H125M137.5 66.5H142.5M160 66.5H162.5M175 66.5H177.5M10 67.5H15M75 67.5H77.5M80 67.5H85M95 67.5H97.5M120 67.5H122.5M127.5 67.5H132.5M142.5 67.5H147.5M162.5 67.5H165M167.5 67.5H170M172.5 67.5H175M210 67.5H217.5M227.5 67.5H232.5M77.5 68.5H80M97.5 68.5H100M135 68.5H142.5M145 68.5H147.5M162.5 68.5H165M0 69.5H2.5M12.5 69.5H15M122.5 69.5H125M172.5 69.5H175M117.5 70.5H120M155 70.5H157.5M160 70.5H162.5M182.5 70.5H185M187.5 70.5H190M132.5 71.5H135M142.5 71.5H145M152.5 71.5H155M175 71.5H177.5M180 71.5H182.5M202.5 71.5H205M75 72.5H77.5M147.5 72.5H152.5M247.5 72.5H250M52.5 73.5H55M130 73.5H132.5M135 73.5H140M170 73.5H172.5M247.5 73.5H250M2.5 74.5H5M90 74.5H92.5M97.5 74.5H100M132.5 74.5H137.5M142.5 74.5H145M152.5 74.5H155M187.5 74.5H192.5M195 74.5H197.5M212.5 74.5H215M247.5 74.5H250M115 75.5H117.5M150 75.5H152.5M230 75.5H232.5M120 76.5H125M127.5 76.5H130M72.5 77.5H75M125 77.5H127.5M130 77.5H132.5M180 77.5H182.5M145 78.5H147.5M200 78.5H202.5M137.5 79.5H140M145 79.5H147.5M125 80.5H127.5M115 81.5H117.5M120 81.5H122.5M125 81.5H127.5M220 81.5H225M152.5 82.5H160M172.5 82.5H175M182.5 82.5H185M120 83.5H122.5M137.5 83.5H140M142.5 83.5H150M185 83.5H187.5M192.5 83.5H195M340 83.5H342.5M345 83.5H347.5M117.5 84.5H120M125 84.5H127.5M130 84.5H132.5M270 84.5H272.5M310 84.5H312.5M140 85.5H142.5M115 86.5H117.5M222.5 86.5H225M135 87.5H142.5M150 87.5H152.5M177.5 87.5H180M170 88.5H172.5M130 89.5H132.5M240 89.5H242.5M75 90.5H77.5M145 90.5H147.5M227.5 90.5H230M247.5 90.5H250M115 91.5H117.5M135 91.5H137.5M142.5 91.5H145M117.5 92.5H120M125 92.5H130M135 92.5H140M142.5 92.5H145M150 92.5H152.5M120 93.5H122.5M150 93.5H152.5M157.5 93.5H165M327.5 93.5H332.5M345 93.5H347.5M352.5 93.5H354.8M120 94.5H122.5M160 94.5H162.5M167.5 94.5H172.5M37.5 95.5H40M45 95.5H47.5M287.5 95.5H292.5M132.5 97.5H135M140 97.5H142.5M182.5 97.5H187.5M192.5 97.5H197.5M280 97.5H282.5M300 97.5H302.5M310 97.5H315M32.5 98.5H35M140 98.5H142.5M217.5 98.5H222.5M347.5 98.5H350M117.5 99.5H120M125 99.5H130M330 99.5H332.5M347.5 99.5H350M20 101.5H22.5M172.5 101.5H175M347.5 101.5H350M10 102.5H12.5M147.5 102.5H150M157.5 102.5H160M190 102.5H192.5M345 103.5H347.5M32.5 104.5H35M95 104.5H97.5M120 104.5H122.5M145 104.5H147.5M157.5 104.5H160M162.5 104.5H165M177.5 104.5H185M195 104.5H197.5M285 104.5H287.5M52.5 105.5H55M97.5 105.5H100M17.5 106.5H20M25 106.5H27.5M110 106.5H120M172.5 106.5H175M185 106.5H187.5M17.5 107.5H20M102.5 107.5H105M340 107.5H342.5" stroke="#d70100" stroke-width="1.04"/>
<path d="M32.5 0.5H35M52.5 0.5H55M60 0.5H62.5M75 0.5H82.5M85 0.5H87.5M95 0.5H100M107.5 0.5H112.5M87.5 1.5H92.5M172.5 1.5H175M250 2.5H252.5M257.5 3.5H262.5M200 4.5H202.5M260 4.5H262.5M270 4.5H272.5M45 5.5H47.5M77.5 5.5H90M172.5 5.5H175M75 7.5H77.5M125 7.5H127.5M172.5 7.5H175M187.5 7.5H190M200 7.5H202.5M260 7.5H265M267.5 7.5H272.5M292.5 7.5H300M345 7.5H347.5M45 8.5H47.5M52.5 8.5H55M85 8.5H87.5M45 9.5H47.5M100 9.5H102.5M107.5 11.5H110M190 12.5H197.5M200 12.5H205M42.5 14.5H47.5M52.5 14.5H57.5M85 14.5H87.5M92.5 14.5H100M157.5 14.5H160M177.5 14.5H182.5M190 14.5H192.5M195 14.5H197.5M32.5 15.5H40M62.5 15.5H70M75 15.5H77.5M95 15.5H102.5M160 15.5H162.5M257.5 15.5H260M220 16.5H222.5M10 17.5H12.5M40 17.5H42.5M45 17.5H47.5M72.5 17.5H77.5M102.5 17.5H105M107.5 17.5H110M112.5 17.5H115M17.5 19.5H22.5M25 19.5H27.5M257.5 20.5H260M5 21.5H10M12.5 21.5H22.5M50 21.5H52.5M55 21.5H57.5M60 21.5H62.5M0 22.5H2.5M10 22.5H15M17.5 22.5H27.5M37.5 22.5H42.5M55 22.5H57.5M107.5 22.5H115M2.5 24.5H10M20 24.5H27.5M0 25.5H2.5M10 25.5H12.5M17.5 25.5H20M80 25.5H82.5M2.5 26.5H5M10 26.5H25M30 27.5H32.5M35 27.5H37.5M47.5 27.5H50M60 27.5H62.5M67.5 27.5H70M80 27.5H82.5M100 27.5H107.5M110 27.5H112.5M200 27.5H205M300 27.5H327.5M335 27.5H337.5M340 27.5H347.5M352.5 27.5H354.8M10 28.5H12.5M60 28.5H62.5M70 28.5H72.5M75 28.5H77.5M85 28.5H90M107.5 28.5H110M112.5 28.5H115M150 28.5H152.5M300 28.5H305M325 28.5H354.8M302.5 29.5H317.5M320 29.5H322.5M332.5 29.5H354.8M300 30.5H310M315 30.5H325M327.5 30.5H332.5M335 30.5H337.5M345 30.5H354.8M115 31.5H132.5M200 31.5H202.5M205 31.5H210M202.5 32.5H205M270 32.5H272.5M177.5 33.5H180M190 33.5H192.5M202.5 33.5H205M220 33.5H222.5M240 33.5H242.5M250 33.5H252.5M267.5 33.5H280M282.5 33.5H285M200 34.5H202.5M220 34.5H222.5M267.5 34.5H270M37.5 35.5H40M107.5 35.5H110M95 37.5H102.5M297.5 37.5H300M347.5 37.5H350M120 38.5H122.5M200 38.5H202.5M220 38.5H222.5M250 38.5H252.5M257.5 38.5H265M290 38.5H292.5M340 38.5H342.5M200 40.5H202.5M232.5 40.5H235M32.5 41.5H35M252.5 41.5H255M260 41.5H262.5M285 41.5H287.5M220 42.5H222.5M235 42.5H237.5M247.5 42.5H250M290 42.5H292.5M220 43.5H230M232.5 43.5H235M240 43.5H242.5M247.5 43.5H250M290 43.5H292.5M72.5 44.5H77.5M200 44.5H205M207.5 44.5H210M212.5 44.5H217.5M227.5 44.5H230M235 44.5H242.5M277.5 44.5H280M287.5 44.5H290M297.5 44.5H300M120 45.5H127.5M130 45.5H132.5M200 45.5H202.5M222.5 45.5H225M247.5 45.5H250M222.5 46.5H230M115 48.5H122.5M135 48.5H137.5M225 48.5H227.5M240 48.5H245M135 49.5H137.5M145 49.5H147.5M242.5 49.5H245M115 50.5H117.5M122.5 50.5H140M117.5 51.5H120M135 51.5H137.5M140 51.5H147.5M202.5 51.5H205M227.5 51.5H230M232.5 51.5H245M115 52.5H117.5M127.5 52.5H132.5M115 53.5H125M132.5 53.5H137.5M115 54.5H117.5M140 54.5H142.5M25 55.5H27.5M115 55.5H117.5M120 55.5H127.5M142.5 55.5H147.5M120 56.5H122.5M125 56.5H127.5M135 56.5H140M142.5 56.5H147.5M115 57.5H122.5M127.5 57.5H130M62.5 58.5H65M115 58.5H122.5M127.5 58.5H135M162.5 58.5H185M347.5 58.5H350M115 59.5H117.5M130 59.5H147.5M17.5 60.5H22.5M115 60.5H125M127.5 60.5H135M137.5 60.5H140M142.5 60.5H147.5M160 60.5H162.5M172.5 60.5H175M115 61.5H120M132.5 61.5H147.5M145 62.5H147.5M182.5 62.5H187.5M190 62.5H192.5M195 62.5H197.5M5 63.5H7.5M17.5 63.5H20M25 63.5H27.5M125 63.5H130M0 64.5H12.5M15 64.5H27.5M45 64.5H47.5M60 64.5H62.5M127.5 64.5H142.5M170 64.5H177.5M0 65.5H5M7.5 65.5H15M17.5 65.5H20M25 65.5H27.5M32.5 65.5H35M77.5 65.5H82.5M102.5 65.5H105M107.5 65.5H120M127.5 65.5H155M157.5 65.5H160M180 65.5H197.5M232.5 65.5H235M0 66.5H10M15 66.5H27.5M65 66.5H67.5M130 66.5H135M142.5 66.5H155M165 66.5H170M172.5 66.5H175M182.5 66.5H197.5M2.5 67.5H7.5M25 67.5H27.5M60 67.5H62.5M92.5 67.5H95M100 67.5H102.5M122.5 67.5H127.5M132.5 67.5H142.5M165 67.5H167.5M115 68.5H120M122.5 68.5H135M142.5 68.5H145M172.5 68.5H187.5M5 69.5H7.5M10 69.5H12.5M15 69.5H27.5M115 69.5H122.5M125 69.5H147.5M115 70.5H117.5M120 70.5H127.5M135 70.5H147.5M157.5 70.5H160M162.5 70.5H165M135 71.5H142.5M145 71.5H147.5M150 71.5H152.5M157.5 71.5H160M162.5 71.5H175M182.5 71.5H197.5M115 72.5H127.5M130 72.5H147.5M155 72.5H160M132.5 73.5H135M142.5 73.5H145M165 73.5H170M45 74.5H47.5M92.5 74.5H95M137.5 74.5H140M145 74.5H147.5M160 74.5H162.5M165 74.5H172.5M177.5 74.5H187.5M30 76.5H35M125 76.5H127.5M130 76.5H132.5M232.5 76.5H235M182.5 77.5H187.5M132.5 79.5H135M240 79.5H242.5M130 80.5H145M200 81.5H202.5M225 81.5H227.5M150 82.5H152.5M162.5 82.5H167.5M170 82.5H172.5M132.5 83.5H135M150 83.5H152.5M200 83.5H205M220 83.5H222.5M342.5 83.5H345M112.5 84.5H117.5M120 84.5H125M127.5 84.5H130M132.5 84.5H147.5M272.5 84.5H275M307.5 84.5H310M117.5 86.5H125M132.5 86.5H145M225 86.5H227.5M132.5 87.5H135M207.5 87.5H210M120 88.5H125M132.5 88.5H135M142.5 88.5H147.5M172.5 88.5H175M222.5 90.5H227.5M235 90.5H242.5M132.5 91.5H135M145 91.5H147.5M342.5 91.5H345M120 92.5H125M130 92.5H135M145 92.5H147.5M140 93.5H142.5M165 93.5H170M325 93.5H327.5M347.5 93.5H352.5M162.5 94.5H167.5M32.5 95.5H37.5M122.5 95.5H127.5M130 95.5H155M157.5 95.5H180M182.5 95.5H197.5M345 95.5H350M115 97.5H127.5M130 97.5H132.5M142.5 97.5H145M187.5 97.5H192.5M132.5 98.5H135M115 99.5H117.5M130 99.5H147.5M175 101.5H177.5M305 101.5H307.5M115 102.5H117.5M120 102.5H125M142.5 102.5H145M150 102.5H157.5M122.5 103.5H127.5M97.5 104.5H100M150 104.5H152.5M165 104.5H167.5M185 104.5H187.5M190 104.5H192.5M347.5 104.5H350M100 105.5H102.5M20 106.5H22.5M32.5 106.5H35M47.5 106.5H50M122.5 106.5H125M220 106.5H222.5M120 107.5H122.5" stroke="#ff0000" stroke-width="1.04"/>
</g>
<rect x="45.8" y="670.2" width="354.8" height="1.5" fill="#fff"/>
</svg>
</body></html>
